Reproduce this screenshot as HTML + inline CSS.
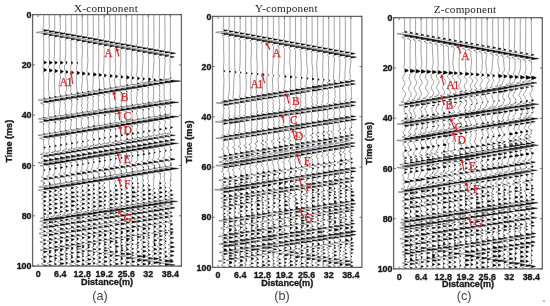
<!DOCTYPE html>
<html><head><meta charset="utf-8"><title>Seismic components</title><style>
html,body{margin:0;padding:0;background:#fff;}
svg{display:block;}

.ln{fill:none;stroke:#222;stroke-width:.42;}
.fl{fill:#000;stroke:none;}
.bx{fill:none;stroke:#666;stroke-width:1.3;}
.tk{fill:none;stroke:#555;stroke-width:.8;}
.tl{font-family:"Liberation Sans",sans-serif;font-weight:bold;font-size:8.9px;fill:#1a1a1a;stroke:#1a1a1a;stroke-width:.35;}
.al{font-family:"Liberation Sans",sans-serif;font-weight:bold;font-size:9.1px;fill:#1a1a1a;stroke:#1a1a1a;stroke-width:.35;}
.ti{font-family:"Liberation Serif",serif;font-size:11.2px;letter-spacing:.22px;fill:#222;}
.pl{font-family:"Liberation Sans",sans-serif;font-size:12.6px;fill:#444;}
.an{font-family:"Liberation Serif",serif;font-size:11.5px;fill:#d8282c;stroke:#d8282c;stroke-width:.25;}
.ar{fill:none;stroke:#d8282c;stroke-width:1.15;}
</style></head>
<body><svg width="550" height="306" viewBox="0 0 550 306">
<rect width="550" height="306" fill="#fff"/>
<rect x="543.3" y="300.4" width="1.3" height="1.3" fill="#666"/>
<defs><clipPath id="ca"><rect x="32.6" y="14.6" width="148.8" height="251.5"/></clipPath></defs>
<g clip-path="url(#ca)" class="tr"><path class="fl" d="M43.6 29.5l4.6 .8 .6 .2 0 .2-5.2 .8zM43.6 33.3l3 .4 1 .4-4 1.2zM43.6 60.7l2.6 1.2 .5 .6-.5 .6-2.6 1.2zM43.6 68.1l2.7 1.4 .4 .6-.7 .6-2.4 1.2zM43.6 97.5l.7 .2 .8 .8-1.5 .6zM43.6 100.7l6.4 .6 1.2 .2 .1 .2-7.7 .8zM43.6 104.3l.5 .4-.5 .4zM43.6 116.8l.7 .2 .3 .4-1 .6zM43.6 119.6l8.1 .8-1.8 .4-6.3 .6zM43.6 123.2l.5 .5-.5 1zM43.6 132.9l1.1 .8-1.1 .6zM43.6 135.9l7.8 .8 0 .2-1.2 .2-6.6 .6zM43.6 139.3l.6 .6-.6 .9zM43.6 146.6l1.2 .4 .7 .6-.6 .6-1.3 .4zM43.6 152.4l.7 .2 0 .2-.7 .4zM43.6 155l5.7 .8 0 .2-.8 .2-4.9 .6zM43.6 159.5l4.2 .8 .5 .2 0 .2-4.7 1zM43.6 163.3l5.7 .6 1.9 .4-7.6 1zM43.6 166.9l.3 .4-.3 .4zM43.6 169.1l1.4 .6 .4 .4-1.8 1.2zM43.6 177.8l3 .6 .9 .4-.8 .4-3.1 .6zM43.6 182l.7 .6 .2 .6-.2 .6-.7 .6zM43.6 187.6l7.5 .6 1.6 .4-8.8 .8-.3 .2zM43.6 191.3l2.5 .6 .7 .4-.7 .6-2.5 .6zM43.6 195.7l2.7 .8 .3 .4-.7 .4-2.3 .6zM43.6 200.1l2.6 1-.3 .4-2.3 .8zM43.6 204.5l1.5 .4 .9 .6-.8 .6-1.6 .4zM43.6 208.8l1.6 .4 .9 .6-.7 .6-1.8 .4zM43.6 213l1.9 .4 .8 .6-.8 .6-1.9 .4zM43.6 216.4l1.1 .2 .3 .4-1.4 .4zM43.6 218.8l6.8 .6 2 .4-8.8 .8zM43.6 222l2.6 .4 .5 .4-3.1 1zM43.6 226.1l3.6 .6 1 .4-4.6 1zM43.6 230.3l1.9 1-.3 .4-1.6 .6zM43.6 234.5l3.8 .8-.6 .4-3 .6-.2 .2zM43.6 239.1l2 .6 .5 .4-.7 .4-1.8 .5zM43.6 242.8l2.2 .6 .5 .4-2.7 1.4zM43.6 247.4l2.4 .8 .4 .4-2.8 .8zM43.6 250.8l3.7 .8 0 .2-2.7 1-1 .8zM43.6 255.8l3.1 1.2-3.1 1.1zM43.6 259.5l1.4 .6 0 .6 1.1 1-.5 .4-2 .6zM43.6 264.7l3.4 .8 .6 .4-4 .2zM49.1 30.5l5.2 1 0 .2-.8 .2-4.4 .6zM49.1 34.3l3.1 .4 .9 .4-4 1.2zM49.1 60.7l2.6 1.2 .7 .6-.2 .4-.5 .4-2.6 1.2zM49.1 68.7l2.5 1 .9 .8-.9 .8-2.5 1zM49.1 96.5l1.5 1-.4 .4-1.1 .4zM49.1 99.9l7.8 .8-1.9 .4-5.9 .6zM49.1 103.3l.6 .4-.6 .4zM49.1 116l.5 .6-.5 .4zM49.1 118.8l7.9 .8-1.7 .4-6.2 .6zM49.1 122.4l.4 .4-.4 1.1zM49.1 132.1l1.1 .8-1.1 .6zM49.1 135.1l7.9 .8-7.9 1zM49.1 138.5l.4 .6-.4 .6zM49.1 145.6l1.6 1.2-1.6 1zM49.1 151.4l.5 .4-.5 .4zM49.1 154l5.8 1-1.5 .4-4.3 .6zM49.1 158.5l4.8 1.2-.9 .4-3.9 .8zM49.1 162.5l7.6 .8-1.5 .4-6.1 .6zM49.1 165.9l.6 .4-.6 .4zM49.1 168.1l1.9 1-.2 .4-1.7 1zM49.1 174l.3 .4-.3 .4zM49.1 177l3.9 1-.6 .4-3.3 .8zM49.1 182.4l.6 .2 .4 .4 .4 1.4-.5 .4-.9 .2zM49.1 186.8l8 .6 1.3 .2 .1 .2-9.4 1zM49.1 190.4l1.9 .7 .5 .6-.7 .6-1.7 .4zM49.1 194.9l1.7 .4 .7 .6-.7 .6-1.7 .4zM49.1 199.1l1.6 .4 .8 .6-.7 .6-1.7 .4zM49.1 203.3l2 .6 .6 .4-.3 .4-2.3 .8zM49.1 207.6l2.2 .8 .5 .4-.5 .4-2.2 .8zM49.1 212l2.4 .8 .5 .4-.6 .4-2.3 .6zM49.1 218l7 .6 1.6 .4-8.6 .8zM49.1 221.2l3 .4 1.1 .4-.6 .4-3.5 .8zM49.1 225.3l5.6 1-.9 .4-4.7 .8zM49.1 229.7l2.3 .6 .6 .6-2.9 1zM49.1 233.7l3.8 .6 .5 .2 0 .2-4.3 1.2zM49.1 238.1l2.8 .8 .4 .4-.8 .4-2.4 .4zM49.1 241.8l2 .4 .4 .2 .1 .4-2.5 1.8zM49.1 246.8l3 1-.7 .4-2.2 .4-.1 .2zM49.1 250l2.5 .8-1.3 1 .7 1-1.9 .8zM49.1 255.4l2.5 .6 .8 .4-.4 .4-2.9 .8zM49.1 260.3l2.4 .6 .8 .6-3.2 1zM49.1 264.5l2.4 .6 .6 .6-.2 .2-2.8 .2zM54.6 31.5l5.2 1-.9 .4-4.3 .6zM54.6 35.3l3.2 .4 .8 .4-4 1.2zM54.6 60.9l2.4 1.2 .4 .6-.6 .6-2.2 1.2zM54.6 69.1l2.5 1.2 .7 .6-.4 .6-2.8 1.4zM54.6 95.7l.8 .2 .8 .8-.6 .4-1 .2zM54.6 98.9l6 .6 1.2 .2 .2 .2-7.4 .8zM54.6 115.2l.9 .2 .5 .4-.5 .4-.9 .2zM54.6 118l8.7 .8-.1 .2-1.3 .2-7.3 .6zM54.6 121.6l1.2 .2 .1 .4-.3 .6-1 .2zM54.6 131.3l.8 .4 .3 .4-1.1 .4zM54.6 134.1l6 .6 1.9 .4-7.7 .8-.2 .2zM54.6 137.7l.5 .6-.5 .6zM54.6 144.8l1.8 1-.1 .4-1.7 .8zM54.6 150.4l.8 .2 .1 .4-.9 .4zM54.6 153.2l5 .6 .9 .2 .1 .2-6 .8zM54.6 157.7l4.3 .8 .6 .4-4.9 1zM54.6 161.5l6.2 .6 1.7 .4-7.9 1zM54.6 165.1l1 .2 0 .2-1 .4zM54.6 167.3l1.5 .4 .8 .6-1.4 1-.9 .2zM54.6 176l3 .8 .4 .4-3.4 1zM54.6 183.4l.3 .4-.3 .4zM54.6 186l7.7 .8-7.7 1zM54.6 189.4l1.7 .6 .4 .4-.3 .5-1.8 .8zM54.6 193.9l2.2 .6 .7 .4-.3 .4-2.6 .8zM54.6 198.3l2.4 .6 .6 .4-.3 .4-2.7 .8zM54.6 202.7l2.4 .6 .6 .4-.3 .4-2.7 .8zM54.6 207.1l1.9 .5 1.2 .6-.9 .6-2.2 .6zM54.6 211.4l2.1 .6 .8 .6-1 .6-1.9 .4zM54.6 217.2l7.2 .6 2.2 .4-9.4 1zM54.6 220.4l2.6 .8-.5 .4-2.1 .8zM54.6 224.5l3.3 .6 .8 .4-4.1 1zM54.6 228.7l1.3 .6 .3 .4-1.6 1zM54.6 232.7l3 .6 .8 .4-3.8 1zM54.6 237.3l2.4 1-.5 .4-1.9 .6zM54.6 241l2.2 .6 1 .6-.8 .6-2.4 .8zM54.6 245.8l3 .8 .3 .4-3.3 .8zM54.6 249l3.8 .8 0 .2-2.8 1 .2 1.2-1.2 .4zM54.6 254.4l1.4 .4 .8 .6-.4 .4-1.8 .4zM54.6 257.4l1.9 .5 .6 .4-1.8 1 0 .4 .4 .8-1.1 .6zM54.6 262.7l1.6 1 .3 .4-.3 .4-1.6 .8zM60.2 32.5l5.2 1-1.1 .4-4.1 .6zM60.2 36.3l3.2 .4 .7 .4-3.9 1zM60.2 60.9l2.4 1.2 .5 .6-.5 .6-2.4 1.2zM60.2 69.7l2.6 1.2 .6 .6-.9 .8-2.3 1.1zM60.2 94.9l.9 .6 .3 .4-1.2 .6zM60.2 98.1l7.5 .8-1.7 .4-5.8 .6zM60.2 101.5l.5 .4-.1 .4-.4 .2zM60.2 114.6l.4 .4-.4 .4zM60.2 117.2l7.8 .8 0 .2-1.1 .2-6.7 .6zM60.2 120.8l.5 .2 .2 .4-.3 .6-.4 .2zM60.2 130.5l.9 .6-.9 .6zM60.2 133.3l7.9 .8 0 .2-1.2 .2-6.7 .6zM60.2 136.9l1 .4-.4 .8-.6 .2zM60.2 143.8l1.3 .6 .6 .6-.8 .6-1.1 .4zM60.2 149.4l.5 .6-.5 .4zM60.2 152.4l5.8 .8-1.3 .4-4.5 .6zM60.2 156.6l5 1.3-.8 .4-4.2 .8zM60.2 160.7l8 .8-1.6 .4-6.4 .6zM60.2 164.1l1.2 .4-.2 .4-1 .2zM60.2 166.5l1.3 .2 .9 .4 .3 .4-1.5 1-1 .2zM60.2 175.2l4.3 1-.5 .4-3.8 .8zM60.2 179.6l.3 .2 .2 .6-.5 1.4zM60.2 185l6.8 .6 1.9 .4-8.4 .8-.3 .2zM60.2 188.8l1.8 1-.2 .4-1.6 .9zM60.2 193.5l1.8 .6 .2 .4-2 1zM60.2 197.7l1.9 .6 .5 .4-.3 .4-2.1 .8zM60.2 201.9l1.8 .4 1 .6-.3 .4-.9 .4-1.6 .2zM60.2 206.1l1.7 .4 .8 .6-.7 .7-1.8 .4zM60.2 210.4l1.8 .6 .5 .4-.3 .4-2 .8zM60.2 214l.9 .6-.9 .4zM60.2 216.4l7.6 1-7.6 .8zM60.2 219.4l0 .2 2.4 .4 .5 .4-2.9 .8 0 .2zM60.2 223.4l4.7 .9 .6 .2 0 .2-5.3 1zM60.2 227.7l2.8 .8 .6 .4-.9 .6-2.5 .6zM60.2 231.9l3.9 .6 1.1 .4-.9 .4-4.1 .8zM60.2 236.5l3.3 1-.4 .4-2.9 .6zM60.2 240.1l2 .6 .7 .5-2.2 2-.5 .2zM60.2 245.4l3.5 .8-.7 .4-2.8 .4zM60.2 248.4l2.7 .4 .6 .4-1.4 .8-.3 1-.2 .2-1.4 .4zM60.2 253.6l3.5 1-.6 .4-2.9 .6zM60.2 257l.6 .4-.1 .9 2.1 .8 .5 .4-3.1 1zM60.2 262.5l3.5 .8 .5 .4-1.5 .6-2.5 .4zM65.7 33.3l5.2 1.2-1.2 .4-4 .6zM65.7 37.1l3.3 .6 .6 .2 0 .2-3.9 1zM65.7 61.1l1.2 1 .4 .6-.3 .6-1.3 1zM65.7 70.3l2.1 1.2 .4 .6-.7 .6-1.8 1.1zM65.7 93.9l1.1 1-1.1 .6zM65.7 97.1l5.4 .6 1.7 .4-7.1 .8zM65.7 113.6l1.1 .6-.4 .4-.7 .2zM65.7 116.4l6.8 .6 1.3 .2 0 .2-8.1 .8zM65.7 120l.5 .6-.5 1zM65.7 129.5l.8 .8-.8 .6zM65.7 132.5l8 .8-8 1zM65.7 135.9l.6 .6-.6 1zM65.7 143l1.5 .8 .2 .4-1.7 1zM65.7 148.6l.6 .2 .1 .4-.7 .4zM65.7 151.4l4.6 .6 1.1 .4-5.7 1zM65.7 155.8l3.8 .8 .8 .4-4.6 1.1zM65.7 159.7l5.7 .6 1.7 .4-7.1 .8-.3 .2zM65.7 163.3l.6 .4-.6 .4zM65.7 165.5l1.9 1-.5 .6-1.4 .6zM65.7 174.4l3.7 1-.5 .4-3.2 .8zM65.7 180.8l1.2 1.2-1.2 .6zM65.7 184.2l6.5 .6 1.5 .4-7.8 .8-.2 .2zM65.7 188l.7 .4 .3 .6-1 1zM65.7 192.3l1.9 1-.3 .4-1.6 .6zM65.7 196.5l2.1 1-.2 .4-1.9 .8zM65.7 200.7l2.4 1.2-.4 .4-2 .6zM65.7 205.1l2.3 .8 .5 .4-.5 .4-2.3 .6zM65.7 209.6l2.6 .8 .5 .4-.6 .4-2.5 .6zM65.7 215.6l6.3 .6 2 .4-8.3 .8zM65.7 218.8l3 .8-.5 .4-2.5 .8zM65.7 222.8l3.5 .6 1 .4-4.5 1.1zM65.7 227.3l2 1-.2 .4-1.8 .6zM65.7 231.1l2.8 .6 .7 .4-3.5 1.2zM65.7 235.7l1.6 .4 1.1 .6-.3 .4-2.4 .6zM65.7 239.1l2.5 .6 .7 .6-2.3 1.5-.9 .2zM65.7 244l2.5 .6 .7 .4-.7 .4-2.5 .4zM65.7 247.4l2.6 .4 .9 .4-2.8 1-.1 .4 .6 .8-1.2 .8zM65.7 253l1.9 .6 .3 .4-2.2 .8zM65.7 255.6l1.3 .6-.3 .4-1 .4zM65.7 257.9l1.6 .6 .5 .4-2.1 1.2zM65.7 261.9l1.6 .6 .5 .6-2.1 1.4zM71.2 34.3l5.2 1.2-1.3 .4-3.9 .4zM71.2 38.1l3.9 .8-.5 .4-3.4 .9zM71.2 61.1l.5 .2 1.1 1.4-.3 .8-1.3 1zM71.2 70.7l2.2 1.2 .4 .6-.6 .6-2 1.1zM71.2 93.1l1.1 1-1.1 .6zM71.2 96.3l7.5 .8-1.5 .4-6 .6zM71.2 99.7l.8 .2 .2 .4-1 .4zM71.2 112.8l.5 .6-.5 .6zM71.2 115.6l6.2 .6 1.7 .4-7.9 .8zM71.2 119.2l.6 .6-.6 1zM71.2 129.1l.2 .2-.2 .4zM71.2 131.5l.3 .2 6.7 .6 .3 .2-7.3 .8zM71.2 135.3l.2 .4-.2 .4zM71.2 142l1.9 1.2-.6 .6-1.3 .4zM71.2 147.6l.8 .2 .2 .4-.3 .4-.7 .2zM71.2 150.6l6 .8-1.2 .4-4.8 .6zM71.2 155l4.7 1-.8 .4-3.9 .9zM71.2 158.9l7.4 .8-1.7 .4-5.7 .6zM71.2 162.3l.4 .4-.4 .6zM71.2 164.7l1.5 1-1.5 1.2zM71.2 173.3l3.1 .9 .7 .4-.8 .4-3 .6zM71.2 177.6l.6 .2 .3 .4-.4 .6-.5 .2zM71.2 180.6l.7 .2 .4 .4-.1 .2-1 .2zM71.2 183.2l8.5 1-2 .4-6.5 .6zM71.2 186.8l2 .6 .5 .6-.7 .6-1.8 .6zM71.2 191.5l2.1 .4 1.3 .6 0 .2-.8 .4-2.6 .6zM71.2 195.9l2.4 .4 1.3 .6-.9 .6-2.8 .6zM71.2 200.3l1.9 .2 1.4 .4 .5 .4-.9 .6-2.9 .6zM71.2 204.5l2.6 .6 .8 .6-1.1 .6-2.3 .6zM71.2 209l1.6 .4 1 .6-.8 .6-1.8 .6zM71.2 212.6l.6 .2 0 .2-.6 .2zM71.2 214.8l8.6 1-8.6 1zM71.2 218l1.6 .4 .5 .4-2.1 .8zM71.2 221.8l4.4 1-1 .4-3.4 .6zM71.2 225.9l2 .8 .5 .4-.2 .4-2.3 .8zM71.2 230.1l4.8 1-.7 .4-4.1 .8zM71.2 234.5l2.9 1 .4 .4-3.3 1zM71.2 238.5l2.2 .4 .9 .6-1.6 1-1.5 .7zM71.2 243.4l3 .8 .5 .4-.9 .4-2.6 .4zM71.2 247l1.1 .2 .8 .4-.2 1.6-.5 .4-1.2 .4zM71.2 251.8l2.6 1-.4 .4-2.2 .6zM71.2 255l1.3 .6 .1 .4-.4 .6 .8 1-.9 .7-.9 .2zM71.2 260.5l2.6 .8 .6 .4-.5 .4-2.7 .8zM71.2 264.9l3.6 1-3.6 .2zM76.7 35.3l5.2 1.2-1.4 .4-3.8 .4zM76.7 39.1l3.9 .9-.5 .4-3.4 .8zM76.7 61.7l.7 .2 .3 1-.3 1-.7 .2zM76.7 71.1l2.6 1.2 .5 .6-.8 .9-2.3 1zM76.7 92.3l1.1 .2 .9 .6-.3 .4-1.7 .2zM76.7 95.3l6.7 .6 1.8 .4-8.5 1zM76.7 98.9l1.4 .2 0 .2-.2 .4-1.2 .2zM76.7 112l.7 .6-.7 .6zM76.7 114.8l6.1 .6 1.8 .4-7.8 .8-.1 .2zM76.7 118.4l.4 .6-.4 .8zM76.7 127.9l1 .6-1 .6zM76.7 130.7l8.1 .8-.1 .2-1.3 .2-6.7 .6zM76.7 134.3l.5 .4-.5 1zM76.7 141.4l1.4 1-1.4 1zM76.7 146.6l.5 .8-.5 .4zM76.7 149.6l4.3 .6 1.4 .4-5.7 1zM76.7 154l3.7 .8 .9 .4-1.2 .4-3.4 .6zM76.7 157.9l5.8 .6 1.6 .4-7.4 .8zM76.7 161.5l.8 .4-.3 .4-.5 .2zM76.7 163.9l1.4 .4 .7 .6-1.4 1-.7 .2zM76.7 172.5l3.8 .8 .6 .4-1 .5-3.4 .6zM76.7 177.2l.6 .4-.3 1-.3 .2zM76.7 179l.6 1.2-.6 .6zM76.7 182.4l8.3 1-8.3 1zM76.7 186.6l1 1-.3 .4-.7 .4zM76.7 190.9l1.9 1-.2 .4-1.7 .8zM76.7 195.1l1.9 1-.2 .4-1.7 .8zM76.7 199.3l1.6 1-.3 .4-1.3 .6zM76.7 203.5l1.5 .8 .3 .4-1.8 1zM76.7 207.8l2.2 .8 .4 .4-1 .6-1.6 .4zM76.7 211.6l1.5 .6-.4 .4-1.1 .2zM76.7 214l8 1-2.4 .4-5.6 .4zM76.7 217l3.1 .6 .5 .2 0 .2-3.6 1zM76.7 221l5.9 1-.9 .4-5 .8zM76.7 225.5l2.2 .4 1.5 .6-.3 .4-.6 .2-2.8 .6zM76.7 229.5l3.8 .6 .9 .4-.9 .4-3.8 .8zM76.7 234.1l3.1 1-.5 .4-2.6 .6zM76.7 237.7l1.3 .4 .6 .6-.8 1.2-1.1 .6zM76.7 242.6l2.9 1-.7 .4-2.2 .4zM76.7 245.6l4.5 .8-.9 .4-3.6 .6zM76.7 248.4l1.2 .2 .6 .4-.6 .6-1.2 .2zM76.7 251.4l1.8 .2 1.5 .6 0 .2-.9 .4-2.4 .4zM76.7 254.4l1.1 .2 .1 .2 0 .2-1.2 .2zM76.7 255.8l1.1 .2 2.4 1-1.1 .6-2.4 .5zM76.7 260.1l2.5 .6 1 .6-1 .6-2.5 .6zM76.7 264.5l2.6 .8 .4 .4 0 .2-3 .2zM82.2 36.3l4.2 .8 1 .4-1.5 .4-3.7 .4zM82.2 40.2l4 .8-.6 .4-3.4 .8zM82.2 71.5l2.7 1.4 .4 .7-.6 .6-2.5 1.2zM82.2 91.5l1 .8-1 .6zM82.2 94.5l7.3 .8-1.4 .4-5.9 .6zM82.2 97.9l.4 .6-.4 .6zM82.2 111.2l.8 .8-.8 .4zM82.2 114l6.1 .6 1.9 .4-7.7 .8-.3 .2zM82.2 117.8l.2 .4-.2 .4zM82.2 127.1l.5 .6-.5 .4zM82.2 129.9l5.4 .4 2.5 .4-7.9 1zM82.2 133.3l.4 .6-.4 1zM82.2 140.4l1.6 1-.1 .4-1.5 .8zM82.2 145.6l.4 .8-.4 .6zM82.2 148.8l5.4 .8-1 .4-4.4 .6zM82.2 153.2l4.5 1-.6 .4-3.9 .8zM82.2 157l7.6 .9-1.8 .4-5.8 .6zM82.2 160.5l.7 .4-.2 .4-.5 .2zM82.2 162.9l1.6 1-.2 .4-1.4 .8zM82.2 171.7l3.6 .8 .4 .4-4 1.1zM82.2 178.6l.9 .2 .8 .6-.5 .4-1.2 .2zM82.2 181.6l6.2 .6 1.3 .2 .2 .2-7.7 .8zM82.2 185.2l.6 .4 .1 .4-.2 .6-.5 .6zM82.2 189.6l1.5 .8 .2 .5-1.7 1zM82.2 193.9l2.1 .8 .5 .4-.4 .4-2.2 .8zM82.2 198.3l2.3 .8 .4 .4-.5 .4-2.2 .6zM82.2 202.7l2.3 .8 .4 .4-.6 .4-2.1 .6zM82.2 207.1l2.3 .9 .4 .4-.7 .4-2 .6zM82.2 213.2l8.1 1-8.1 .8zM82.2 216.4l2.3 .8-.5 .4-1.8 .6zM82.2 220.4l3.7 .8-.7 .4-3 .6zM82.2 224.7l1.6 .8 .2 .4-.5 .4-1.3 .4zM82.2 228.5l3.2 .6 .8 .4-.8 .4-3.2 .6zM82.2 232.9l2.3 1.2-.5 .4-1.8 .6zM82.2 236.7l2 .6 .3 .4-2.3 1.2zM82.2 241.8l1.8 .6 .4 .4-2.2 .6zM82.2 245l1.6 .4 .6 .4-.9 .6 .6 1-1.9 .8zM82.2 250l2.1 .8 .5 .4-2.6 1zM82.2 253.2l1.7 .8-1.7 .8zM82.2 255.2l1.8 1-.4 .4-1.4 .4zM82.2 259.1l1.6 .6 .6 .6-.7 .6-1.5 .4zM82.2 263.1l1.7 .8 .4 .6-.8 .6-1.3 .4zM87.7 37.3l4.3 .8 .9 .4-5.2 .8zM87.7 41.2l4 .8-.7 .4-3.3 .8zM87.7 72.3l1.9 1.1 .4 .6-.5 .6-1.8 1zM87.7 90.5l1.2 .8-.3 .4-.9 .2zM87.7 93.5l7.5 1-7.5 1zM87.7 97.1l.7 .4-.7 .8zM87.7 110.6l.3 .6-.3 .2zM87.7 113.4l5.4 .4 2.2 .4-7.3 .8-.3 .2zM87.7 116.8l.6 .4 .1 .4-.2 .6-.5 .2zM87.7 126.1l1 .2 .4 .4-.4 .4-1 .2zM87.7 128.9l6.6 .6 1.6 .4-8.2 .8zM87.7 132.7l.2 .4-.2 .4zM87.7 139.7l1.1 .9-1.1 .8zM87.7 144.6l.5 1-.5 .4zM87.7 147.8l5.8 1-5.8 1zM87.7 152.2l3.8 .8 .9 .4-1 .4-3.7 .6zM87.7 156l6 .6 1.4 .4-7.4 .9zM87.7 159.7l.6 .4-.6 .6zM87.7 162.1l1.4 .6 .4 .4-1.8 1.2zM87.7 170.9l3 .6 .9 .4-.7 .4-3.2 .6zM87.7 175.2l.4 .2 .2 .4-.6 .8zM87.7 178l.5 .6-.5 .4zM87.7 180.8l8 .8-1.9 .4-6.1 .6zM87.7 184.4l1.4 .6 .3 .6-.6 .6-1.1 .4zM87.7 189l2 .6 .6 .4-.6 .6-2 .7zM87.7 193.5l2 .4 1.1 .6-.4 .4-2.7 .8zM87.7 197.9l1.7 .4 .8 .6-2.5 1.2zM87.7 202.1l2 1-.3 .4-1.7 .8zM87.7 206.3l1.7 .8 .3 .5-.5 .4-1.5 .6zM87.7 210l.8 .2 .4 .4-1.2 .4zM87.7 212.6l8.6 .8-2 .4-6.6 .6zM87.7 215.6l2.5 .6-.4 .4-2.1 .6zM87.7 219.2l4.3 .8 .5 .2 .1 .2-4.9 1zM87.7 223.4l2.4 .9 .4 .4-.4 .4-2.4 .6zM87.7 227.7l3.6 .6 1.1 .4-.9 .4-3.8 .8zM87.7 232.3l3.4 1-.4 .4-3 .6zM87.7 236.1l1.8 .4 1.1 .6-.8 .8-2.1 1zM87.7 241l2.8 .6 .7 .4-1 .4-2.5 .4zM87.7 244l2.7 .8-1.6 .8-.4 .4 1.2 1-.3 .8-1.6 .6zM87.7 250l2.8 .8-.5 .4-2.3 .6zM87.7 252.6l.5 .2 .2 .4-.7 .4zM87.7 254l2.6 1.2-.5 .4-2.1 .6zM87.7 258.3l2.9 .8 .4 .4-.8 .4-2.5 .6zM87.7 262.7l3.1 .8 .3 .4-3.4 1zM93.2 38.3l4.4 .8 .8 .4-5.2 .9zM93.2 42.2l4 .8-.8 .4-3.2 .8zM93.2 72.5l2.6 1.3 .6 .6-.1 .4-.5 .4-1.6 .8-1 .2zM93.2 89.6l.9 .9-.9 .6zM93.2 92.7l7.2 .8-.1 .2-1.2 .2-5.9 .6zM93.2 96.1l.5 .6-.5 .6zM93.2 110l.3 .4-.3 .4zM93.2 112.6l7.5 .8-7.2 .8-.3 .2zM93.2 116l.6 .8-.2 .6-.4 .2zM93.2 125.3l1.5 .2 .3 .4-.7 .4-1.1 .2zM93.2 128.1l8.5 .8-1.6 .4-6.9 .6zM93.2 131.7l.5 .4-.5 1zM93.2 138.5l1.3 .8 .3 .4-1.6 1.1zM93.2 143.6l.8 1.2-.8 .4zM93.2 147l5 .6 .8 .2 0 .2-5.8 .8zM93.2 151.4l4.8 1 0 .2-.5 .2-4.3 .8zM93.2 155.2l7.7 .8-1.8 .4-5.9 .6zM93.2 158.7l.6 .4-.6 .8zM93.2 161.1l1.4 1-.2 .4-1.2 .8zM93.2 170.1l2.8 .6 .8 .4-.7 .4-2.9 .6zM93.2 174.8l.5 .2 0 .2-.5 .2zM93.2 176.6l.7 .2 .7 .8-.5 .4-.9 .2zM93.2 179.8l8.6 1-2.1 .4-6.5 .6zM93.2 184.2l.8 .2 .5 1-.6 .8-.7 .2zM93.2 188.4l1 .4 .5 .6-.2 .4-1.3 .6zM93.2 192.5l1.7 .8 .2 .4-1.9 1zM93.2 196.7l1.7 .8 .3 .4-2 1zM93.2 200.9l2 .8 .4 .4-.5 .4-1.9 .6zM93.2 205.3l2.1 .6 .8 .6-.7 .4-2.2 .7zM93.2 209.4l1 .2 .5 .4-1.5 .6zM93.2 211.8l7.7 .8-7.7 1zM93.2 214.6l2.9 .6 .5 .4-3.4 1zM93.2 218.6l4.2 .6 1.1 .4-1.2 .4-4.1 .6zM93.2 223l2.2 .6 .8 .7-3 1zM93.2 227.1l2.7 .4 1.1 .4-.4 .4-3.4 1zM93.2 231.7l2.2 .6 .5 .4-.5 .4-2.2 .6zM93.2 235.1l1.8 .4 .3 .6-.9 .8-.4 .8-.8 .4zM93.2 240.1l2.3 .9-.4 .4-1.9 .4zM93.2 243.2l2.2 .4 .7 .4-2.9 1.2zM93.2 245.2l.9 1-.9 .6zM93.2 248.2l.1 .2 2.9 .8 0 .2-3 .8zM93.2 251.6l2.1 .6 0 .2-2.1 .8zM93.2 253.6l1.4 1-1.4 .8zM93.2 257.6l1.8 .9 .2 .4-2 1zM93.2 262.1l2 1-.2 .4-1.8 1zM98.7 39.3l4.5 .9 .7 .4-5.2 .8zM98.7 43.2l2.8 .4 1.2 .4-4 1.2zM98.7 73.1l2.2 1.1 .8 .8-.7 .8-2.3 1zM98.7 88.6l1.1 .2 .7 .6-.3 .4-1.5 .2zM98.7 91.7l7.9 1-7.9 1zM98.7 95.3l.7 .4-.7 .8zM98.7 108.8l.9 .8-.9 .4zM98.7 111.8l8.2 .8-8.2 1zM98.7 115.2l.6 .6-.6 1zM98.7 124.3l.7 .8-.7 .4zM98.7 127.1l.3 .2 5.4 .4 2.4 .4-8.1 1zM98.7 130.9l.3 .4-.3 1zM98.7 137.5l1.9 1.2-.2 .4-1.7 .8zM98.7 142.8l.4 .2 .4 .8-.8 .6zM98.7 146.2l3.9 .4 1.6 .4-5.5 1zM98.7 150.4l4.7 1.2-1 .4-3.7 .6zM98.7 154.2l6.6 .6 1.5 .4-8.1 .8zM98.7 157.9l1.4 .2 .1 .2-.2 .4-1.3 .2zM98.7 160.3l1.2 .2 1.1 .8-1.4 1-.9 .2zM98.7 169.1l3.5 .8 .5 .4-4 1zM98.7 173.3l.5 .2 .2 .5-.2 .4-.5 .2zM98.7 176.2l.9 .2 .5 .4-.4 .4-1 .2zM98.7 179l6.5 .6 1.2 .2 0 .2-7.7 .8zM98.7 182.4l1 .2 .4 .6-.4 .8-1 .2zM98.7 187l.9 .2 1.1 1-.6 .6-1.4 .4zM98.7 191.5l2.5 .8 .4 .4-1 .6-1.9 .4zM98.7 195.9l2.9 .8 .5 .4-1.2 .6-2.2 .4zM98.7 200.3l2.8 .6 1 .6-1.2 .6-2.6 .4zM98.7 204.7l2.7 .6 .7 .6-1.3 .6-2.1 .4zM98.7 208.8l.5 .4-.5 .2zM98.7 210.8l8.4 1-8.4 1zM98.7 214l2.3 .8-2.3 1zM98.7 217.8l3.3 .6 .6 .4-3.7 .8-.2 .2zM98.7 222l1.4 .6 .4 .4-.3 .4-1.5 .6zM98.7 225.9l4 1-.6 .4-3.4 .8zM98.7 230.3l2.5 1 .3 .4-2.8 .8zM98.7 234.1l2.5 .6 .7 .6-3.2 1.6zM98.7 238.9l3.2 1.2-.8 .4-2.4 .5zM98.7 242.4l2.5 .8-1.9 1 .4 1-1 .6zM98.7 248l2.1 .8 .3 .4-.5 .4-1.9 .6zM98.7 252.4l3.3 1-.5 .4-2.8 .8zM98.7 256.4l2.2 .8 .3 .4-2.5 1.3zM98.7 260.7l2.4 1.2-.5 .4-1.9 .6zM98.7 265.1l2.5 .8-2.5 .2zM104.2 40.4l4.6 .8 .6 .2 0 .2-5.2 .8zM104.2 44.2l2.9 .4 1.1 .4-4 1.2zM104.2 73.8l1.8 1 .5 .6-.4 .6-1.9 1.2zM104.2 87.8l1 .8-1 .6zM104.2 90.9l7.4 .8 0 .2-1.2 .2-6.2 .6zM104.2 94.3l.6 .6-.6 .8zM104.2 108.2l1.3 .2 .4 .4-1.7 .6zM104.2 111l6.2 .4 2.7 .4-1.9 .4-7 .6zM104.2 114.6l1.2 .2 .1 .2-.4 .8-.9 .2zM104.2 123.4l1 .7 0 .2-1 .4zM104.2 126.3l7 .6 1.6 .4-8.6 .8zM104.2 129.9l.6 .2 .3 .4-.3 .8-.6 .2zM104.2 136.7l1.6 1.2-1.6 1zM104.2 142.2l.4 .8-.4 .4zM104.2 145.2l4.5 .6 .9 .2 .1 .2-5.5 .8zM104.2 149.6l4.2 .8 .6 .4-4.8 1zM104.2 153.4l5.4 .4 2.5 .4-2 .4-5.9 .6zM104.2 156.8l.6 .2 .2 .5-.2 .4-.6 .2zM104.2 159.5l1.2 .4 .6 .6-.7 .6-1.1 .4zM104.2 168.3l4.4 1-.4 .4-4 .8zM104.2 172.5l1.1 .2 .3 .6-.3 .7-1.1 .2zM104.2 175.4l1.3 .2 .1 .4-1.4 .4zM104.2 178.2l6 .4 2.5 .4-2 .4-6.5 .6zM104.2 182l.5 1.2-.5 .8zM104.2 186.8l1.1 1-1.1 .8zM104.2 191.1l2.4 1-.3 .4-2.1 .8zM104.2 195.3l2.3 1-.2 .4-2.1 .8zM104.2 199.7l1.5 .6 .2 .4-1.7 1zM104.2 203.9l1.4 .6 .3 .4-1.7 1zM104.2 207.6l1.2 .4 .2 .4-1.4 .4zM104.2 210.2l8.1 .8-1.6 .4-6.5 .6zM104.2 213.2l2.7 .6-.6 .4-2.1 .6zM104.2 216.8l5.2 1-1 .4-4.2 .6zM104.2 221l.1 .2 2.3 .6 .6 .4-.5 .4-2.5 .6zM104.2 225.3l3.6 .6 1 .4-1 .4-3.6 .8zM104.2 229.9l3.1 .8 .4 .4-3.5 .8zM104.2 233.5l1.8 .8 .4 .6-.1 .6-.4 .4-1.7 .6zM104.2 238.5l2.4 .6 .6 .4-3 .8zM104.2 241.4l2.6 .8-.7 .4-1.9 .4zM104.2 243.6l2.2 .8-.3 .4-1.9 .6zM104.2 247.2l1.8 .4 .7 .4-.5 .4-2 .4zM104.2 249.8l3.5 .8-.5 .4-3 .6zM104.2 253l1.4 .4 .2 .4-1.6 .8zM104.2 256l1.8 .4 1.3 .6-.4 .4-2.7 .9zM104.2 260.3l2.2 .6 .9 .6-.6 .4-2.5 .8zM104.2 264.7l2.3 .6 .7 .6-3 .2zM109.8 41.4l5.1 1 0 .2-.7 .2-4.4 .6zM109.8 45.2l2.9 .4 1 .4-3.9 1.2zM109.8 74.2l2.1 1 .6 .8-.6 .6-2.1 1.2zM109.8 86.8l.6 .2 .7 .8-1.3 .4zM109.8 90l5.4 .5 2.2 .4-7.6 1zM109.8 93.5l.4 .6-.4 .6zM109.8 107.4l.7 .2 .4 .4-1.1 .6zM109.8 110.2l8.1 .8-1.7 .4-6.4 .6zM109.8 113.8l.5 .4-.2 .8-.3 .2zM109.8 122.6l.8 .2 .4 .4-.1 .2-1.1 .3zM109.8 125.5l8.8 .8-1.7 .4-7.1 .6zM109.8 129.1l.9 .2 .1 .4-.2 .8-.8 .2zM109.8 135.9l1.4 .6 .5 .6-1.9 1zM109.8 141l.5 1-.5 .6zM109.8 144.4l5.3 .8-1.3 .4-4 .6zM109.8 148.8l4.4 1-.9 .4-3.5 .6zM109.8 152.4l6.2 .6 1.2 .2 .2 .2-7.6 .8zM109.8 156l.7 .4-.3 .6-.4 .3zM109.8 158.5l1.8 1-.2 .4-1.6 .8zM109.8 167.5l2.7 .4 1.8 .6-1.5 .6-3 .4zM109.8 171.9l.9 .2 0 .2-.1 .4-.8 .2zM109.8 174.2l.8 .2 .6 .6-.4 .4-1 .2zM109.8 177.2l8 1-8 1zM109.8 186.2l.2 .8-.2 .6zM109.8 190l1.2 .6 .3 .5-.2 .4-1.3 .6zM109.8 194.1l2.2 .8 .4 .4-.9 .6-1.7 .4zM109.8 198.5l2.3 .6 .8 .6-1.3 .6-1.8 .4zM109.8 202.9l2.1 .4 1.4 .6 0 .2-.8 .4-2.7 .6zM109.8 206.9l1.5 .2 .7 .5-.9 .4-1.3 .2zM109.8 209.4l8.4 .8-2 .4-6.4 .6zM109.8 212.4l3.5 .4 .6 .4-4.1 1zM109.8 216.2l3.5 .4 1.6 .4-.6 .4-4.5 .8zM109.8 220.6l1.5 .6 .5 .4-.4 .4-1.6 .6zM109.8 224.5l2.8 .8-.4 .4-2.4 .8zM109.8 229.1l1.8 1-.4 .4-1.4 .4zM109.8 232.3l1.9 .6 .5 .4-.2 .4-1.5 1-.7 .2zM109.8 237.3l2.8 1-.4 .4-2.4 .4zM109.8 240.5l2.6 .5 1.1 .4-2.9 1-.2 .4 .3 .8-.9 .6zM109.8 246.2l1.6 .6 .3 .4-1.9 .8zM109.8 250.8l3.7 1-1 .4-2.7 .4zM109.8 254.6l2.1 .6 .6 .4-.3 .4-2.4 1zM109.8 259.3l1.8 1.2-.3 .4-1.5 .6zM109.8 263.5l1.2 .6 .7 .6-.6 .6-1.3 .4zM115.3 42.4l5.2 1-.9 .4-4.3 .6zM115.3 46.2l3.1 .4 .9 .4-4 1.2zM115.3 74.6l2 1.2 .4 .6-.5 .6-1.9 1.2zM115.3 86l.9 .8-.9 .6zM115.3 89l6.2 .6 1.2 .2 .1 .2-7.5 .9zM115.3 92.7l.6 .4-.2 .6-.4 .2zM115.3 106.5l1.1 .2 .4 .5-.5 .4-1 .2zM115.3 109.4l8.7 .8-1.6 .4-7.1 .6zM115.3 113l1 .4-.4 .8-.6 .2zM115.3 121.6l.6 .8-.6 .4zM115.3 124.5l8.3 1-8.3 1zM115.3 128.3l.6 .2 .1 .4-.1 .6-.6 .2zM115.3 134.9l.8 .2 1.6 1-.6 .6-1.8 .6zM115.3 139.9l.7 .2 .5 1.1-1.2 .6zM115.3 143.4l4.5 .6 1.1 .4-5.6 1zM115.3 147.8l3.8 .8 .6 .4-4.4 1zM115.3 151.6l5.2 .4 2.4 .4-7.6 1zM115.3 155l.6 .6-.6 .6zM115.3 157.7l1.2 .6 .3 .4-.3 .4-1.2 .6zM115.3 166.5l3 .8 .8 .4-.9 .4-2.9 .6zM115.3 176.4l6.8 .8 0 .2-1.2 .2-5.6 .6zM115.3 180l.4 .4-.4 1zM115.3 184.6l1.1 .6 .4 .6-.3 .4-1.2 .6zM115.3 189l2.3 .8 .4 .4-1 .7-1.7 .4zM115.3 193.5l2.8 .8 .4 .4-.6 .4-2.6 .6zM115.3 197.9l2.4 .8 .3 .4-.6 .4-2.1 .6zM115.3 202.3l2.2 1-.2 .4-2 .8zM115.3 206.1l.7 .6-.7 .4zM115.3 208.6l8.6 .8-1.8 .4-6.8 .6zM115.3 211.6l1.9 .4 .6 .4-2.5 1zM115.3 215.2l3.4 .6 1 .4-4.4 1zM115.3 219.4l1.8 1-.2 .4-1.6 .6zM115.3 223.4l3.2 .6 .9 .5-1 .4-3.1 .6 0 .2zM115.3 227.9l3.1 1.2-.5 .4-2.6 .6zM115.3 231.7l2 .6 1 .6-.7 .6-2.3 1zM115.3 236.7l2.7 .6 .7 .4-3.4 .8zM115.3 239.9l1.9 .6-.9 .7-.2 .4 1.7 1-.4 .4-2.1 .6zM115.3 245.4l2.9 .6 .8 .4-1.3 .6-2.4 .4zM115.3 248.4l1.5 .4-.3 .4-1.2 .2zM115.3 250.2l1.6 .4 .8 .4 .2 .4-.6 1-2 .8zM115.3 254.8l3.4 .8 0 .2-.5 .2-2.9 .6 0 .2zM115.3 258.7l2.3 .6 .4 .4-2.7 1zM115.3 262.9l2.7 .6 .8 .4-.4 .4-3.1 .8zM120.8 43.4l5.2 1-1 .4-4.2 .6zM120.8 47.2l3 .4 .8 .4-3.8 1zM120.8 75.2l2.1 1.2 .3 .6-.6 .6-1.8 1zM120.8 85.2l.6 .8-.6 .4zM120.8 88.2l7.5 .8-1.9 .4-5.6 .6zM120.8 91.7l.8 .6-.2 .6-.6 .2zM120.8 105.7l.9 .2 .4 .4-1.3 .7zM120.8 108.6l8.2 .8-.1 .2-1.3 .2-6.8 .6zM120.8 112.2l.5 .6-.5 .8zM120.8 120.8l.8 .2 .4 .4-.4 .4-.8 .2zM120.8 123.7l7.3 .6 1.3 .2 .2 .2-8.8 .8zM120.8 127.5l.7 .2 .1 .2-.3 .8-.5 .2zM120.8 134.1l1.7 .8 .3 .4-.3 .4-1.7 .6zM120.8 139.1l.9 1-.3 .5-.6 .2zM120.8 142.6l5.3 .8-1.1 .4-4.2 .6zM120.8 147l4.5 1-.9 .4-3.6 .6zM120.8 150.6l6.4 .6 1.2 .2 0 .2-7.6 .8zM120.8 154.2l.6 .4-.3 .6-.3 .2zM120.8 156.6l1.4 .9 .2 .4-1.6 1zM120.8 165.7l3.7 .8 .6 .4-1 .4-3.3 .6zM120.8 170.1l.7 .2 .2 .4-.3 .6-.6 .2zM120.8 172.5l.7 .2 .3 .4-.3 .4-.7 .2zM120.8 175.6l5.8 .4 2.6 .4-1.9 .4-6.5 .6zM120.8 180.4l.3 .2 .2 .6-.2 .6-.3 .2zM120.8 184.4l1.2 1-.2 .4-1 .6zM120.8 188.6l1.1 .4 .8 .6-.6 .6-1.3 .4zM120.8 192.9l1.7 .4 .8 .6-.8 .6-1.7 .4zM120.8 197.1l1.5 .4 .6 .6-.4 .4-1.7 .6zM120.8 201.3l1.6 .6 .4 .4-.4 .4-1.6 .6zM120.8 204.9l1.8 1-1.8 .6zM120.8 207.8l7.4 .8 0 .2-1.2 .2-6.2 .6zM120.8 210.6l2.8 .8-.7 .4-2.1 .4zM120.8 214.4l4.8 .6 .9 .4-1.3 .4-4.4 .6zM120.8 218.6l3.1 .8 .6 .4-.4 .4-3.3 .8zM120.8 222.8l4.2 .6 .5 .4-1.7 .7-3 .6zM120.8 227.5l2.1 .4 1.7 .6 0 .2-1.1 .4-2.7 .4zM120.8 231.1l1.4 .2 .4 .2 .2 .6-.2 1.4-1 .6-.8 .2zM120.8 236.1l1.4 .4 .6 .4-2 .8zM120.8 238.7l2.8 .8-2.8 1zM120.8 241.4l1.2 .4 .3 .4-1.5 .8zM120.8 244.6l2 .6 .3 .4-1.2 .6-1.1 .2zM120.8 247.2l1.2 .2 1 .6-.9 .6-1.3 .2zM120.8 249.4l1.3 .2 .9 .4 .3 .4-1.1 .6-1.4 .2zM120.8 252.8l2.6 .4 1.8 .6-.9 .4-3.5 .6zM120.8 256.4l1.2 .6-.1 .6 1.1 1.3-.3 .4-1.9 .8zM120.8 262.1l2.1 .8 .4 .4-.5 .4-2 .8zM126.3 44.2l5.2 1.2-1.1 .4-4.1 .6zM126.3 48.2l3.2 .4 .7 .4-3.9 1zM126.3 75.6l.8 .2 1.5 .8 .8 .8-.7 .8-1.5 .8-.9 .2zM126.3 84.2l1 .2 .7 .6-.5 .4-1.2 .2zM126.3 87.2l6.8 .6 1.5 .4-8.3 .8zM126.3 90.9l1.1 .4-.2 .6-.9 .2zM126.3 104.9l1.1 .6-1.1 .6zM126.3 107.8l6.9 .6 1.2 .2 .1 .2-8.2 .8zM126.3 111.4l.4 .2 .2 .4-.6 .8zM126.3 120l.5 .2 .3 .4-.8 .4zM126.3 122.8l8.6 .9-1.7 .4-6.9 .6zM126.3 126.5l.6 .2 .1 .4-.1 .6-.6 .2zM126.3 133.1l2 .8 .7 .6-1.4 .8-1.3 .2zM126.3 138.3l1.3 .2 .5 .8-.5 .4-1.3 .2zM126.3 141.6l5 .6 1.1 .4-6.1 1zM126.3 146l4.3 .8 .7 .4-5 1zM126.3 149.6l8.1 1-8.1 1zM126.3 153.2l.5 .2 .3 .4-.4 .6-.4 .2zM126.3 155.8l1.7 1-.3 .5-1.4 .6zM126.3 164.9l4 1-.4 .4-3.6 .8zM126.3 169.3l.5 .2 0 .4-.5 .8zM126.3 171.5l.8 .8-.8 .6zM126.3 174.6l5.8 .6 1.8 .4-7.6 1zM126.3 178.2l.1 .4-.1 .2zM126.3 187.2l1.1 1.2-1.1 1zM126.3 191.7l2.2 .8 .3 .4-.5 .4-2 .6zM126.3 196.1l2.3 .6 .7 .4-.8 .6-2.2 .6zM126.3 200.5l2.5 .6 .7 .4-.8 .6-2.4 .6zM126.3 204.5l1.9 .6-1.9 .6zM126.3 206.9l8.1 .9-1.7 .4-6.4 .6zM126.3 210l3.1 .4 .7 .4-3.8 1zM126.3 213.6l4.4 .6 1 .4-1 .4-4.4 .6zM126.3 218l1.6 .4 1 .6-.7 .6-1.9 .4zM126.3 221.8l3.1 .6 .6 .4-3.7 1zM126.3 226.3l2.2 .8 .5 .4-1.1 .6-1.6 .2zM126.3 229.9l2.5 .4 1 .4-.4 .6-2 1-1.1 .2zM126.3 234.7l1.3 .2 1.8 .6 .6 .4-1 .4-2.7 .4zM126.3 238.1l3 .4 .8 .4-2.2 1 .5 .8-.2 .5-1.9 .4zM126.3 243.6l2.6 .6 .6 .4-.6 .4-2.6 .6zM126.3 247l1 .4-.4 .6-.6 .2zM126.3 248.2l1.7 .6 .9 .6-.4 .4-2.2 .6zM126.3 252.6l3.5 .8 1.5 .6-.4 .4-4.6 .8zM126.3 257l4.2 .4 1.5 .5-1.6 .6-4.1 .6zM126.3 261.1l2.2 .4 1.1 .6-1 .6-2.3 .6zM126.3 265.3l2.4 .6-2.4 .2zM131.8 45.2l5.2 1.2-1.2 .4-4 .4zM131.8 49l3.3 .6 .6 .2 0 .2-3.9 1zM131.8 76.2l1.7 1 .6 .6-.4 .6-1.9 1.2zM131.8 83.4l.9 .8-.9 .4zM131.8 86.4l7.7 .8-1.8 .4-5.9 .6zM131.8 90l.3 .5-.3 .6zM131.8 104.1l1.1 .6-.3 .4-.8 .2zM131.8 107l7 .6 1.3 .2 .1 .2-8.4 .8zM131.8 110.6l.8 .2 .2 .4-.3 .8-.7 .2zM131.8 119l1 .6-.3 .4-.7 .2zM131.8 121.8l8.7 1-8.7 1.1zM131.8 125.7l.6 .4-.1 .6-.5 .2zM131.8 132.3l2.3 1.2-.6 .6-1.7 .6zM131.8 137.3l.6 .2 .6 .8-.2 .4-1 .2zM131.8 140.8l5.5 .8-1 .4-4.5 .6zM131.8 145.2l4.3 1-.9 .4-3.4 .6zM131.8 148.8l6.2 .6 1.2 .2 0 .2-7.4 .8zM131.8 152.4l.4 .6-.4 .6zM131.8 154.8l1.5 1.2-1.5 1zM131.8 164.1l3.3 .6 .9 .4-.5 .4-3.7 .8zM131.8 168.3l.7 .2 .2 .6-.1 .4-.8 .2zM131.8 170.7l.8 .2 .4 .6-1.2 .4zM131.8 173.7l8.4 .9-.1 .2-1.2 .2-7.1 .6zM131.8 177.4l1 .2 .2 .4-.4 .8-.8 .2zM131.8 182.2l.7 .2 .7 1-.4 .6-1 .4zM131.8 186.6l1.9 .6 .7 .6-.2 .4-.9 .4-1.5 .2zM131.8 191.1l3 .6 .9 .6-.5 .4-1.3 .4-2.1 .2zM131.8 195.5l1.8 .2 1.9 .8-.8 .6-2.9 .6zM131.8 199.9l1.9 .4 .8 .6-1 .6-1.7 .4zM131.8 203.5l1.4 .8-1.4 .4zM131.8 206.1l8.5 .8 0 .2-1.3 .2-7.2 .7zM131.8 209.2l1.9 .4 .5 .4-2.4 .8zM131.8 212.6l5.3 1-.1 .2-1.7 .4-3.5 .4zM131.8 216.8l2.6 .6 .9 .6-.9 .6-2.6 .4zM131.8 220.8l4.8 .8 .7 .4-5.5 1.2zM131.8 225.7l2.5 .4 1.6 .6-.6 .4-3.5 .6zM131.8 229.3l1.7 .6 .8 .4 .2 .4-.6 .8-2.1 .8zM131.8 234.3l2.3 .6 .7 .4-3 .8zM131.8 237.3l1.4 .6-1.4 .6zM131.8 239.3l2.1 .8-.3 .4-1.8 .7zM131.8 243.2l1.8 .8-1.8 1zM131.8 245.8l.4 .4-.4 .4zM131.8 248l2.1 .8-2.1 1zM131.8 251.8l2.2 1-.5 .4-1.7 .6zM131.8 254.6l1.6 .6 .3 .4-1.9 .6zM131.8 257.9l1.3 .4 .5 .4-1.8 .8zM131.8 260.5l2.2 .6 1.1 .6-1.1 .6-2.2 .4zM131.8 264.7l2.3 .6 1.1 .6-3.4 .2zM137.3 46.2l5.2 1.2-1.4 .4-3.8 .4zM137.3 50l3.8 .8-.6 .4-3.2 .8zM137.3 76.6l1.8 1.2 .4 .6-.4 .6-1.8 1.2zM137.3 82.6l1 .2 .5 .4-.3 .4-1.2 .2zM137.3 85.4l6.9 .6 1.7 .4-8.6 1zM137.3 89l1.1 .4-.3 .6-.8 .3zM137.3 103.5l.5 .4-.5 .6zM137.3 106.1l6 .6 1.7 .5-7.7 .8zM137.3 110l.2 .4-.2 .4zM137.3 118.2l1 .6-.1 .2-.9 .2zM137.3 121l7.4 .6 1.4 .2 .1 .2-8.9 .8zM137.3 124.9l.7 .2 0 .2-.1 .4-.6 .2zM137.3 131.5l1.9 1.2-1.9 1.2zM137.3 136.5l.5 .2 .6 .8-.4 .4-.7 .2zM137.3 139.7l4.3 .7 1.3 .4-5.6 1zM137.3 144.2l4 .8 .8 .4-4.8 1zM137.3 147.8l8.2 1-8.2 1zM137.3 151.6l.8 .2 .1 .2-.3 .6-.6 .2zM137.3 154l.7 .2 1.2 .8-.2 .4-1.7 .8zM137.3 163.3l3 .6 .7 .4-.8 .4-2.9 .6zM137.3 170.1l.3 .4-.3 .4zM137.3 172.9l7.8 .8-1.9 .5-5.9 .6zM137.3 178.6l.4 .2 .1 .6-.5 .4zM137.3 182.6l1 .2 .2 .6-.2 .6-1 .2zM137.3 186.4l1.1 .2 .3 .6-.4 .6-1 .2zM137.3 190.2l1.2 .7 .3 .4-.3 .4-1.2 .6zM137.3 194.5l1.6 1-.4 .4-1.2 .6zM137.3 198.7l2 1-.3 .4-1.6 .6-.1 .2zM137.3 202.7l2.1 .8-2.1 .6zM137.3 205.3l5.6 .6 1.3 .2 .1 .2-7 .8zM137.3 208.2l2.6 .8-.7 .4-1.9 .4zM137.3 211.8l5.5 1 0 .2-.6 .2-4.9 .8zM137.3 216.2l3 .8 .5 .4-1.1 .6-2.4 .4zM137.3 220.2l3.3 .6 .9 .4-.7 .4-3.5 1zM137.3 225.1l2.4 .6 .4 .4-.7 .4-2.1 .4zM137.3 228.3l1.3 .4 .5 .4-.7 1-.2 1-.9 .4zM137.3 233.5l1.5 .4 .5 .4-.8 .4-1.2 .2zM137.3 236.1l3.2 .6 .6 .4-3.8 .8zM137.3 238.7l.7 .2 .4 .4-.3 .4-.8 .2zM137.3 241.8l2 1-.4 .4-1.6 .6zM137.3 244.8l1.5 .8-1.5 1zM137.3 246.8l1.4 1-1.4 .8zM137.3 250.6l2.4 1.2-.6 .6-1.8 .6zM137.3 255l6.3 1.2-.9 .4-5.4 .6zM137.3 259.1l3.5 .6 .9 .4 0 .2-.8 .4-3.6 1zM137.3 263.9l1.2 .2 1.2 .8-.6 .6-1.8 .6zM142.8 47.2l5.2 1.2-1.4 .4-3.8 .4zM142.8 51l4 .8-.6 .4-3.4 .8zM142.8 77.4l1.4 .8 .5 .6-.4 .6-1.5 1zM142.8 84.6l7.3 .8-1.5 .4-5.8 .6zM142.8 102.5l.8 .8-.8 .4zM142.8 105.3l6.3 .6 1.9 .4-8.2 1.1zM142.8 109l.8 .6-.3 .8-.5 .2zM142.8 117.2l.6 .2 .4 .6-1 .4zM142.8 120.2l8.7 .8-1.8 .4-6.9 .6zM142.8 124.1l.4 .2 0 .4-.4 .2zM142.8 130.7l1.5 .8 .3 .4-1.8 1zM142.8 135.7l1 1-1 .6zM142.8 138.9l5.4 .8-.1 .2-.8 .2-4.5 .7zM142.8 143.4l4.9 1-.8 .4-4.1 .6zM142.8 147l7.3 .6 1.1 .2 .1 .2-8.5 .8zM142.8 150.6l1.1 .2 .2 .4-.2 .4-1.1 .2zM142.8 153.2l1.3 .2 1 .8-1.1 .8-1.2 .2zM142.8 162.3l3.9 .8 .7 .4-1 .4-3.6 .6zM142.8 166.7l.8 .2 .2 .4-.2 .6-.8 .2zM142.8 168.9l.7 .2 .5 .6-1.2 .6zM142.8 171.9l6.4 .6 1.7 .4-8.1 1.1zM142.8 175.6l.6 .4-.6 .4zM142.8 179.6l.6 .2 0 .4 0 .4-.6 .2zM142.8 184.6l.8 .2 .7 1-.4 .6-1.1 .4zM142.8 189.2l1.4 .4 1 .6-.2 .4-2.2 .9zM142.8 193.7l2.3 .6 .6 .4-.3 .4-2.6 .8zM142.8 198.1l2.5 .6 .7 .4-.4 .4-2.8 .8zM142.8 202.1l2 .6-2 .6zM142.8 204.5l8 .8-.1 .2-1.4 .2-6.5 .6zM142.8 207.6l2.3 .4 .6 .4-2.9 1zM142.8 211.2l4.6 .8-.6 .4-4 .8zM142.8 215.4l1.8 .6 .7 .6-.5 .4-2 .6zM142.8 219.2l3.3 .6 1 .4-.8 .4-3.5 .8zM142.8 223.6l3.1 1.3-.4 .4-2.7 .6zM142.8 227.5l2.9 .6 .5 .4-.7 .6-2.7 1.2zM142.8 232.3l3.4 1-.4 .4-3 .6zM142.8 235.7l1.9 .6-1.3 .8 1.5 1.2-.6 .4-1.5 .4zM142.8 241.2l3.1 1-.7 .4-2.4 .6zM142.8 245.8l2.5 .8 .6 .4-.7 .4-2.4 .6zM142.8 250l3.2 .8 .4 .4-1.4 .6-2.2 .4zM142.8 254.4l2.6 .8 .1 .4-.4 .8 .5 .6-.7 .4-2.1 .5zM142.8 259.5l3.7 .6 .7 .2 0 .2-4.4 1zM142.8 263.1l2.5 .6 .7 .4-.4 .4-2.8 .8zM148.3 48.2l4.4 .8 1 .4-1.6 .4-3.8 .4zM148.3 52l4.2 .8-.7 .4-3.5 .8zM148.3 77.6l2 1 .5 .6-.1 .4-1.1 1-.3 .8-1 .4zM148.3 83.6l6 .6 1.9 .4-7.9 1zM148.3 87.2l.6 .6-.6 .6zM148.3 101.7l1 .4 .3 .4-1.3 .4zM148.3 104.5l6.6 .6 2.1 .4-8.7 1zM148.3 108.2l.9 .2 .3 .4-.4 .8-.8 .2zM148.3 116.4l.9 .2 .4 .4-.4 .4-.9 .2zM148.3 119.2l6.9 .6 2.1 .4-9 1zM148.3 123.2l.7 .2 0 .3-.7 .2zM148.3 129.7l2.1 1.2-.3 .4-1.8 .8zM148.3 134.7l1 1-.3 .4-.7 .2zM148.3 138.1l3.8 .4 1.4 .4-5.2 1zM148.3 142.4l3.7 .8 .8 .4-4.5 1zM148.3 146l8 1-8 1zM148.3 149.8l.6 .4 0 .4-.6 .2zM148.3 152.2l1.5 .6 .6 .6-1.2 .8-.9 .2zM148.3 161.5l4.1 .8 .4 .4-4.5 1zM148.3 165.9l.6 .2 .1 .4-.2 .6-.5 .2zM148.3 168.1l.5 .2 .3 .6-.8 .4zM148.3 171.1l7.7 .8-.1 .2-1.2 .2-6.4 .6zM148.3 180.4l.4 .8-.4 .6zM148.3 184.4l1.3 .6 .4 .6-.7 .6-1 .2zM148.3 188.8l1.3 .2 .9 .4 .4 .4-.8 .6-1.8 .5zM148.3 193.1l2.2 .4 .9 .6-.9 .6-2.2 .6zM148.3 197.3l1.7 .4 .9 .6-.6 .6-2 .4zM148.3 201.1l1.3 .2 .9 .6-2.2 .4zM148.3 203.7l6.9 .6 1.6 .4-8.5 .8zM148.3 206.7l2.2 .6-.5 .5-1.7 .4zM148.3 210.2l4.5 .6 .9 .4-1.3 .4-4.1 .6zM148.3 214.4l2.5 .6 .9 .6-1.2 .6-2.2 .4zM148.3 218.4l4.8 1-.5 .4-4.3 1zM148.3 223.2l2.6 .6 .8 .5-.6 .4-2.8 .6zM148.3 226.9l1.3 1 .3 1-.4 .4-1.2 .6zM148.3 232.1l1.6 .6-.4 .4-1.2 .4zM148.3 234.5l1.6 .8-1.6 .6zM148.3 237.1l1.2 .4 .4 .4-1.6 .8zM148.3 240.7l.8 .7-.8 .8zM148.3 243l1.1 .6-.3 .4-.8 .4zM148.3 245.6l1.3 .8-1.3 1zM148.3 249.4l1.4 .6 .3 .4-1.7 1.2zM148.3 253.6l1.7 .6 .5 .4-.4 .4-1.8 .6zM148.3 257.2l4.3 .9 .7 .4-5 .8zM148.3 261.1l1.9 .6-.2 .6 .4 1-.5 .6-1.6 .6zM153.8 49.2l4.3 .8 .9 .4-5.2 .8zM153.8 53l4 .8-.7 .4-3.3 .8zM153.8 78.4l2 1.4 .4 .6-.7 .4-1.7 .4zM153.8 82.8l7 .8-.1 .2-1.1 .2-5.8 .6zM153.8 101.3l.3 .4-.3 .2zM153.8 103.9l5.2 .4 2.2 .4-7.3 .8-.1 .2zM153.8 115.4l.8 .8-.8 .4zM153.8 118.4l7.1 .6 1.3 .2 0 .2-8.4 .8zM153.8 122.4l.3 .2-.3 .2zM153.8 128.9l1.8 1.2-.4 .4-1.4 .6zM153.8 134.1l.6 .8-.6 .4zM153.8 137.1l4.6 .8 0 .2-.8 .2-3.8 .6zM153.8 141.6l4 1-.7 .4-3.3 .6zM153.8 145.2l6.4 .6 1.2 .2 0 .2-7.6 .8zM153.8 149l.4 .4-.4 .6zM153.8 151.4l1.6 1-.2 .4-1.4 .6zM153.8 160.7l4.2 1-.5 .4-3.7 .8zM153.8 165.1l.8 .2 .1 .4-.1 .6-.8 .2zM153.8 167.1l.9 .2 .4 .6-.3 .4-1 .2zM153.8 170.3l6.1 .4 2.4 .4-2 .4-6.5 .6zM153.8 176.6l.5 .4-.1 .4-.4 .2zM153.8 187.8l.7 .8-.1 .4-.6 .4zM153.8 191.9l1.8 .8 .3 .4-2.1 1zM153.8 196.1l2.2 .8 .5 .4-.4 .4-2.3 .8zM153.8 200.3l2.9 .8-2.9 .6zM153.8 202.9l5.9 .6 1.6 .4-7.5 .8zM153.8 205.7l3.3 .8-.7 .4-2.6 .7zM153.8 209.4l4.8 .6 1.3 .4-1 .4-5.1 .8zM153.8 213.8l2.8 .6 .9 .6-.7 .4-3 .6zM153.8 217.8l2.8 .4 1 .4-.5 .4-3.3 1zM153.8 222.4l1.9 .6 .5 .4-.5 .4-1.9 .5zM153.8 225.7l2.4 .8-1.8 1.8-.6 .2zM153.8 230.7l1.9 .6 .5 .4-2.4 .8zM153.8 233.7l3.9 .8-.7 .4-3.2 .8zM153.8 235.9l1.1 .2 .6 .6-.5 .4-1.2 .2zM153.8 239.1l2.7 .8 .5 .4-.6 .4-2.6 .7zM153.8 242.6l1.6 .6-.6 .8 .1 .2 1.5 1-.5 .4-2.1 .6zM153.8 248l2.5 .8 .4 .2 .2 .4-.6 .4-2.5 .6zM153.8 252.4l2.5 .8 .5 .4-.7 .6-2.3 .6zM153.8 257.2l4.9 1.5 0 .2-.5 .2-4.4 .8zM153.8 261.5l.2 .2 3.8 .4 1.5 .4-1.1 .4-4.4 .8zM153.8 265.5l1.1 .4-1.1 .2zM159.4 50.2l4.2 .8 .8 .4-5 .8zM159.4 54l3.8 .8-3.8 1.2zM159.4 78.4l3.2 1.4-.7 .4-2.5 .4zM159.4 81.8l5.7 .6 1.9 .4-7.6 1zM159.4 85.6l.7 .2 0 .2-.7 .4zM159.4 100.1l.6 .2 .6 .6-1.2 .4zM159.4 102.9l8.5 1-8.5 1zM159.4 106.5l.7 .2 .3 .5-.3 .8-.7 .2zM159.4 114.6l1 .2 .4 .6-1.4 .4zM159.4 117.6l9.1 .8-1.9 .4-7.2 .6zM159.4 128.1l1.9 .8 .3 .4-.5 .4-1.7 .6zM159.4 133.1l.8 .8-.2 .4-.6 .2zM159.4 136.3l3.4 .4 1.5 .4-4.9 1zM159.4 140.6l4.1 1.2-4 .8-.1 .2zM159.4 144.2l.3 .2 5.1 .4 2.3 .4-7.7 1zM159.4 148l.1 .4-.1 .6zM159.4 150.4l1.5 1.2-1.5 1zM159.4 159.9l3.4 .6 .8 .4-.7 .4-3.5 .6zM159.4 164.3l.4 .2 .1 .4-.2 .6-.3 .2zM159.4 166.1l.9 1-.9 .6zM159.4 169.3l6.6 .6 1.8 .4-8.4 1zM159.4 173.1l1.1 .2 0 .2-1.1 .2zM159.4 182.2l1.3 .2 .5 1-.4 .6-1.4 .2zM159.4 186.8l1.3 .2 1.2 .8-.5 .6-2 .6zM159.4 191.3l1.8 .4 1.3 .6-.9 .6-2.2 .6zM159.4 195.7l2.3 .6 .5 .4-.4 .4-2.4 .8zM159.4 199.7l1.7 .6-1.7 .6zM159.4 202.1l6.4 .6 1.3 .2 .1 .2-7.8 .8zM159.4 205.1l1.8 .4 .6 .4-2.4 .8zM159.4 208.6l3.9 .6 .9 .4-1.2 .4-3.6 .6zM159.4 212.8l2 .6 .6 .6-.5 .4-2.1 .6zM159.4 216.6l3.4 .8 .5 .2 0 .2-3.9 1zM159.4 221.4l2.6 1-.6 .4-1.9 .4-.1 .2zM159.4 225.1l1.8 .6 .6 .6-.7 .8-1.7 .8zM159.4 230.1l2.8 .6 .4 .4-3.2 .8zM159.4 233.1l1.5 .6-1.5 .6zM159.4 234.9l3.2 1-.6 .4-2.6 .6zM159.4 238.9l2.1 .4 1 .4-.4 .4-2.7 .9zM159.4 241.6l.6 .4-.6 .2zM159.4 243.6l3.1 1-.5 .4-2.6 .8zM159.4 247.8l2.1 .6 .7 .4-.4 .4-2.4 .8zM159.4 252l2.2 .8 .4 .4-2.6 1.2zM159.4 256.2l2.1 1-.3 .4-1.8 .7zM159.4 259.1l2.8 1-.8 .4-2 .4zM159.4 262.5l1.9 .8-1.9 .8zM159.4 265.1l2.3 .8-2.3 .2zM164.9 51.2l4.5 .8 .7 .4-5.2 .8zM164.9 55l2.9 .4 1.2 .4-4.1 1.3zM164.9 78.4l.5 .6-.5 .4zM164.9 80.8l8.4 1-1.8 .4-6.6 .6zM164.9 99.5l.5 .6-.5 .4zM164.9 102.3l8 .8-2 .4-6 .6zM164.9 105.9l.6 .4-.3 .9-.3 .2zM164.9 113.6l.7 .2 .5 .6-.4 .4-.8 .2zM164.9 116.6l6.8 .6 2.1 .4-8.9 1zM164.9 127.1l2.1 1.2-.3 .4-1.8 .8zM164.9 132.3l.7 .8-.7 .6zM164.9 135.3l3.8 .6 .8 .2 0 .2-4.6 .8zM164.9 139.7l4 1.1-.8 .4-3.2 .6zM164.9 143.4l7.5 .8 0 .2-1.1 .2-6.4 .6zM164.9 147.2l.1 .4-.1 .4zM164.9 149.6l1.3 .8 .2 .4-1.5 1zM164.9 158.9l3.3 .8 .7 .4-1 .4-3 .6zM164.9 163.5l.3 .4-.3 .8zM164.9 165.3l.7 1-.7 .4zM164.9 168.5l7.7 .8-.2 .2-1.2 .2-6.3 .6zM164.9 182.4l.6 1-.6 .8zM164.9 186.4l1.2 1-.2 .4-1 .6zM164.9 190.6l1.4 .5 .6 .6-.4 .4-1.6 .6zM164.9 194.7l1.7 .6 .4 .4-.2 .4-1.9 .8zM164.9 198.5l1.9 .8 0 .2-1.9 .6zM164.9 201.5l5.3 .4 2 .4-7.3 .8zM164.9 204.3l1 .6-1 .6zM164.9 207.6l.1 .2 4.7 .8-.7 .4-4.1 .8zM164.9 212l2.2 .6 .9 .6-.8 .4-2.3 .6zM164.9 216l2.9 .6 .9 .4-.7 .4-3.1 .8zM164.9 220.8l2.5 1-.7 .4-1.8 .4zM164.9 224.5l.6 .4 .7 1.8-1.3 1zM164.9 229.5l1.5 .6-.3 .4-1.2 .4zM164.9 231.9l2.2 .4 .8 .4-3 .8zM164.9 234.5l1.3 .8-1.3 1zM164.9 237.9l.9 .8-.9 .6zM164.9 240.5l1.2 .5 .4 .4-1.6 .8zM164.9 243l.6 .6-.6 .8zM164.9 246.8l1.2 .8-.2 .4-1 .6zM164.9 251l1.4 .6 .4 .4-.4 .4-1.4 .6zM164.9 255l2.1 1 .4 .4-.9 .6-1.6 .4zM164.9 259.7l5.9 .8 1.3 .4-1.5 .4-5.7 .6zM164.9 263.7l4.7 .6 .6 .4-.9 .4-4.4 1zM170.4 52.2l4.6 .8 .6 .2 0 .2-5.2 .8zM170.4 56l2.9 .4 1 .5-3.9 1.2zM170.4 77.2l.6 .2 .4 .4-.4 .4-.6 .2zM170.4 80l10.4 1-2 .4-8.4 .8zM170.4 98.7l1 .6-1 .6zM170.4 101.5l8.5 .8-1.8 .4-6.7 .6zM170.4 105.1l1 .4-.4 .8-.6 .2zM170.4 112.8l.6 .8-.6 .4zM170.4 115.8l7 .6 1.3 .2 .1 .2-8.4 .8zM170.4 126.3l1.7 .8 .4 .4-.4 .4-1.7 .8zM170.4 131.3l.7 1-.7 .6zM170.4 134.5l5 .8-5 1zM170.4 138.7l3.7 .8 .9 .4-4.6 1.1zM170.4 142.4l8.1 1-8.1 1zM170.4 148.6l1.5 1.2-.3 .4-1.2 .6zM170.4 158.1l4.2 .8 .5 .4-1.1 .4-3.6 .6zM170.4 162.7l.8 .2 .1 .2-.2 .6-.7 .2zM170.4 164.3l.7 .2 .5 .8-.4 .4-.8 .2zM170.4 167.5l8.3 1-2 .4-6.3 .6zM170.4 179.2l.7 .2 0 .2-.2 .8-.5 .2zM170.4 184.8l.6 1.2-.6 .8zM170.4 189.2l1.9 1.2-.3 .5-1.6 .6zM170.4 193.7l2.4 .8 .5 .4-.5 .4-2.4 .6zM170.4 197.9l3 .8-1.2 .4-1.8 .2zM170.4 200.7l5.6 .4 1.8 .4-7.4 .8zM170.4 203.3l2.8 .8-2.8 1zM170.4 206.9l3.9 .7 .7 .4-4.6 1zM170.4 211.6l1.4 .6 .3 .4-1.7 .8zM170.4 215.4l1.8 .4 .6 .4-2.4 1zM170.4 220l1.7 .8-.4 .4-1.3 .4zM170.4 223.2l1.6 .4 .7 .4-.2 .5-2.1 1.4zM170.4 228.1l3 1-.6 .4-2.4 .4zM170.4 231.3l2.3 .4 .7 .4-1.9 .8 .1 .4 .9 .6 0 .4-2.1 .6zM170.4 236.9l2.9 .6 .6 .4-.8 .4-2.7 .6zM170.4 241.6l3 .8 .5 .4-.8 .4-2.7 .6zM170.4 245.8l3.1 .6 1.1 .6-.8 .4-3.4 .8zM170.4 250.2l3 .6 .9 .4 0 .2-.9 .4-3 .6zM170.4 254.6l2.8 .6 .6 .4-.4 .4-3 .8zM170.4 259.1l1.8 .6 .2 1.4 1.2 .6-.7 .4-2.5 .4zM170.4 264.1l3.9 .6 .8 .4-4.7 1z"/>
<path class="ln" d="M43.6 14.6l.2 12.5-.3 .6-1.3 1.2 1.5 .6 4.5 .8 .6 .2 0 .2-12.6 1.6 1.3 .4 9.1 1 1 .4-4.1 1.2-.7 .6 .7 1 .2 .8 .1 19.2-.6 3 .4 .6 2.6 1.4 .5 .6-.5 .6-2.4 1.2-.7 .6-.3 2 .4 1 3.1 1.6 .4 .6-.7 .6-2.3 1.2-.6 .8 .6 2.5 .2 2.8 0 10-.3 2.5 .4 2.6-.5 2.6 .4 1.6 1.2 1.2-.7 .4-6.2 1.2 2 .4 9.8 .8 1.2 .2 .1 .2-9.2 1-1.7 .4 3.7 1.4-.7 1.4 .6 2.5-.5 2.8 .6 2.6-.7 2.2 .1 .4 1.1 1-.6 .4-4.9 .8-.9 .4 13.5 1.4-1.8 .4-9.2 .8-1.4 .4 3.8 1 1 .7-1 3 .7 2.8-.7 2.6 .3 .6 1.3 1-.5 .4-.8 .2-5.3 1 2.1 .4 11.2 1 0 .2-1.2 .2-9 .8-1.7 .4 4.6 1.4 .1 .4-.7 1.1-.3 1.2 .7 2.4-.3 1.2 .2 .4 1.7 1.2-.3 .4-1.3 .8-.3 .4 .5 1.2-.2 1.4 .4 .8-.1 .4-4.1 1.4 1.6 .4 6.8 .8 .8 .2 0 .2-6.9 1-1.3 .5 0 .2 1.7 .8 .6 .8 4.4 1 .5 .2 0 .2-10.4 2 1.7 .4 9.7 .8 1.9 .4-11 1.4 .1 .2 3.6 1.2-.9 1.4 .3 .4 1.7 .8 .4 .4-2 1.4-.1 3.9-2 1.6 .6 .4 4.7 1 .9 .4-.8 .4-5.1 1-.9 .4 .3 .4 2.9 1.2 .5 .6 .1 .6-1.2 1.4 .2 .6-.3 .4-4.4 1.2 2.1 .4 10.2 .8 1.6 .4-13.2 1.2-1.3 .4 7.2 1.5 1.4 .6-.7 .6-3.9 1.2-.7 .6 1.3 .8 3.7 1.2-.1 .4-3.6 1.2-.8 .4-.3 .4 1.1 .8 2.8 .8 .6 .4-.3 .4-3.4 1.4-.4 .6 .6 .6 2.4 .8 .9 .6-.4 .4-2.2 1-.6 .9 .7 .8 2.2 .8 .4 .4-.3 .4-2.1 1-.5 .8 .8 .8 1.9 .8 .4 .4-.4 .4-2.1 .8-.4 .4 .2 .4 1.1 .6 .3 .4-4.8 1.2 .1 .2 1 .2 9.1 .8 2 .4-10.4 1-2.3 .4 1.1 .4 4.5 .6 1.4 .4-.4 .4-4 1.3-1.4 1 1.3 .6 5 .8 1 .4-8.4 1.6-.1 .2 .5 .4 4.7 1.6 .6 .4 0 .2-.7 .4-5.1 1.2-.8 .4 .7 .4 7.8 1.4-.6 .4-5 1-.8 .4-.3 .6 .7 .6 4.2 1.4 .5 .4-.7 .4-4.9 1.1-.7 .4 1.1 .4 4.3 .8 1.1 .6-3.5 1.8-.7 1 .8 .6 3.1 1 .4 .4-1 .4-5.1 1-.1 .2 .6 .2 6.5 1.2 0 .2-3 1.2-1.6 1.2-.6 .8 .6 .6 3.3 1 .7 .4-.8 .4-4 .9-.8 .4 3.7 1.2 .3 .4-.1 .4 1.1 1-.5 .4-3.5 1-.7 .4 .1 .4 1.4 .6 4.1 1 .6 .4-4 .2M49.1 14.6l.2 13.5-.3 .6-1.2 1.2 1.5 .6 4.5 .8 .5 .2 0 .2-2.2 .4-8.5 .8-1.9 .4 1.5 .4 9 1 .9 .4-4.1 1.2-.7 .6 .9 1.6 .2 17.9-.6 3.5 .7 .8 2.2 1.2 .7 .6-.4 .6-3 1.8-.2 .6 0 2.2 .5 .8 2.7 1.4 .5 .6-.5 .6-2.8 1.4-.6 .9 .4 2.4-.6 9.6 .1 4.2 .6 2.7-.3 2.6 .4 1.4 1.2 1 .1 .4-.9 .4-5.8 1 0 .2 1 .2 9.6 .8 2.5 .4-1.9 .4-8.1 .8-1 .4 3.3 1 .5 .4-.9 1.4 .4 2.7-.8 2.6 .5 2.6-.6 2.2 .1 .4 1.2 1-.5 .4-4.7 .8-1.1 .4 13.7 1.4-1.7 .4-9.1 .8-1.5 .4 3.8 1 1 .6-.9 3.1 .7 3-.6 2.4 .3 .6 1.2 1-.7 .4-5 .8-.8 .2-.1 .2 13.4 1.4-2 .4-8.9 .8-1.3 .4 4 1 .7 .4-1.1 2.7 .6 2.4-.2 1.2 1.9 1.6-1.9 1.4 .5 1.4-.1 1.2 .4 1.2-.7 .4-3.5 1 1 .4 6.8 .8 1.7 .4-1.5 .4-5.9 .8-.9 .4 1.8 1.1 .7 .8 4.5 1 .3 .2-.2 .2-9.3 1.6-.7 .2 0 .2 13 1.4-1.5 .4-8.1 .8-1.3 .4 3.7 1.2 .1 .4-.8 .8-.1 .4 2.3 1.4-.2 .4-1.4 .8-.4 .6-.2 1.8 .5 1.9-2.6 1.6 .5 .4 4.9 1 .9 .4-.6 .4-4.5 1-.8 .4 .2 .4 1.4 1 1.4 1.8 .3 1.2 0 .4-1 .4-4.7 .8-1 .4 2.6 .4 10.8 .8 1.3 .2 .1 .2-10.7 1-1.6 .2-1 .4 5.4 1.5 .7 .4 .2 .4-.3 .4-2 1-.6 .8 .7 .8 2.1 1 0 .4-2.2 1-.7 .8 .5 .8 2.2 1 .3 .4-.7 .6-1.9 .6-.9 .8 .4 .6 3.1 1.4 .2 .4-.7 .4-2.7 .8-.9 .8 .6 .6 3.3 1.3 .5 .4-1 .6-2.9 .8-.8 .4-.3 .4 .8 .6 3.9 1.2 .5 .4-.6 .4-3.9 1.2-.2 .4 1.9 1-.5 .4-2.6 .8 1.3 .4 8.7 .8 1.6 .4-11.5 1-2.3 .4 1.5 .4 7.5 1 .3 .2-.6 .4-5.9 1.6-.8 .5 0 .2 1.2 .4 6.1 .8 1.5 .4-.9 .4-5.3 .8-1.7 .6 0 .4 .8 .6 3.8 1.2 .6 .6-.7 .4-4.8 1.2-.5 .4 1.1 .4 6.3 1.2-.4 .4-4 1-.7 .4-.2 .4 .1 .6 .7 .6 3 1 .4 .4-.8 .4-3.7 .8-.8 .5 .7 .4 3.8 1 .1 .4-2 1.6-1.9 1.2-.2 .4 .8 .6 3.8 1.2-.7 .4-4.8 .8-.8 .4 5.8 1.4-1.3 1 0 .2 .6 .6-.1 .4-3.6 1.4 0 .2 .6 .4 3.8 1 .8 .4-.4 .4-3 1.1 .7 1.2-.9 .8 3.1 1.2 .4 .4-5.1 1.8 0 .4 .7 .4 3 .8 1.2 .6-.2 .4-2.8 .2M54.6 14.6l.2 14.5-.3 .6-1 .8-.2 .4 .8 .4 5.7 1.2-.9 .4-9.9 1-1.8 .4 1.6 .4 9 1 .8 .4-4.2 1.2-.6 .6 .7 1 .2 .9-.4 17.3-.5 2.8 .5 .8 2.7 1.4 .4 .6-.3 .4-2.5 1.4-.5 .6 .1 1.8-.1 1.4 .7 .8 2.3 1.2 .7 .6-.4 .6-3 1.6-.4 .9 .4 2.2 .3 12.6 .4 2.7-.4 3 .3 1 1.2 1.2-1.5 .6-5.5 1 1.7 .4 9.7 .8 1.2 .2 .2 .2-9.3 1-1.8 .4 .1 .2 2.9 .8 .6 .4-.8 1.2-.1 .6 .7 2.5-.2 2.8 .8 2.4-.4 2.2 .4 .6 1.1 .8-.5 .4-4.7 .8-1.1 .4 2.4 .4 11.2 1-.1 .2-1.3 .2-9.1 .8-1.7 .4 3.8 1 1 .6-1.1 3.1 .3 3-.9 2.4 .1 .4 1.4 1.2-1.1 .4-5.5 1 1.5 .4 10 .8 1.9 .4-12.1 1.4 0 .2 .6 .2 3.5 .8 .6 .4-.8 1.6-.3 1.1 .6 2.4-.1 1 .4 .6 1.5 1-.1 .4-1.4 .8-.3 .4 .6 1.4-.1 1.2 .4 .8-.1 .4-4.2 1.4 1.5 .4 6.9 .8 .9 .2 .1 .2-6.8 1-1.4 .4 .3 .4 1.3 .6 .5 .9 4.4 1 .6 .4-10.2 2 1.7 .4 9.8 .8 1.7 .4-8.9 1-1.9 .4 .1 .2 3.8 1.2-.1 .4-.8 .8 0 .4 2.2 1.4-1.9 1.6-.5 2.2 .4 1.4-.2 .5-1.7 1-.3 .4 .7 .4 4.2 1 .4 .4-5.7 1.6 .2 .4 2.2 1.2-1 2 .3 .6 .8 .6 0 .4-4.8 1-.8 .2 0 .2 13.1 1.4-2.1 .4-9.2 .8-1.4 .4 5.4 1.2 1.6 .6 .1 .2-.3 .5-2.7 1-1.1 .8 .6 .6 4.3 1.6-.3 .4-3.5 1-1.3 .8 .3 .4 .8 .4 3.9 1.2 .2 .4-4.4 1.4-.9 .6 .2 .4 .9 .4 3.6 1 .6 .4-.3 .4-3.3 1-1.4 .8 .2 .4 .8 .4 3.5 1.1 .6 .4-.4 .4-3.4 1.2-.7 .6 .2 .4 .6 .4 2.7 .8 .8 .6-3.1 1.6 .6 1.2-4.3 1.2 1.4 .4 9.7 .8 2.2 .4-13.9 1.4 0 .2 .7 .2 6.1 1 .3 .2-.1 .2-4.5 2-.3 .4 .9 .5 4.7 .8 .8 .4-6.3 1.4-.2 .2 .2 .4 3.5 1.8 .3 .4-.8 .6-3.8 1.2-.5 .4 1.7 .6 4.8 .8 .8 .4-6.2 1.6 .2 .6 .9 .8 3.7 1.6-.5 .4-3.9 .8-1.4 .6 .9 .4 4.7 1.1 1 .6-.8 .6-3.8 1.2-.4 .6 .7 .6 4.1 1.4 .3 .4-5.8 1.4 1.1 .4 5.2 1 0 .2-2.8 1-.1 .2 .4 .8-1.4 1.4 .3 .6 1.9 1.2 .1 .4-3.3 1.2 3 1.1 .6 .4-1.8 1 0 .4 .4 .8-1.4 .8-.4 .6 2.5 2 0 .4-.5 .4-2.4 1-.2 .2 1.3 .2M60.2 14.6l.1 15.5-.3 .6-1 .8-.2 .4 .8 .4 5.8 1.2-1.1 .4-10 1-1.6 .4 1.8 .4 7.6 .8 1.3 .2 .7 .4-3.6 1-1.1 .6 .8 1.9 0 16.5-.6 3 .5 .6 2.5 1.4 .5 .6-.5 .6-2.3 1.2-.6 .6-.2 .6 .3 1.4-.3 1.6 .6 .8 2.7 1.4 .6 .6-.5 .6-2.6 1.5-.4 .6 .6 2 0 1.4-1.2 7.2-.2 3.2 .5 2.9 0 3 .4 .8 1.4 1.2-.9 .4-4.9 .8-.8 .2-.1 .2 13 1.4-1.7 .4-8.1 .8-1.1 .4 3.4 1 .5 .4-.9 1.6 .5 2.6-.8 2.7 .4 2.6-.7 2.2 .3 .6 1.1 .8-.4 .4-.8 .2-3.8 .6-1.2 .4 2.2 .4 10.2 .8 1.2 .2 0 .2-10.2 1-1.8 .4 4.3 1.2 .6 .4-1 3.1 .4 3-.7 2.4 .1 .4 1.4 1-.5 .4-6 1.2 2.3 .4 11.2 1 0 .2-1.2 .2-9 .8-1.7 .4 3.8 1 1.2 .6-1 2.6 .4 2.3-.2 1.2 .2 .4 1.5 1.2-1.9 1.2-.3 .4 .5 1.2 0 1.4 .3 1-.6 .4-3.2 .8-.4 .2 .1 .2 9.4 1.4-1.3 .4-5.9 .8-1 .4 1.8 1 .6 .8 4.6 1.1 .4 .2-.1 .2-9.2 1.6-.7 .2 0 .2 13 1.4-1.6 .4-8.1 .8-1.2 .4 3.9 1.2 .1 .4-1 1.2 .4 .4 1.7 .8 .3 .4-1.9 1.4-.3 2.2 .3 1.4-.2 .4-2 1.3-.1 .4 6 1.6-.5 .4-6.2 1.4 .1 .4 2.1 1 .7 .6-.5 2.8-1.2 .6-4.6 1 2 .4 10.6 .8 1.9 .4-12.8 1.2-1.5 .4 5.8 1.4 1.6 .8-.5 .6-3.2 1.3-.7 .6 .3 .4 .8 .4 2.8 .8 .7 .4-.2 .4-3.4 1.4-.3 .6 1.1 .8 3 1 .1 .4-2.4 1.2-.6 .8 .8 .8 2.2 .8 .5 .4-.3 .4-2.1 1-.7 .8 .9 1 1.5 .6 .4 .4-.7 .7-1.7 .6-.9 .8 .5 .8 2.6 1.4-.3 .4-2.9 1-.5 .4 .3 .4 2 1-.8 .4-3.2 .6-.8 .4 11.5 1.4-10 1-2.2 .4 1.3 .4 4.7 .6 1.5 .4-.4 .4-4.9 1.4-.8 .4 0 .4 2.1 .6 6.4 1.1 0 .2-.5 .2-5.7 .8-2.2 .6-.1 .2 .5 .4 5.5 1.6 .6 .4-.9 .6-5.5 1.2-.9 .4 .9 .4 6.9 1 1.1 .4-.9 .4-4.9 1-.7 .4-.5 .6 .4 .6 4.6 1.4 .2 .4-5.2 1.2-.9 .4 .7 .4 3.6 .8 1.3 .7-2.3 2.2-1.8 1-.2 .4 .9 .4 4.2 1-.7 .4-5.2 1 .7 .4 4.4 .8 .6 .4-1.4 .8-.3 1-.2 .2-1.7 .6-1.2 .8 .2 .4 .8 .4 4 1.2-.6 .4-3.9 .8-.8 .4 2.2 1 .3 .4-.2 .7 2.1 .8 .5 .4-.8 .4-4.1 1-.7 .6 1.1 .6 4.9 1.2 .5 .4-.7 .4-5.7 1.4-.3 .4 2.7 .2M65.7 14.6l.1 16.5-.3 .6-1.1 .8-.1 .4 .9 .4 5.7 1.2-1.2 .4-10 1-1.5 .4 1.9 .4 7.7 .8 1.2 .2 .6 .2 0 .2-3.7 1-1 .7 .8 1.8 .1 9.6-.3 6.1-.6 2.8 .4 .8 1.6 1.2 .4 .6-.3 .6-2.4 1.8-.1 .6 .1 1.8-.4 1.6 .5 .8 2.8 1.4 .6 .6-.3 .6-2.4 1.5-.4 .8 .9 2.8 .7 7.6-.2 4.4-1 3.7 .3 .6 1.1 1-1.4 .6-5.5 1 1.6 .4 9.6 .8 1.7 .4-9.1 1-1.9 .4 .1 .2 3.8 1.2 0 .4-.7 .8-.2 .6 .7 2.6-.4 2.9 .9 2.6-.5 2 .3 .6 1 .8-.4 .4-.8 .2-5.2 1 2 .4 10.1 .8 1.3 .2 0 .2-10.3 1-2 .4 .8 .4 3.3 .8 .6 .4-1.1 3 .6 3.1-.7 2.2 .3 .6 1.2 1-.7 .4-5.6 1 0 .2 1 .2 9.9 .8 2.6 .4-2.1 .4-9 .8-1.1 .4 3.9 1 .8 .4 0 .4-.6 1-.4 1.4 .5 2.3-.1 1.2 .3 .4 1.3 .8 .2 .4-2 1.4 .6 1.4 .3 2.4-4.3 1.4 1.4 .4 6.9 .8 1.1 .4-6.6 1-1 .2-.6 .4 1.5 .8 .5 .8 .4 .2 3.9 .8 .8 .4-1.3 .5-7.6 1.2-1.3 .4 1.7 .4 9.6 .8 1.7 .4-9 1-1.9 .4 .1 .2 4 1.2-.1 .4-.8 .8-.1 .4 2.3 1.4-.2 .4-1.6 1.2-.3 2.4 .4 1.6-2.1 1.2-.1 .4 5.7 1.7-.5 .4-4.4 1-.8 .4 .1 .4 1.6 1-.1 1.8 1.5 1.4-.1 .4-7.1 1.4 2.1 .4 10.5 .8 1.5 .4-9.9 1-1.4 .2-.7 .2 0 .2 3.5 1 1.2 .6 .3 .4-.1 .4-1.3 1-.6 1.1 .9 1 2 1-.7 .6-1.8 .6-.9 .8 .4 .6 3 1.4 .2 .4-.6 .4-2.6 .8-.9 .8 .7 .6 3.2 1.2 .5 .4-.9 .6-2.9 .8-.7 .4-.2 .4 .8 .6 3.8 1.2 .5 .4-.5 .4-4 1.3-.6 .6 .8 .6 4.1 1.2 .5 .4-.6 .4-4 1.2-.3 .4 1.6 .8 .2 .2-.1 .2-3.3 1 .1 .2 .9 .2 8.7 .8 2 .4-14 1.4 1.3 .4 7.1 1 .3 .2-.5 .4-5.5 1.6-.8 .4 1.5 .6 5.8 .8 1 .4-1.2 .5-3.7 .6-1.8 .6-.1 .4 .8 .8 3 1.2 .5 .6-5.1 1.8 .7 .4 5.2 1 .7 .4-3.7 1.2-.7 .4 0 .8 .3 .6 .9 .6 2.3 .8 .1 .4-4.1 1.2-.4 .4 4.3 1.2 .6 .4-.1 .4-2.9 1.7-1 1 .4 .4 3.7 1.4-.7 .4-6 1.2 1 .4 5.1 .8 .9 .4-2.8 1-.1 .4 .5 .6-.1 .4-2.1 1.2-.3 .4 .7 .6 2.9 1-.3 .4-2.5 1 1.6 .8 .3 .4-2 1 2.8 1.5-2.5 1.6-.5 .6 .2 .6 2.3 .8 .5 .4-.1 .4-1.2 .6-1 1.2-.3 .8 .5 .2M71.2 14.6l.1 17.5-.3 .6-1.2 1 .4 .4 .6 .2 5.6 1.2-1.3 .4-10 1-1.3 .4 2 .4 7.6 .8 1.7 .4-.5 .4-3.8 1.1-.4 .4 .8 1.8-.1 9.2 .2 6.1-.2 2.2 .3 .8 1.4 1.8-.2 .6-1.7 2 0 2.4-.6 2 .5 .8 2.6 1.4 .4 .6-.6 .6-2.6 1.5-.5 .8 .5 2.6 .1 8.6 .2 2.6-.2 3.1 .2 .6 1.4 1.2-.7 .4-4.9 .8-1 .4 13 1.4-1.5 .4-8.1 .8-1.1 .4 3.5 1 .7 .4-.8 1.6 .7 2.8-.8 2.9 .2 2.4-1 2.4 1.2 1.4-1.1 .4-5.2 1 1.8 .4 10.2 .8 1.7 .4-10.1 1-2.1 .4 .7 .4 3.5 .8 .6 .4-.9 3.2 .3 2.9-.9 2.2 .2 .6 .8 .6 .2 .4-1.1 .4-5.4 1 1.7 .4 10.1 .8 1.8 .4-12.1 1.4 .7 .4 3.5 .8 .7 .4-.7 2.8 .6 2.3 0 1 .4 .6 1.5 1-.2 .4-1.5 .8-.4 .4 .7 1.4 .4 2.2-.6 .4-3.2 .8-.5 .2 0 .2 9.4 1.4-1.2 .4-5.9 .8-1.1 .4 1.6 1 .4 .8 4.5 1 .4 .2-.2 .2-9.3 1.7-.7 .2 0 .2 12.9 1.4-1.7 .4-8.2 .8-1.2 .4 4 1.2 .1 .4-1 1 0 .4 2.1 1.4-1.6 1.2-.2 .4 .1 1-.2 1.4 .4 1.2-.1 .4-1.8 1.4 .6 .4 4.4 1.1 .7 .4-.8 .4-5.1 1.2 .1 .4 2.8 1.4 0 .4-.9 1.2-.1 .4 1.3 1.2-.5 .4-4.3 .8-.7 .2 0 .2 12.9 1.4-2 .4-9.2 .8-1.5 .4 5.1 1.2 1.6 .8-.4 .6-2.5 1-1 .8 .5 .7 3.6 1.2 .7 .4 0 .2-.8 .4-3.5 1-.8 .6 .2 .4 .9 .4 4.1 1.2 .2 .4-4.2 1.4-.8 .6 .2 .4 .8 .4 3.6 1 .5 .4-.3 .4-3.6 1.2-.8 .6 .2 .4 .6 .4 3.4 1.2-.1 .4-3 1.2-1.1 .9 .4 .6 2.6 1 .5 .4-.1 .2-2.8 1.4-.1 .4 1 .8 0 .2-.9 .4-3.9 .8 0 .2 12.8 1.4-2.4 .4-9.6 .8-.9 .2-.1 .2 6.5 1.2 0 .2-.2 .2-1.8 .6-2 1-.4 .6 .8 .4 4.7 .8 1.2 .4-1 .4-5 .8-1 .5 .2 .4 4.4 1.8 .5 .4-.7 .6-4.5 1.2-.7 .4 .8 .4 7.4 1.4-.7 .4-5.2 1-1 .4-.1 .4 .7 .6 4.4 1.6 .4 .4-.9 .4-5.2 1-.5 .4 5.5 1.2 .9 .6-3.5 1.9-1.3 1 .2 .4 .8 .4 3.7 1 .5 .4-.9 .4-4.7 .8-.6 .4 3.8 1 .8 .4-.3 1.8-2.4 1-.6 .6 .4 .4 3.6 1.4-.4 .4-3.9 1.2 3 1.2 .1 .4-.4 .6 .8 1-.5 .5-2.5 1-.3 .6 .9 .6 3.2 1 .6 .4-.5 .4-3.7 1-.9 .6 .1 .4 .8 .4 4.6 1.4-3.6 .2M76.7 14.6l.1 18.5-.3 .6-1.2 1 1.1 .6 4.4 .8 1.1 .4-1.4 .4-10 1-1.2 .4 9.7 1.2 1.6 .5-.5 .4-3.3 .8-.9 .6 .8 1.6 .1 16.7 .9 2.8-.9 2.4 0 2.6-.5 2.4 .5 .6 2.5 1.4 .5 .6-.5 .7-2.5 1.4-.6 .8 .5 2.4-.3 7.6 .5 5.3 .2 .8 1.4 1 .2 .4-1.1 .4-5.3 1 1.5 .4 9.6 .8 1.8 .4-11 1.4 .6 .4 3 .8 .3 .4-.9 1.2-.2 .6 .4 2.8-.9 2.6 .4 2.9-.7 1.8 .2 .6 1 1-1.1 .4-5.3 1 1.6 .4 10.2 .8 1.8 .4-12.3 1.4 0 .2 .6 .2 2.8 .6 1.3 .6-.9 3 .7 3.1-.6 2.2 .2 .4 1.3 1-.5 .4-4.7 .8-1.2 .4 2.4 .4 11.1 1-.1 .2-1.3 .2-9.2 .8-1.7 .4 3.7 1 1 .6-1.2 3 .3 2-.1 1.1 1.9 1.6-1.9 1.2-.3 .4 .8 1.4 .4 2.2-4.3 1.4 1.2 .4 7 .8 1.4 .4-7.5 1.2-.6 .4 1.5 .8 .4 .8 .3 .2 3.9 .8 .9 .4-1.2 .4-7.7 1.2-1.2 .5 1.7 .4 9.6 .8 1.6 .4-9.1 1-1.8 .4 .1 .2 4.1 1.2 0 .4-.8 .8-.1 .4 2 1.2 .3 .4-1.7 1.4 .1 1.2-.3 1.4 .3 1.4-1.8 1.2-.2 .4 .7 .4 4.6 1 .6 .4-1 .5-4.8 1-.7 .4 .4 .4 1.6 .8 .6 .6-.2 1.8 .3 .8-.1 .4-6.7 1.4 1.7 .4 10.5 .8 2.3 .4-12 1.2-1.4 .4 3.9 1.2 2 1 .1 .6-2.4 1.6-.2 .6 .7 .6 2.3 .9 .6 .4-.2 .4-2.2 1-.9 .8 .7 .8 2.2 .8 .4 .4-.2 .4-1.9 .8-1 .8 0 .4 .5 .6 2.3 1.2-.3 .4-2.3 1-.5 .8 1.1 1 1.9 .8 .3 .4-.6 .4-2.2 .8-.5 .4-.1 .4 .7 .6 3.1 1.3 .4 .4-1 .6-2.1 .6-.9 .6 .3 .4 2.3 .8 .3 .2-.1 .2-4.6 1.2 11.2 1.4-12.1 1.4 .2 .2 6 .8 1.5 .4-.4 .4-5.9 1.6-.6 .4 .2 .2 1.3 .4 6.2 .8 1.5 .4-.9 .4-5.7 .8-1.9 .6 0 .5 .6 .4 4.9 1.4 .8 .4 0 .2-.9 .4-5.6 1.2-.8 .4 1.1 .4 6.3 1 .9 .4-5.1 1.4-.9 .6-.4 .6 .2 .4 .6 .4 3.1 .8 .9 .4-.1 .2-5.1 1.2-.5 .4 3.9 1.2 .5 .4 0 .4-.7 1-2 1.3-.5 .6 .7 .6 3.6 1.2-.7 .4-4.5 1 1 .4 5.8 1-5.2 1.4 2.5 1.2-.2 .4-2 1 0 .4 3.7 1.4-.3 .4-3.1 1 1.3 1.2-.7 .8 3 1.4-.4 .4-3.5 1.1-1.3 .6 .6 .6 3.6 1 1 .6-.4 .4-4.1 1.2-1.2 .6 .2 .4 .8 .4 4.1 1.2 .1 .4-3 .2M82.2 14.6l.1 19.5-.3 .6-1.2 1 1.1 .6 4.5 .8 1 .4-1.5 .4-10 1-1 .2-.1 .2 9.9 1.3 1.5 .4-.6 .4-3.3 .8-.9 .6 .8 1.6 .3 7.4-.7 8.7 .2 7.8-.4 2.4 .6 .8 2.7 1.4 .4 .7-.6 .6-2.2 1.2-.6 .8 .5 2.8-.8 11.5 .4 .8 1.2 1-.7 .4-4.7 .8-1.1 .4 12.8 1.4-1.4 .4-8.3 .8-1.3 .4 3.5 1 .6 .4-1 1.8 .5 3-.6 2.6 .7 2.7-.5 2.2 1.3 1.4-.9 .4-5.4 1 1.5 .4 10.1 .8 1.9 .4-12.4 1.4 0 .2 .5 .2 3.4 .8 .7 .4-1.3 3.2 .6 2.9-.5 2.2 1.5 1.4-.8 .4-5.5 1 .1 .2 1.1 .2 10 .8 2.5 .4-2.2 .4-9 .8-1.1 .4 4 1 .8 .4 0 .4-.9 2.8 .3 1.8 0 1 .4 .7 1.4 1-.1 .4-2.1 1.2 1 3.6-.6 .4-3.3 .8-.6 .4 9.5 1.4-1 .4-5.8 .8-1.1 .4 1.6 1 .4 .8 4.5 1 .5 .2 0 .2-9.8 1.8 0 .2 .9 .2 12 1.3-1.8 .4-8.2 .8-1.2 .4 4.1 1.2 .2 .4-1.1 1 0 .4 2 1.4-.2 .4-1.5 1-.2 2.8 .4 1.4-1.7 1.2-.1 .4 .9 .4 4.4 1 .4 .4-4.8 1.3-.8 .4 .2 .4 2.1 1.2-.6 1.8 1.5 1.2 .1 .4-7 1.4 1.8 .4 9.7 .8 1.3 .2 .2 .2-9.4 1-1.8 .4 .6 .4 2.9 .8 .7 .6-.2 .8-1 1-.3 1 .6 .8 1.7 1 .2 .5-.4 .4-2.1 .8-.9 .8 .6 .6 3.2 1.2 .5 .4-.9 .6-2.9 .8-.7 .4-.2 .4 1.2 .8 3.2 1 .4 .4-.1 .2-4 1.2-.9 .4-.2 .4 .8 .6 4 1.2 .4 .4-.6 .4-4.1 1.2-.6 .6 .8 .6 3.5 1.1 1 .6-.7 .4-3.7 1.2-.3 .4 1.5 .8 .2 .4-3.5 1 0 .2 11.9 1.4-13.7 1.4 0 .2 1 .2 6.6 1 .3 .2-.5 .4-5 1.6-.5 .4 .8 .4 5.3 .8 1.3 .4-.7 .4-4.2 .8-1 .6 1.5 1.5 2 .8 .5 .6-.5 .4-3.4 1.2-.2 .4 5.5 1.2 .8 .4-5.1 1.6 1.2 1.8 2.1 1 0 .4-4.6 1.2-.6 .4 .9 .4 3.6 .8 .8 .6-3.8 2-.4 .8 .1 .5 .6 .4 3 1 .4 .4-6 1.4 1 .4 4.4 .8 .6 .4-.9 .6 .6 .8-.2 .4-4.6 1-.7 .4 .6 .4 5.1 1.4 .5 .4-.7 .4-3.4 1 .5 .4 2.1 .6 .6 .4-1.6 1 1.6 1 0 .4-1.3 .6-.8 .9 .4 .8 2.2 1.6-.4 .4-1.7 .8-.5 .6 1.4 1.4 .9 .6 .2 .4-.8 .6-1.6 .6-.2 .2 .5 .2M87.7 14.6l.1 20.3-.1 .6-1.4 1.2 1.2 .6 4.5 .8 .9 .4-1.6 .4-10.9 1.3 0 .2 .8 .2 9.1 1 1.4 .4-.7 .4-3.3 .8-.8 .6 .9 1.6-.3 7 .4 8.3-.6 7.8-.6 2.6 .4 .8 2.5 1.5 .4 .6-.5 .6-2.5 1.4-.5 .8 .6 2.2 .5 5 .2 3-.3 2.8 1.4 1.7-1 .4-5.5 1 1.4 .4 9.5 .8 1.9 .4-11 1.4 0 .2 .6 .2 3.1 .8 .5 .4-1 1.8 .7 3-.7 2.6 .3 2.7-.9 2.2 1.2 1.4-.9 .4-5.5 1 1.4 .4 10.1 .8 2.2 .4-12 1.4 0 .2 .5 .2 3.7 .8 .9 .6-.3 3 .8 2.8-.8 2.3 1 1.2-.4 .4-.7 .2-5.5 1 1.7 .4 10.1 .8 1.6 .4-12.5 1.4 0 .2 .6 .2 3.3 .8 .6 .4-1.2 3.2 .2 2.8 .2 .4 1.7 1.3-.3 .4-1.6 .8-.3 .4 1.6 3.2 0 .4-4.4 1.4 1.2 .4 7 .8 1.5 .4-7.2 1.2-.7 .4 1.5 .8 .3 .8 .3 .2 4.5 1 .2 .2-.3 .2-8.5 1.4-1.3 .4 1.8 .4 9.6 .8 1.4 .4-9.3 1.1-1.8 .4 .1 .2 4.1 1.2 .1 .4-1 1.2 .3 .4 1.5 .8 .4 .4-1.7 1.4 .2 1.2-.3 1.4 .2 1.6-1.9 1.2 0 .4 5.6 1.6-.7 .4-4.9 1-.8 .4 .4 .5 1.9 .8 .8 .6-.1 .4-.9 1.4 .9 1.2-.5 .4-5 1 .1 .2 .9 .2 12 1.2-1.9 .4-9.1 .8-1.5 .4 4.7 1.2 1.4 .8 .1 .4-.3 .4-2.3 1.2-.5 .4 0 .4 1.1 .8 2.7 1 .2 .4-4 1.7-.5 .6 .9 .6 3.6 1 .5 .4-.4 .4-3.7 1.2-.9 .6 .2 .4 .7 .4 2.7 .8 .8 .6-.5 .4-3.1 1.2-.7 .6 .2 .4 .6 .4 2.4 .8 .6 .4-.3 .4-2.2 1-.9 .8 .7 .8 2.7 1.2-.1 .5-1.9 .8-.6 .6 .2 .4 1.6 1-.6 .4-4.7 1 2.2 .4 10.5 1-2 .4-9.3 .8-.9 .2 0 .2 4.9 .8 1.2 .4-.4 .4-4 1.4-.6 .4 .3 .4 6.5 1.2 .5 .2 .1 .2-7 1.2-1 .4 0 .2 .6 .4 4.4 1.4 .9 .7-1 .6-4.6 1-1.5 .6 1.1 .4 6.8 1 1.1 .4-.9 .4-5.2 1-1 .4-.3 .6 .3 .4 5.5 1.6 .3 .4-6.8 1.6 .5 .4 4 .8 1.7 .6 .1 .4-.5 .4-3.8 1.8-.5 .6 .6 .4 4.1 1.1 .7 .4-1 .4-4.9 1 .9 .4 3.2 .6 1 .4-1.6 .8-.4 .4 1.2 1-.3 .8-3.9 1.6 .8 .4 4.3 1-.5 .4-2.5 .8 .9 1.2-.7 .8 2.5 1 0 .4-3.4 1-.9 .4-.2 .4 .8 .7 4.1 1.2 .4 .4-.8 .4-4.1 1-.9 .6 .2 .4 .9 .4 4.8 1.4 0 .2-.9 .4-3.7 .8-1.4 .6-.2 .2 2.8 .2M93.2 14.6l.2 21.3-.2 .6-1.4 1.2 1.3 .6 4.5 .8 .8 .4-1.7 .5-10.8 1.2 0 .2 .9 .2 9.1 1 1.3 .4-.8 .4-3.2 .8-.8 .6 .8 1.2 .1 .6-.2 6.2 .1 16.3-.3 2.6 .6 .8 2.6 1.5 .3 .6-.6 .6-2.2 1.2-.6 .8 .4 2.6-.7 9 .2 .6 1.2 1.1-.6 .4-4.7 .8-1.2 .4 2.2 .4 10.6 1-.1 .2-1.2 .2-8.3 .8-1.4 .4 3.5 1 .8 .6-.7 1-.2 .8 .7 3.2-.6 2.4 .4 2.6-.9 2.3 1.1 1.4-.8 .4-5.6 1 .1 .2 1 .2 10.1 .8 2.4 .4-12 1.4-.2 .2 .5 .2 3.7 .8 1 .6-.1 3 1.1 2.8-.7 2.3 1 1.2-.7 .4-4.8 .8-1.1 .4 13.3 1.4-1.6 .4-9.3 .8-1.8 .4 3.7 1 1 .6-1.1 3.2 .3 2.6 .3 .6 1.3 .8 .3 .4-2 1.3-.3 .4 1.5 3.4-.6 .4-3.2 .8-.7 .4 1.7 .4 7 .8 .8 .2 0 .2-6.6 1-1.1 .4 1.5 1 .3 .8 4.4 1 .5 .2 0 .2-9.9 1.8 .1 .2 .9 .2 11.8 1.2-1.8 .4-8.4 .9-1.1 .4 4 1.2 .2 .4-1.1 1.4 1.9 1.4-.2 .4-1.7 1.2 .1 1.2-.4 1.4 .2 1.4-1.8 1.6 .6 .4 4.6 1 .8 .4-.7 .4-4.7 1-.6 .4 2.7 1.7 .2 .4 0 1.4 .8 1 0 .4-1.1 .4-5.5 1 1.5 .4 10.1 .8 2.3 .4-2.1 .4-8.5 .8-1.1 .4 3.2 1.2 1.2 1.6 0 .4-1.4 1.4-.3 .6 .1 .4 1.6 1 .2 .4-.2 .4-1.8 1.3-.3 .6 .6 .8 1.9 .8 .2 .4-2.2 1-.7 .6-.2 .4 .8 .8 2.1 1 .3 .4-.5 .4-2.3 .8-.6 .8 .5 .6 2.9 1.2 .4 .4-.5 .4-3 1-.5 .4-.1 .4 1.3 .8 3 1 .3 .4-.7 .4-2.9 .9-1 .6 .3 .4 2.8 1 .1 .2-.2 .2-4.6 1 1.8 .4 9.2 1-11.9 1.4 .1 .2 7.5 1.2 0 .2-.3 .2-6.2 1.6-.6 .4 .2 .2 1.6 .4 6.1 .8 1.1 .4-1.2 .4-5.2 .8-1.6 .6 0 .4 .9 .6 4 1.2 .8 .7-.7 .4-5.6 1.4 .5 .4 5.5 1 1.1 .4-.4 .4-3.2 1-1.2 1.4 .1 .4 .5 .4 2.6 .8 .5 .4-.1 .2-3.6 1-.7 .4 .6 .4 3.1 1 .1 .4-2.9 3.2 1 .8 1.8 .6 .3 .5-4.7 1.2 .6 .4 4.6 1 .1 .2-.3 .2-2.3 .8-.1 .2 .7 1-2.5 1.4 .4 .4 3.7 1 .5 .4-6.7 1.4-.1 .2 .8 .2 5.1 1-.5 .4-1.8 .6 0 .4 1.6 1-2.8 1.6-.5 .6 .7 .6 2.6 .9 .6 .4-.2 .4-1.8 .8-1.5 1.2 .2 .6 2.8 1 .5 .4-.2 .4-1.3 .6-1.3 1.2-.1 .6 .9 .2M98.7 14.6l.2 22.3-.2 .6-1.4 1.2 .6 .4 5.3 1.1 .7 .4-1.8 .4-8.5 .8-2.2 .4 1.1 .4 7.6 .8 2.6 .6-4 1.2-.8 .6 .7 1 .2 .8 0 13.1-.4 9.4-.3 2 .6 .8 2.6 1.5 .4 .6-.4 .6-2.1 1.2-.6 .8 .6 2.2 .2 1.6 .2 4.2-.2 2.6 1.1 1.4-1 .4-5.5 1.1 1.1 .4 9.4 .8 2.1 .4-11.3 1.4-.1 .2 .5 .2 2.6 .6 1.1 .6-1.2 2 .6 3-.7 2.6 .6 2.6-.5 2.3 1.4 1.4-.8 .4-5.5 1 .1 .2 1 .2 9.9 .8 2.6 .4-2.1 .4-9 .8-1.3 .4 3.9 1 .9 .6-1.1 3 .6 2.8-.6 2.1 1.2 1.4-.9 .4-5.4 1 1.2 .4 10.1 .8 2.4 .4-2.3 .4-9.1 .8-1.1 .4 3.9 1 .8 .4 0 .4-.8 3 .4 2.6 .5 .6 1.5 1-.2 .4-1.6 .8-.6 .7 1.3 3-.1 .4-.8 .4-3.9 1 1 .4 6.9 .8 1.6 .4-1.4 .4-5.7 .8-.7 .4 1.5 .8 .3 .8 .3 .2 4.6 1 .3 .2-.2 .2-8.3 1.4-1.2 .4 2 .4 9.6 .8 1.5 .4-9.3 1-1.8 .4 4.4 1.5 0 .4-.9 1-.1 .4 1.9 1.4-1.8 1.4 0 1.4-.4 1.4 .1 1.4-1.8 1.2-.2 .4 .8 .4 4.5 1 .5 .4-6.1 1.6 .1 .4 2.3 1 .4 .4-.7 1.9 1.2 1 .1 .4-6.1 1.4 1.9 .4 9.4 .8 1.2 .2 0 .2-9.2 1-1.6 .4 4.4 1.4 0 .6-1.4 1.8-.1 .6 .4 .8 1.8 1.6-.6 .6-2.3 1-.4 .6 .6 .7 3.2 1.2 .4 .4-.4 .4-4 1.2-.6 .6 .9 .6 4.1 1.2 .5 .4-.6 .4-3.9 1.2-.6 .6 .9 .6 3.6 1 1 .6-.6 .4-3.9 1.2-.7 .6 .7 .6 3.4 1 .7 .6-4.5 1.9 .2 .4 1.4 .8 0 .2-.3 .2-4 1 2.1 .4 10.1 1-2.3 .4-9.9 .8-1.1 .2 0 .2 7 1.2 .2 .2-.2 .2-4.4 1.6-.6 .4 .5 .4 5.7 1 .6 .4-4.9 1-1 .4-.1 .2 .3 .4 3.2 1.8 .4 .4-.7 .6-4 1.5 0 .2 1.2 .4 5.7 1.2-.6 .4-4.6 1-.8 .4 .1 .4 .8 .6 3.6 1.6 .3 .4-.9 .4-4.2 .8-1.1 .4 .6 .4 5.3 1 .7 .6-4.4 2-.7 .6 .2 .4 .8 .4 3.9 1.2 .2 .2-.2 .2-5.4 1.1-.9 .2 0 .2 4.9 1 .9 .4-1.9 1 0 .4 .4 .4-.1 .4-2.6 1-.7 .6 1.3 .8 3.2 1 .3 .4-.5 .4-2 .6-2 1-.3 .2 0 .4 .7 .4 4 .8 1 .4-.5 .4-3.9 1-.8 .6 .3 .4 3.8 1.4 .3 .4-1 .7-2.5 .8-.7 .6 .4 .6 3.2 1.2 .5 .4-.5 .4-3.3 1-.8 .6 .1 .4 .7 .4 3.9 1.2-2.5 .2M104.2 14.6l.2 23.3-.3 .6-1.2 1.3 1.4 .6 4.5 .8 .6 .2 0 .2-12.6 1.6 1.3 .4 9 1 1.1 .4-4.1 1.2-.7 .6 .7 1 .2 .8-.3 13.9-.3 7.8-.5 2.2 .4 .9 2.4 1.4 .5 .6-.4 .6-2.3 1.4-.5 .8 .6 2.6 .1 6.4 1.2 1.4-.5 .4-5.9 1.3 2.1 .4 10.7 1 0 .2-1.2 .2-8.4 .8-1.6 .4 3.5 1 .9 .6-.8 1.2-.2 1 .8 2.6-.3 2.8 .7 2.6-.5 2.3 .2 .4 1.2 1-.7 .4-4.8 .8-.8 .2 0 .2 13.5 1.4-1.9 .4-9.1 .8-1.4 .4 3.9 1 .9 .6-1.2 3 .4 2.8-.6 2 1.1 1.3-.3 .4-.8 .2-5.1 1 1.9 .4 10.3 .8 1.6 .4-10.3 1-2.1 .4 .6 .4 3.4 .8 .6 .4-1 3.4-.1 2.6 .3 .4 1.6 1.2-2.6 1.6 1.4 3.3-.1 .4-4.4 1.4 1.5 .4 7.1 .8 .9 .2 .1 .2-6.4 1-1.2 .4 1.7 1 .3 .8 4.3 1 .6 .4-9.8 1.8 .1 .2 1 .2 9.3 .8 2.5 .4-2 .4-8.4 .8-1.1 .4 4.2 1.2 .2 .5-1 1.4 2 1.6-1.7 1.4 .3 1.2-.3 1.6 .2 1.4-1.7 1.2-.1 .4 5.9 1.6-.4 .4-4.8 1-1 .4 .2 .4 2.9 1.4 0 .6-.5 1.3 .6 1.2-.8 .4-4.5 .8-.7 .2 .1 .2 13 1.4-2 .4-9.1 .8-1.5 .4 3.7 1.2 .7 .8 .2 .6-.2 .4-2 1.4-.4 .6 .4 .6 2.3 1 .5 .6-.3 .4-2.4 1.2-.4 .6 .7 .6 3.1 1.1 .6 .4-.3 .4-3 1.2-.7 .6 .9 .8 2.5 .8 .5 .4-.2 .4-3.1 1.4-.4 .6 .8 .8 2.3 1-.1 .4-1.9 .8-1.1 1 .1 .4 .7 .6 2.2 1-.1 .4-2.2 1-.5 .6 .4 .4 2 .9 .2 .4-5.8 1.2 1.8 .4 10.7 1-1.6 .4-9.8 1 .1 .2 4.8 .8 1.1 .4-.6 .4-4.5 1.4-.5 .4 .1 .2 1.2 .4 5.5 .8 1.3 .4-1 .4-5.8 .8-1.5 .4-.3 .4 .6 .4 5.2 1.6 .6 .4-1.1 .6-5 1-1.3 .5-.1 .2 1.3 .4 6.8 1 1 .4-1 .4-4.7 1-1.4 1 .1 .4 1.3 .6 4.6 1.2-.4 .4-4.3 .8-1.7 .6 .7 .4 3.2 .8 1.1 .6 .1 .6-.2 .6-3.1 1.4-.6 .6 .9 .6 3.2 .8 .6 .4-4.7 1.2 .5 .5 3.8 1-2.4 1 .3 .4 1.4 .6 .3 .4-2.4 1-.8 .6 .5 .6 2.7 1 .2 .4-3.2 1.2 4.3 1.2-.5 .4-3 .6-1.5 .6 2.9 1.2 .2 .4-2.3 1.2-.2 .4 .5 .4 2.2 .6 1.3 .6-.4 .4-4.6 1.7 0 .4 .7 .4 3.4 1 .9 .6-.6 .4-4.8 1.6 .1 .4 .7 .4 3.8 1 .7 .4 0 .2-3 .2M109.8 14.6l.1 24.3-.3 .6-1.2 1.3 1.5 .6 5 1 0 .2-2.1 .4-8.5 .8-2 .4 1.4 .4 9 1 1 .4-4.1 1.2-.6 .6 .7 1 .2 .8 .2 19.7-.1 1.8-.6 2 .5 .9 2 1.2 .6 .6-.3 .6-2.4 1.4-.6 .8 .6 2.8 .2 5 1.1 1.4-.9 .4-5.5 1 .1 .2 1 .2 9.4 .9 2.2 .4-2.1 .4-8.4 .8-1 .4 3.7 1 .5 .4-.9 1.6-.1 1 .7 2.4-.3 2.8 .7 2.6-.6 2.4 1.3 1.3-.7 .4-4.8 .8-1 .4 13.5 1.4-1.7 .4-9.2 .8-1.5 .4 3.8 1 1 .6-.8 3.2 .7 2.6-.3 2 1.1 1.2-.6 .5-4.7 .8-.9 .4 13.8 1.4-1.7 .4-9.2 .8-1.6 .4 3.7 1 1 .6-1 3.4 0 2.4 .4 .6 1.3 .8 .2 .4-2.3 1.2-.4 .4 1.3 3.5-.8 .4-3.4 .8-.5 .2 .1 .2 9.4 1.4-1.3 .4-5.6 .8-.8 .4 1.5 .8 .6 1 4.4 1 .3 .2-.2 .2-8.4 1.4-1.1 .4 1.9 .4 9.6 .8 1.2 .2 .2 .2-9.6 1-1.8 .4 4.4 1.4 .1 .4-.8 1.1-.1 .4 2 1.4-.2 .4-1.3 .8-.3 .4 .4 1.2-.2 1.4 .2 1.6-1.9 1.4 .6 .4 4.5 1 .9 .4-.7 .4-4.9 1-.8 .4 .3 .4 2.4 1.2 .1 .4-.4 1.4 .9 1.3-.1 .2-1.1 .4-5.5 1 1.5 .4 9.8 .8 2 .4-10.4 1.2-.8 .4 2.5 .8 .6 .4-.3 1 .3 1.6-.6 1.8 .9 1.6-.6 .8-.3 1.2 .5 .8 1.4 .8 .3 .5-.2 .4-2.1 1-.3 .4 0 .4 1.6 1 1.7 .6 .4 .4-.9 .6-2.4 .8-.6 .4 0 .4 1.2 .8 2.9 1 .3 .4-.7 .4-3.3 1-.6 .4-.1 .4 1.1 .6 4 1.4 0 .2-.8 .4-3 .8-1.1 .6 .2 .4 3.1 1 .3 .3-.2 .2-4.7 1 1.5 .4 9.6 1-2 .4-9.9 1 1.3 .4 5.7 .8 .6 .4-6.7 1.8-.5 .4 .3 .2 7.9 1.4-.6 .4-4.9 .8-1.8 .6-.1 .6 .6 .6 3.2 1.2 .5 .4-.4 .4-4.4 1.2-.6 .4 .8 .4 5.4 1.3-.4 .4-3.4 1.2-.1 1.4 .2 .4 2.6 1.2 0 .4-3.3 1-.5 .4 .8 .4 3.6 1-.1 .6-1.3 .8-1.1 1 0 1 .7 .8 2 .8 .3 .4-5.3 1.4 5.1 1.1 1.1 .4-2.9 1-.2 .4 .3 .8-1.5 .8-.7 .6 0 .4 .5 .4 2.4 1 .3 .4-4 1.4 2.1 1-.4 1 4.1 1.2-1 .4-7.3 1-.6 .4 5.9 1.2 2 .8-.7 .6-2.9 1-.6 .7 .6 1 2.7 1.6-.3 .4-1.9 .8-.5 .6 .5 .8 2.3 1.6-.6 .6-1.5 .6 .2 .2M115.3 14.6l.1 25.4-.3 .6-1 .8-.2 .4 .7 .4 5.9 1.2-.9 .4-9.9 1-1.9 .4 1.6 .4 9 1 .9 .4-4.1 1.2-.6 .4 .9 1.8-.2 9.9 .4 7.8-.2 3-.8 2.7 .4 .6 2.2 1.4 .4 .6-.5 .6-2.4 1.4-.4 .8 .5 2.4 .1 3.8 1.2 1.4-.5 .4-.7 .2-5.1 1 2 .4 9.6 .8 1.2 .2 .1 .2-9.5 1.1-1.7 .4 .8 .4 3.1 .8 .4 .4-.7 1.4-.2 1 .7 2.8-.3 2.8 .7 2.4-.6 2.2 .2 .4 1.1 1.1-.5 .4-4.8 .8-1.1 .4 2.5 .4 11.1 1-1.6 .4-9.2 .8-1.6 .4 3.7 1 1 .6-1.3 3.4 .4 2.4-.6 2 1.1 1.2-.9 .4-5.4 1.1 1.4 .4 10.3 .8 2.3 .4-2.3 .4-9 .8-1.1 .4 3.9 1 .8 .4 .1 .4-.7 3.4 .3 2.2 .5 .6 1.6 1-.2 .4-1.8 .8-.6 .6 1.4 3.1-.1 .4-4.8 1.4 1.4 .4 6.8 .8 1.1 .4-6.4 1-1.3 .4 .1 .2 1.5 .8 .1 .8 .4 .2 3.8 .8 .6 .4-9.7 1.8 1.1 .4 9.4 .8 2.4 .4-2 .4-8.4 .8-1.1 .4 3.7 1 .7 .4 0 .4-.8 1 0 .5 1.8 1.4-1.8 1.4 .4 1.4-.3 1.4 .1 1.4-2 1.6 .6 .4 4.5 1 .8 .4-.9 .4-5.5 1.2-.1 .4 2.7 1.4 0 .6-.8 1.2 .9 1.3-.1 .2-5.9 1.4 2.1 .4 10.6 1 0 .2-1.2 .2-8.5 .8-1.6 .4 3.9 1 1 .6-1.2 2.2-.1 .6 .5 .8 1.7 1.4 .2 .4-.6 .6-1.9 1-.3 .6 .6 .6 3 1.2 .4 .4-.5 .4-3.5 1.3-.6 .4 0 .4 1.8 .8 2.9 .8 .4 .4-.6 .4-4.1 1.2-.7 .6 1.2 .8 3.7 1.2-.2 .4-3.6 1.2-.8 .4-.3 .4 1.1 .8 2.7 .8 .6 .4-.2 .4-2.7 1-.7 .6 2.1 1.4-4.9 1.3 1.9 .4 10.9 1-1.8 .4-9.6 .8-1.1 .2 0 .2 6.3 1.2 .1 .2-.2 .2-3.9 1.4-.7 .6 1.9 .6 3.8 .6 1 .4-1.2 .4-4.8 .8-.8 .4 .4 .6 3.4 1.6 .4 .6-1.2 .6-3.9 1-.6 .4 1 .4 6.1 1 .9 .5-1 .4-4.9 1-.6 .2-.2 .4 .6 .8 4.4 1.4 .7 .4-.1 .2-1.2 .4-4.6 .8-1 .4 .6 .4 5.2 1 1 .6-1.1 .8-3.7 1.4-.8 .6 .9 .6 4.4 1 .7 .4-6.2 1.4 .8 .4 3.6 .8 .3 .2-.1 .2-.8 .5-.2 .4 1.7 1-.4 .4-3.3 1.2-.3 .4 .2 .2 5 1.6-.6 .4-3.1 1 1.5 1-1.3 1 .1 .2 2.2 1.2-.5 1.2-.8 .4-5 1.2 0 .2 .7 .2 6.5 1.2 0 .2-.5 .2-4.5 1-1 .6 1.6 .9 3.3 .8 .4 .4-.6 .4-3.2 .8-1.1 .6 0 .4 .7 .4 5 1.6-.4 .4-5 1.4-.2 .2 2.1 .2M120.8 14.6l.1 26.4-.3 .6-1 .8-.2 .4 .8 .4 5.8 1.2-1 .4-10 1-1.7 .4 1.6 .4 8.9 1 .8 .4-3.7 1-1.1 .6 .8 1.6 .3 8.9-.6 8.4 0 3.6-.3 2.1 .5 .8 2.1 1.2 .6 .6-.3 .6-2.3 1.4-.6 .8 .3 2.2-.1 2.8 1.2 1.4-.9 .4-5.3 1 0 .2 1 .2 9.6 .8 2.5 .4-1.9 .4-8.3 .9-1 .4 3.7 1 .8 .6-.7 2.4 .7 2.8-.6 2.6 .5 2.8-.7 2 .3 .6 1 .8-.6 .4-5.9 1.3 2.2 .4 11.2 1-.1 .2-1.3 .2-9.2 .8-1.8 .4 4.2 1.2 .5 .4-1 3.2 .9 2.6-.3 1.8 1.1 1.2-.4 .4-.8 .2-5.1 1 2.1 .4 10.3 .9 1.3 .2 .2 .2-10.4 1-2.2 .4 .7 .4 3.3 .8 .5 .4-.9 3.6 .1 2.2 .4 .6 1.7 1.2-2.6 1.6 0 .4 1.4 3.1-.7 .4-3.5 .8-.5 .2 0 .2 9.2 1.4-1.1 .4-5.6 .8-.8 .4 1.7 1 .2 .8 4.4 1 .4 .2-.2 .2-8.5 1.4-1.1 .4 2.1 .4 9.6 .8 1.2 .2 0 .2-9.6 1-1.9 .4 4.4 1.4 .1 .4-.9 1.4 .3 .4 1.6 1.1-.2 .4-1.6 1.2 .4 1.4-.2 1.4 .1 1.4-1.7 1.2-.1 .4 .8 .4 4.6 1 .6 .4-6.3 1.6 0 .4 2.7 1.4 .1 .6-.5 1.2 .7 1.2-.9 .4-4.6 .9-.7 .2 .1 .2 13.5 1.4-1.9 .4-8.8 .8-1.4 .4 3.1 1 .9 .6 .2 1.8-1.3 1.6-.1 .6 2.1 1.8-.2 .4-1.8 1.4-.2 .6 .3 .4 2.2 1 .4 .4-.2 .4-2.1 1.3-.4 .6 .7 .8 1.8 .6 .8 .6-.4 .4-2.2 1-.6 .8 .7 .8 1.9 .8 .2 .4-.4 .4-2 .8-.8 .8 .6 .8 2.1 1 .4 .4-.4 .4-2.4 .8-.8 .6 .6 .6 2.3 .8 .5 .4-6.4 1.2 1.3 .5 10.7 1 0 .2-1.2 .2-9.4 1 .1 .2 4.8 .8 1.1 .4-.7 .4-4.8 1.4-.3 .4 .2 .2 7.6 1.2 .9 .4-1.3 .4-5.6 .8-1.2 .4-.2 .4 1 .6 4.7 1.4 .6 .4-1 .6-6.2 1.4 .1 .2 1.4 .4 6.2 1 .5 .4-4.6 1.5-1 .6-.5 .6 .3 .4 .7 .4 4.2 1.2-.4 .4-3.7 .8-1.2 .6 2.9 1 .6 .6-.2 1.6-2.6 1.4-.3 .4 .6 .6 1.9 .6 .6 .4-.7 .4-3 .8 .1 .2 4.4 1.2-3.3 1.2 .3 .5 1.7 .8-.2 .4-1.9 1.4 .6 .6 2.3 1-.3 .4-2 1 2.1 1 0 .4-1.6 .8 .4 .4 1.3 .6 .3 .4-.5 .4-2.7 1-.2 .4 5.3 1.6-.9 .4-6.5 1.2 0 .2 .5 .2 3.5 1 .2 .2-.1 .6 1.1 1.3-.3 .4-2.6 1.4-.5 .6 .4 .6 2.4 .8 .9 .6-3.4 2-.2 .6 1.1 .2M126.3 14.6l.1 27.4-.3 .6-1 .8-.2 .4 .9 .4 5.7 1.2-1.1 .4-10 1-1.6 .4 1.8 .4 7.7 .8 1.2 .2 .7 .4-3.7 1-1.1 .6 .8 1.8-.2 14.7 .3 5.2-.3 2.3 .6 .8 2.3 1.4 .5 .6-.4 .6-2.3 1.4-.4 .6 .6 3.8 1.1 1.2-.5 .4-.8 .2-5.1 1 1.8 .4 9.7 .8 1.5 .4-9.5 1-1.9 .4 .7 .4 3.1 .9 .4 .4-1 2.8 .5 2.6-.6 2.8 .5 2.4-.7 2.2 .3 .6 1 .8-.4 .4-.8 .2-5.2 1.1 2.1 .4 10.1 .8 1.2 .2 .1 .2-10.4 1-1.9 .4 .8 .4 3.4 .8 .5 .4-.9 2.4-.1 1 .6 2.4-.4 1.8 1 1.2-.6 .4-4.7 .8-.8 .2-.1 .2 14 1.5-1.7 .4-9.3 .8-1.6 .4 4.6 1.4 .1 .4-.6 3.6 .3 2 .5 .6 1.5 .8 .3 .4-2.2 1.2-.4 .4 .9 2 .7 1 0 .4-4.8 1.5 1.2 .4 6.9 .8 1.1 .4-7.5 1.4 0 .2 1.5 .8 .2 .8 .3 .2 3.7 .8 .7 .4-9.9 1.8 1.3 .4 9.4 .8 2.3 .4-2 .4-8.6 .8-1.1 .4 3.7 1 .7 .4 0 .4-.8 1-.1 .4 1.8 1.4-.3 .5-1.6 1 .3 1.6-.2 1.4 .1 1.2-.5 .6-1.4 .8-.1 .4 1 .4 4.6 1 .4 .4-6.4 1.6 .1 .4 2.8 1.4 0 .4-.5 1.4 .8 1 0 .2-1.1 .4-5.3 1.1 1.6 .4 9.8 .8 1.8 .4-11.1 1.4 0 .2 .5 .2 2.8 .8 .3 .4-.8 1.2 .8 2.2-.2 2.4-.6 1 0 .6 .5 1 1.3 1.4-.5 .6-1.6 .8-.4 .8 .7 .7 2.9 1.2 .3 .4-.5 .4-3.3 1-.6 .4 0 .4 1 .6 3.9 1.4-.8 .6-3.5 1-.7 .4-.1 .4 1.1 .6 3.5 1 .7 .4-.3 .4-3.6 1-1.2 .6 0 .2 .8 .4 2.6 .8 .4 .2-.2 .2-4.9 1 1.3 .4 10 1.1-1.7 .4-10.1 1 1.3 .4 5.5 .8 .7 .4-5.6 1.6-.8 .4 .1 .2 1.3 .4 5.6 .8 1 .4-1 .4-4.5 .8-1 .4-.2 .4 .7 .8 .5 .4 2.1 .8 .5 .6-4.8 1.8 .6 .4 4.8 1 .6 .4-4.6 1.7 1.1 1.6 2.4 1.2 0 .4-4.7 1.4 .6 .4 5 1.2-.4 .6-3.5 1.8-.2 .6 .5 .6 3.2 1.2 .6 .4-1 .4-4.5 .8-.7 .2 .1 .2 5.4 1 .8 .4-2.2 1 .5 .8-.2 .5-2.4 .8-.9 .6 .8 .6 3.2 1 .6 .4-.6 .4-3.8 1 0 .2 .3 .2 1.7 .8 .1 .4-.4 .6 2.1 1.2-.4 .4-3 1-.8 .6 1.5 1 4.2 1.2 .9 .4 0 .2-1.3 .4-8.7 1.4 1 .4 8.2 1 1.5 .5-.7 .4-5.2 1-1.1 .6 .5 .6 3.5 1.2 .6 .4-.4 .4-3.1 1-.9 .6 0 .4 .5 .4 3 1-2.4 .2M131.8 14.6l.1 28.4-.3 .6-1.2 1 .4 .4 .6 .2 5.6 1.2-1.2 .4-10 1-1.4 .4 1.9 .4 7.6 .8 1.2 .2 .6 .2 0 .2-3.7 1-1 .6 .8 1.8 .2 13.7-.3 5.2-.6 2.9 .5 .8 1.9 1.2 .6 .6-.4 .6-2 1.2-.6 .8 .4 2.4 1.2 1.4-.7 .4-4.7 .8-.8 .2 0 .2 13 1.4-1.8 .4-8.5 .8-1.3 .4 3.4 1 .7 .5-1.1 3 .5 2.8-.4 2.4 .9 2.8-.4 2.2 1.4 1.2-.3 .4-.8 .2-5.2 1 2 .4 10.2 .9 1.3 .2 .1 .2-10.1 1-2.1 .4 .8 .4 3.4 .8 .6 .4-1 3.4 .5 2.4-.4 1.8 .9 1.2-1 .4-5.3 1 1.4 .4 10.4 .8 2.2 .4-11.6 1.3-1 .4 3.7 1 .7 .4-.1 2-.5 2 .1 1.8 .4 .6 1.9 1.2-.2 .4-1.8 .8-.7 .6 1.6 3.2-.6 .4-3.6 .8-.6 .4 9.1 1.5-1 .4-5.7 .8-.9 .4 1.7 1 .2 .8 4.2 1 .3 .2-.2 .2-8.6 1.4-1 .4 2.1 .4 9.6 .8 1.2 .2 0 .2-9.7 1-1.8 .4 4.3 1.4 .2 .4-.7 1.2 0 .4 1.8 1.4-1.8 1.5 .5 1.6-.2 2.6-1.9 1.6 1.2 .6 4 .8 .9 .4-.5 .4-5 1-.9 .4 .3 .4 1.9 .8 .8 .6 .1 .4-.4 1.2 .7 1.2-.6 .4-4.4 .8-1 .4 2.4 .4 10.8 1.1-.1 .2-1.2 .2-8.8 .8-1.7 .4 4.1 1.2 .5 .4-1.2 2.4-.1 .8 .2 .6 1.3 1.8-.4 .6-1.5 1-.4 .6 .5 .6 2.7 1.2 .3 .4-.2 .4-2.7 1.2-.6 .6 .6 .6 3.8 1.3 .4 .4-.5 .4-3.5 1.2-.6 .6 1.1 .8 2.7 .8 .6 .4-.3 .4-3.7 1.4-.6 .6 .9 .8 2.6 1 .1 .2-.5 .4-1.7 .6-1.3 .8 .1 .4 2.1 1.2-5.8 1.2 1.5 .4 11.4 1 0 .2-1.3 .2-10.5 1.1 0 .2 .7 .2 4.9 1-.2 .4-3.7 1.4-.3 .4 .3 .2 6.9 1.4-.7 .4-5 .8-1.2 .4-.2 .2 .4 .4 4.5 1.8 .4 .4-.9 .6-5.5 1.4 .5 .4 7.2 1.2 .7 .4-6.1 1.4-.9 .4-.3 .5 .1 .4 .6 .4 4.3 1.2 .9 .4-.2 .2-6.2 1.2-.9 .4 .7 .4 4.2 1 .8 .4 .2 .4-.6 .8-4 1.4-.6 .6 1.2 .6 3.6 .8 .7 .4-5 1.2-.1 .2 3.4 1 .1 .2-.3 .2-1.9 .6-.1 .2 3 1.2-.3 .4-3.3 1.1-.9 .6 .7 .6 3.5 1.2-.5 .4-2 .8 .9 .8 .1 .4-1.8 1 3.4 1.2 .1 .4-3.3 1.2-.6 .6 1.1 .8 2.8 1 .1 .4-2.2 .8-.4 .4 .4 .4 1.7 .6 .3 .4-3.7 1.4 3.1 1.3 .5 .4-2.1 1-.3 .4 .2 .2 2.6 .8 1.1 .6-.5 .4-3.2 1-1.1 .6 .2 .4 .8 .4 2.8 .8 1.1 .6-3.4 .2M137.3 14.6l.1 29.4-.3 .6-1.2 1 1 .6 5.6 1.2-1.4 .4-10.1 1-1.2 .4 9.6 1.2 1.7 .4-.6 .4-3.8 1-.4 .4 .8 1.6 .3 7.9-.3 9.8-.8 3.7 .5 .8 2.7 1.8-.2 .6-2 1.4-.5 .8 .4 1 1.4 1 .2 .4-1 .4-5.1 1 1.7 .4 9.8 .8 1.7 .4-11.4 1.4-.1 .2 .6 .2 2.9 .8 .5 .4-1.4 3.1 .1 2.8-.7 2.4 .6 2.8-.6 2.2 1.4 1.4-1.1 .4-5.3 1 1.8 .4 10.1 .8 1.7 .5-10.1 1-2.2 .4 .7 .4 3.4 .8 .6 .4-.9 3.4 .8 2.4 0 1.8 1 1-.5 .4-.8 .2-4.9 1 2.2 .4 10.4 .8 1.4 .2 .1 .2-10.4 1-2.1 .4 .6 .5 3.2 .8 .5 .4-.4 2-.8 2 0 1.8 .5 .6 1.9 1.2-.4 .4-1.8 .8-.5 .6 1 1.8 .8 1 0 .4-4.7 1.4 1.1 .4 6.9 .9 1.3 .4-7.4 1.4 0 .2 1.6 .8 .2 .8 .3 .2 3.7 .8 .8 .4-1.4 .4-8.4 1.4 1.3 .4 9.6 .8 2.3 .4-2.1 .4-8.6 .8-1.1 .4 3.7 1 .7 .4 .1 .4-.8 1.4 1.8 1.4-.2 .4-1.8 1.2 .5 1.7-.5 2.6-2.1 1.6 .6 .4 4.6 1 .7 .4-.8 .4-5.6 1.2-.2 .4 2.1 1 .8 .6-.4 1.6 .7 1.2-.9 .4-5.3 1 1.2 .4 9.9 .8 2.6 .4-1.9 .5-8.5 .8-1.3 .4 3.2 1 .6 .4 0 1 .6 1.6-.7 2 1.4 2-1.1 2.2 1.3 1.6-1.5 1.6-.3 .6 .2 .6 1.4 .9 .2 .6-2.2 1.2-.6 .8 .8 .8 1.8 .8 .4 .4-.8 .6-1.8 .6-.8 .8 .4 .6 3.2 1.4 .2 .4-.7 .4-2.6 .8-.7 .4-.1 .4 4.2 1.6-1.4 .4-4.6 .6-.9 .2 0 .2 10.4 1 1.3 .2 .1 .2-10.3 1.3 5.9 1.4-.7 .4-4.7 1.2-.8 .4 .1 .2 1.3 .4 7.7 1.2 0 .2-.6 .2-5.3 .8-2 .6-.1 .4 .9 .6 4.6 1.4 .5 .4-1.1 .6-4.7 1-.8 .4 .8 .4 5.6 1 .9 .4-3.8 1.4-1.5 1.4 .1 .5 .6 .4 2.8 .8 .4 .4-.7 .4-3.4 1 .2 .4 2.8 1-.1 .6-.5 .6-.2 1-1.3 1.6 .4 .6 2 1-.8 .4-2.5 .6-.6 .4 5.1 1 .6 .4-3.2 .8-.6 .4 1.1 1-1.3 1.2-.1 .7 .8 .8 1.2 .6 .2 .4-3.6 1.4 3 1 .1 .4-1.6 .8 1.6 1.2-.5 .4-1.8 .6-.5 .8 1.6 1.2 2 .8 .2 .4-3 1.2-.8 .6-.2 .4 .4 .4 1.2 .4 6.3 1.2-.9 .4-9.3 1-1.6 .5 1 .4 7.1 1 1.8 .6-.3 .4-4 1.2-.8 .6 .6 1 2.5 1.6-.6 .6-1.8 .6M142.8 14.6l.2 30.2-.2 .6-1.4 1.2 1.1 .6 4.5 .8 1 .4-1.4 .4-10 1-1.1 .4 9.8 1.2 1.5 .4-.6 .4-3.2 .8-.9 .6 .9 1.6 .1 5.1-1 13.5-.5 2.2 .4 .8 2.4 1.6 .2 .6-2.7 2 0 .4 .9 .8 0 .4-5 1-.8 .4 13.1 1.4-1.5 .4-8.5 .8-1.4 .4 3.4 1 .9 .6-.5 1.2-.2 1.9 .5 2.8-.5 2.8 .6 2.4-.6 2.2 1.3 1.4-.9 .4-5.4 1 1.6 .4 10.2 .8 1.9 .4-12.2 1.5 0 .2 .6 .2 2.8 .6 1.3 .6-.8 3.4 .6 2.4-.3 1.6 .8 1.2-.7 .4-4.8 .8-.8 .2 0 .2 14 1.4-1.8 .4-9.3 .8-1.6 .4 4.3 1.5-.2 2.2-.7 2 .1 1.8 .5 .6 1.5 .8 .3 .4-2.6 1.6 .7 1.8 1 1.2-.1 .4-3.8 1-.8 .4 9.2 1.4-.1 .2-.8 .2-5.5 .9-.9 .4 1.9 1 .2 .8 4.3 1 .4 .2-.1 .2-8.6 1.4-.9 .4 2.2 .4 9.8 .8 1.1 .2 .1 .2-9.8 1-1.9 .4 .2 .2 4.1 1.2 .2 .4-.7 1.2 0 .4 1.7 1.4-2 1.4 0 .4 .5 1.3-.3 2.6-.5 .6-1.3 .8-.2 .4 .7 .4 4.7 1 .7 .4-1 .4-5 1-.6 .4 2.8 1.6 .1 .6-.4 1.2 .6 .8 0 .4-6.3 1.4 1.8 .4 9.8 .8 1.7 .4-11.4 1.5 0 .2 .5 .2 3 .8 .4 .4-.8 1.4 .1 .8 .7 2-.8 2.8 .3 1 1.4 1.8-.4 .6-1.8 1-.4 .6 .7 .8 2.8 1.4-.6 .7-3.6 1.2-.4 .6 1 .6 3.5 1 .6 .4-.8 .6-3.6 1-.7 .4-.1 .4 1.1 .6 3.7 1 .7 .4-.4 .4-3.4 1-1.1 .6-.1 .2 .7 .4 2.7 .8 .4 .2-.2 .2-5.3 1 0 .2 1.1 .2 10.4 1-.1 .2-1.4 .2-10.3 1 1 .4 5.1 .9 .6 .4-5.3 1.6-.5 .4 .2 .2 7.3 1.4-.6 .4-4.3 .8-1 .4-.2 .4 .8 .8 .9 .6 2 .8 .3 .4-.5 .4-4.3 1.4 .6 .4 5 1 1 .4-.8 .4-3.9 1-.7 .4 .3 .6 .6 .6 3.1 1.5 .2 .4-1 .4-4.1 .8-.8 .4 .8 .4 4.9 1 .5 .4-.7 .6-3.8 1.6-.7 .8 1 .6 3.8 1 .4 .2 0 .2-6.4 1.4 4.6 1.2 .3 .2-.1 .2-1.2 .6 1.5 1.2-.6 .4-3.5 1-.7 .6 .7 .4 4.2 1.1 .9 .4-.7 .4-3.5 1 1.1 1-.5 .8 .2 .4 2.8 .8 .6 .4-.7 .4-3.5 1-.9 .6 .3 .4 .9 .4 4.4 1.2-.2 .4-3.4 1-1.4 .8 .1 .4 .6 .4 3.3 1.2 .1 .4-.4 .8 .5 .6-1.5 .6-5.5 1.1 .9 .4 7.7 1.2 0 .2-.5 .2-4.9 1-1 .4 0 .2 .6 .4 3.9 1 .7 .4-.4 .4-3.3 .8-1.4 .6 1.9 .2M148.3 14.6l0 29.4 .2 1.8-.2 .6-1.3 1.2 1.2 .6 4.5 .8 1 .4-1.6 .4-10.9 1.2-.1 .2 .8 .2 9.1 1 1.5 .4-.7 .4-3.2 .8-.9 .6 .8 1.2 .1 .6-.2 17.4-.5 2.8 .5 .8 2.2 1.4 .2 .6-1.2 1.2-.3 .8-.6 .4-5.9 1.2 1.6 .4 9.9 .8 1.9 .4-11.3 1.4-.1 .2 .5 .2 2.5 .6 1.1 .6-.8 3.3 .3 2.8-.5 2.6 .7 2.6-.5 2.2 1.5 1.4-.9 .4-5.4 1 1.4 .4 10.2 .8 2.1 .4-12.3 1.5 0 .2 .5 .2 3.5 .8 .7 .4-1 3.4 .6 2.4-.3 1.6 .9 1-.4 .4-.7 .2-5.4 1 1.6 .4 10.5 .8 2.1 .4-11.6 1.2-1 .4 3.6 1 .7 .4-.2 2.3-.7 2-.1 1.6 .4 .6 2 1.2-.3 .4-1.8 .8-.7 .6 .6 1.6 1 1.2 0 .4-.8 .4-3.9 1 .9 .4 6.7 .8 1.4 .4-7.3 1.5 .3 .4 1.4 .6 .2 .8 .3 .2 3.6 .8 .8 .4-1.3 .4-7.1 1-1.5 .4 1.4 .4 9.7 .8 2.3 .4-2.2 .4-8.5 .8-1.1 .4 3.6 1 .7 .4 .1 .4-.5 1.4 2 1.6-2 1.4 .7 1.6-.2 2.7-.5 .6-1.4 .8-.1 .4 .9 .4 4.6 1 .4 .4-6.6 1.6 .1 .4 2.6 1.4 .1 .4-.4 1.2 .5 1.2-.7 .4-4.7 .8-1 .4 13.3 1.4-.1 .2-1.2 .2-8.8 .8-1.8 .4 .8 .5 2.8 .8 .5 .4-.2 1.6-.5 2 1.2 2.6-1.1 1.4-.2 .6 .4 .6 2 1.2 .2 .4-2.3 1.6-.3 .6 .6 .6 2.1 .8 .8 .6-.4 .4-2.5 1.3-.5 .6 .9 .8 2.1 .6 .9 .6-.4 .4-2.7 1.2-.5 .6 .6 .8 2.1 .8 .4 .4-.2 .4-2.3 1-.6 .6 .3 .4 2.3 1 .1 .2-6 1-.8 .2 .1 .2 11.4 1 1.6 .4-10 1-1.1 .2-.1 .2 4.9 1.2-.5 .5-3.5 1.2-.4 .4 .1 .2 1.4 .4 5.2 .8 .9 .4-1.3 .4-5.3 .8-1 .4-.1 .2 .5 .4 4.8 1.8 .4 .4-1.2 .6-4.8 1-1 .4 .8 .4 7.6 1.4-.5 .4-5.2 1.2-1.3 1 .2 .4 .7 .4 3.9 1 .8 .5-.1 .2-5.8 1.2-.6 .4 3.7 1.2 .7 .6 .3 1-.8 .6-3.1 1.2-.4 .4 1 .6 3.3 1-.4 .4-2.3 .6-.6 .4 3.2 1 .1 .2-.4 .2-2.4 .6-.6 .4 3 1 .4 .4-3.1 1.4-.4 .4 .5 .6 2.2 1.1-1.4 1.2 1.7 1-.3 .4-2.2 1 2.7 1.4-2.6 2 .7 .8 1.6 .6 .7 .6-2.3 1.6-.5 .8 .7 .6 2.1 .8 .5 .4-.9 .6-2.8 1-.3 .4 1.6 .6 4.5 .9 .7 .4-1.7 .4-6.8 .8-1.3 .4 5.9 1.2 .8 .4-.2 .6 .3 1.2-2.5 1.6-.5 .6 0 .2 1 .2M153.8 14.6l.2 32.2-.2 .6-1.4 1.2 1.3 .6 4.4 .8 .9 .4-1.7 .4-10.8 1.2 0 .2 .9 .2 9.1 1 1.3 .4-.7 .4-3.2 .8-.8 .6 .9 1.7 0 4-.9 12.9-.6 2.8 .4 .8 2.7 1.8 .6 .8-1.6 .6-5.7 .8-1.4 .4 2.3 .4 11 1-.1 .2-1.1 .2-8.3 .8-1.5 .4 3.3 1 .9 .6-.4 1.2-.1 2 .5 2.9-.6 2.6 .4 2.4-.8 2.4 1.1 1.4-.9 .4-5.5 1 1.2 .4 10.1 .8 2.2 .4-12.2 1.4-.1 .2 .5 .2 3.6 .9 .8 .4-.6 3.4 .7 2.4-.1 1.6 .8 1-.6 .4-4.7 .8-1.2 .4 2.3 .4 10.5 .8 1.3 .2 0 .2-10.4 1-2 .4 .6 .4 3.1 .8 .5 .4-.1 2.3-.7 2 0 1.6 .4 .6 2 1.2-.4 .4-1.8 .8-.6 .6 .5 1.6 1 1.2-.1 .4-4.7 1.4 1.5 .4 7.4 1 0 .2-.8 .2-5.5 .8-1 .4 1.9 1.1 .3 .8 4.1 1 .4 .2-.1 .2-8.8 1.4-.8 .4 2.3 .4 9.8 .8 1.2 .2 0 .2-9.8 1-1.8 .4 .1 .2 4.1 1.2 .2 .4-.5 1.6 1.7 1.4-.2 .4-1.5 .8-.4 .4 .6 1.6-.2 2.7-2 1.6 1.2 .6 5.1 1.2-.5 .4-4.9 1-1 .4 .2 .4 2.8 1.4 .1 .4-.2 1.2 .6 1.2-1 .4-5.3 1 1.2 .4 9.9 .8 2.4 .4-2 .4-8.5 .8-1.2 .4 3.1 1 .5 .5-.3 1.2 .4 1.8-1 2.4 .7 2-.7 1.8 .3 1.4-.4 1.8 .3 1 .9 .8 .1 .4-1.4 1-.6 .8 .6 .9 2.5 1.2 .3 .4-.6 .4-2.5 .8-.6 .4-.2 .4 .7 .6 3.3 1.2 .5 .4-.9 .6-3.2 1-.5 .6 .8 .4 4 1.2-1.2 .4-5.8 .8-.2 .2 10.2 1 1.6 .4-10 1.2 1 .4 3.7 .6 1.1 .4-.7 .4-5 1.3-.7 .4 1.8 .6 6.1 .8 1.3 .4-1 .4-5.1 .8-1.5 .6-.1 .4 .7 .6 4.2 1.4 .4 .4-.7 .4-5.2 1.2-.4 .4 6.4 1.6-.5 .4-3.4 1.2-.6 1.2 0 .4 .4 .4 2.2 .8 .5 .4-.1 .2-3.6 1.1-.4 .4 4.1 1.4-2.6 2.4-.2 .8 .6 .8 2.2 1.2-.8 .4-4 1 1.1 .4 5.2 1-.7 .4-2.2 .6-.2 .4 .8 .6-.1 .4-1.5 .6-.8 .6 .5 .6 3 1.2 .5 .4-.6 .4-3.3 .9-.6 .4 2.7 1 .2 .4-.6 .6 .1 .2 1.5 1-.5 .4-2.9 .8-1.1 .6 .7 .6 4.1 1.4 .2 .4-.6 .4-3.6 1-.8 .4-.1 .4 4.5 1.6 .5 .4-.7 .6-3.3 1-.9 .8 1.4 1 5 1.5 .4 .4-2.7 .6-7.4 .8-1.8 .4 1.3 .4 9.7 1 1.5 .4-1.1 .4-5 .8-1.7 .6-.1 .2 .5 .4 3 1-1.1 .2M159.4 14.6l0 33.2-.2 .6-1.3 1.2 .5 .4 5.2 1 .8 .4-1.8 .4-10.7 1.2 1 .4 9.1 1 1.2 .4-.8 .4-3.2 .8-.7 .7 .9 1.6 .2 9.2-.2 7.3-.5 3 .8 .8 2.9 1.2-.7 .4-5.3 .8-1 .4 9.5 1 1.9 .4-11.1 1.4 0 .2 .5 .2 2.5 .6 1.2 .6-.4 1.2-.2 2.4 .4 3.1-.5 2.2 .5 2.8-.6 2 1.3 1.4-.8 .4-5.5 1 .1 .2 1 .2 10 .8 2.5 .4-12.1 1.4-.2 .2 .4 .2 3.6 .8 .7 .5 .1 .4-.8 3 .7 2.4-.2 1.4 .7 1.2-.8 .4-5.6 1 0 .2 1 .2 13.1 1.2-1.9 .4-9.2 .8-1.6 .4 4.2 1.4-.1 2.3-.7 2.2-.1 1.6 .6 .6 1.6 .8 .3 .4-2.4 1.2-.5 .6 .5 1.6 .9 1 .1 .4-.7 .4-3.6 .8-.5 .2 .1 .2 7.3 1 1.5 .4-7.4 1.4 .3 .4 1.5 .6 .5 1.1 3.5 .8 .8 .4-1.3 .4-7.2 1-1.4 .4 1.5 .4 9.7 .8 2.3 .4-2.2 .4-8.6 .8-1.1 .4 3.5 1 .7 .4-.3 2 1.8 1.4-2 1.4 0 .4 .7 1.4-.1 2.5-.4 .6-1.4 .8-.3 .4 .6 .4 4.8 1 .8 .4-.7 .4-5.1 1-.9 .4 .3 .4 1.8 .8 .8 .6-.2 1.6 .6 .8 0 .4-6.3 1.4 2 .4 10.1 .8 1.8 .4-11.4 1.4 0 .2 .5 .2 3.1 .8 .5 .4-.3 1.9 .5 3-.9 2.4 .2 .8 1.2 2-.4 .6-1.5 1-.4 .6 .7 .8 2.3 1.4-.5 .6-3.1 1.2-.4 .6 .8 .7 3.1 1 .7 .4-.4 .4-3.9 1.2-.9 .6 .1 .4 .8 .4 3.5 1 .5 .4-.4 .4-3.1 1-1.1 .6-.1 .2 .6 .4 3 1-1.1 .4-4 .6-.9 .2 0 .2 10.7 1 1.3 .2 .1 .2-10.3 1-1.1 .2 0 .2 5.4 1 .6 .4-4.6 1.7-.2 .4 1.2 .4 5.1 .8 .9 .4-5.8 1.4-.2 .4 .4 .4 1.3 1 1.8 .8 .3 .4-.5 .4-4.4 1.2-.5 .4 1 .4 5.7 1.2-.5 .4-4.3 1-1.3 .6 .1 .6 .6 .6 4.1 1.6-.6 .4-5.2 1-.6 .5 1 .4 4 .8 1.1 .6 0 .4-.6 .6-3.6 1.4-.7 .6 1.1 .6 4.7 1.2 0 .2-.4 .2-4.2 .8-.6 .2-.1 .2 3.5 1 .1 .2-.2 .2-1.6 .6 .1 .2 3.4 1.2-.6 .4-3.9 1-.9 .6 1 .6 4.3 1.2-.4 .4-2.4 .9-.3 .2 .5 .6-.1 .4-1.7 1 4.1 1.2 .3 .2-.1 .2-4 1.2-.9 .4-.3 .4 .7 .6 3.6 1 .7 .4-.4 .4-3.6 1.2-.8 .6 .2 .4 .7 .4 3.3 1 .4 .4-.5 .4-3 1-.8 .6 .1 .4 .7 .4 3 1.2-.3 .4-2.5 .9-.1 .4 3.3 1 .3 .2-.2 .2-5.9 1.4 .7 .4 3.7 .8 .8 .4-2.4 1-.4 .4 3.2 1.2-2.3 .2M164.9 14.6l.1 34.2-.2 .6-1.3 1.2 .6 .4 5.3 1 .7 .4-1.9 .4-8.5 .8-2.2 .4 1.2 .4 9.1 1 1.2 .4-4 1.3-.7 .4 .9 2-.9 15.9-.5 2.2 1.6 1.4-.7 .4-3.5 .8 0 .2 12.1 1.4-1.8 .4-9.5 .8-1.9 .4 3.9 1.2 .5 .4-.4 1.2-.1 2.4 .3 3.1-.4 2.2 .6 2.8-.5 2 1.4 1.4-.7 .4-4.7 .8-.8 .2 0 .2 13.7 1.4-2 .4-9 .8-1.3 .4 4.8 1.4 .1 .4-.8 3.1 .7 2.2-.1 1.6 .8 1-.4 .4-.7 .2-5.5 1 1.7 .4 10.5 .8 2.1 .4-11.6 1.2-1 .4 3.5 1 .6 .4-.1 2.4-.6 1.9-.2 1.6 .4 .6 2.2 1.2-.3 .4-1.9 .8-.7 .6 .4 1.6 1 1.2 0 .4-4.7 1.4 1.4 .4 6.5 .8 .8 .2 0 .2-6.3 1-1 .4 1.9 1 .3 .8 .4 .2 3.6 .9 .5 .2-.1 .2-9 1.4-.8 .4 2.4 .4 11 1 0 .2-1.1 .2-8.7 .8-1.9 .4 .1 .2 4 1.2 .2 .4-.4 1.6 1.8 1.4-.1 .4-2 1.2 .6 1.8-.2 2.4-.5 .6-1.4 .9-.2 .4 .8 .4 4.8 1 .7 .4-1 .4-5 1-.7 .4 2.9 1.8-.2 1.4 .7 1-.3 .4-5.3 1-.9 .4 13.5 1.4-.2 .2-1.2 .2-8.6 .8-1.7 .4 3 1 .7 .6 0 2.3-.6 2 .8 2.4-.9 2.2 1.5 1.6 .1 .4-1.4 1.6-.2 .6 .2 .4 1.5 .8 .5 .6-.2 .4-1.5 1.2-.3 .6 .4 .6 1.8 .9 .6 .6-2.3 1.4-.4 .6 .1 .4 .7 .6 1.6 .6 .4 .4-.6 .6-2 .8-.6 .4-.1 .4 .5 .4 2.6 1 0 .2-6.6 1-1.3 .4 11.3 1 2 .4-9.4 1-1.2 .4 3.4 .8 .9 .4-3.9 1.4-.7 .4 .1 .2 1.2 .4 7.1 1.3-.7 .4-5.2 .8-1.9 .6 .1 .4 .8 .4 4.3 1.4 .9 .6-.8 .4-5.8 1.2-.7 .4 1 .4 6.1 1 .9 .4-.7 .4-4.5 1.2-1.3 1 .1 .4 .6 .4 3.8 1 .7 .4-.7 .4-3.9 .8-.7 .4 .5 .4 2.9 1.1 .6 1.6-.1 .4-2.4 1.4-.2 .4 .8 .6 1.9 .6 .3 .4-2.3 .8-.5 .4 4.3 1.2-4.3 1.2 .4 .4 1.7 .6 .5 .4-2 1.8 .2 .6 1.4 1-1.9 1-.3 .4 2.5 .9 .4 .4-2.4 1 .2 .4 1.1 .6 .1 .4-1.5 .8-.4 .8 .8 1.2 1.6 .8 .1 .4-2.7 1.2-.1 .6 1.5 1.4 1.5 .6 .4 .4-.8 .6-1.9 .6-.5 .6 .6 .8 2.9 1.4 .4 .4-.5 .4-2.8 1.1-.8 .6-.2 .4 .5 .4 1.5 .4 5.7 .8 1.3 .4-1.5 .4-11 1-1.6 .4 1.7 .4 7.5 .8 2.9 .6 .1 .2-.9 .4-4.4 1M170.4 14.6l0 33.2 .1 2-.2 .6-1.3 1.2 1.5 .6 4.5 .8 .6 .2 0 .2-12.6 1.6 1.3 .4 9 1 1 .5-4.1 1.2-.7 .6 .8 1.6-.4 8.2 .6 7.9 .8 1.6-.9 .4-4.9 1 1.8 .4 10.9 .8 2.6 .4-2 .4-9.2 .8-1.7 .4 2.3 1 .4 .4-.2 1.2 .1 5.5-.5 2.6 .5 2.6-.5 2 .2 .4 1.2 1-.6 .4-4.7 .8-.8 .2 0 .2 13.6 1.4-1.8 .4-9.1 .8-1.4 .4 3.8 1 1 .6-1.3 3.5 .4 2-.2 1.6 .7 1-.7 .4-4.7 .8-1.2 .4 2.4 .4 10.6 .8 1.3 .2 .1 .2-10.4 1-1.9 .4 .7 .4 3.1 .8 .4 .4 .1 2.4-.6 2.1-.2 1.4 .5 .6 2 1.2-.4 .4-2.2 1-.3 .4 .4 1.6 1.1 1.4-.6 .4-3.5 .8-.5 .2 0 .2 8.9 1.4-1.3 .4-5.4 .8-.6 .4 1.9 .8 .6 1 4.4 1.2-1.3 .5-7.4 1-1.4 .4 1.5 .4 9.9 .8 2.2 .4-2.2 .4-8.7 .8-1.2 .4 3.8 1.2 .3 .4-.4 1.8 1.8 1.4-.3 .4-1.5 .8-.4 .4 1 1.8 .1 2.2-.3 .6-1.6 1-.1 .5 1 .4 4.8 1 .5 .4-1.1 .4-4.2 .8-1.4 .6 2.7 1.6 .2 .4-.3 1.2 .6 1 0 .2-1.1 .4-5.4 1 1.3 .4 9.9 .8 2.4 .4-2 .4-8.4 .8-1.1 .4 3.2 1 .5 .4-.2 1.2 .6 2.3-.8 2.6 .6 2.2-.8 1.8-.3 1.4 1 3-.4 .6-1.2 .8-.3 .6 .5 .8 2.7 1.6-.7 .7-2.8 1-.5 .6 .8 .6 3.7 1.2 .5 .4-.5 .4-4.1 1.2-.5 .6 .8 .4 4.4 1.2-1.2 .4-4.8 .6-1.5 .4 2.4 .4 7.7 .6 1.8 .4-9.9 1.2 0 .2 .7 .2 3.6 .6 1 .4-.7 .4-5.2 1.2-.7 .4 2 .6 5.7 .9 .7 .4-6.1 1.2-1 .4-.3 .6 .5 .6 3.3 1.2 .7 .6-.8 .4-4.1 1-.7 .4 .9 .4 4.8 1 .6 .4-3.8 1.6-.1 1 .3 .6 2.7 1.2 .2 .4-3.7 1-.7 .4 .7 .4 3.6 .8 .7 .4-.2 .5-2.8 2-.4 .8 .9 .6 3.2 1.2-.6 .4-3.9 .8-.9 .4 4.7 1 .7 .4-1.9 .8 .1 .4 .9 .6 0 .4-3.1 1-.9 .6 1 .6 4.3 1.2 .1 .2-.2 .2-4 1-.5 .4 1.4 .8 .2 1.3 2.6 .8 .5 .4-.8 .4-4 1-.8 .6 .9 .6 4.3 1 1.1 .6-.8 .4-4.6 1.2-.8 .6 .8 .6 4.2 1 .9 .4 0 .2-4.8 1.4-.9 .4-.3 .4 .9 .6 4 1 .6 .4-.4 .4-4.1 1.2-.8 .7 1 .8 2.7 1 .2 1.4 1.2 .6-1.8 .6-6.8 1 1 .4 9 1.2 .1 .2-.6 .2-4.1 .8"/></g>
<rect x="32.6" y="14.6" width="148.8" height="251.5" class="bx"/>
<path class="tk" d="M32.6 14.6h2.4M181.4 14.6h-2.4M32.6 64.9h2.4M181.4 64.9h-2.4M32.6 115.2h2.4M181.4 115.2h-2.4M32.6 165.5h2.4M181.4 165.5h-2.4M32.6 215.8h2.4M181.4 215.8h-2.4M32.6 266.1h2.4M181.4 266.1h-2.4M38.1 266.1v-2.4M38.1 14.6v2.4M60.2 266.1v-2.4M60.2 14.6v2.4M82.2 266.1v-2.4M82.2 14.6v2.4M104.2 266.1v-2.4M104.2 14.6v2.4M126.3 266.1v-2.4M126.3 14.6v2.4M148.3 266.1v-2.4M148.3 14.6v2.4M170.4 266.1v-2.4M170.4 14.6v2.4"/>
<text class="tl" x="31.5" y="17.8" text-anchor="end">0</text>
<text class="tl" x="31.5" y="68.1" text-anchor="end">20</text>
<text class="tl" x="31.5" y="118.4" text-anchor="end">40</text>
<text class="tl" x="31.5" y="168.7" text-anchor="end">60</text>
<text class="tl" x="31.5" y="219.0" text-anchor="end">80</text>
<text class="tl" x="31.5" y="269.3" text-anchor="end">100</text>
<text class="tl" x="38.1" y="277.0" text-anchor="middle">0</text>
<text class="tl" x="60.2" y="277.0" text-anchor="middle">6.4</text>
<text class="tl" x="82.2" y="277.0" text-anchor="middle">12.8</text>
<text class="tl" x="104.2" y="277.0" text-anchor="middle">19.2</text>
<text class="tl" x="126.3" y="277.0" text-anchor="middle">25.6</text>
<text class="tl" x="148.3" y="277.0" text-anchor="middle">32</text>
<text class="tl" x="170.4" y="277.0" text-anchor="middle">38.4</text>
<text class="al" x="107.0" y="284.8" text-anchor="middle">Distance(m)</text>
<text class="al" transform="translate(12.2 141.2) rotate(-90)" text-anchor="middle">Time (ms)</text>
<text class="ti" x="106.0" y="11.7" text-anchor="middle">X-component</text>
<text class="pl" x="100.0" y="300.1" text-anchor="middle">(a)</text>
<text class="an" x="104.3" y="57.0">A</text>
<text class="an" x="59.6" y="85.6">A<tspan dx="-1.3">1</tspan></text>
<text class="an" x="120.7" y="100.7">B</text>
<text class="an" x="123.6" y="120.3">C</text>
<text class="an" x="123.4" y="134.2">D</text>
<text class="an" x="123.6" y="163.0">E</text>
<text class="an" x="124.1" y="188.1">F</text>
<text class="an" x="123.6" y="221.6">G</text>
<path class="ar" d="M119.0 56.5L116.6 48.6M118.6 50.6L116.6 48.6L116.0 51.3M72.6 84.0L71.2 71.6M72.8 73.9L71.2 71.6L70.1 74.2M114.8 99.7L113.8 91.9M115.4 94.2L113.8 91.9L112.8 94.5M119.7 120.3L118.7 111.5M120.3 113.8L118.7 111.5L117.6 114.1M121.3 134.7L119.7 126.0M121.5 128.2L119.7 126.0L118.8 128.7M120.2 163.1L117.7 153.3M119.6 155.3L117.7 153.3L117.0 156.0M120.7 186.7L118.7 178.3M120.6 180.4L118.7 178.3L118.0 181.0M121.2 215.7L118.7 210.8M121.0 212.4L118.7 210.8L118.6 213.6"/>
<defs><clipPath id="cb"><rect x="212.5" y="16.4" width="149.4" height="251.0"/></clipPath></defs>
<g clip-path="url(#cb)" class="tr"><path class="fl" d="M223.6 29.5l4.3 1-.8 .4-3.5 .4zM223.6 33.1l4.3 .6 1.1 .4-5.4 1zM223.6 70l1.1 .6 .4 .6-1.5 1zM223.6 100.3l4.5 1-1 .4-3.5 .4zM223.6 103.7l5.3 .9-1.3 .4-4 .6zM223.6 107.8l.8 .2-.1 .2-.7 .2zM223.6 116.4l.2 .2-.2 .4zM223.6 119.2l5 1-1.4 .4-3.6 .4zM223.6 122.6l4.5 .8-4.5 1zM223.6 135.5l4 .8 .7 .2 0 .2-4.7 .6zM223.6 138.9l4.7 .8-1 .4-3.7 .6zM223.6 150.5l.4 .2-.4 .2zM223.6 154.6l3.2 1-.8 .4-2.4 .4zM223.6 158l3.7 .8-.9 .4-2.8 .6zM223.6 162.8l4.9 1-1 .4-3.9 .4zM223.6 166.2l4.7 .8-1 .4-3.6 .6-.1 .2zM223.6 173.6l.5 .8-.1 .4-.4 .4zM223.6 177.2l3 1-.5 .4-2.5 .6zM223.6 181.1l2.6 .8-.8 .6-1.8 .6zM223.6 184.3l.7 .8-.7 .6zM223.6 187.3l5.9 1-5.9 .8zM223.6 190.7l6.3 .8-.9 .4-5.4 .8zM223.6 194.7l1.8 .4 .9 .6-1.2 1.2-1.5 .4zM223.6 199.1l3.1 .4 .7 .4-3.8 .8zM223.6 202.1l2.3 .8-.4 .4-1.9 .6zM223.6 205l2.2 .8 .1 .2-2.3 .6zM223.6 208.2l1.3 .2 .7 .4-1.2 1.4-.8 .4zM223.6 212.4l1.8 1-.8 .6-1 .2zM223.6 216l2 .8-.5 .4-1.5 .4zM223.6 218.4l3.4 .8-3.4 .8zM223.6 221.4l3.2 .8-3.2 .8zM223.6 223.8l1.8 .6-.4 .4-1.4 .4zM223.6 226l1.3 .8-1.3 .6zM223.6 229l1.4 .6-1.4 .9zM223.6 231.3l.6 .6-.6 .6zM223.6 233.9l2.8 .6 .8 .4-3.6 .8zM223.6 237.1l3.2 .6 .8 .4-.9 .4-3.1 .6zM223.6 240.9l2.8 .8 .9 .6-.8 .4-2.9 .4zM223.6 244.9l5.7 .6 .7 .2 0 .2-6.4 1zM223.6 248.7l2.5 .4 .5 .4 0 .8 .3 .4-.6 .4-2.7 .4zM223.6 253.1l2.9 .4 1.2 .4-.9 .4-3.2 .7zM223.6 256.2l.8 .6-.8 .6zM223.6 258.6l1.6 .6 .3 .4-1.9 .6zM223.6 262l1.8 .6-1.8 1.2zM223.6 266.4l1.7 .8-1.7 .2zM229.1 30.5l4.4 1-.9 .4-3.5 .4zM229.1 34.1l4.4 .6 1 .4-5.4 1zM229.1 70.4l1.2 .6 .5 .6-.3 .4-1.4 .8zM229.1 99.5l4 1-4 .8zM229.1 102.9l3.5 .4 .9 .2 .1 .2-4.5 1.1zM229.1 107l.2 .4-.2 .2zM229.1 115.6l.6 .2 0 .2-.6 .2zM229.1 118.4l5.8 1-1.2 .4-4.6 .4zM229.1 121.8l4 .4 1.7 .4-1.2 .4-4.5 .6zM229.1 134.7l4.5 1-4.5 .8zM229.1 138.1l3.9 .6 .2 .2-4.1 1zM229.1 153.5l3.2 1.3-3.2 .8zM229.1 157.2l3.1 .4 .7 .4-3.8 1zM229.1 162l4.4 .6 .9 .4-5.3 .8zM229.1 165.4l3.7 .4 1.3 .4-5 1zM229.1 176.2l2 .6 .9 .6-1.2 .6-1.7 .2zM229.1 180.3l2.6 .6-.4 .4-2.2 .6zM229.1 183.3l2 .8-.5 .4-1.5 .4zM229.1 186.5l.2 .2 6 .8-6.2 .8zM229.1 189.9l3.9 .6 .7 .2 .1 .2-4.7 1.2zM229.1 194.5l2 .6 .6 .4 .4 .6-.9 .4-2.1 .4zM229.1 198.3l3.2 .8-1.1 .6-2.1 .4zM229.1 201.1l1.1 .2 1 .6-.5 .4-1.6 .2zM229.1 203.9l3.1 .6 .9 .5-.8 .4-3.2 .4zM229.1 207.6l1.8 .4 .7 .8-.6 .6-1.9 .6zM229.1 212l2.1 .8-.3 .4-1.8 .6zM229.1 215.8l.8 .6-.5 .8 .3 .2 2.5 .8-.1 .2-.6 .2-2.4 .4zM229.1 220.6l4.4 .8-1.1 .4-3.3 .6zM229.1 225l3.2 .8 0 .2-.5 .2-2.7 .6zM229.1 228.4l2.3 .4 .3 .4-.7 .7 .3 .6-.1 .4-2.1 .6zM229.1 233.1l4.8 .6 1 .4-5.8 .8zM229.1 236.5l2.6 .4 1.5 .6-1.2 .6-2.9 .8zM229.1 240.7l5.4 .8 1 .4-6.4 .8zM229.1 244.3l5 .6 .9 .2 0 .2-5.9 1zM229.1 248.3l.9 .2 1 .8 1.8 .8-.9 .4-2.8 .4zM229.1 252.3l2.6 .4 1 .4 0 .2-1.2 .4-2.4 .4zM229.1 255l1.9 .2 1.3 .6-1.5 .6-1.7 .2zM229.1 257.8l3.2 .4 1.9 .6-1.3 .4-3.8 .4zM229.1 261.2l2.3 .4 .3 .2 .4 1-.2 .4-.8 .4-2 .4zM229.1 265.8l2.2 .6 .4 .4-.6 .4-2 .2zM234.6 31.5l4.4 1-.8 .4-3.6 .4zM234.6 35.1l4.4 .6 1.1 .4-5.5 1zM234.6 71l.9 .2 .9 .8-.5 .6-1.3 .6zM234.6 98.7l3.6 .8 0 .2-.8 .2-2.8 .4zM234.6 101.9l4.9 .8-1.1 .4-3.8 .6zM234.6 106.2l.9 .2-.9 .2zM234.6 114.8l.6 .2 0 .2-.6 .2zM234.6 117.6l5.6 1-.1 .2-.9 .2-4.6 .4zM234.6 121l5.5 .8-1 .4-4.5 .8zM234.6 131.3l.6 .2 0 .2-.6 .4zM234.6 133.9l3.8 .6 1.1 .4-4.9 .8zM234.6 137.3l4.4 .6-.8 .4-3.4 .6-.2 .2zM234.6 148.7l.6 .2 0 .2-.6 .4zM234.6 152.7l3.3 1-.7 .4-2.6 .5zM234.6 156.2l3.6 .8-.8 .4-2.8 .6zM234.6 161l4.8 1-1.1 .4-3.7 .4zM234.6 164.4l.2 .2 4.3 .6-.9 .4-3.6 .6zM234.6 175.6l2.4 1-.7 .4-1.7 .4zM234.6 179.4l3.3 .9-3.3 1.2zM234.6 182.9l1.4 .2 .8 .6-.7 .4-1.5 .2zM234.6 185.7l5.3 .6 1.1 .4-6.4 .8zM234.6 188.9l5.4 .6 .6 .2 0 .2-6 1zM234.6 192.9l1.7 .6 .4 .6-.8 1.2-1.3 .4zM234.6 197.3l3.5 .8-3.5 1zM234.6 200.5l2.4 .4 .6 .4-.8 .4-2.2 .4zM234.6 203.5l1.3 .2 1.3 .6-1.1 .5-1.5 .2zM234.6 206.6l1.1 .4-.3 .6 .5 1-.2 .4-1.1 .6zM234.6 211.4l1 .4 .1 .4-1.1 .8zM234.6 214.6l.7 .6-.7 .6zM234.6 216.6l3.8 1-3.8 .8zM234.6 220l2.7 .6-.1 .2-2.6 .8zM234.6 222l1.3 .8-1.3 .6zM234.6 224.4l1.6 .8-1.6 .8zM234.6 227.4l1.4 .6-.5 .4-.9 .2zM234.6 229.2l1.9 .7 .5 .4-2.4 .8zM234.6 232.3l3.2 .6 .9 .4-4.1 .8zM234.6 235.5l2.6 .6 .3 .4-2.9 1.2zM234.6 239.9l2.9 .6 .8 .4-3.7 .8zM234.6 243.3l3.5 .6 0 .2-.6 .2-2.9 .6zM234.6 246.3l1.3 1-.2 1.2 .4 .6-1.5 .6zM234.6 251.3l3.8 .8-.8 .4-3 .6zM234.6 254.3l2 .9-.5 .4-1.5 .4zM234.6 257l1.7 .6 .3 .4-2 .6zM234.6 260l2.1 .8-1.4 .8-.7 1.2zM234.6 264.8l1.1 .8-.2 .4-.9 .4zM240.2 32.5l4.3 1-.8 .4-3.5 .4zM240.2 36.1l4.3 .6 1.1 .4-5.4 1zM240.2 71.4l1.2 1.2-1.2 1zM240.2 97.5l.1 .2 4.2 1-4.3 .8zM240.2 101.1l3.4 .4 1.1 .4-4.5 1zM240.2 116.8l.2 .2 4.5 .8-.1 .2-.9 .2-3.7 .4zM240.2 120.2l.2 .2 4.1 .6-1 .4-3.3 .6zM240.2 133.1l4 .8 0 .2-.9 .2-3.1 .4zM240.2 136.3l4.1 .8-4.1 1zM240.2 147.7l.6 .4-.1 .4-.5 .2zM240.2 151.7l2.8 .8 .7 .4-3.5 .8zM240.2 155.4l3.1 .4 .8 .4-3.9 1zM240.2 160.2l4.6 .6 1 .4-5.6 .8zM240.2 163.6l4.1 .4 1.3 .4-5.4 1zM240.2 174.8l1.8 .2 1.8 .8-1.1 .6-2.5 .4zM240.2 178.6l2.1 .2 1.4 .6-1.8 .9-1.7 .2zM240.2 181.7l1.6 .2 .8 .6-.6 .4-1.8 .4zM240.2 184.7l7.1 1-.1 .2-1.2 .2-5.8 .4zM240.2 188.1l4.2 .6 1.1 .4-1 .4-4.3 1zM240.2 192.7l1.9 .6 .9 .6-.7 .6-2.1 .6zM240.2 196.7l2.6 .4 1.1 .4-3.7 1zM240.2 199.9l1.1 .2 .5 .4-.3 .4-1.3 .2zM240.2 202.1l2.5 .6 .6 .2 .3 .4-1.2 .4-2.2 .2zM240.2 205.6l2.1 .4 .8 .4-.8 1.2-.9 .4-1.2 .2zM240.2 210.2l2 .6 .4 .4-.7 .4-1.7 .4zM240.2 214l1.5 .6 0 .2-1.4 1 2.4 1-2.5 .6zM240.2 219l3 .4 1.2 .4-4.2 .8zM240.2 221.8l1.3 .4-.6 .8 1.7 1 0 .2-2.4 .6zM240.2 226.6l2.5 .6-2.2 1-.1 .2 .3 .8-.5 .4zM240.2 231.3l4.2 1-1.2 .4-3 .4zM240.2 234.7l2.8 .6 .8 .4-.4 .4-3.2 1zM240.2 239.1l4.3 .6 1.3 .4-1.4 .4-4.2 .4zM240.2 242.7l4.2 .4 1.8 .4-1.1 .4-4.7 .6-.2 .2zM240.2 246.7l2.4 .6 .7 .6-.2 .4-.6 .2-2.3 .4zM240.2 250.7l2.8 .6 .2 .2-3 1zM240.2 253.5l.9 .6-.9 .6zM240.2 256l2.8 .6 .8 .4-.8 .4-2.8 .4zM240.2 259.4l1.8 .4 .8 .4-.2 1-.4 .4-2 .6zM240.2 264.2l2.1 .4 .7 .4-.4 .4-2.4 .6zM245.7 33.5l4.4 1-.9 .4-3.5 .4zM245.7 37.1l4.4 .6 1 .4-5.4 1zM245.7 71.8l1.7 1.2-.4 .6-1.3 .6zM245.7 96.7l4.2 1-.1 .2-.8 .2-3.3 .4zM245.7 100.1l4.5 .8-1 .4-3.5 .6zM245.7 116.2l3.8 .6 .8 .2 0 .2-4.6 .6zM245.7 119.6l4.1 .6-1 .4-3.1 .6zM245.7 132.1l4.5 1-4.5 .8zM245.7 135.5l3.2 .4 1.2 .4-4.4 1zM245.7 146.9l.8 .4-.2 .4-.6 .2zM245.7 150.9l3.7 1-.6 .4-3.1 .4zM245.7 154.3l4.2 .9-.6 .4-3.6 .8zM245.7 159.2l5.9 1-1.1 .4-4.8 .4zM245.7 162.6l5.3 .8-1 .4-4.3 .8zM245.7 173.8l2.1 .8 .5 .4-.8 .4-1.8 .4zM245.7 177.6l2.8 .6 .6 .4-3.4 1.1zM245.7 181.1l2.1 .8-.5 .4-1.6 .4zM245.7 184.1l5.1 .8-1.3 .4-3.8 .4zM245.7 187.3l3.2 .4 .8 .4-.8 .4-3.2 .8zM245.7 191.9l1.3 .2 1 .8 .4 .6-.4 .4-.6 .2-1.7 .2zM245.7 195.7l2.9 .4 1.1 .4-1.8 .6-2.2 .2zM245.7 198.7l1.8 .2 1.5 .6-1.4 .6-1.9 .2zM245.7 201.7l3 .8-.5 .4-2.5 .4zM245.7 205.2l.6 .2 .1 .6 1.4 1-.3 .4-1.8 .6zM245.7 209.8l1.9 .6 .3 .4-2.2 1zM245.7 213.6l.6 .2 0 .2-.6 .2zM245.7 214.8l3.5 .8 .9 .4-4.4 .8zM245.7 218.4l3.5 .6 0 .2-.5 .2-3 .8zM245.7 220.6l.3 .4-.3 .4zM245.7 222.8l1.7 .6-.1 .2-1.6 .6zM245.7 226l.4 .4-.4 .4zM245.7 227.6l1.7 .8-1.7 .8zM245.7 230.7l3.6 1-3.6 .8zM245.7 234.1l1.4 .4 .5 .6-.7 .8-1.2 .6zM245.7 238.3l4.2 1-.9 .4-3.3 .4zM245.7 241.7l4 .8-.9 .4-3.1 .6zM245.7 244.5l1 .6-1 .6zM245.7 246.9l2.6 .8-.1 .2-2.5 .6zM245.7 249.7l3.4 .8-3.4 .8zM245.7 252.7l2 .4 .6 .4-2.6 .8zM245.7 255.4l1.9 .6 .3 .4-2.2 .6zM245.7 258.4l1.4 .6-1 .8 .8 1.2-1.2 .8zM245.7 263.8l.7 .6-.7 .6zM245.7 267l.2 .2-.2 .2zM251.2 34.5l4.4 1-.8 .4-3.6 .4zM251.2 38.1l4.4 .6 1.1 .4-5.5 1zM251.2 72.4l1.2 .6 .4 .6-1.6 1.2zM251.2 95.9l4.7 1-4.7 .8zM251.2 99.3l3.6 .4 1.3 .4-4.9 1zM251.2 112.4l.5 .4-.5 .4zM251.2 115.2l4.5 .8 .9 .4-5.4 .8zM251.2 118.8l5.1 .6-.7 .4-4.4 .8zM251.2 128.8l.9 .2 0 .2-.9 .3zM251.2 131.3l4.3 .6 1 .4-5.3 .8zM251.2 134.7l5 .6-.9 .4-4.1 .6zM251.2 141.9l.3 .2-.3 .6zM251.2 150.1l2.4 1-2.4 .6zM251.2 153.5l2.7 .8-2.6 .9-.1 .2zM251.2 158.4l3.6 .6 1 .4-4.6 .8zM251.2 161.8l3.1 .4 1.4 .4-4.5 1zM251.2 173.4l1.5 .8-1.5 .6zM251.2 177.2l1.4 .6-1.4 .8zM251.2 182.9l4.7 .8 1.1 .4-5.8 .8zM251.2 186.3l4.5 .6 .9 .4-.8 .4-4.6 1zM251.2 190.9l2.3 .6 .8 .6-.9 .6-2.2 .6zM251.2 194.9l4.2 .8-.9 .4-3.3 .6zM251.2 198.3l1.4 .4 .3 .4-1.7 .8zM251.2 200.7l1.4 .8-1.4 .8zM251.2 203.7l1.8 .8-.9 .9-.4 1-.5 .2zM251.2 208.6l1.8 .6 .3 .4-.6 .4-1.5 .4zM251.2 212.2l1.4 .2 1 .6-1.1 .6-1.3 .2zM251.2 214.4l3.6 .8-1 .4-2.6 .4zM251.2 217.4l2.7 .4 1.2 .4-3.9 .8zM251.2 219.8l1.6 .4 .6 .4-1.2 .8 .8 1-.1 .2-1.7 .4zM251.2 224.6l2.9 .8-.6 .4-2.3 .6zM251.2 227.2l1 .2 .4 .4-.5 .4-.9 .2zM251.2 229.6l3.8 1.1-3.8 .8zM251.2 233.1l2.7 .4 .6 .4-.5 .4-2.8 1zM251.2 237.3l4 .8 .6 .4-4.6 .8zM251.2 240.9l5 .8 0 .2-.7 .2-4.3 .8zM251.2 244.7l3.9 1 .4 .4-1 .4-3.3 .6zM251.2 248.7l5.1 .6 1.1 .4-6.2 1zM251.2 252.1l1.5 .6-.4 .4-1.1 .2zM251.2 254.1l3 1.1-.7 .4-2.3 .4zM251.2 257.6l2 .4 .8 .4-1 .6-.8 1-1 .4zM251.2 262.4l1.9 .6 .3 .4-2.2 .8zM251.2 266l2.5 1-.1 .2-2.4 .2zM256.8 35.5l4.3 1-.8 .4-3.5 .4zM256.8 39.1l4.3 .6 1.1 .4-5.4 1zM256.8 72.8l1 .6 .6 .6-.3 .4-1.3 .8zM256.8 94.9l3.9 .8 .7 .2 0 .2-4.6 .6zM256.8 98.3l4.9 .8-.8 .4-4.1 .8zM256.8 111.6l.9 .2 0 .4-.9 .2zM256.8 114.6l4.9 .6 1.1 .4-6 .8zM256.8 118l5.4 .6 0 .2-.7 .2-4.7 .8zM256.8 128l.5 .2-.5 .2zM256.8 130.3l4.7 1-.1 .2-.9 .2-3.7 .4zM256.8 133.7l4.6 .8-4.6 1zM256.8 140.9l.5 .2 .1 .4-.1 .4-.5 .2zM256.8 145.1l.2 .4-.2 .6zM256.8 149.3l2.3 .8 0 .2-.6 .2-1.7 .4zM256.8 152.7l2.6 .6-.5 .4-2.1 .6zM256.8 157.4l5.2 1-1.1 .4-4.1 .4zM256.8 160.8l5.1 .8-.8 .4-4.3 .8zM256.8 172.2l2 .8 .4 .4-2.4 .8zM256.8 176l2.6 .8-.5 .4-2.1 .6zM256.8 179.2l1.5 .9-.3 .4-1.2 .4zM256.8 182.3l3.8 .6 1.2 .4-5 .8zM256.8 185.5l.1 .2 2.9 .6-3 2zM256.8 190.5l2.2 .8 .5 .4-.2 .4-2.5 .6zM256.8 194.3l3.2 .6-.6 .4-2.6 .6zM256.8 197.1l1.6 .4 .5 .4-.4 .4-1.7 .4zM256.8 199.9l2.5 .4 .7 .2 .3 .4-1 .4-2.5 .4zM256.8 203.3l1.9 .4 .3 .6 1 .9-.7 .6-2.5 .4zM256.8 208l2.7 .6 .6 .4-.6 .4-2.7 .6zM256.8 211.8l1.3 .6-.2 .8 .1 .2 2.5 .8 0 .2-.6 .2-3.1 .4zM256.8 216.6l4.3 .8-1 .4-3.3 .6 0 .2zM256.8 220.8l2 .8-.4 .4-1.6 .4zM256.8 224.2l1.3 .6-.9 1 1.5 1-1.9 .6zM256.8 228.8l5 1.1-1 .4-4 .4zM256.8 232.5l1.7 .2 .6 .2 .7 .6-.2 .4-.6 .4-2.2 .6zM256.8 236.7l4.6 1-1.3 .4-3.3 .4zM256.8 240.3l2.4 .4 .6 .2 .1 .2-3.1 .8zM256.8 244.7l3.4 1.2-.6 .4-2.8 .4zM256.8 248.5l2.4 .6-.3 .4-2.1 1zM256.8 250.7l1.4 .6 .4 .4-1.8 .8zM256.8 253.7l1.8 .4 .7 .4-.8 .5-1.7 .4zM256.8 257l.7 .4-.5 .8 1.4 .8 .2 .4-1.8 .8zM256.8 262l2 .6 .2 .4-2.2 1zM256.8 265.6l1.3 .4 .4 .4-.3 .4-1.4 .6zM262.3 36.5l4.4 1-.9 .4-3.5 .4zM262.3 40.1l4.4 .6 1 .4-5.4 1zM262.3 73.4l1 .2 .8 .6 .2 .4-1.1 .8-.9 .2zM262.3 94.1l4.7 1-1.4 .4-3.3 .4zM262.3 97.5l4.9 .8-4.9 1zM262.3 110.8l.6 .2 0 .2 0 .2-.6 .2zM262.3 113.8l4.3 .6 1.1 .4-5.4 .8zM262.3 117.2l4 .4 .9 .2 0 .2-4.9 1zM262.3 129.5l4.5 1-4.5 .8zM262.3 132.9l3.3 .4 1 .2 0 .2-4.3 1zM262.3 140.1l.8 .2 .1 .6 0 .2-.9 .2zM262.3 144.3l1.1 .2 .1 .2-.1 .4-1.1 .2zM262.3 148.3l1.6 .2 2.5 .8-1.1 .4-3 .4zM262.3 151.7l2.8 .4 1.1 .4-3.9 1.2zM262.3 156.6l4 .6 1 .4-5 .8zM262.3 160l4.6 .8-4.6 1zM262.3 171.4l1.4 .2 1.3 .6 .3 .4-.8 .4-2.2 .4zM262.3 175.2l2.8 .6 .5 .4-2 .8-1.3 .2zM262.3 178.8l.8 .2 .3 .4-.4 .5-.7 .2zM262.3 181.3l3.8 .6 1 .4-4.8 .8zM262.3 184.7l3.7 .4 .8 .2 0 .2-4.5 1.4zM262.3 189.3l1.3 .6 .6 .6-.4 .4-1.5 .6zM262.3 193.3l2.5 .4 .9 .4-3.4 .8zM262.3 196.5l1.9 .8-.5 .4-1.4 .4zM262.3 199.3l.7 .8-.7 .6zM262.3 202.1l1.3 .6-1.3 .8zM262.3 203.9l1.4 .9-.5 .6-.9 .2zM262.3 207.4l.9 .2 .6 .6-.4 .4-1.1 .4zM262.3 210.6l1.3 .6-.2 .4-1.1 .4zM262.3 212.8l4 .8-1 .4-3 .4zM262.3 216l3.1 .6-.7 .4-2.4 .6zM262.3 218.2l1.5 .6-.4 .4-1.1 .4zM262.3 220.2l.8 .6-.8 .6zM262.3 223l1.6 .6-.1 .2-1.5 .6zM262.3 225.4l1.4 .8-1.4 .6zM262.3 228.2l2.1 .8-2.1 .6zM262.3 231.5l1.8 .6-1.8 1.4zM262.3 235.7l3.7 .8 .6 .2 0 .2-4.3 .8zM262.3 239.3l4.1 .4 1.4 .4-1.2 .4-4.3 .6zM262.3 243.1l2.2 .6 1.4 .8-1.1 .6-2.5 .4zM262.3 247.1l6.3 .8-6.3 .8zM262.3 250.3l3.6 .8-3.6 1zM262.3 252.7l1.2 .8-1.2 .6zM262.3 255.8l2.2 .8-2.2 1zM262.3 258l.5 .6-.5 .4zM262.3 260.8l1.6 .6 .4 .4-.9 .6-1.1 .2zM262.3 264.2l2.3 .6 .8 .6-1.4 .6-1.7 .2zM267.8 37.5l4.4 1-.8 .4-3.6 .4zM267.8 41.1l4.4 .6 1.1 .4-5.5 1zM267.8 74l1 1-1 1zM267.8 93.1l3.8 .8 .9 .4-4.7 .8zM267.8 96.7l4.3 .4 .8 .2 0 .2-5.1 1zM267.8 110.2l.5 .2-.5 .4zM267.8 113l4.1 .6 1.2 .4-5.3 .8zM267.8 116.4l3.9 .4 1.1 .4-5 1zM267.8 128.6l3.8 .6 .8 .5-4.4 .6-.2 .2zM267.8 131.9l.2 .2 4.2 .6-1 .4-3.4 .6zM267.8 147.5l2 .6 .5 .4-2.5 .6zM267.8 150.9l1.9 .4 .7 .4-2.6 .8zM267.8 155.8l4.9 .8-1.1 .4-3.8 .4zM267.8 159l.3 .2 4.3 .6-.7 .4-3.9 .8zM267.8 170.6l2.3 1-.3 .4-2 .4zM267.8 174.4l2.3 .8-.3 .4-2 .8zM267.8 177.6l.8 .4 .3 .4-1.1 .6zM267.8 180.5l4.2 .6 1.2 .4-5.4 .8zM267.8 183.9l2.9 .4 .7 .4-2.2 1.6-1.4 .4zM267.8 188.7l3.7 1.2-1.2 .6-2.5 .4zM267.8 192.5l3.5 .8-.7 .4-2.8 .6zM267.8 195.9l.5 .6-.5 .6zM267.8 198.1l1.9 .8-.5 .4-1.4 .4zM267.8 201.5l1.3 .6-.3 .8 .3 .6-1.3 .8zM267.8 206.2l.1 .2 2.3 .8-.4 .4-2 .6zM267.8 210l1.5 .8-1.1 1 2.1 1-2.5 .6zM267.8 215l3.9 .8-3.8 .8-.1 .2zM267.8 218.2l.4 .8 1.4 .8-.1 .2-1.7 .6zM267.8 222.4l2 .6-2 1zM267.8 224.4l.9 .8-.9 .6zM267.8 227.2l3.8 .6 .8 .4-4.6 .8zM267.8 230.7l2.9 .4 .6 .2 .3 .6-1.2 .8-2.6 .6zM267.8 235.1l5.4 .6 1.1 .4-2 .4-4.5 .4zM267.8 238.5l4.4 .6 .7 .2 0 .2-2.2 .6-2.9 .4zM267.8 242.7l4.2 1.2-.3 .4-3.9 .6zM267.8 246.5l2.8 .4 1.3 .4-3.5 1.2-.6 .4zM267.8 251.3l3.4 1.2-3.4 1zM267.8 255.4l1 .4-.4 .8 1 1-1.6 .8zM267.8 260.2l1.9 .6 .6 .4-2.5 1zM267.8 264l2.2 .8-.3 .4-1.9 .6zM273.4 38.5l4.3 1-.8 .4-3.5 .4zM273.4 42.1l4.3 .6 1.1 .4-5.4 1zM273.4 74.6l.7 .8-.7 1zM273.4 92.3l4.3 1-1.2 .4-3.1 .4zM273.4 95.7l4.5 .8-4.5 1zM273.4 109.4l.3 .2-.3 .4zM273.4 112.2l5.2 1-5.2 .8zM273.4 115.6l3.7 .4 1.2 .4-4.9 1zM273.4 127.6l5.3 1-1.1 .4-4.2 .5zM273.4 131.1l3.8 .4 1.5 .4-5.3 1zM273.4 138.5l.4 .2 .1 .4-.1 .4-.4 .2zM273.4 142.5l.5 .6-.1 .4-.4 .2zM273.4 146.5l3.6 1-.9 .4-2.7 .4zM273.4 149.9l3.7 .8-.8 .4-2.9 .8zM273.4 154.8l4.3 .6 1 .4-5.3 .8zM273.4 158.2l3.2 .4 1.4 .4-4.6 1zM273.4 169.8l1.3 .2 1.4 .8-1.1 .6-1.6 .2zM273.4 173.6l2.1 .4 .8 .4-.4 .4-2.5 .8zM273.4 177.2l.9 .2 .2 .4-1.1 .6zM273.4 179.4l4 1.1-1.2 .4-2.8 .4zM273.4 182.9l3.5 .6 0 .2-3 .8-.5 .4zM273.4 187.9l1.8 1.2-1.8 1zM273.4 191.7l2.9 .4 .6 .2 .1 .2-3.6 .8zM273.4 194.7l2.4 .6 .4 .4-2.8 .8zM273.4 197.7l1.1 .2 .7 .4-.2 .4-1.6 .4zM273.4 200.7l.9 .2 0 .2-.9 .2zM273.4 202.1l1.8 .6 .6 .4-.4 .4-2 .6zM273.4 206l1.4 .4 .3 .4-1.7 1zM273.4 211l3.2 1-3.2 .6zM273.4 214.4l.1 .2 2.2 .4 .1 .2-2.4 .8zM273.4 218.8l.7 .4-.7 .6zM273.4 221.4l.9 .6-.9 .6zM273.4 223.6l1.6 .6 .4 .4-2 .6zM273.4 226.6l2.6 .8-2.6 .8zM273.4 229.6l1.2 .7 0 .2-.4 .4-.1 1.2-.7 .6zM273.4 234.3l2.7 .6 .8 .4-3.5 .6zM273.4 237.7l2.4 .4 .8 .4-3.2 .8zM273.4 241.7l2.1 1.2-.4 .4-1.7 .6zM273.4 245.5l4.4 .8-4.4 .8zM273.4 248.5l2.8 .6 .7 .4-3.5 .8zM273.4 251.7l1.1 .6-.1 .2-1 .4zM273.4 254.1l.8 .6-.8 .7zM273.4 256.4l.9 .8-.9 .6zM273.4 259.6l.9 .8-.9 .8zM273.4 263l1 .4 .3 .4-.4 .4-.9 .4zM273.4 266.2l2.1 1-2.1 .2zM278.9 39.5l4.4 1-.9 .4-3.5 .4zM278.9 43.1l4.4 .6 1 .4-5.4 1zM278.9 75.2l.8 .8-.8 .8zM278.9 91.3l4.8 1.2-4.8 .8zM278.9 94.9l4.1 .4 1 .4-5.1 1zM278.9 108.6l1 .2 0 .2-1 .2zM278.9 111.4l5.7 1-1.6 .4-4.1 .4zM278.9 114.8l3.8 .4 1.3 .4-5.1 1zM278.9 126.8l4.7 1-4.7 .8zM278.9 130.3l3.6 .4 .9 .2 0 .2-4.5 1zM278.9 133.9l.2 .2-.2 .2zM278.9 137.7l.6 .2 .2 .6 0 .2-.8 .2zM278.9 141.7l1.1 .2 .2 .4-.2 .4-1.1 .2zM278.9 145.5l3.5 .8 .7 .4-4.2 .8zM278.9 149.1l3.3 .4 .7 .4-4 1.2zM278.9 153.9l4 .4 1.7 .5-1.2 .4-4.5 .4zM278.9 157.2l4.7 .8-.8 .4-3.9 .8zM278.9 169l1.5 .6 .4 .4-1.9 .8zM278.9 172.8l1.8 .8-1.8 1.2zM278.9 178.6l3.7 .6 1 .5-4.7 .8zM278.9 182.1l3.2 .4 .9 .4-1.8 .8-1.1 1-1.2 .2zM278.9 187.1l3.5 .6 .9 .4 .1 .2-4.5 1zM278.9 190.9l3.9 .4 1.3 .4-1.3 .4-3.9 .6zM278.9 194.3l1.4 .4 .4 .4-.9 .6-.9 .2zM278.9 196.1l1.7 1-.4 .4-1.3 .4zM278.9 199.5l2 .8-1.5 1 .3 .8-.2 .4-.6 .2zM278.9 204.5l2 1.1-.5 .4-1.5 .4zM278.9 208.2l1.9 .8-.3 .4-1.6 .6zM278.9 210.4l2.9 .8-.1 .2-2.8 .6zM278.9 213.4l3.8 .8-3.8 .8zM278.9 216l1.6 .6 .2 .4-.2 .4 .4 .6-.4 .4-1.6 .4zM278.9 220.4l3.2 .8-.6 .4-2.6 .6zM278.9 223.2l.7 .2 .4 .4-1.1 .6zM278.9 225.4l2.5 .6 .7 .4-.9 .4-2.3 .4zM278.9 228.8l2.1 .4 .7 .4-2.8 1.9zM278.9 233.3l5.1 1-1.1 .4-3.9 .4-.1 .2zM278.9 236.9l4.6 .8-.9 .4-3.7 .8zM278.9 241.1l3.6 .8 .6 .4-4.2 .8zM278.9 244.7l.2 .2 4.4 .6-.9 .4-3.7 .6zM278.9 249.5l2.4 .8 .5 .4-2.9 .6zM278.9 253.1l3.4 .8-3.3 1.1-.1 .2zM278.9 258.6l1.9 .8-.4 .4-1.4 .4-.1 .2zM278.9 262.2l2 .6 .5 .4-2.5 1zM278.9 266l1.8 .4 .7 .4-.4 .4-2.1 .2zM284.4 40.5l4.4 1-.8 .4-3.6 .4zM284.4 44.1l4.4 .6 1.1 .4-5.5 1zM284.4 75.4l1.5 .6 .5 .6-1 .8-1 .2zM284.4 90.5l4.6 1-1.1 .4-3.5 .4zM284.4 93.9l4.8 .8-4.8 1.2zM284.4 107.8l.7 .2 0 .2-.7 .2zM284.4 110.6l5.2 1-1.4 .4-3.8 .4zM284.4 114l4.5 .8-4.5 1zM284.4 126l2.9 .6 .9 .4-3.8 .6zM284.4 129.2l.1 .3 4.2 .6-4.3 1zM284.4 136.7l.4 .2 .2 .8-.6 .4zM284.4 140.9l1 .4-.2 .6-.8 .2zM284.4 144.7l3.8 1-.8 .4-3 .4zM284.4 148.1l3.4 .8-.6 .4-2.8 .8zM284.4 152.9l4.3 .6 1.2 .4-5.5 .9zM284.4 156.4l3.5 .4 1.3 .4-4.8 1zM284.4 168.2l1.4 1-1.4 .6zM284.4 172l1.7 .8-1.7 1zM284.4 175.4l.6 .6-.6 .4zM284.4 177.8l4.2 .8 0 .2-.8 .2-3.4 .4zM284.4 181.1l2.9 .4 .8 .4-3.7 1zM284.4 183.1l.7 .2 .8 .6-.6 .6-.9 .2zM284.4 186.5l3.2 .8 .3 .4-1 .4-2.5 .4zM284.4 190.1l2.9 .4 .7 .4-3.6 .8zM284.4 193.1l1.9 .8-.4 .4-1.5 .4zM284.4 195.9l1.8 .4 .4 .4-2.2 .8zM284.4 199.3l1 .2 0 .2-1 .2zM284.4 200.3l2.4 .6 .8 .6-1.5 .6-1.7 .2zM284.4 204.1l2.7 .4 1 .7-2.2 .8-1.5 .2zM284.4 208l1.2 .2 .4 .4 .1 .8 2 .6 .6 .4-4.3 .8zM284.4 212.8l4.4 .6 0 .2-.6 .2-3.8 .8zM284.4 216.6l1.9 .8-.5 .4-1.4 .4zM284.4 219.8l1.1 .6-1.1 .8zM284.4 222l1.5 .8-1.5 .6zM284.4 225l1.9 .4 .7 .4-2.6 .6zM284.4 228.4l.4 .4-.1 .4 .7 1.1-1 .6zM284.4 232.7l4.1 1-4.1 .8zM284.4 236.1l2.5 .4 1 .4-3.5 1.2zM284.4 240.3l2.9 .6 1.2 .6-1 .4-3.1 .4zM284.4 243.9l4 .4 1.1 .4-5.1 .8zM284.4 246.9l2.4 .8-.5 .4-1.9 .4zM284.4 249.7l1.8 .4 .6 .4-.6 .4-1.8 .6zM284.4 253.9l3.7 .8 .4 .5-.9 .4-3.2 .6zM284.4 258l2.2 .6 .5 .4-1.5 .8-1.2 .2zM284.4 261.8l1.4 .2 .5 .4-.6 .6-1.3 .4zM284.4 265l.9 .2 .7 .6-.7 .6-.9 .2zM290 41.5l4.3 1-.8 .4-3.5 .4zM290 45.1l4.3 .6 1.1 .4-5.4 1zM290 75.8l1.2 .2 .9 .6 .2 .4-1.2 1-1.1 .2zM290 89.7l4 .6 1.1 .4-5.1 .8zM290 93.1l3.8 .4 1.1 .4-4.9 1zM290 107l.4 .2-.4 .4zM290 109.8l4.9 1-1.3 .4-3.6 .4zM290 113.2l4.3 .8-4.3 1zM290 125l4.6 1-1.3 .4-3.3 .4zM290 128.4l3.3 .4 1.4 .4-4.7 1.1zM290 135.9l.3 .8-.3 .6zM290 139.9l.5 .6-.2 .6-.3 .2zM290 143.9l2.6 .6 .8 .4-3.4 .8zM290 147.3l2.2 .4 .9 .4-3.1 1.2zM290 152.1l5.2 .8-1 .4-4.2 .4zM290 155.4l4.6 .8-.8 .4-3.8 .8zM290 167.2l1.1 .2 1.3 .8-.3 .4-.6 .2-1.5 .2zM290 171.2l1.3 .2 .7 .4-.5 .6-1.5 .6zM290 176.8l3.1 .6 1 .4-4.1 .8zM290 180.3l3 .4 1 .4-3 .8-1 .8zM290 185.3l3 .8 .7 .4-.6 .4-3.1 .6zM290 189.1l4.7 .8-.8 .4-3.9 .6zM290 192.7l1.2 .4 .4 .4-1.6 .8zM290 197.9l.6 .6-.6 .4zM290 207l.2 .4-.2 .4zM290 208.8l2.9 .8 0 .2-.8 .2-2.1 .4zM290 212l2.8 .6-.1 .2-2.7 .8zM290 214.2l1.3 .6 .2 .4-.5 .6 0 .8-1 .4zM290 218.6l2.9 .8-.6 .4-2.3 .6zM290 221.6l1.8 .6-.5 .4-1.3 .4zM290 223.8l1.8 .6 .3 .4-.8 .4-1.3 .2zM290 227l2 .4 .6 .4-1.4 .8-.5 .8-.7 .2zM290 231.7l3.6 .6 1.1 .4-4.7 .8zM290 235.1l3.7 .6 .7 .2 0 .2-4.4 1zM290 239.3l3.2 .8 .8 .4-1.2 .4-2.8 .4zM290 243.1l3.8 .4 1.6 .4-5.4 1zM290 246.5l1.2 .6 0 .4-.8 .6 1.3 1-.7 .4-1 .2zM290 251.3l4.4 .8 0 .2-.7 .2-3.7 .6zM290 254.5l1.6 .7 .3 .4-1.9 1zM290 257.2l1.1 .4 .3 .4-.6 .4-.8 .2zM290 260.4l2 .6 .7 .4-.5 .4-2.2 .6zM290 264.2l2.2 .4 1 .4 0 .2-1.7 .6-1.5 .2zM295.5 42.5l4.4 1-.9 .4-3.5 .4zM295.5 46.1l4.4 .6 1 .4-5.4 1zM295.5 76.4l1.1 1-.2 .4-.9 .6zM295.5 88.7l5.2 1 0 .2-.8 .2-4.4 .4zM295.5 92.1l5.5 .8-.9 .4-4.6 .8zM295.5 106.2l.7 .2 0 .2-.7 .2zM295.5 109l5.4 1-1.2 .4-4.2 .4zM295.5 112.4l5 .8-5 1.2zM295.5 124.2l3.5 .6 1.1 .4-4.6 .8zM295.5 127.6l4.2 .4 .9 .2 0 .2-5.1 1.1zM295.5 131.3l.9 .2 0 .2-.9 .2zM295.5 135.1l1 .2 .1 .6-.1 .4-1 .2zM295.5 139.1l.9 .2 .1 .4-.2 .6-.8 .2zM295.5 142.9l4 1 0 .2-.6 .2-3.4 .4zM295.5 146.5l2.5 .2 1.5 .4-.5 .4-2 .6-1.5 .2zM295.5 151.1l5.2 .6 1.2 .4-1.9 .4-4.5 .4zM295.5 154.6l4 .4 1.3 .4-5.3 1zM295.5 166.4l1.5 1-1.5 .8zM295.5 170.4l1.3 .6-.2 .4-1.1 .6zM295.5 176l3.1 .6 .9 .4-3.9 .6-.1 .2zM295.5 179.4l2.9 .7-2.9 1zM295.5 181.5l.9 .8-.9 .6zM295.5 184.9l3.6 1-.9 .4-2.7 .6zM295.5 188.5l3.2 .8-3.2 1zM295.5 192.1l.2 .4-.2 .4zM295.5 194.1l1.4 .6-.1 .2-1.3 .6zM295.5 197.3l.7 .6-.2 1 1.3 .8-.4 .4-1.4 .4zM295.5 202.3l2.6 .6 .7 .4-.6 .4-2.7 .6zM295.5 206.2l1.4 .2 .9 .4 .1 .2-.6 .8 1.9 1-1.5 .4-2.2 .2zM295.5 211l5.1 .8-1 .4-4.1 .6zM295.5 214.2l1.1 .2 1.8 1.2-.7 .4-2.2 .4zM295.5 218l1.6 .4 .7 .4-2.3 1zM295.5 220.6l.8 .6-.8 .6zM295.5 223l3 1-3 .8zM295.5 226.4l1.8 .6 .2 .6 .6 .8-1 .6-1.6 .2zM295.5 231.1l6.2 .8-.1 .2-.8 .2-5.3 .6zM295.5 234.5l3.3 .4 1 .4-1.1 .6-3.2 .8zM295.5 238.7l4.2 .8 .6 .4-4.8 .8zM295.5 242.3l3.5 .4 1 .4-4.5 1zM295.5 245.5l1.1 .6-1.1 .8zM295.5 247.7l1.8 .8-1.8 .6zM295.5 251.1l.4 .4-.1 .4 .4 .4 2.7 1-3.4 .8zM295.5 256l3.5 .6 .8 .4-.8 .4-3.5 .8zM295.5 260l2 .6 .4 .4-2.4 1zM295.5 263.8l1.3 .4 .3 .4-1.6 .8zM301 43.5l4.4 1-.8 .4-3.6 .4zM301 47.1l4.4 .6 1 .4-5.4 1zM301 76.8l1.3 .8 .2 .4-1.5 1.3zM301 87.9l4.8 1-4.8 .8zM301 91.3l3.5 .4 1.2 .4-4.7 1zM301 108.2l4.8 1-.1 .2-.9 .2-3.8 .4zM301 111.6l4.5 .8-4.5 1.2zM301 123.2l5.2 1 0 .2-.8 .2-4.4 .4zM301 126.6l5.2 .8-1.3 .4-3.9 .6zM301 138.3l.4 .6-.4 .8zM301 142.1l3.7 1-1.1 .4-2.6 .4zM301 145.5l2.4 .4 1 .4-3.4 1.2zM301 150.3l5.5 .8-1.1 .4-4.4 .4zM301 153.5l4.5 .8-.9 .5-3.6 .8zM301 165.4l1.6 1.2-1.6 .8zM301 169.4l1.5 .8-1.5 1zM301 175l3.7 1-3.7 .8zM301 178.4l2.6 .4 1 .4-3.6 .9zM301 183.9l2 .8 .4 .4-2.4 .8zM301 187.5l4 .8-4 1zM301 190.9l1.6 .4 .6 .4-2.2 1zM301 193.7l.5 .4-.5 .2zM301 195.9l1.4 .8-1.4 .6zM301 198.3l1.8 .6 .4 .4-2.2 1zM301 201.9l1.8 .8-.3 .4-1.5 .6zM301 207l4.2 1-1.2 .4-3 .4zM301 210.4l3.1 .6 .2 .2-3.3 1zM301 212.8l.7 .6-.2 .8 .6 .6-.3 .4-.8 .2zM301 217l2.6 .4 .6 .2 0 .2-.9 .4-2.3 .4zM301 219.8l2.2 .2 1.5 .6-1.5 .6-2.2 .2zM301 222.4l2.2 .2 1 .4 0 .2-.7 .4-2.5 .2zM301 225.4l2.2 .2 .6 .4-1.2 .6-1.6 .2zM301 227.2l1.3 .2 .3 .6-.5 .4-1.1 .2zM301 230.1l3.9 1-3.9 .8zM301 233.5l2.7 .4 1 .4-.7 .4-3 .8zM301 237.5l3.8 1 .6 .4-4.4 .8zM301 241.3l6.1 .8-1.2 .4-4.9 .6zM301 244.7l2.2 .8-.3 .4-1.3 .6 .5 1-1.1 .6zM301 249.7l2.5 .8-2.5 .8zM301 252.5l2 .6 .5 .4-.7 .6-1.8 .4zM301 256.4l2.3 .8-.3 .4-2 .8zM301 259.2l1.2 .8-.4 .4-.8 .2zM301 262.4l2 .6 .6 .4-.5 .4-2.1 .6zM301 266.2l1.6 .2 1.5 .6-.1 .2-3 .2zM306.6 44.5l4.3 1-.8 .4-3.5 .4zM306.6 48.1l4.3 .6 1.1 .4-5.4 1zM306.6 77.2l1 .6 .6 .6-.3 .4-1.3 .9zM306.6 86.9l.1 .2 3.3 .6 .7 .2 0 .2-4.1 .6zM306.6 90.5l4 .6-.9 .4-3.1 .6zM306.6 107.6l3.8 .6 .7 .2 0 .2-4.5 .6zM306.6 110.8l.1 .2 4.2 .6-.9 .4-3.3 .6-.1 .2zM306.6 122.4l4.1 1-4.1 .8zM306.6 125.8l3.1 .4 1.3 .4-4.4 1zM306.6 141.3l2.5 .6 .6 .4-3.1 .6zM306.6 144.7l2.8 .6-.4 .4-2.4 .8zM306.6 149.3l4 .6 1.3 .4-5.3 .8zM306.6 152.7l3.4 .4 1.2 .4-4.6 1.1zM306.6 164.6l1.5 1-.2 .4-1.3 .4zM306.6 168.6l1.1 .8-1.1 .8zM306.6 174.2l4.2 1-4.2 .8zM306.6 177.6l3.3 .6 0 .2-3.3 1zM306.6 179.9l.7 .6-.7 .6zM306.6 183.1l3.4 .8 .6 .4-4 .8zM306.6 186.9l3.3 .4 .9 .4-4.2 1zM306.6 190.5l.6 .6-.6 .8zM306.6 191.9l1 1-1 .6zM306.6 195.5l1.1 .6-1.1 .8zM306.6 197.7l.3 .4-.3 .6zM306.6 200.7l1.1 .6 .3 .4-1.4 .6zM306.6 204.5l1.1 .7-1.1 .8zM306.6 206.4l2.1 .8-2.1 .6zM306.6 209.4l3.4 .8-3.4 .8zM306.6 212.2l1.5 .8 .7 .8-.6 .4-1.6 .4zM306.6 216.2l3.3 .8-.6 .4-2.7 .6zM306.6 219.2l1 .6-1 .6zM306.6 221.2l2.5 .6 .7 .4-1 .4-2.2 .4zM306.6 224.6l1.9 .4 .6 .4-.8 .6-.3 1-1.4 .4zM306.6 229.2l4.1 .7 1.2 .4-5.3 .8zM306.6 232.7l3 .6 1 .4-.6 .4-3.4 .8zM306.6 237.1l4 .6 1.3 .4-5.3 1zM306.6 240.7l4 .4 1 .4-5 1zM306.6 244.3l.7 .4-.2 .4-.5 .2zM306.6 245.7l2.6 1-.8 .4-1.8 .4zM306.6 249.1l1.7 .4 .4 .4-2.1 1zM306.6 251.1l1 .2 .9 .6-1.9 .8zM306.6 254.1l4.2 1.1-1 .4-3.2 .4zM306.6 257.8l4.1 1 0 .2-1 .4-3.1 .6zM306.6 262l2 .6 .4 .4-2.4 1zM306.6 265.8l1.3 .4 .4 .4-.5 .4-1.2 .4zM312.1 45.5l4.4 1-.9 .4-3.5 .4zM312.1 49.1l4.4 .6 1 .4-5.4 1zM312.1 77.8l.8 .2 .9 .6 .2 .4-.9 .9-1 .2zM312.1 86.1l2.6 .2 3.7 .8-1.4 .4-4.9 .4zM312.1 89.5l4.8 .4 1.3 .4-3.8 .8-2.3 .2zM312.1 103.7l.7 .2 0 .2-.7 .3zM312.1 106.6l4.7 .8 .7 .2 .1 .2-5.5 .8zM312.1 110l4.9 .8-.9 .4-4 .8zM312.1 121.4l4.8 1.2-4.8 .8zM312.1 125l5.2 .6 0 .2-.7 .2-4.5 .8zM312.1 128.6l.8 .2 0 .2 0 .2-.8 .3zM312.1 132.7l.9 .2 .1 .4-.1 .4-.9 .2zM312.1 136.7l.6 .4-.3 .8-.3 .2zM312.1 140.3l3.1 1-3.1 .8zM312.1 143.7l2.7 .8-2.7 1.2zM312.1 148.5l5.2 .8-.1 .2-.9 .2-4.2 .4zM312.1 151.7l4.4 .8-.8 .4-3.6 .8zM312.1 159l.5 .2-.5 .2zM312.1 163.8l2 1-.4 .4-1.6 .4zM312.1 167.8l1.2 .2 .8 .4-.2 .4-1.8 .8zM312.1 173.2l4.7 1-.1 .2-.9 .2-3.7 .4zM312.1 176.6l3.4 .4 1.2 .4-4.6 1zM312.1 179.4l1.1 .3 .3 .4-.4 .4-1 .2zM312.1 182.5l3 .6 .9 .4-.9 .4-3 .4zM312.1 185.9l3 .4 1.3 .4-.9 .4-3.4 .6zM312.1 189.1l1.2 .2 1.2 .6-.7 .6-1.7 .4zM312.1 191.7l1.1 .2 .6 .4-.4 .4-1.3 .2zM312.1 194.5l1.1 .2 .3 .4-1.4 .4zM312.1 196.7l1.6 .2 1.4 .6-.5 .4-2.5 .6zM312.1 200.3l1.4 .2 1.4 .6-.4 .4-2.4 .6zM312.1 204.1l.7 .2 .6 1.1 2.9 1-4.2 .8zM312.1 208.8l3.3 .4 1.1 .4-4.4 1zM312.1 211.8l1.8 1.4-1.8 .8zM312.1 215.4l1.9 .6-1.9 1zM312.1 218l1.7 .8-1.7 .8zM312.1 220.8l1.4 .6-.3 .4-1.1 .4zM312.1 224l.3 .4-.3 .4zM312.1 225.4l1.3 1-1.3 .6zM312.1 228.6l3.4 .8-3.4 .9zM312.1 231.9l1.7 .4 .7 .4-2.4 1.2zM312.1 236.1l3.1 .8 .7 .4-3.8 .8zM312.1 239.7l3.6 .4 1.5 .4-5.1 1zM312.1 242.9l1.6 .6 .5 .4-2.1 1zM312.1 245.3l.7 .2 .4 .4-1.1 .4zM312.1 247.9l1.8 .4 .7 .4-.7 .4-1.8 .4zM312.1 250.5l2.2 .6 .4 .4-.8 .4-1.8 .4zM312.1 254.3l1.9 .4 1.4 .7-.9 .6-2.4 .6zM312.1 258.2l2.9 .8-.4 .4-2.5 .8zM312.1 261.4l.7 .6-.7 .6zM312.1 264.6l1.5 .8-1.5 .8zM317.6 46.5l4.4 1-.8 .4-3.6 .4zM317.6 50.1l4.4 .6 1.1 .4-5.5 1zM317.6 78.2l1.4 .8 .3 .5-.3 .4-1.4 .8zM317.6 85.1l3.7 .8 .8 .4-4.3 .6-.2 .2zM317.6 88.7l4.4 .6-.8 .4-3.6 .8zM317.6 105.8l.1 .2 3.9 .6 1 .4-5 .8zM317.6 109.4l5 .6-.1 .2-.6 .2-4.3 .8zM317.6 120.6l4.7 1-.1 .2-.9 .2-3.7 .4zM317.6 124l5 .8-5 1zM317.6 127.8l.5 .4-.5 .4zM317.6 131.9l.8 .2 .2 .4-.1 .4-.9 .2zM317.6 135.7l.9 .2 .2 .4-.2 .8-.9 .2zM317.6 139.5l3.3 .6 .7 .4-4 .8zM317.6 142.9l3.4 .6-.4 .4-3 .8zM317.6 147.5l4.1 .6 1.2 .4-5.3 .8zM317.6 150.9l3.1 .4 1.2 .4-4.3 1zM317.6 158l.6 .2 0 .2-.6 .2zM317.6 162.8l1.9 1.2-.5 .4-1.4 .4zM317.6 166.8l1.7 .8-1.7 1.2zM317.6 172.4l4.4 1-4.4 .8zM317.6 175.8l2.8 .4 1 .4-3.8 1zM317.6 181.5l3.3 1-.6 .4-2.7 .4zM317.6 185.1l4.5 .8-1 .4-3.5 .6zM317.6 188.7l1.5 .6 .3 .4-.9 .8 0 .8-.9 .4zM317.6 193.5l1.5 .2 1.2 .6-.8 .4-1.9 .4zM317.6 196.1l1.2 .4 .4 .4-.4 .4-1.2 .2zM317.6 199.3l1.2 .4 .3 .4-.4 .4-1.1 .4zM317.6 202.5l1.1 .8-1.1 .8zM317.6 204.8l2.5 .6 .5 .2 0 .2-3 .6zM317.6 208l2.9 .6-.1 .2-2.8 .8zM317.6 210.4l1.8 .8 .2 .4-.2 .6-1.8 .6zM317.6 214.4l3.6 .8-.7 .4-2.9 .6zM317.6 217.6l1 .6-1 .8zM317.6 219.6l1.5 .8-1.5 .6zM317.6 222.8l2.1 .8-1.7 .8-.1 .2 .3 .8-.6 .4zM317.6 227.4l4.5 .8 .7 .2 0 .2-5.2 .8zM317.6 231.1l2.9 .2 2.3 .6 0 .2-1.1 .4-4.1 .8zM317.6 235.3l6.6 1 0 .2-.8 .2-5.8 .6zM317.6 238.9l6.6 .8-1.1 .4-5.5 .8zM317.6 242.7l1.4 .4 .2 .4 0 .6 1 .8-2.6 .8zM317.6 247.3l2.1 .4 .7 .4-2.8 1zM317.6 249.9l.6 .2 .3 .4-.9 .6zM317.6 252.7l1.6 1-.4 .4-1.2 .4zM317.6 256l3.2 1-.6 .4-2.5 .4-.1 .2zM317.6 259.6l.1 .2 2.5 .6 .6 .4-.6 .4-2.6 .8zM317.6 264.2l1.4 .4 .4 .4-1.8 .8zM323.2 47.5l4.4 1-.8 .4-3.6 .4zM323.2 51.1l4.4 .6 1.1 .4-5.5 1zM323.2 78.8l1.2 .9 .1 .4-1.3 1zM323.2 84.3l4.6 1-1.3 .4-3.3 .4zM323.2 87.7l3.3 .4 1.4 .4-4.7 1zM323.2 105.2l4.4 1-4.3 .6-.1 .2zM323.2 108.6l3.4 .4 .9 .2 .1 .2-4.4 1zM323.2 119.8l3.9 .6 1.3 .4-1.6 .4-3.6 .4zM323.2 123.2l4.1 .4 1.3 .4-5.4 1zM323.2 127l.8 .2 0 .2 0 .2-.8 .2zM323.2 131.1l1.1 .2 .2 .4-.2 .4-1.1 .2zM323.2 134.9l1.2 .2 .1 .4-.2 .8-1.1 .2zM323.2 138.5l4.2 1-.8 .4-3.4 .4zM323.2 141.9l2.6 .4 1.1 .4-3.7 1.2zM323.2 146.7l5.4 .8-1 .4-4.4 .4zM323.2 149.9l4.3 .8-4.3 1.2zM323.2 157l.5 .4 0 .2-.5 .2zM323.2 162l1.5 .6 .7 .6-.6 .4-1.6 .4zM323.2 166l1.8 .4 .5 .4-1.2 .8-1.1 .2zM323.2 171.6l4.2 .6 .9 .4-5.1 .8zM323.2 174.8l4.6 .8-1.1 .4-3.5 .6zM323.2 177.6l1.1 .2 .5 .4-.3 .4-1.3 .4zM323.2 180.9l3.2 .6 .9 .4-1.1 .4-3 .4zM323.2 184.3l3.6 .8-.6 .4-3 .6zM323.2 187.9l.6 .6-.6 .8zM323.2 189.7l1.5 .8-1.5 .8zM323.2 192.9l.7 .6-.7 .6zM323.2 194.9l1.5 .6 .3 .4-1.8 .8zM323.2 198.5l2.1 .6 .4 .4-2.5 .8zM323.2 202.3l1.4 .6 .1 1 1.7 .9-3.2 .6zM323.2 207l4.5 .8 0 .2-.8 .2-3.7 .6zM323.2 210.2l2.5 1.2-.6 .4-1.9 .4zM323.2 213.8l2.2 .6 .1 .2-2.3 .8zM323.2 216.6l1 .6-1 .6zM323.2 219l2.2 .8-2.2 .8zM323.2 222.2l.6 .6-.6 .8zM323.2 223.6l1.6 1-1.6 .8zM323.2 227l3.6 .8-3.6 .8zM323.2 230.5l1.4 .8-1.4 1.2zM323.2 234.7l4.1 1-4.1 .8zM323.2 238.1l3.2 .4 1.3 .4-4.5 1zM323.2 241.3l1.2 .8-1.2 1zM323.2 243.5l1.3 .8-1.3 .6zM323.2 246.3l1.2 .8-1.2 .6zM323.2 248.9l2 .8-2 .8zM323.2 252.5l2.1 .8-.5 .4-1.6 .6zM323.2 256.2l2.8 .8 .7 .4-3.5 1zM323.2 260.2l2.7 .4 .9 .4-3.6 1.2zM323.2 263.4l1 .6-1 .8zM323.2 266.4l1.6 .8-1.6 .2zM328.7 48.5l4.3 1-.8 .4-3.5 .4zM328.7 52.1l4.4 .6 1 .4-5.4 1.1zM328.7 79.3l1.3 1.2-1.3 1.2zM328.7 83.5l3.4 .6 .9 .4-4.1 .6-.2 .2zM328.7 86.9l4.2 .6 0 .2-.7 .2-3.3 .6-.2 .2zM328.7 104.4l3.6 .6 1.2 .4-4.8 .8zM328.7 107.8l3.2 .4 .9 .2 .1 .2-4.2 1zM328.7 119l3.1 .6 .9 .4-4 .6zM328.7 122.4l4.6 .6 0 .2-.8 .2-3.7 .6-.1 .2zM328.7 130.3l.4 .2 .1 .4-.5 .4zM328.7 134.1l.5 .2 .2 .6-.2 .6-.5 .2zM328.7 137.7l3 .6 .8 .4-3.8 .8zM328.7 141.1l2.9 .4 .6 .4-3.5 1zM328.7 145.7l4.2 .6 1.3 .4-5.5 .8zM328.7 149.1l3.3 .4 1 .4-4.3 1zM328.7 156.2l.3 .4-.3 .4zM328.7 161.2l1.6 .8 .2 .4-1.8 .6zM328.7 165.2l1.7 .4 .4 .4-1.3 .8-.8 .2zM328.7 170.6l5 1-.1 .2-.9 .2-4 .4zM328.7 174l3.3 .4 1.5 .4-4.8 1zM328.7 177l.8 .4 0 .2-.8 .2zM328.7 179.9l3.7 1-.6 .4-3.1 .4zM328.7 183.3l4.3 .6 1.1 .4-5.4 1zM328.7 186.9l2.1 .4 1 .6-1.8 1-.1 .6-1.2 .2zM328.7 191.5l2.9 .8-.3 .4-2.6 .6zM328.7 194.5l1.8 .4 .7 .4-.5 .4-2 .6zM328.7 198.1l1.1 .2 .6 .6-1.7 .8zM328.7 202.9l4.1 1 0 .2-.8 .2-3.3 .5zM328.7 206.4l2.6 .4 1.1 .4-3.7 1zM328.7 208.8l1.7 .6 .6 .6-.1 .6-.3 .2-1.9 .4zM328.7 212.8l3.6 .4 1.1 .4-2.5 .6-2.2 .2zM328.7 215.8l2.2 .4 .8 .4-1 .6-2 .4zM328.7 218l1.3 .2 .8 .6-.7 .4-1.4 .2zM328.7 221l2.5 .4 .5 .4-1.6 .6-1.4 .2zM328.7 223.4l1.3 .2 .4 .4-.4 .4-1.3 .2zM328.7 225.8l4 1-1 .4-3 .4zM328.7 229.2l3.2 .7 .2 .4-3.4 1.2zM328.7 233.5l5.3 1.2-1.4 .4-3.9 .4zM328.7 237.1l4.9 .6 1.3 .4-6.2 1zM328.7 240.9l1.7 .6 .2 .4-.4 .6 .1 .6-1.6 .8zM328.7 245.5l2 .4 .7 .4-2.7 .8zM328.7 248.5l.6 .6-.6 .6zM328.7 251.9l.5 .6-.5 .4zM328.7 255l1.1 .8-1.1 .8zM328.7 257.8l2.5 .8 .4 .4-2.9 .8zM328.7 261.4l.1 .2 2.4 .6 .5 .4-.7 .6-2.3 .8zM328.7 266l2 .6 .4 .4-.3 .2-2.1 .2zM334.2 49.5l4.4 1-.8 .4-3.6 .4zM334.2 53.1l4.5 .6 1 .5-5.5 1zM334.2 79.9l1.1 1-1.1 .8zM334.2 82.5l4.6 1-1.1 .4-3.5 .4zM334.2 85.9l3.6 .4 1.6 .4-1.2 .4-4 .6zM334.2 100.7l.8 .2-.1 .2-.7 .2zM334.2 103.5l3.9 .6 1.3 .5-5.2 .8zM334.2 107l3.5 .4 1.2 .4-4.7 1zM334.2 118l4.5 1-1.1 .4-3.4 .4zM334.2 121.4l4.6 .8-4.6 1zM334.2 136.9l2.8 .8 0 .2-.6 .2-2.2 .4zM334.2 140.1l2.8 .8-2.8 1.2zM334.2 144.9l5.5 .8-.1 .2-.9 .2-4.5 .4zM334.2 148.1l5 .8-1 .4-4 .6zM334.2 151.7l1 .2 0 .2-1 .2zM334.2 155.4l.6 .2-.1 .4-.5 .2zM334.2 160.4l1.3 1-1.3 .8zM334.2 164.4l1.4 .6-.2 .4-1.2 .6zM334.2 169.8l4.5 1-4.5 .8zM334.2 173.2l3.7 .4 .8 .2 .1 .2-4.6 1zM334.2 176l1.3 .2 .3 .4-.4 .4-1.2 .2zM334.2 179l3.9 .9 .6 .4-4.5 .8zM334.2 182.7l3.8 .8-.6 .4-3 .6-.2 .2zM334.2 186.9l.6 1.2 .7 .6-1.3 .6zM334.2 191.1l1.2 .4 .5 .4-1.7 .8zM334.2 193.5l1.2 .4 .3 .4-.5 .4-1 .2zM334.2 196.7l2.1 .6 .6 .4-.5 .4-2.2 .6zM334.2 200.5l1.3 .2 .8 .4 0 .2-.9 1 1.8 .8-3 .8zM334.2 205.4l4.5 .8-1 .4-3.5 .6zM334.2 208.4l2.6 .6 .8 .4 .1 .2-.6 .4-2.9 .6zM334.2 212l3.8 .8-.6 .4-3.2 .8zM334.2 215.2l.8 .6-.8 .4zM334.2 217l2.7 1-2.7 .8zM334.2 220.4l1.9 .6 0 .2-.9 .8 1 .8-.3 .4-1.7 .4zM334.2 225.2l4.7 .6 .7 .2 .1 .2-5.5 .8zM334.2 228.6l3.2 .4 1.1 .6-.2 .5-1.3 .6-2.8 .4zM334.2 232.9l6.7 1-.1 .2-.8 .2-5.8 .6zM334.2 236.5l3.9 .4 1.1 .4-5 1zM334.2 240.5l.4 1.2 1.5 .8-1.9 .6zM334.2 244.7l1.6 .8-1.6 .8zM334.2 247.1l1.5 .6 .3 .4-1.8 .8zM334.2 250.7l2.6 .8-.4 .4-2.2 .6zM334.2 254.3l2 .7 .6 .4-.6 .4-2 .6zM334.2 258.2l4.3 1-.6 .4-3.7 .6zM334.2 262l4.3 .8-.8 .4-3.5 .8zM334.2 265.4l1 .6-.2 .4-.8 .4zM339.8 50.5l4.3 1-.9 .4-3.4 .4zM339.8 54.2l4.3 .6 1 .4-5.3 1zM339.8 81.1l.6 .4 3.8 1-.1 .2-.7 .2-3.5 .4-.1 .2zM339.8 85.1l3.5 .4 .8 .2 .1 .2-4.4 1zM339.8 99.9l.5 .2 0 .2-.5 .2zM339.8 102.7l5.4 1-1.7 .4-3.7 .5zM339.8 106.2l3.7 .4 1.2 .4-4.9 1zM339.8 117.2l4.6 1-4.6 .8zM339.8 120.6l3.3 .4 1.3 .4-4.6 1zM339.8 128.4l.4 .2 .3 .6-.7 .5zM339.8 132.5l1.1 .2 .1 .6-.1 .4-1.1 .2zM339.8 135.9l3 .6 .9 .4-1.2 .4-2.7 .4zM339.8 139.3l2.6 .4 .6 .4-3.2 1zM339.8 143.9l4.2 .6 1.3 .4-5.5 .8zM339.8 147.3l4 .4 1 .4-5 1zM339.8 150.7l1.3 .2 0 .2 0 .2-1.3 .2zM339.8 154.3l1.5 .3 .1 .4-.1 .2-1.5 .2zM339.8 159.4l1.7 .2 1.4 1-1.3 .6-1.8 .2zM339.8 163.4l2.1 .4 .6 .4-.9 .6-1.8 .6zM339.8 169l3.6 .6 .8 .4-4.4 .8zM339.8 172.2l.1 .2 4 .6-1 .4-3.1 .6zM339.8 175.6l.2 .4-.2 .4zM339.8 178.4l2.1 .6 .5 .4-2.6 .7zM339.8 181.7l2.8 .6 .7 .4-3.5 .8zM339.8 185.1l2 1-.3 .4-1.7 .8zM339.8 187.5l.9 .4-.1 .2-.8 .2zM339.8 189.9l1.6 .4 .5 .4-2.1 .8zM339.8 192.7l2.2 .6 .4 .4-2.6 .8zM339.8 196.3l1.8 .6 .4 .4-2.2 1zM339.8 200.3l.8 1 3.2 1-4 .8zM339.8 204.8l4.1 .8-4.1 1zM339.8 207.6l1.4 .8 .3 .6-1.7 .6zM339.8 211.2l2.2 .4 .7 .2 .1 .2-3 .8zM339.8 214.2l1.5 .4 .5 .4-2 .8zM339.8 216.6l1.2 .6-1.2 .6zM339.8 219.4l1.3 .2 .8 .4-.7 .4-1.4 .2zM339.8 221.6l1.3 .2 1.3 .6-.6 .4-2 .4zM339.8 224.4l3.6 .8-.1 .2-.6 .2-2.9 .4zM339.8 227.6l1.5 .2 1.1 .4-.5 .6-2.1 1.1zM339.8 232.1l3.5 .6 1 .4-4.5 .8zM339.8 235.5l5.2 .8-1.2 .4-4 .6zM339.8 239.3l1.1 .4 .3 .4-.8 .8 0 .6-.6 .4zM339.8 243.7l2.8 .8-2.8 .8zM339.8 246.7l2 .8-2 1zM339.8 250.3l1 .4 .3 .4-1.3 .8zM339.8 253.7l.7 .8-.7 .7zM339.8 257.2l.7 .6-.7 .6zM339.8 259.8l2.4 .8-.5 .4-1.8 .4-.1 .2zM339.8 263.2l2.4 .8 .3 .6-.6 .6-2.1 .8zM345.3 51.5l4.5 1-.8 .4-3.7 .4zM345.3 55.2l4.6 .6 1.1 .4-5.7 1zM345.3 80.7l5 .8 .8 .2 0 .2-5.8 .8zM345.3 84.1l4.6 .8-1.1 .4-3.5 .6zM345.3 99.1l.9 .2 0 .2-.9 .2zM345.3 101.9l5.5 1-1.6 .4-3.9 .4zM345.3 105.4l3.5 .4 1.4 .4-4.9 1zM345.3 116.2l4.1 .8 .8 .4-4.9 .6zM345.3 119.6l5.2 .8-.8 .4-4.4 .8zM345.3 124l.4 .2-.4 .2zM345.3 127.6l.5 .2 .2 .4-.2 .4-.5 .2zM345.3 131.7l.6 .2 .1 .6-.1 .4-.6 .2zM345.3 135.1l3.1 .6 .5 .4-3.6 .6zM345.3 138.3l3.3 .8-3.3 1.2zM345.3 143.1l5.3 .8-1.1 .4-4.2 .4zM345.3 146.3l4.3 .8-4.3 1zM345.3 158.6l1.5 1.2-1.5 .8zM345.3 162.6l1.3 .4 .5 .4-1.8 1zM345.3 168l4.5 1-1 .4-3.5 .4zM345.3 171.4l4.2 .8-4.2 1zM345.3 174.4l.2 .6-.2 .4zM345.3 177.4l3.3 1-.8 .4-2.5 .4zM345.3 181.1l3 .4 1.1 .4-.9 .4-3.2 .6zM345.3 184.9l1.7 .6 .4 .6-.1 .8-.3 .2-1.7 .4zM345.3 189.3l2.5 .4 .5 .4-.7 .4-2.3 .6zM345.3 192.3l1.1 .2 .4 .4-.4 .4-1.1 .4zM345.3 195.3l.9 .2 .9 .6-.7 .6-1.1 .2zM345.3 198.7l.8 .2 .7 .6-.8 .6-.7 .2zM345.3 200.7l2.6 .6 .6 .4-3.2 .6zM345.3 203.9l3.4 .6-.1 .3-3.3 .8zM345.3 206.6l2.9 .8 .4 .4-.7 .4-2.6 .6zM345.3 210.4l3.1 .4 1.3 .4-4.4 1zM345.3 213.8l.7 .6-.6 .8 1.6 1-1.7 .6zM345.3 218.6l1.9 .6 0 .2-1.9 .8zM345.3 220.8l.4 .6-.4 .4zM345.3 223.4l4.2 1-4.2 .8zM345.3 226.8l3.3 .6 .5 .6-2 1-1.8 .2zM345.3 231.3l6 .6 1.5 .4-1.8 .4-5.7 .4zM345.3 234.7l5.5 .6 1 .4-2.7 .6-3.8 .4zM345.3 238.9l1.4 .2 2 1.6-1 .4-2.4 .4zM345.3 243.1l3 .6-.3 .4-2.7 .8zM345.3 245.7l.9 .8-.9 .6zM345.3 249.1l1.3 .8-1.3 .8zM345.3 252.7l1.8 .8-.4 .4-1.4 .4zM345.3 256.4l2.2 1-2.2 .8zM345.3 260l.1 .2 3.9 .6 1 .4-1.2 .4-3.8 .6zM345.3 263.8l4.8 .6 1 .4-3.7 .8-2.1 .2zM350.8 52.5l4.4 1-.8 .4-3.6 .5zM350.8 56.2l4.5 .6 1.1 .4-5.6 1zM350.8 79.9l4.3 1-4.3 .8zM350.8 83.1l3.8 .6 .8 .2 0 .2-4.6 1zM350.8 98.3l.9 .2 0 .2-.9 .2zM350.8 101.1l5.3 1-1.4 .4-3.9 .4zM350.8 104.6l4.6 .8-4.6 1zM350.8 115.4l5.2 1-1.1 .4-4.1 .4zM350.8 118.8l5.9 .8-1.2 .4-4.7 .6zM350.8 126.8l1 .2 .1 .4-.1 .2-1 .2zM350.8 130.9l.5 .4-.2 .8-.3 .2zM350.8 134.1l2.9 1-2.9 .8zM350.8 137.5l1.7 .4 .6 .4-2.3 .8zM350.8 142.3l3.2 .4 1.2 .4-4.4 .8zM350.8 145.5l3.1 .4 .8 .2 0 .2-3.7 .8-.2 .2zM350.8 148.7l.3 .6-.3 .6zM350.8 152.5l.5 .6-.5 .6zM350.8 157.6l1.7 1.2-.2 .4-1.5 .4zM350.8 161.8l1.8 .4 .4 .4-2.2 1zM350.8 167.2l4 .6 1.2 .4-1.5 .4-3.7 .4zM350.8 170.6l4.2 .4 .8 .2 0 .2-5 1zM350.8 173.6l.8 .2 .3 .4-.1 .4-1 .2zM350.8 176.8l2.9 .6 .5 .4-3.4 .8zM350.8 180.3l2.3 .4 .6 .4-2.9 1zM350.8 183.9l.5 .6-.1 1.2 .7 .6-1.1 .6zM350.8 188.5l1.1 .2 .7 .4-1.8 .8zM350.8 191.1l1.7 .2 1.5 .6-1.2 .6-2 .2zM350.8 194.5l2.5 .4 1.5 .6-1.1 .6-2.9 .4zM350.8 198.5l1.8 .2 .4 .4 .3 .8 1.6 .8-4.1 .8zM350.8 203.1l3.9 .4 1 .4-4.9 1.1zM350.8 206.2l2.4 .6 .6 .4-.6 .4-2.4 .4zM350.8 209.6l2.6 .4 .9 .4-3.5 .8zM350.8 212.6l1.2 .2 .7 .4-.5 .4-1.4 .4zM350.8 214.8l1.6 .4 .5 .4-2.1 .6zM350.8 217.8l1.1 .2 .5 .4-.6 .4-1 .2zM350.8 219.8l2.8 .8-.4 .4-2.4 .4zM350.8 222.8l3.9 .8-.1 .2-.6 .2-3.2 .4zM350.8 226l1.3 .2 .8 .4-.5 1.6-1.6 .6zM350.8 230.5l4 .6 1.3 .4-1.6 .4-3.7 .4zM350.8 233.9l3.8 .4 1.3 .4-1.2 .4-3.9 .6zM350.8 237.5l1.5 .6 .1 .4-.4 .8 .4 .6-.6 .4-1 .2zM350.8 242.1l3.1 .6-.6 .4-2.5 .6zM350.8 244.9l3 .8-.4 .4-2.6 .6zM350.8 248.5l2.5 .6 .4 .4-2.9 1zM350.8 252.3l1.3 .2 .8 .6-2.1 1zM350.8 255.8l1.3 .8-.2 .4-1.1 .4zM350.8 259.2l.8 .6-.8 .8zM350.8 261.4l2.2 1-2.2 .8zM350.8 265.2l1.6 .4 .5 .4-.7 1.2-1.4 .2z"/>
<path class="ln" d="M223.6 16.4l0 10.6-.9 1.8 1.2 .7 4 1-.8 .4-1.4 .2-8.3 .8-1.8 .4 1.8 .4 10.5 1 1.1 .4-6 1.2-.5 .2-.3 .4 1.2 1 .3 .6-.1 10.4 .4 12.9-.6 8.6 .4 .6 1.1 .8 .2 .4-1.7 1.6 .6 7.1-.4 9.8 .1 1.8-.5 2.2 .4 2-.5 1.6 .3 1.4-.7 1 .3 .4 .6 .2 4.5 1-1 .4-10.8 1.2 1.8 .4 9.1 .8 1.7 .5-5.7 1.2-.6 .4 1.5 1.2 .3 .6-.9 2.2 .4 2.2-.7 2 .5 2.6-.4 .6-1.4 1 1.3 .6 5.4 1-1.4 .4-9.6 .8-2.3 .4 2 .4 9.3 .8 1.5 .4-5.6 1.4 0 .4 .7 1-.2 1.2 .5 1.6-.7 2.3 .8 2.2-1.7 1.6 .9 .4 4.8 .8 .7 .2 0 .2-12.6 1.4 1.5 .4 9.3 .8 1.8 .4-5.4 1.4 .1 .4 .9 1-.4 1.4 .5 2.2-.5 1.6-1.5 1-.3 .4 2 1.2 .3 .4-.6 1.2 .1 1.2-.3 1 .6 .5 3 1-.8 .4-7.5 1.2 1.3 .4 6.3 .8 1.2 .4-3.7 1.2-.2 .8-.3 .2-3.5 .8-.5 .2 .2 .2 9.2 1.6-1 .4-11.6 1.2 0 .2 1.2 .2 9.1 .8 2.1 .4-1 .4-4.5 .8-.8 .4 1.6 1.4-.2 .4-1.6 .8-.3 .4 1.8 1.4 .8 1.4-.1 .4-1.4 1.4 0 .4 .7 .4 3 1 .2 .4-2 .6-4.7 .9-1 .4 1.2 .4 5 .8 1.2 .4-.4 .4-3.1 1.2-.1 .4 .2 .2 1.3 .6 .2 .4-2.5 1.2-.3 .4 1 .4 7 1.2-2 .4-11 .8-1.9 .4 13.2 1.2 2.1 .4-.9 .4-7.3 1.2-.2 .2 .1 .4 4.2 1.6 .4 .6-1.5 1.2-4.3 1.2 1.2 .4 5.1 .8 .7 .4-5.5 1.4-.1 .2 .7 .4 2.6 .6 .8 .4-.4 .4-2.3 .8-.3 .4 2.9 1.3 .1 .2-4.4 1-.9 .4 4.3 1 .7 .4-1 1.2-1.4 1 0 .4 .2 .6 1.8 1.2 .1 .4-2.4 1-.3 .6 3 1.6-.5 .4-1.7 .6-.3 .2 .2 .2 3.7 1-1.1 .4-6.9 1 .1 .2 .7 .2 5.9 .8 1.1 .4-3.8 1.2 2.4 1-.4 .4-2 .8 .4 .4 1.5 .8-.6 .4-3.6 1 .5 .4 3.8 1-.4 .5-1.5 .6 1.1 1.2-1.9 1.2 0 .4 4.1 1 .8 .4-8.8 1.4 1.2 .4 6.3 .8 1.7 .6-5.2 1.6 .1 .4 .7 .4 4 1.6 .1 .2-.2 .2-6.8 1.2-1.2 .4 1.3 .4 9.6 1.2 0 .2-.7 .2-5.5 .8-1.7 .6 .3 .4 4 1.4 .2 1 .3 .4-.1 .2-7.8 1.4 1 .4 6.5 .8 1.2 .4-.9 .4-4.4 .9-.8 .4 2.8 1.2-2 1-.1 .4 2.9 1 .3 .4-7.5 1.4 1.3 .4 5.3 .8 .8 .4-4 2.4 0 .4 .6 .4 3.3 1.4-1.7 .2M229.1 16.4l.1 11.6-1 1.9 1.2 .6 4.1 1-.9 .4-1.3 .2-8.3 .8-1.9 .4 1.8 .4 10.6 1 1 .4-5.9 1.2-.6 .2-.3 .4 1.2 1 .3 .6 0 29.5-.1 1.8 .3 .6 1.4 1.2-1.4 1.2-.4 .6 .5 13.7-.1 3.4-.6 2.4 .2 2-.6 1.6 0 1.4-.7 1 .5 .4 4.9 1.2-1.8 .4-8.8 .8-1.4 .4 12.4 1.4 .1 .2-.6 .2-4.6 .9-.9 .4 .1 .4 1.2 .8 .4 .6-.5 2.4 .7 2.2-.5 2 .8 2.4-.3 .8-1.3 1 1.3 .6 5.5 1-1.2 .4-11.9 1.2 1.9 .4 9.4 .8 1.7 .4-5.6 1.4 0 .4 .6 1-.3 1.2 .3 1.6-1 2.3 .4 2-.4 .6-1.5 1 .4 .4 .7 .2 5.2 1-1.5 .4-9.4 .8-2.1 .4 2.3 .4 9 .8 1.3 .4-4.7 1-.9 .4 1 1.2-.4 1.6 .6 1.8 0 1.2-.3 .8-1.8 1.2 .2 .4 2.2 1.2-.5 1.4 .1 2.2 3.6 1.5-1.3 .4-6 .8-1 .4 8.2 1.2 .7 .4-3.4 1-.4 .4 .1 .4-.6 .4-2.8 .6-.9 .4 1.4 .4 7.2 1 .9 .4-1.8 .4-9.1 .8-1.9 .4 2.2 .4 9 .8 1.3 .4-5.1 1-1.2 .6 1.4 1 .2 .4-2 1.4 .2 .4 1.5 1 .6 1.4 .1 .6-.5 1.8 2.7 1.6-1.2 .6-4.7 1-.4 .4 5.6 1.3 .4 .4-3.9 1.4 .6 .6 2.5 .8 .2 .2-.1 .2-5 1.2-.8 .4 1.1 .4 9 1.2-2 .4-11.2 .8-2 .4 11.6 1.2 2 .4 .1 .2-4.6 1.2-.8 .4-.3 .6 .3 .8 3.1 1.4 .6 .8-.9 .4-4.4 .8-.7 .2 0 .2 5.2 1 1 .4-3 1.4 .4 .6 1.4 .6 0 .4-2.5 .8-.5 .4 .6 .4 4.4 1.3-.8 .4-5.6 .8-1.5 .4 5.2 1.2 .8 .4 .3 .4 0 .4-.5 .4-3.3 1-1 .6 .7 .6 3.5 1 .3 .4-3.7 1.2-.8 .6 .8 .6 2.3 .8 .1 .4-.5 .6 2.3 .8 .5 .2-.1 .2-9.4 1.4 1.4 .4 7.8 .8 1.6 .4-4.3 1-.8 .4 1.1 .8-.7 .8 0 .2 3.1 1 .4 .2 0 .2-5.9 1.2-.5 .2 0 .2 4.8 1 1 .4-.7 .9 .3 .6-.1 .4-3.2 1-.6 .4 .1 .2 1.2 .4 5.2 .8 1 .4-2 .4-8.2 .8-.9 .2 0 .2 6.7 1 2.5 .6 .2 .2-.6 .4-4.7 1.4-.9 .4-.3 .4 1.8 .6 6 .8 1 .4-2.1 .4-9.5 .8-2.4 .4 1.4 .4 12.1 1.2 0 .2-.6 .2-4.7 .8-1.4 .6 .5 .8 1 .6 .8 .8 2 .8 .2 .2-.2 .2-7.1 1.2 0 .2 .6 .2 6.4 1 .2 .4-2.6 .8-.5 .4 2.5 1.1 .2 .2-.2 .2-3.1 .8-.6 .4 .7 .4 4.2 .8 .9 .4-1.3 .4-5.9 .8-.9 .4 4.7 1 .9 .4 .4 1-.2 .4-3.2 1.2-.9 .6 .7 .6 3.1 1 .1 .2-.6 .4-2 .2M234.6 16.4l.1 12.7-1 1.8 1.3 .6 4 1-.8 .4-1.4 .2-8.3 .8-1.8 .4 1.7 .4 10.6 1 1.1 .4-6 1.2-.6 .2-.3 .4 1.3 1 .3 .6-.2 19.9 .3 9.2-.2 1.6 .3 .6 1.4 1.2-.2 .4-1.5 1-.3 .6-.5 7.1-.3 9-.4 2 .3 2-.4 1.6 .1 1.2-.6 1 1 .6 4.6 1 0 .2-.8 .2-10.9 1.2 1.7 .4 9.3 .8 2 .4-1.1 .4-4.2 .8-.7 .5 1.8 1.4 .2 .8-.6 2.2 .4 2.2-.7 2 .6 2.4-.4 .6-1.3 1 .4 .4 .7 .2 4.9 .8 .7 .2-.1 .2-13 1.4 1.7 .4 9.5 .8 1.8 .4-5 1.2-.5 .4 .7 1.2-.2 1.2 .4 1.8-.8 2.1 .5 2-.4 .6-1.5 1 .6 .4 4.5 .8 1.1 .4-2 .4-9.5 .8-1.2 .2-.1 .2 12.3 1.4-.8 .4-4.2 .8-.7 .4 1.1 1.2-.4 1.6 .7 1.8 0 1.2-.4 .8-1.7 1.2 2.6 1.6-.6 1.4-.2 2 .6 .4 2.6 .8 .3 .2-.1 .2-8.4 1.5 1.1 .4 6.4 .8 1.3 .4-3.7 1.2-.2 .2-.1 .6-.3 .2-3.6 .8-.5 .2 .1 .2 8.1 1.2 1.4 .4-1.1 .4-11.7 1.2 .1 .2 1.1 .2 9.2 .8 2.1 .4-.9 .4-5.2 1-.3 .4 1.4 1 .1 .4-2.1 1.4 1.7 1.4 .5 1.6-.1 .6-.9 1.2 .1 .4 3.6 1.6-1.5 .6-5.9 1.2 .6 .4 6.7 1.1 1 .4-4.3 1.6-.1 .2 .5 .4 2.5 .8 .3 .4-2.9 1.4 .8 .4 5.2 .8 1.1 .4-13.3 1.4 1.8 .4 9.2 .8 1.3 .2 .6 .2 0 .2-6 1.2-1 .4 .4 .6 2.5 1.6 .1 .6-1 1.2-3.8 1.2 6.3 1.4-.9 .4-3.7 .8-.7 .4 .7 .4 3.5 .8 .6 .4-4.2 1.4 .3 .4 2.8 .8 .7 .4-4.8 1.5 3 1 .4 .4-.4 .4 .5 1.2-1.5 1.2-.4 .6 .3 .6 1.4 .8-.1 .4-1.1 .6-.4 .6 .2 .6 1 1-1.6 1.2 4.7 1.2-1.3 .4-7.1 .8-1.2 .4 8.5 1.4-2.9 1.2 1.5 1-2.5 1 .2 .4 2.6 1-.6 .4-3.1 1 .6 .4 2.8 .8-.1 .4-1.2 .8 1.9 .9 .5 .4-3.2 1.2-.3 .4 5.2 1.4-8.1 1.4 1.1 .4 5.5 1 .3 .4-.2 .2-3.1 1.4-.3 1.2 1 .6 2.6 .6 .8 .4-1.1 .4-6 .8-1.3 .4 1.4 .4 6.8 1 0 .2-.6 .2-5.4 1 .2 .4 2.5 .8 1.1 .8-.2 1 .4 .8-.1 .2-6.4 1.2-.1 .2 8.9 1.4-.8 .4-4.6 .8-.8 .4 .7 .4 2.8 .6 .9 .5-.5 .4-2 .6-.4 .4 2.6 1 .3 .4-4.7 1-.8 .4 4.8 1 .8 .4-1.4 .8-1.4 2 .2 .8 1.6 1.2-.2 .4-2.1 1-.1 .2 1.3 .2M240.2 16.4l0 13.7-.9 1.8 1.2 .6 4 1-.8 .4-1.4 .2-8.3 .8-1.8 .4 1.8 .4 10.5 1 1.1 .4-6 1.2-.5 .2-.3 .4 1.2 1 .3 .6-.2 22.1-.5 8.2 .2 .4 1.6 1.4-1.4 1.2-.3 .6 .3 4.9 .2 9.8-.2 2.4 .2 1.8-.5 2.8-.6 1 .5 .4 4.9 1.2-1.7 .4-9 .8-1.7 .4 11.5 1.2 1.1 .4-5.1 1-1.1 .4 0 .4 1.1 .9 .5 .8-.6 2.4 .5 2.2-.5 2.2 .6 2.2-.4 .8-1.4 1 .3 .4 .7 .2 5.6 1-.1 .2-.9 .2-12.2 1.2 1.4 .4 9.4 .8 2 .4-1 .4-4.1 .8-.6 .4 .7 1.2-.1 1.2 .4 1.8-.7 2 .6 2.1-.2 .4-1.5 1.2 .9 .4 5.3 1 0 .2-.9 .2-11.6 1.2 1.6 .4 9.2 .8 1.8 .4-5.5 1.4 .1 .4 1.1 1-.3 1.6 .6 1.6 .1 1.2-.3 .8-1.7 1-.2 .4 2.2 1.2 .4 .4-.6 1.4-.3 1.6 .1 .4 3.7 1.4-1.2 .4-6.2 .8-1.2 .5 8.2 1.2 .8 .4-3.3 1-.4 .2-.2 .8-.5 .2-2.9 .6-.9 .4 1.4 .4 7.5 1 1 .4-1.9 .4-9.1 .8-2 .4 2.3 .4 9.2 .8 1.3 .4-6.1 1.4-.1 .4 1.5 1.2-.3 .4-1.4 .8-.3 .4 1.5 1 .4 .6 .5 2-.7 1.6 .5 .4 2.7 1.2-1.1 .6-5.2 1.2 .5 .4 5.1 1 .6 .4-2.9 1.5 .3 .6 1.5 .8-.1 .4-3.6 1-.8 .4 .2 .2 9 1.4-.1 .2-1.2 .2-14.3 1.2 1.8 .4 9.5 .8 2.5 .6-1 .4-5.2 1.2-1.1 .8 .2 .4 .6 .4 3.6 1.2 .4 .4-.3 .4-1 .4-6.2 1.2 1.3 .4 6 .8 1.1 .4-4.2 1.2-.5 .4 .3 .4 1.8 .6 .5 .4-1.5 1 .1 .4 2.9 1 .3 .4-6.2 1.5 0 .2 .7 .2 4.2 .8 .8 .4-.8 1.2-2.7 1-.8 .6 .6 .6 2.8 1 .4 .4-.7 .4-3.1 .8-.9 .6 .5 .4 3.3 1.2 0 .2-1.4 1 2.4 1-7.9 1.4 1.4 .4 7 .8 1.2 .4-5.1 1.2-.1 .2 2.3 1-.6 .8 1.7 1 0 .2-5.2 1.2-.5 .4 5.8 1.4-2.2 1-.1 .2 .3 .8-2.1 1.1-.4 .4 .2 .2 6 1.4-1.2 .4-7.5 .8-1.7 .4 9.5 1.6 .3 .2-.4 .4-4.3 1.2-1.2 .6-.1 .4 1.5 .6 5.2 .8 1.3 .4-1.4 .4-10.1 1-.9 .2-.1 .2 11.1 1.2 1.8 .4-1.1 .4-9.3 1.4-.3 .2 .5 .4 6.6 1.4 .6 .4 0 .4-1.7 .6-6.6 .8-1.5 .4 1.8 .4 7.1 .8 .9 .4-4.1 1.2-.3 .2 .4 .4 1.9 .8-.4 .4-1.9 .9 .5 .4 4.3 1 .2 .2-.1 .2-6.3 1-1.3 .4 5.9 1.2 .8 .4-.2 1-.4 .4-2.9 1-.8 .6 .8 .6 3.7 1.2-.4 .4-3 .8-1.3 .6 .1 .4 1.8 .2M245.7 16.4l.1 14.7-1 1.8 1.2 .6 4.1 1-.9 .4-1.3 .2-8.3 .8-1.9 .4 1.8 .4 10.6 1 1 .4-5.9 1.2-.6 .2-.3 .4 1.2 1 .3 .6-.3 29.7 .3 .6 1.6 1.2-1.7 1.8 .5 4.7 0 9-.3 2.2 0 2-.6 2.4-.8 1 .3 .4 .5 .2 4.6 1-.1 .2-.8 .2-11.4 1.2 1.3 .4 9.3 .8 2 .4-1 .4-4.4 .8-.9 .4 1.4 1.4 .3 .7 0 .8-.6 1.8 .6 2.2-.6 2 .7 2.2-.2 .6-1.5 1-.2 .4 1 .4 4.7 .8 .8 .2 0 .2-13.2 1.4 .1 .2 1.2 .2 9.3 .8 2.1 .4-1 .4-4.1 .8-.7 .4 .8 1.2-.2 1.2 .6 1.8-.5 2 .8 2.1-.2 .4-1.4 1 .4 .4 .8 .2 5.1 1-1.5 .4-9.2 .8-2 .4 2.4 .4 9 .8 1.2 .4-4.8 1-.8 .4 1.3 1.4-.5 1.6 .7 1.8 .1 1-.4 .8-1.9 1.2 .3 .4 2.3 1.2 0 .4-.5 1-.3 2 .7 .4 2.8 .8 .3 .2 0 .2-8.5 1.4 1 .4 6.5 .9 1.5 .4-.6 .4-2.9 .8-.2 .2-.1 .6-.3 .2-3.6 .8-.5 .2 .1 .2 8.3 1.2 1.5 .4-1.1 .4-12 1.2 .1 .2 1.1 .2 9.2 .8 2.1 .4-1 .4-5.1 1-.4 .4 1.1 1 .1 .4-2 1.4 .2 .4 1.2 .8 .2 .4 0 1 .4 1.2-.5 1.2 0 .4 3.1 1.6-.8 .4-5.1 1-.8 .4 .9 .4 6.5 1.2 .1 .2-.4 .2-4 1.3-.2 .2 .3 .4 3 1.2-.5 .4-3 .8-.6 .4 1.1 .4 6 1-1.3 .4-9.3 .8-1.6 .4 10.3 1.2 .8 .4-3.5 1.2-.8 .6 .9 1.8 1.7 1.2 .3 .8-4.6 1.4 6 1.4-4.4 1.4 .3 .4 3.2 1 .2 .2-.1 .2-4 1-.5 .4 4 1.2 .3 .4-4.6 1-.9 .4 2.7 1.1 .5 .4 0 .4 1.4 1-.3 .4-2.5 1-.7 .6 .8 .6 2.8 1-.3 .4-2.4 1.4 .1 .6 1 .8-.3 1 4.1 1.2-1.8 .4-7.8 .8-1.1 .4 9.8 1.4 0 .2-.5 .2-3.1 .8-.2 .2 .6 .8-1.9 1 2.9 1 .4 .2-.1 .2-3.9 1-.8 .4 3.3 1.2 .2 .2-.8 1 2.1 1-.6 .4-3.3 .8-.6 .5 .8 .4 4.6 .8 1 .4-8.4 1.4 1.1 .4 5.1 1 .5 .4-.3 .6-3.1 2 0 .4 .9 .4 4.8 1-.9 .4-8.4 1.2 1.1 .4 6.5 .8 1.5 .4-.9 .4-3.2 .6-.8 .4 1.9 1.2-2.3 1.4 .8 .4 2.7 .6 .4 .2-.1 .2-6.7 1.2 6.3 1 1.3 .4-5.5 1.4 .6 .4 3.5 .8 .6 .4-3.5 1-.4 .5 3.2 1 .3 .4-4.1 1-.7 .4 4 1.2-1 .8 .8 1-.1 .4-2.4 1.6 .3 .6 1.4 .6 .3 .4-1.2 .8-.5 .8 .5 .8 .7 .4-.2 .2M251.2 16.4l.1 15.7-1 1.8 1.3 .6 4 1-.8 .4-1.4 .2-8.3 .8-1.8 .4 1.7 .4 10.6 1 1.1 .4-6 1.2-.6 .2-.3 .4 1.3 1 .3 .6-.1 11.7-.5 8 .5 7.4-.1 2.2 .3 .6 1.1 .8 .2 .4-1.6 1.2-.4 .6-.1 6.5 .2 7.8 .3 2.2-.2 2.2-.8 1.2 1.3 .6 4.4 1-1.6 .4-9 .8-1.9 .4 2.3 .4 9.1 .8 1.3 .4-5 1-1.3 .6 1.2 1.2 .4 .8-.1 .9-.5 1.8 .6 2-.5 2.2 .8 2.2-.3 .8-1.2 .8-.2 .4 .9 .4 4.8 .8 .9 .4-2.3 .4-9.6 .8-1.1 .2 0 .2 10.5 1 2.2 .4-.7 .4-4.1 .8-.7 .4 .8 1.2-.1 1.2 .6 1.8-.6 2.2 .6 1.6-.3 .7-1.3 1 .6 .4 4.4 .8 1 .4-2.1 .4-9.2 .8-1.2 .2 0 .2 10.1 1 2.1 .4-.9 .4-4.7 1-.1 .4 1.1 1-.6 1.8 .5 1.8-.1 1-.6 .8-2 1.2 .3 .4 1.7 .8 .4 .4-1.4 3 .1 .4 3.7 1.4-1.1 .4-6.3 .8-1.3 .4 1.6 .4 6.4 .8 1 .4-3.2 1.1-.5 .4-.2 .6-.5 .2-3.9 1 1.5 .4 7.7 1 1 .4-1.8 .4-9.3 .8-1.9 .4 2.3 .4 9.2 .8 1.4 .4-4.8 1-1.2 .6 1.4 1.4-.2 .4-1.4 .8-.2 .4 1.5 1.2 .1 .4 .1 2.2-1 1.6 .3 .4 2.4 1.2-.7 .4-5.2 1-1 .4 .7 .4 5.4 1 .7 .4-2.7 1.4-.1 .7 1.3 .8 .2 .4-2 1-.1 .4 1.2 .4 5.5 .8 1.1 .4-14 1.4 1.6 .4 11.1 1 .9 .4-.8 .4-5 1.2-1.1 .6 0 .4 .5 .4 3.8 1.4 .3 .4 0 .2-1.5 .6-5.5 1-.6 .2 0 .2 8.7 1.4-.9 .4-5.5 1.2 .2 .4 3.4 1 .3 .4-1.8 .8-.3 .4 1.7 1 0 .4-3.5 1-.6 .4 4 1 .6 .4-.9 .9-.4 1-.8 .6-.2 .6 .4 .6 1.9 1 .3 .4-.6 .4-1.8 .6-.6 .6 .4 .4 2.5 1 .4 .4-2.1 1.2 3.3 1-1 .4-6.7 1 0 .2 .8 .2 6 .8 1.2 .4-4.3 1.2 2.6 1.2-1.2 .8 .8 1-.5 .4-3.1 .8-.5 .4 5.2 1.4-3.1 1.2 0 .2 1.6 1-1.9 1.2 .3 .4 4 1.3-1.4 .4-7.3 1 0 .2 .8 .2 5.8 .8 1.5 .4 0 .4-.4 .2-4.2 1.4-.7 .8 .9 .6 5.2 1 .6 .4-1.9 .4-8.2 .8-1.7 .4 1.7 .4 8.3 .8 2.2 .4 0 .2-.7 .2-6.2 1-1.1 .6 .4 .4 1.2 .4 5.3 1.2 .4 .4-.3 .2-3.1 .6-7.2 .8-.9 .2-.1 .2 12.4 1.2 1.1 .4-7.8 1.4-.2 .2 .1 .2 2.6 .8 .6 .4-1.4 .8-.1 .4 3 1.3-.7 .4-6.1 1.2 .9 .4 4.9 .8 .8 .4-1 .6-.8 1-1.8 .8-.6 .6 .6 .6 3 1.2-.2 .4-3 .8-1.2 .6 0 .2 .5 .4 4.2 1.4-.1 .2-2.4 .2M256.8 16.4l0 16.7-.9 1.8 1.2 .6 4 1-.8 .4-1.4 .2-8.3 .8-1.8 .4 1.8 .4 10.5 1 1.1 .4-6 1.2-.5 .2-.3 .4 1.2 1 .3 .6-.3 10.2 .6 13.7-.1 3-.3 2 1.6 1.6-1.8 1.4-.3 .6-.1 12.9 .4 2.4-.2 2-.7 1 .3 .4 .5 .2 4.2 .8 .7 .2 0 .2-12.3 1.4 0 .2 1.1 .2 9.3 .8 2.2 .4-.8 .4-4.5 .8-.9 .4 .1 .4 1.1 1 .3 .8 0 .8-.6 1.9 .7 2-.3 2.2 .9 2.2-.3 .8-1.3 1.2 .8 .4 4.8 .8 1.1 .4-2.2 .4-10.9 1-.2 .2 1.1 .2 9.2 .8 2.4 .4 0 .2-.7 .2-4.2 .8-.7 .4 .6 1.2-.1 1.2 .4 1.8-.8 2.2 .6 1.6-.2 .4-1.5 1.3 .8 .4 4.5 .8 .6 .2-.1 .2-12.5 1.4 1.8 .4 9.1 .8 1.6 .4-5.7 1.4 .2 .4 1.2 1-.5 1.8 .8 2.4-.5 1-2 1-.3 .4 2.1 1.2 .3 .4-.9 1.4-.8 1.8 .6 .4 2.8 .8 .4 .2 0 .2-8.7 1.4 0 .2 .8 .2 6.6 .8 1.6 .4-.5 .4-2.7 .9-.2 .2-.1 .6-.2 .2-3.6 .8-.6 .2 .1 .2 10.4 1.6-1.1 .4-11.8 1.2 .1 .2 1.2 .2 9.3 .8 2.2 .4-.8 .4-4.3 .8-.8 .4 1.3 1.6-1.8 1.4 .2 .4 1.5 1.2-.1 1 .3 1.4-.7 1.6 .3 .4 1.8 .8 .4 .4-.8 .4-4.9 1-.6 .4 6.5 1.6-.5 .4-3.2 1.2 .2 .4 2.2 1.1 .2 .4-3.7 1.2-.2 .2 .2 .2 6 1 1.2 .4-12.2 1.4 1.4 .4 7.5 .8 1.3 .4-3.1 2-1.3 1.4 .2 .4 3.8 1.4 .1 .4-.8 .4-4.6 .8-1.1 .4 7 1.4-.1 .2-3.5 1.2 .1 .4 2.4 1.2-.4 .4-2.5 .8 0 .2 .7 .4 3.3 .8 .3 .4-5.1 1.2-.5 .4 3.6 1 1.7 1.7-.3 .4-3.1 1-.9 .6 .9 .6 3.4 1 .1 .2-.1 .2-3.8 1.2-.6 .6 .7 .6 1.8 .8-.2 .8 .1 .2 2 .6 .5 .2 0 .2-10.1 1.4 .1 .2 1 .2 7.6 .8 2 .4-1 .4-4.4 1 .7 .8-.3 1 2.4 .8 .3 .4-5.6 1.4 .7 .4 3.6 .8 .6 .4-.9 1 1.5 1-3.7 1.2-.2 .2 .1 .2 6.3 1.2 .6 .3-.1 .2-7.7 1-1.5 .4 6 1.2 .6 .2 .7 .6-.2 .4-.6 .4-4.2 1.4-.5 .4 .2 .2 6.9 1.4-1.3 .4-7.7 .8-1.9 .4 1 .4 8.3 1.2 .1 .2-.5 .2-3.5 .8-.7 .6 .4 1.2 .5 .4 3.7 1.4 .4 .2 0 .2-9 1.4 1.2 .4 5.7 .8 1.1 .4-.3 .4-1.7 1 .2 .4 1.1 .6-.1 .4-2.7 .8-.5 .4 .8 .4 2.6 .6 .7 .4-.8 .5-4.1 .8-.6 .4 3.4 1 .3 .4-.5 .6 1.6 1-.2 .4-3.4 1.4 .5 .6 3.5 1.2-.2 .4-2.8 1.4 .1 .6 2.4 1.2-.3 .4-1.4 .6M262.3 16.4l.1 17.7-1 1.8 1.2 .6 4.1 1-.9 .4-1.3 .2-8.3 .8-1.9 .4 1.8 .4 10.6 1 1 .4-5.9 1.2-.6 .2-.3 .4 1.2 1 .3 .6-.4 11.3 .8 14.4-.2 2.6 .4 .6 1.1 .8 .2 .4-1.6 1.2-.3 .6 0 14.1-.3 1.8-.9 1.2 1.2 .6 4.6 1-1.4 .4-9.1 .8-2.1 .4 2.1 .4 9.2 .8 1.5 .4-5.5 1.2-.6 .4 1.3 1.4 .4 1-.5 2.5 .6 2.2-.6 2 .6 2.2-.3 .8-1.5 1.2 .7 .4 4.8 .8 1.1 .4-2 .4-9.7 .8-1.6 .4 12.8 1.4 0 .2-.6 .2-4.2 .8-.8 .4 .8 1.2-.2 1.2 .5 1.6-.7 2.2 .5 1.8-.2 .4-1.4 1 .4 .4 .7 .3 4.8 1-1.6 .4-9.2 .8-1.8 .4 12.4 1.4 0 .2-.5 .2-4.4 .8-.7 .4 1.5 1.4-.3 1.8 .8 1.8 .2 1-.4 .6-2.1 1.2 .3 .4 1.9 .8 .6 .6-1.2 2.8 .1 .4 4 1.4-1.1 .4-6.4 .8-1.5 .4 1.4 .4 6.3 .8 1.1 .4-3.6 1.2-.3 .6-.8 .5-4.3 1 1.3 .4 7.8 1 1 .4-1.9 .4-9.4 .8-2 .4 2.3 .4 9.1 .8 1.5 .4-4.7 1-1.1 .6 1.5 1.4-.1 .4-1.4 1.2 1.8 1.2 .2 .4 0 1 .5 1.4-.7 1.6 2.4 1.6-.8 .4-5 1-.7 .4 6.7 1.6-.2 .4-3.3 1.4 .1 .6 1.3 1-1.9 1.3 .5 .4 4.1 .8 1 .4-1.8 .4-9 .8-1.5 .4 12 1.4 0 .2-4.3 1.2-1.7 .8 0 .6 .3 .4 1.1 .8 1.7 .8 .3 .4-.1 .2-1.4 .6-5.2 1.2 1 .4 6.3 .8 .9 .4-6 1.2-.6 .4 .7 .4 3.5 .8 .9 .4-.5 .4-2.6 .8 0 .4 1.7 .8 .2 .4-2.5 1.2 .4 .4 2.1 .6 .6 .4-1.2 1 1.1 .8 .2 .5-1.6 1.6 .3 .6 1.4 .8-.1 .4-1.2 .6-.4 .6 .1 .4 1.4 1.4-1.6 1 .2 .2 4.1 1-1 .4-6.9 .8-1.2 .4 8.2 1.4-3.3 1.2 0 .2 1.7 .8-.4 .4-1.3 .6 1 1-.1 .2-3.2 1.2 .7 .4 3.4 1-.5 .4-2.6 .8-.1 .2 .3 .2 2 .6 .7 .4-3.1 1.4 .6 .4 3.2 1-1.1 .4-5.8 1.1 1 .4 5.4 1 .2 .2-.5 .4-2.3 1.6-.4 1 1.1 .6 4 .8 .6 .2 0 .2-9.1 1.2-.8 .2 0 .2 9.7 1.2 1.4 .4-1.2 .4-5.1 .8-1 .4-.1 .2 .5 .4 4.5 1.8 .5 .4-.1 .2-2.1 .6-6.5 .8-.9 .2 0 .2 10.4 1 1.9 .4-10.3 1.2-1.3 .4 1.6 .4 6.2 .8 1.1 .4-4.1 1.2 .2 .4 1.4 .6 .1 .2-.2 .2-4.4 1.3 .6 .4 4.3 .8 .7 .4-2.1 1 .4 1-.7 .6-.2 .6 .3 .6 2.1 1.4-.5 .4-1.6 .6-.4 .6 .8 .6 2.5 1 .3 .4-3.9 1.4-.3 .4 1.1 .2M267.8 16.4l.1 18.7-1 1.8 1.3 .6 4 1-.8 .4-1.4 .2-8.3 .8-1.8 .4 1.7 .4 10.6 1 1.1 .4-6 1.2-.6 .2-.3 .4 1.3 1 .3 .6-.5 8.7 .3 9.6-.7 9.4 .3 .6 1.4 1.2-1.4 1.2-.4 .6 0 10.7 .3 3.6-.8 1.4 .3 .4 .5 .2 4.3 .8 .9 .4-2.1 .4-9 .8-1.2 .2 0 .2 12.7 1.4 0 .2-.6 .2-4.4 .8-1 .4 0 .4 1 1 .4 1.2-.7 2.4 .6 2.3-.6 2 .7 2.2-.3 .8-1.5 1.2 .7 .4 5.9 1.2-1.8 .4-9.7 .8-1.7 .4 12.7 1.4 .2 .2-.6 .2-4.1 .8-.8 .4 .7 1.2-.1 1.2 .6 1.6-.6 2.2 .4 1.8-1.6 1.4 .6 .4 4.3 .8 .8 .5-2.2 .4-10.3 1 0 .2 1.2 .2 9.1 .8 2 .4-1 .4-4.9 1 0 .4 1.1 .8 .2 .4-.7 1.8 .7 2.6-.5 .8-2.2 1.2 .4 .4 2.3 1.2 0 .4-1.3 2.4-.1 .4 .7 .4 2.9 .8 .5 .4-1.5 .4-6.5 .8-.8 .2 0 .2 8.2 1.2 .7 .4-3.1 1-.8 1-3.7 .9-.6 .2 0 .2 10.5 1.6-1.1 .4-11.9 1.2 .1 .2 1.2 .2 9.2 .8 2.2 .4-.7 .4-4.2 .8-.8 .4 1.3 1.6-.3 .4-1.2 .8-.2 .4 1.8 1.4-.1 1.2 .4 1.4-.6 1.6 2.1 1.2 .2 .4-.9 .4-5 1.2 .4 .4 4.7 1 .8 .4-2.7 1.6 .1 .4 1.3 1 0 .4-2.7 1.1-.2 .2 .3 .2 5.8 1 1.2 .4-1.9 .4-9 .8-1.3 .4 8.5 1 1.2 .2 .7 .4-1.8 1.4-2.7 1.2-.7 .6 .6 .6 3.9 1 .8 .4-.1 .2-2.2 .6-5.6 .8-.9 .4 8.6 1.4-.7 .4-3.5 .8-.9 .6 2.1 1.4-1.6 1 .1 .2 2.6 1 .3 .2-.1 .2-5.2 1.4 .4 .4 3.5 .8 .8 .4-.3 .8 .3 .4-.1 .4-2.5 1.1-.6 .6 .8 .6 3.2 1 .3 .4-4 1.2-.6 .6 .6 .4 2.9 1 .1 .4-1 .8 2.1 1-1.5 .4-7.1 1 1.3 .4 7.1 .8 1.6 .4-5.9 1.4 2.1 1 .3 .8 1.2 .6 .1 .4-5.9 1.4 .8 .4 4.3 .8 1.1 .4-2.2 1.2 1.1 1-.5 .4-1.7 .6-.2 .4 1.1 .4 4.2 .8 .8 .4-9 1.4 .1 .3 .8 .2 6.4 1 .8 .4 .1 .4-.7 .6-4.3 1.4-.5 .4 .2 .2 2.4 .6 4.5 .6 1.1 .4-2 .4-8.5 .8-1.6 .4 1.6 .4 8.4 1 .7 .2 0 .2-4.9 1.2-.9 .4-.5 .6 .2 .6 4.8 1.4 .4 .2-.3 .4-10.1 1.4 1.6 .4 7.4 .8 1.3 .4-5.2 2-1 1 .2 .4 .6 .4 4 1 .7 .4-.2 .2-6.4 1.2-.8 .4 4.7 1.3 .3 .4-.4 .6 1 .8-.1 .4-3.1 1-.7 .6 .6 .4 3.6 1 .6 .4-.6 .4-3.4 1-.5 .4 .6 .6 3.6 1.2-.3 .4-3.2 1.4 .2 .6 1.1 .2M273.4 16.4l0 19.7-.9 1.8 1.2 .6 4 1-.8 .4-1.4 .2-8.3 .8-1.8 .4 1.8 .4 10.5 1 1.1 .4-6 1.2-.5 .2-.3 .4 1.2 1 .3 .6-.4 16.7-.7 10.4 .2 .6 1.5 1.2-.1 .4-1.2 .8-.4 .6 .5 12.7-.2 .8-.9 1 1.1 .6 4.8 1-1.2 .4-9 .8-2.4 .4 1.9 .4 9.2 .8 1.7 .4-5.4 1.2-.7 .4 1.1 1.4 .4 1.2 0 .8-.5 1.6 .7 2.3-.6 2 .8 2.2-.3 .8-1.5 1.2 .6 .4 6.1 1.2-1.7 .4-9.7 .8-1.8 .4 11.7 1.2 1.2 .4-4.6 1-.9 .4 .8 1.2 0 1.2 .7 1.6-.5 2.2 .6 1.6-.2 .6-1.2 1 .8 .4 4.3 .8 .6 .2-.1 .2-12.4 1.5 1.9 .4 9.1 .8 1.5 .4-5 1-1.1 .4 .2 .4 1.2 1-.7 2 .6 2.6-.4 .6-2.1 1-.3 .4 2.8 1.6-1.2 2.8 .1 .4 4.2 1.4-.9 .4-8 1.2 1.3 .4 6.4 .8 1.3 .4-3.3 1.2-.5 .8-4.5 1-.4 .2 .3 .2 9 1.3 1 .4-1.9 .4-9.5 .8-2 .4 2.3 .4 9 .8 1.4 .4-4.6 1-1.2 .6 1.2 1.4-.1 .4-1.5 1.2 2 1.6-.1 1.2 .5 1.4-.5 1.4 .6 .6 1.6 .8 .1 .4-5.9 1.6 .6 .4 4.8 1 .8 .4-.4 .4-2.8 1.2 0 .6 1.4 1.2-2 1.2 .8 .4 4.1 1.1-1.2 .4-7.8 .8-1.7 .4 10.2 1.4 0 .2-3.4 1-.9 1.2-.2 1.2 .2 .6 2.2 1 .4 .4 0 .2-.9 .4-4.8 1.2 1 .4 6.4 1 .1 .2-.6 .2-4 .8-.8 .4 .5 .4 4 1.2-.2 .4-3.4 1 .3 .4 2.4 1-.2 .4-2.2 .8-.3 .4 1.8 1-.8 1 .2 .2 2.1 1-.4 .4-2.6 1-.6 .7 .4 .4 2.2 .8 .3 .4-2.6 1.6-.1 .8 .6 .6-.4 1 4 1.2-1.5 .4-7.8 .8-1.3 .4 8.9 1.2 .9 .4-3.6 1.2 .9 .8-1 1 2 1-.6 .4-2.3 .6-.7 .4 3.8 1.4-2.2 1.2 .6 .4 2.7 .8-.4 .4-3.2 .8-.5 .4 4.7 1.4-1 .4-5.4 1 .2 .2 4.8 1.3-.4 .8-.1 1-2.4 1.4 0 .4 4.4 1 .8 .4-9.3 1.4 0 .2 .8 .2 8.1 1.2 .1 .2-.4 .2-4.8 1-.5 .4 1.6 1.4 2.8 1.2 .2 .4-1.9 .6-6.7 1 1 .4 8.3 .8 1.6 .4-7.3 1.2-.7 .4 1.3 .4 5.1 .8 .7 .4-7.5 1.4 .8 .4 3.3 .6 1 .4-.1 .2-2.6 1 .4 .4 2 .8-1.9 1.1 .4 .4 1.3 .6 .3 .4-1.8 1.2-.3 .6 .3 .4 1.8 1-.3 .4-1 .6-.3 .6 .6 .8 1.4 1-.4 .4-1.5 .6-.4 .6 .6 .6 2.5 1.2-2.1 .2M278.9 16.4l.1 20.7-1 1.8 1.2 .6 4.1 1-.9 .4-1.3 .2-8.3 .8-1.9 .4 1.8 .4 10.6 1 1 .4-5.9 1.2-.6 .2-.3 .4 1.3 1 .2 .8-.1 15.1-.9 11.4 .3 .6 1.4 1.2-1.5 1.2-.3 .6 .8 11.5-1 1.6 .7 .4 4.3 .8 1 .4-1.9 .4-9.1 .8-1.4 .4 11.7 1.2 1 .4-4.8 1-1.1 .6 1 1.2 .6 1.6-.5 2.2 .7 2.3-.6 2 .6 2.2-.3 .8-1.6 1.2 1.4 .6 5.2 1-1.6 .4-9.7 .8-2.1 .4 2.3 .4 9.2 .8 1.3 .4-4.7 1-.9 .4 0 .4 .7 .8-.2 1.2 .5 1.6-.6 2.2 .5 1.6-.3 .6-1.1 .8 .4 .4 .7 .2 4.6 1-1.7 .4-9.3 .8-1.6 .5 11.5 1.2 .9 .2 0 .2-5.2 1-.8 .4 1.6 1.4-.4 2 1.1 2.6-.3 .6-2.2 1.2 .2 .4 2 .8 .8 .6-1.4 3 .6 .4 3 .8 .7 .4-1.4 .4-6.5 .8-1.1 .4 8.1 1.2 .7 .4-3 1-.9 1-4 .8-.8 .4 10.4 1.7-1.2 .4-12.2 1.2 .1 .2 1.1 .2 9.1 .8 2.1 .4-.8 .4-4.2 .8-.8 .4 1 1.6-1.8 1.6 1.9 1.4-.3 1.4 .4 1.4-.5 1.4 .3 .4 2 1.2-.6 .4-4.5 1-.7 .4 .7 .4 4.4 1 .6 .4-2.2 1.4-.2 .6 .6 1.2-1.6 1-.2 .2 .2 .2 5.3 1 1 .5-1.8 .4-8.6 .8-1.4 .4 11.1 1.4 .1 .2-1.8 .8-1.1 1-2 .8-.5 .6 .8 .6 4 1 .9 .4 .1 .2-2.2 .6-5.8 .8-1.2 .4 1.3 .4 7.3 .8 1.3 .4-5.8 1.2-1 .4-.1 .2 .6 .4 2.9 1-.1 .4-1.2 .8 1.2 1-.4 .4-3.7 1.2 .5 .4 3.3 .8 .6 .4-1.5 1 .3 1-1.4 .8-.2 .4 .3 .6 2.5 1.5-.5 .4-2.5 .8-.5 .6 3.4 1.6-.3 .4-1.5 .8 2.8 1-.9 .4-6.7 1 0 .2 .8 .2 6.3 .8 1.4 .4-4.3 1-.7 .4 2.8 1 .2 .4-.2 .4 .4 .6 0 .2-5.5 1.4 .9 .4 4.8 .8 1 .4-.6 .4-3.4 1 0 .2 1.5 .6 .4 .4-1.5 .8-.2 .4 3.8 1.4-.9 .4-5.8 .8-1.2 .4 7.3 1.4 .2 .2-1 .9-3.4 1.4-.6 .4-.1 .4 1.9 .6 5.5 1-1.1 .4-10.9 1.2 0 .2 .9 .2 9 1 1.6 .4-.9 .4-5.2 1-.9 .4-.4 .4 .2 .4 .7 .4 5.5 1.2 .6 .4-2.8 .6-7.9 .8-.9 .2-.1 .2 12.1 1.4-.9 .4-4.7 .8-1.3 .6 .4 .4 1.7 .8 .2 1 .3 .2 2.1 .6 .5 .4-1.6 .4-6.7 .8-1.4 .4 1.6 .4 7.1 .8 1.5 .4-3.7 1.3 .3 1-2.2 1.2 .4 .6 3.7 1.4-.4 .4-3 .8-1 .6 .8 .6 3.7 1 .5 .4-.7 .4-2.9 .8-.9 .6 .8 .6 3 .8 .7 .4-.4 .4-2.1 .2M284.4 16.4l.1 21.7-1 1.8 1.3 .6 4 1-.8 .4-1.4 .2-8.3 .8-1.8 .4 1.7 .4 10.6 1 1.1 .4-6 1.2-.6 .2-.3 .4 1.3 1 .2 .6-.2 5 .1 8.9-.5 7.2 .4 4.8 .4 .8 1.5 1 .2 .4-1.6 1.6 .2 2.3-.8 8-1.1 1.4 .3 .4 .7 .2 4.9 1-1.1 .4-11.4 1.2 1.7 .4 9.1 .8 1.9 .4-1 .4-4.1 .8-.7 .4 .9 1.4 .6 1.6-.5 2.2 .7 2-.6 2.3 .6 2.2-.3 .8-1.7 1.2 1.3 .6 5.2 1-1.4 .4-9.7 .8-2.3 .4 2.1 .4 9.2 .8 1.4 .4-5.7 1.4 0 .4 .6 .8-.2 1.4 .3 1.6-.8 2.2 .5 1.4-.1 .4-1.1 1 .6 .4 4.3 .8 .9 .4-12.3 1.4 .2 .2 1.2 .2 9.4 .9 2 .4-5.9 1.4 0 .4 1.7 1.2-.5 2 1 2.6-.4 .6-2.2 1.2 .4 .4 2.3 1 .3 .4-1.5 2.6 .1 .4 4.2 1.4-.8 .4-8.3 1.2 1.1 .4 6.3 .8 1.3 .4-3.1 1.2-.4 .8-.5 .2-4.6 1 1.2 .4 8.3 1 1.2 .4-1.9 .4-9.4 .9-1.9 .4 2.2 .4 9 .8 1.3 .4-5.5 1.4 0 .4 .7 .8 .1 .6-1.9 1.4 .2 .4 1.3 .8 .3 .4-.5 1.2 .3 1.6-.6 1.4 2.2 1.6-.7 .4-4.4 1-.5 .4 5.8 1.6 0 .4-2.1 1.2 0 .6 1.1 1.2-1.7 1.2 .6 .4 4.1 .8 .6 .2 0 .2-10 1.5 1.4 .4 7.3 .8 .8 .4-3.1 1 .8 1.2-2 1.4-.2 .4 .5 .4 3.5 1 .3 .4-1 .4-6.1 1.2 .8 .4 5.7 .8 .7 .4-3.9 1-.6 .4 .3 .4 2.5 1.2-.4 .4-2.4 .8 0 .2 2.7 1 .4 .4-3.5 1.4 .3 .4 1.9 .8 0 1 1.9 .8 .4 .4-3.5 1.2-.6 .6 1.2 .6 3 .9 .4 .4-3.8 1.4-.5 .6 2.1 1.2 .2 1 2 .6 .6 .4-1.8 .4-7.7 .8-1 .2-.1 .2 10.7 1.4 0 .2-.6 .2-4.7 1 0 .2 .7 .8 .3 .8 1.5 .6 .2 .4-4.5 1-.7 .4 3.8 1 .7 .4-1.9 1.2 2.3 1.2-.8 .4-3.2 .8-.2 .2 .2 .2 4.4 1 .7 .4-7.1 1.4 .1 .2 4.3 1 .4 .2 0 .6 .7 .9-.1 .4-.4 .2-3 1-.5 .4 .9 .4 5.1 .8 1.1 .4-9.4 1.4 .9 .4 7.7 1.2 .2 .2-.2 .2-3.5 1.2 0 1.4 .4 .4 3.3 1 .6 .4-1 .4-8.1 1.2 1.2 .4 7.8 .8 1.1 .4-5.7 1-1.1 .4 .5 .4 3.6 1.2-.5 .4-2.9 .8-.1 .2 2.9 1 .6 .4-.6 .4-3.2 1-.7 .4 0 .4 1.1 .8 4.7 1.2 .4 .5-4.2 1.2-1.2 .6 .5 .6 3 1 .5 .4-3 1.8 .2 .6 2 1-.2 .4-1.1 .6-.5 .6 0 .4 .4 .6 1.1 .8-.3 .4-1.6 .8-.2 .2 .5 .2M290 16.4l0 22.7-.9 1.8 1.2 .6 4 1-.8 .4-1.4 .2-8.3 .8-1.8 .4 1.8 .4 10.5 1 1.1 .4-6 1.2-.5 .2-.3 .4 1.3 1 .3 .6-.5 12.5 1 9.4-.1 3.8 .1 .4 1.4 1 .2 .4-1.8 1.6 .1 8.9-.3 .6-1 1 .6 .4 5.2 1.2-1.8 .4-9.1 .8-1.7 .4 11.3 1.2 1.1 .4-4.8 1-1.2 .6 .7 1 .6 2-.5 2.2 .6 2-.5 2.3 .6 2.2-.3 .8-1.7 1.2 .4 .4 .8 .2 5.3 1-1.3 .4-9.6 .8-2.5 .4 1.9 .4 9.3 .8 1.6 .4-4.6 1-1.1 .6 .7 1 0 1.4 .7 1.6-.5 2 .6 1.6-1.2 1.4 .9 .4 4.8 1-1.3 .4-9 .8-2.3 .4 2.1 .4 9.2 .8 1.4 .4-5.2 1.1-1 .4 .1 .4 1.3 .8 .2 .4-.7 2 .9 2.6-.5 .6-1.8 .8-.4 .4 2.9 1.6-.2 .8-1.3 2 .2 .4 4.2 1.4-1.3 .4-6.5 .8-1.2 .4 7.8 1.2 .9 .4-2.9 1-.8 1-3.9 .8-1 .4 10.7 1.6-1 .4-12 1.3 .1 .2 1.1 .2 9.1 .8 2.1 .4-.8 .4-4.4 1-.2 .4 .8 .8 .2 .6-1.8 1.6 2 1.4-.3 1.4 .5 1.6-.3 1.4 1.9 1.2 .2 .4-.9 .4-4.4 1-.4 .4 4.6 1.2 .7 .4-.2 .4-2 1.2-.2 .4 .1 1.4-1 .8-.1 .4 5.5 1.4-1.8 .4-8.4 .8-1.4 .4 11.3 1.5 .2 .2-.5 .2-2.9 .8-.5 1-.9 .6-.3 .6 .2 .4 1.2 .6 3.2 1 .2 .2-.1 .2-7.7 1.4-.6 .2 0 .2 9.4 1.4-.8 .4-6.1 1-.7 .4 .5 .4 3.9 1.2-.2 .4-2 .8 .2 1.2-2.4 1.2 .4 .4 2.6 .8 .5 .4-2.5 1.2 1.5 .8 .3 .4-1.2 1-.4 .6 .3 .6 1.4 1-1.5 1.1-.3 .4 .2 .4 1.8 1.4-1.2 .8-.1 .4 3.4 .8 .6 .2 0 .2-7.3 1-1.2 .4 8.4 1.4-.1 .2-3.4 1-.1 .2 2.3 1-.5 .8 0 .8-4.3 1.2 .5 .4 4.7 .8 1 .4-.6 .4-3.5 .8-.5 .4 3.5 1.2-2.2 1.2 .4 .4 1.8 .6 .3 .4-.8 .4-4.8 1 .7 .4 5.3 1 .1 .2-.2 .2-1 .4-.9 1.2-1.3 .9-.3 .6 .8 .4 5 1.2-1.5 .4-8 .8-1.4 .4 10.6 1.6 0 .2-.5 .2-6.1 1.2-.6 .6 .3 .4 1.2 .6 4.5 1 .8 .4-2.5 .6-7.8 .8-1.6 .4 2.1 .4 9.6 .8 1.6 .4-7.3 1.2-1 .4 .4 .4 3.7 1.2 0 .4-.8 .6 1.3 1-.7 .4-4 .8-.7 .4 8.1 1.4 0 .2-.7 .2-6 .8-1.2 .4 .9 .4 3.7 .9 .8 .6-1.8 1.2 0 .2 1.3 1-2.2 1-.4 .6 .5 .4 3.4 1.4-.5 .4-2.8 .8-.9 .6 .9 .6 3.4 1 .4 .4-4.7 1.6-.1 .4 1.6 .2M295.5 16.4l.1 23.7-1 1.8 1.2 .6 4.1 1-.9 .4-1.3 .2-8.3 .8-1.9 .4 1.8 .4 10.6 1 1 .4-6 1.2-.5 .2-.3 .4 1.2 1 .3 .6-.2 2 .2 10.1-.8 13 .3 .6 1.5 1.2-1.7 1.9 .9 7.4-.2 .6-.8 .8 .3 .4 .6 .2 4.4 .8 .6 .2 0 .2-12.2 1.4 1.4 .4 9.1 .8 2 .4-.9 .4-4 .8-.7 .4 .8 1.2 .6 2-.8 2.4 .4 2.2-.8 2.1 .6 2.2-.5 .8-1.4 1 .4 .4 .7 .2 5.5 1-1.2 .4-12.1 1.2 1.8 .4 9.3 .8 1.8 .4-5.2 1.2-.5 .4 .7 1-.1 1.4 .4 1.6-.7 2 .5 1.6-1.2 1.2 .5 .4 5.2 1.2-1.8 .4-9.1 .8-1.4 .4 12.8 1.4 0 .2-.7 .2-4.6 .9-.8 .4 1.8 1.4 .1 .4-.6 2 .8 2.2-.4 .6-2.2 1-.3 .4 2.4 1.2 .4 .4-.1 .6-1.4 2 0 .4 .8 .4 3.2 .8 .5 .2 0 .2-8.7 1.4 .9 .4 6.3 .8 1.5 .4-.5 .4-2.3 .8-.3 .8-.5 .2-4.2 .8-.5 .2 .2 .2 9.3 1.2 1.2 .4-1.9 .4-9.4 .8-2 .4 2.1 .4 8.8 .9 1.3 .4-5.5 1.4-.1 .4 .7 1 0 .4-1.8 1.2-.2 .4 1.9 1.4-.6 1.4 .3 1.4-.5 1.6 2 1.4-.5 .4-4.3 1-.9 .4 .6 .4 4.3 1 .6 .4-.2 .4-1.6 1-.1 .4 .4 1.4-1.3 1-.1 .4 4.7 1 .9 .4-10.6 1.4 0 .2 1 .2 7.2 .9 1.3 .4-3.1 1 .1 .4 1 .8-3 1.4-.4 .4 .4 .4 .7 .2 4 .8 1 .4-.9 .4-7 1-1.3 .4 1.3 .4 6.5 .8 1 .4-4.7 1.4-.2 .2 .2 .4 1.7 1.2-1.3 1 2.2 1 .2 .4-4.2 1.4 .5 .4 3 1-.1 1.2 1.3 .8-.4 .4-2.5 .8-.4 .6 4.8 1.8-.6 .4-3.5 1.1-.5 .4 .1 .2 3.5 1.4 .1 .2-.6 .8 1.9 1-1.5 .4-7.5 1 1 .4 7.6 .8 1.8 .4-1 .4-5.2 1 0 .2 3.8 2 .2 .2-.1 .2-5.6 1-1.2 .4 1 .4 4.6 .8 .7 .4-2.9 1.2 .1 .4 1.2 .6-.1 .4-2.7 1 .6 .4 4.4 1 .1 .2-.2 .2-6.1 1-.9 .4 5.6 1.2 .4 .2 .2 .6 .5 .6 0 .4-.3 .2-3.4 1.1-.6 .4 1.6 .6 6.4 1-.1 .2-.8 .2-8 .8-2 .4 1 .4 5.9 .8 2.1 .6-.5 .4-3.3 1-1.3 .8-.5 .6 .6 .4 4.9 1 .6 .4-1.7 .4-7.4 .8-1.8 .4 1.6 .4 8 .8 1 .4-5.1 1-.9 .4 .3 .4 2.3 1.2-2.3 1.2 3 1.2-.8 .4-3.9 1 .3 .4 2.9 1 .1 .8 .3 .2 2.7 1-1.1 .4-6.1 .8-1.2 .5 .9 .4 7.6 1.2 .8 .4-.8 .4-4.3 1-1 .6 .6 .6 3.2 1 .4 .4-3.4 1.8 .3 .6 2.2 1-.1 .4-1.1 .6-.8 .8 .2 .6 .5 .4-.2 .2M301 16.4l.1 24.7-1 1.8 1.3 .6 4 1-.8 .4-1.4 .2-8.3 .8-1.8 .4 1.7 .4 10.6 1 1 .4-6 1.2-.6 .2-.3 .4 1.2 1 .2 .6-.2 3.5 .5 7.8 .1 6.4-.2 4.8-.3 2.2 1.7 1.8-1.8 1.7 .4 6.2-1.2 1.4 1.3 .6 4.6 1-1.6 .4-9 .8-1.9 .4 2.3 .4 8.9 .8 1.2 .4-4.6 1-1.1 .6 .7 1 .4 2.2-.6 2.4 .5 2.2-.7 2 .6 2.3-.4 .8-1.4 1 .4 .4 .7 .2 5.6 1-.1 .2-.9 .2-12.2 1.2 1.6 .4 9.4 .8 1.9 .4-1 .4-4 .8-.6 .4 .8 1 .1 1.4 .7 1.8-.4 1.8 .6 1.6-1 1.2 .7 .4 4.8 1 0 .2-.8 .2-11.7 1.2 1.4 .4 9.2 .8 1.9 .4-6 1.2-.7 .4 1.5 1.5-.9 2.4 .9 2.2-.4 .6-2.3 1.2 .3 .4 2 .8 .8 .6-.3 1.2-1 1.4 .1 .4 4.5 1.4-1.1 .4-6.5 .8-1.4 .4 1.6 .4 6.1 .8 1 .4-2.8 1-.6 1-5.1 1.2 10.6 1.6-1.1 .4-12 1.2 .1 .2 1.1 .2 8.9 .8 2 .4-.9 .5-4.4 1-.1 .4 .6 .8 .2 .6-2.1 1.6 .3 .4 1.5 .8 .3 .4-.5 1.4 .4 1.4-.2 1.6 2 1.4-.5 .4-4.4 1-.7 .4 .8 .4 4.2 1 .5 .4-1.9 1.4 0 1.6-1.1 1.4 .9 .4 4.3 1-1.5 .4-8.2 .8-1.6 .4 10.2 1.2 1 .4-4.8 1.3 .8 1-.7 1.4 .1 .6 .5 .4 2.5 .8 .4 .4-7.1 1.6 .9 .4 6.3 .8 1.5 .4-1.1 .4-4.7 .8-.8 .4 .6 .4 3.6 1 .6 .4-2.7 1.2 1 1.2-1.4 .8-.2 .4 2.5 1.4-2.2 1 0 .4 2.6 .8 .4 .4-2.6 1.2-.7 .6 .6 .6 1.8 .6 .5 .4-2 1.6 0 .9 .6 .8-.4 .8 .9 .4 3.3 .8-1.2 .4-7.7 .8-1.5 .4 8.5 1.2 1 .4-3.8 1.2 1.2 1-.2 .8 .6 .8-3.9 1.2 .9 .4 5.1 1-.3 .4-3.1 .8-.5 .4 4.3 1.2 .1 .2-.2 .2-2.9 1 .4 .4 1.8 .6 .4 .4-.7 .4-3.8 1 .7 .4 2.8 .6 .6 .4-1.7 .8 0 .4 .5 .6-.1 .4-2.1 1-.2 .4 4.7 1.5-1.4 .4-6.9 .8-.8 .2-.1 .2 8 1.2 1 .4-.7 .4-4.1 1-.4 .2-.1 .4 .5 .6 .9 .6 4 1 .6 .4-1.5 .4-9.5 1.2 1.2 .4 9.2 .8 2.3 .4-1.2 .4-6.2 .8-.9 .2-.5 .4 4.9 1.6-.3 .4-1.3 .6 .4 .8-.1 .4-3.9 1.2 .9 .4 4.5 1 .1 .2-.3 .2-3.2 .8-.6 .4 3.6 1.2 .3 .2 .1 .4-.6 .4-4.8 1.1-1 .4 5.5 1.2 .8 .4-.3 .4-2.3 1-.1 .4 1.6 1-1.9 1-.3 .4 .5 .6 3.1 1.4-.5 .4-2.7 .8-.7 .6 .9 .6 3.5 1.2-.1 .2-3 .2M306.6 16.4l0 25.7-.9 1.8 1.2 .6 4 1-.8 .4-1.4 .2-8.3 .8-1.8 .4 1.8 .4 10.5 1 1.1 .4-5.9 1.2-.9 .4 .2 .4 1.1 .8 .3 .6-.3 9.3 1.2 9.2-1 5.8 1.5 1.6-1.9 1.7 0 4.8-1.2 1.6 .7 .4 4.2 .8 .7 .2 0 .2-12.3 1.4 .1 .2 1.1 .2 8.9 .8 2.1 .4-.9 .4-4.1 .8-.7 .4 .7 1.2 .3 2.2-.6 2.2 .7 2.2-.5 2.2 .7 2.3-.3 .8-1.4 1 .3 .4 .7 .2 4.9 .8 .7 .2 0 .2-13.1 1.4 .2 .2 1.2 .2 9.4 .8 2.1 .4-.9 .4-4.1 .8-.6 .4 .8 1-.1 1.4 .5 1.6-.6 2 .3 1.6-1 1 .3 .4 .6 .2 4.6 1-1.3 .4-9.2 .8-2.1 .4 2.3 .4 9.3 .8 1.3 .4-5.3 1-1 .4 .1 .4 1.5 1.3-.6 2.4 .9 2.2-.6 .6-1.8 .8-.5 .4 .4 .4 1.9 .8 .6 .6-.2 1-1.2 1.4 0 .4 .7 .4 3.2 .8 .6 .4-1.6 .4-6.4 .8-.7 .2 0 .2 8.4 1.4-.4 .4-2.3 .8-.3 .8-.4 .2-4.2 .8-.6 .2 .1 .2 9.3 1.2 1.3 .4-1.8 .4-9.3 .8-1.9 .4 2.3 .4 8.8 .8 1.2 .4-4.3 1.1-.8 .4 .1 .4 .8 .8 .1 .6-1.9 1.6 2.2 1.4 0 .4-.6 1 .1 1.6-.5 1.4 .2 .4 1.3 .8 .2 .4-.8 .4-4.5 1-.5 .4 5.4 1.6-.1 .4-1.8 1.2 .3 1.4-1.3 1.2 .1 .4 5.9 1.4-1.8 .4-8.3 .8-1.3 .4 10.5 1.4-.6 .4-2.9 .8 .9 1.1-.1 .2-2.1 1-.7 .6 .8 .6 4.8 1 .6 .4-1.5 .4-8.5 1.2 0 .2 .7 .2 8.6 1 .9 .4-4.9 1-1.6 .6-.1 .2 .4 .4 2.4 1 .1 .4-.5 .6 1 1-.6 .4-3.2 .8-.6 .4 .8 .4 3.1 .8 .6 .4-1.8 1.2 .8 .6 .2 .4-1.6 .8-.5 .6 .6 .6 2.3 1 .3 .4-2.9 1-.9 .6 .8 .6 2.6 1.1 0 .4-1.2 .8 2.3 1-1 .4-6.8 1 0 .2 .8 .2 6.8 .8 1.5 .4-5.7 1.4 3.8 1.4 .7 .8-.1 .2-7.1 1.4 1 .4 6 .8 1.3 .4-.6 .4-3.3 .8-.5 .4 2.1 1.2-1.4 .8 .2 .4 3.4 1.2-1 .4-4.9 .8-1.1 .4 1 .4 4.7 .8 .6 .4-.8 .6-.3 1-3 1-.7 .4 .1 .2 1.1 .4 5.2 .9 1.2 .4-1.7 .4-8.4 .8-1.4 .4 10 1.6 .2 .2-.2 .2-4.4 1.2-1.4 .6-.5 .6 1.3 .6 5.2 .8 1.3 .4-2.9 .6-8.5 .8-1.2 .4 11.3 1.2 1 .4-5.2 1-1.1 .4-.2 .2 .3 .4 1.8 1 0 .4-.3 .8 2.3 1-.8 .4-4.3 .8-.6 .4 5.2 1.4 0 .2-1.6 1 1.3 .8-.1 .4-2.7 .8-.7 .4 .1 .2 5.8 1.7-1 .4-7.9 1.2 .6 .4 6.3 1 1.9 .6 0 .2-1 .4-4.2 1-.9 .6 .6 .6 3.4 1 .4 .4-3.3 1.4-.5 .4 .4 .6 2.6 1-.1 .4-1.5 .6M312.1 16.4l.1 26.7-1 1.8 1.2 .6 4.1 1-.9 .4-1.3 .2-8.3 .8-1.9 .4 1.8 .4 10.6 1 1 .4-6 1.2-.6 .2-.2 .4 1.2 1 .2 .6-.3 8.3 1.1 9.6-.6 5.8 1.7 1.8-1.6 1.7 .9 3.4-.9 1.4 1.3 .6 4.7 1-1.4 .4-8.9 .8-2 .4 2.1 .4 8.7 .8 1.3 .4-4.8 1-1.3 .6 .5 1-.2 2.6-.8 2.2 .7 2-.4 2.2 .9 2.5-.3 .6-1.2 .8-.2 .4 .9 .4 4.8 .8 .7 .2 .1 .2-13.2 1.4 0 .2 1.1 .2 9.3 .8 2.2 .4-.9 .4-4.2 .8-.7 .4 .6 1-.1 1.4 .5 1.8-.5 1.8 .4 1.6-.9 1 .6 .4 4.1 .8 1 .4-2 .4-9.1 .8-1.2 .2-.2 .2 12.9 1.4 0 .2-.7 .2-4.7 .8-.9 .4 1.9 1.6-.6 2.5 .8 2-.3 .6-2.4 1-.3 .4 2.2 1.2 .4 .6-.5 1.2-1.4 1.4 .9 .6 3.5 1-1 .4-6.3 .8-1.6 .4 1.4 .4 6.1 .8 1 .4-2.5 1-.6 1-5.1 1.2 1.6 .4 8.4 1 .7 .2-.1 .2-12.7 1.4 .1 .2 1.2 .2 8.8 .8 1.9 .4-.8 .4-4.3 1 0 .4 .8 .9 .1 .6-.5 .6-1.5 1 .2 .4 2 1.2-.5 1.4 .3 1.6-.2 1.4 1.8 1.2 .1 .4-5.5 1.6 .5 .4 4.3 1 .8 .4-.2 .4-1.7 1-.1 .4 .3 1.2-1.1 1-.2 .4 .9 .4 4.2 .8 .6 .2-.1 .2-11.1 1.4 1.7 .4 8.2 .8 1.2 .4-5.1 1.2 0 .2 1.6 .9 .3 .4-1.7 1.4-.2 .6 4.1 1.2 .3 .2-.2 .2-7.2 1.4 .8 .4 5.7 .8 1.3 .4-5 1.4 .1 .4 3 1.4-.3 .4-2 1 1.6 1-.4 .4-1.8 .8 .1 .4 1.7 1-.2 .4-1.2 .6-.1 .4 3.2 1.2-.5 .4-3.5 1-.5 .4 .7 .6 2.9 .8 .7 .4-.4 .4-2.9 1-.6 .6 .5 .6 1.3 .6 .6 1.1 2.9 1-1.5 .4-8 .8-1.3 .4 9.9 1.2 1.1 .4-4.6 1-.8 .4 2.7 2 .1 .2-.1 .2-5.3 1.2 .8 .4 4.7 1-.4 .4-3 1 .3 .4 2.7 .8 .2 .2-.1 .2-2.9 .8-.7 .4 .7 .4 2.3 .6 .4 .4-4.5 1.4 .7 .4 2.7 .8 0 .2-.9 .8 1.6 .8 .3 .4-3.3 1.2-.4 .4 5.8 1.4-1.1 .5-6.6 .8-.7 .2 0 .2 7.1 1.4 .3 .2-.1 .2-3.3 1.4-.2 1.4 .6 .4 3.7 .8 .7 .4-1.5 .4-7.1 .8-1.7 .4 1.6 .4 8.5 .8 1.5 .4-6.1 1-1.6 .6 .7 .4 3.5 1 .5 .4-1.9 1 .8 .8 0 .4-2.7 .8-.4 .4 3.9 1 .7 .4-.7 .4-2.3 .6-.5 .4 3.2 1 .4 .4-3.6 1.4-.6 .6 .5 .4 3.7 1.1 .7 .4-.9 .6-7 1.4 .9 .4 5.3 .8 1.3 .4-.9 .6-2.7 .8-.4 .4 1.8 1.2-.4 .4-1.4 .6-.4 .6 .4 .4 2.6 1.4-.5 .4-2.5 .8-.5 .6 2 .2M317.6 16.4l.1 27.7-1 1.8 1.3 .6 4 1-.8 .4-1.4 .2-8.3 .8-1.8 .4 1.7 .4 10.6 1 1.1 .4-6 1.2-.6 .2-.2 .4 1.2 1 .2 .7-1 9 .7 14 .4 .6 1.5 1.3-1.8 1.6 .1 2.2-1.2 1.4 .8 .4 4.1 .8 .8 .4-2.2 .4-8.9 .8-1.1 .2 0 .2 9.9 1 2.2 .4-.8 .4-4.2 .8-.7 .4 .9 1.4 .2 2.6-.6 2 .6 2.2-.5 2 .7 2.2-.3 .8-1.2 .9-.2 .4 .9 .4 4.8 .8 1 .4-2.2 .4-9.5 .8-1.2 .2 0 .2 12.9 1.4-.1 .2-.6 .2-4 .8-.7 .4 .9 1.2 0 1.2 .5 1.8-.7 1.8 .1 1.4-1 1.2 .7 .4 4.6 1-.1 .2-.9 .2-11.7 1.2 1.6 .4 9.5 .8 1.9 .4-5.9 1.2-.6 .4 1.5 1 .5 .6-.5 2.5 1 2-.3 .6-2.5 1.2 .3 .4 1.8 .8 .7 .6-.2 1.2-1.3 1.6 .6 .4 3.2 .8 .7 .4-1.5 .4-6.3 .8-1 .4 7.7 1.2 .5 .2 0 .2-2.8 1-.2 .8-.4 .2-4.4 .8-.7 .2 0 .2 9.2 1.2 1.2 .4-1.8 .4-9.3 .8-1.9 .4 2.3 .4 8.5 .8 1.2 .4-4.9 1.2-.3 .4 1 1 .1 .7-2 1.6 2.4 1.6-.6 1.4 .3 1.6-.3 1.2 .5 .6 1.3 .8 0 .4-5.6 1.6 .6 .4 3.6 .8 1.3 .6-2 1.4 .2 1.6-1.4 1-.1 .4 6 1.4-1.5 .4-8.7 .8-1.7 .4 10.3 1.2 1 .4-4.5 1.2 .8 1.2-1.8 1.5 .2 .4 .6 .4 3.9 1 .3 .2 0 .2-8.1 1.2-1.3 .4 1.5 .4 7.4 .8 1.7 .4-1 .4-5 .8-1.4 .6 1 .6 3.6 1.2-.1 .4-.7 .6 0 .8-3 1-.3 .4 4.6 1.2 .5 .4-2.7 1-.5 .4 2 1 0 .4-1 .6-.6 .8 .5 .8 1.1 .8-.4 .4-1.4 .6-.5 .6 1.9 1.6-1.4 1.2 2.8 .9 .5 .2 0 .2-7.1 1-1.3 .4 8.3 1.4-.1 .2-3.4 .8-.8 .4 3.2 1.2 .2 .4-.2 .6-1.1 .4-4.7 .8-1 .4 8.6 1.4-.7 .4-4.2 .8-1.1 .4 .3 .4 3.1 1-.3 .4-1.1 .6 .3 .4 1.6 .8-.7 .4-3.9 .8-.9 .4 .9 .4 5.1 1 .1 .2-.2 .2-1.5 .6 .1 1.2-1.2 .6-.6 .6 .7 .4 5.1 1 .7 .2 0 .2-10.3 1.5 1.2 .4 8 1 1.1 .4 0 .2-1.1 .4-4.2 1-1.1 .6-.1 .4 1.2 .6 6.7 1.2 0 .2-.8 .2-10.6 1-2.1 .4 1.8 .4 9.6 .8 2.1 .4-1.1 .4-4.4 .6-2.5 .6-.2 .2 .2 .4 2.8 1.2 .2 .4 0 .6 1 .8-.9 .4-4.7 .8-.7 .4 5.8 1.2 .7 .4-2.8 1-.5 .4 1.4 1-1.7 1-.1 .6 2.4 1.4 .1 .4-3.2 1.1-.4 .4 .7 .4 4.1 1 .4 .2 0 .2-7.6 1.2-.8 .2 0 .2 6.4 1.2 1.9 .6 .1 .2-.6 .4-4 1-1.3 .8 .7 .6 3.8 1.2-.2 .4-3.6 1.4-.1 .2 .3 .4 1.8 .2M323.2 16.4l0 28.7-.9 1.8 1.2 .6 4.1 1-.8 .4-1.4 .2-8.3 .8-1.8 .4 1.7 .4 10.6 1 1.1 .4-6 1.2-.6 .2-.2 .4 1.2 1.1 .2 .6-.5 7-.1 15.4 .3 .6 1.4 1.1 .1 .4-1.4 1.2-.2 1.4-.9 1 1.1 .6 4.7 1-1.3 .4-8.8 .8-2.1 .4 2 .4 8.9 .8 1.4 .4-4.6 1-1.1 .6 .9 1.2 0 1.2 .3 1.4-.6 2.2 .4 2.2-.8 2 .5 2.2-.5 .8-1.5 1.3 .8 .4 4.7 .8 1.2 .4-2.1 .4-9.6 .8-1.2 .2-.2 .2 13 1.4 .1 .2-.6 .2-4 .8-.7 .4 1 1.2 .1 1.2 .8 1.8-.5 1.8 .1 1.4-.9 1 .4 .4 .6 .2 4.5 1-1.6 .4-9.3 .8-2 .4 2.4 .4 9.4 .8 1.3 .4-5.4 1-.7 .2-.4 .4 1.8 1.4 .1 .6-.5 2.1 1 2-.5 .6-2.3 1.2 .3 .4 2.2 1 .3 .4-.3 1.2-1.2 1.2 0 .4 4.4 1.4-.8 .4-7.9 1.2 1.2 .4 5.9 .8 1.1 .4-2.6 1-.3 .2 0 .6-.3 .2-5.4 1.2 1.4 .4 8.9 1.2-1 .4-11.8 1.2 .1 .2 1.2 .2 8.6 .8 1.8 .4-5.1 1.4 0 .4 .9 .8 .1 .6-.2 .4-1.7 1.1-.3 .4 2.4 1.4 .1 .4-.6 1.2 .4 1.6-.1 1.2 2 1.6-.6 .4-4.3 1-.7 .4 .9 .4 4.3 1 .5 .4-2 1.4 .4 1.4-1.5 1.2 .1 .4 4.9 1 .9 .4-2.1 .4-9.5 1 .1 .2 1 .2 8.3 .8 1.7 .4-4.9 1.2-.2 .2 .1 .2 1.8 .8 .1 .4-2.8 1.7 .2 .4 .5 .2 3.8 .8 .9 .4-1.1 .4-7.5 1.2 .7 .4 5.9 .8 1.5 .4-.6 .4-2.8 .6-1.1 .6 0 .4 1.5 1.4-.8 1 1.7 1-.5 .4-3.3 1 .4 .4 2.4 1 0 .4-.9 .6 0 .4 1.9 .8 .3 .4-3.6 1.2-.4 .4 .1 .2 1.3 .6 2.9 .8 .4 .4-3.8 1.2-.8 .6 .9 .6 2.3 .8 .3 .2 .1 1 1.7 .9-1.5 .4-7.2 .8-.8 .2-.1 .2 10.9 1.4 0 .2-.8 .2-4.9 .8-.9 .4 3.6 1.4 1 .6-.1 .2-7.3 1.4 1.2 .4 5.9 1-.3 .4-2.9 1 .1 .4 1.9 1-2.7 1.2 3.9 1.4-.9 .4-4 .8-.6 .4 3.8 1.2 .1 .2-.6 .8 1.6 1-.7 .4-3.3 .8-.8 .4 .7 .4 6.1 1.2-1.5 .4-7.1 .8-.7 .2 0 .2 5.4 1.1 1.6 .6 .1 .2-.3 .4-3.2 1.8-.5 .6 .8 .4 4.9 .8 1 .4-1.7 .4-7.5 .8-1.5 .4 1.9 .4 7.9 .8 1.3 .4-5.2 1-.9 .4 .2 .4 2.6 1.4-1.4 1.2 1.5 1-3.7 1-.4 .4 3.9 1.2-.1 .4-2.6 1 .5 .4 2.4 .6 .7 .4-.7 .4-3.8 1.2-.1 .2 .5 .4 3.5 1 .7 .4-.5 .4-3.6 1.3-.5 .4 .1 .2 .7 .4 4.5 1 .7 .4-1.7 .6-6.6 1-.7 .4 8.2 1.2 .9 .4-4.1 1.2-.7 .4 .2 .4 2 1-.3 .4-1.3 .6-.2 .6 .5 .6 1.9 1-1.6 .2M328.7 16.4l.1 29.7-1 1.8 1.2 .6 4 1-.8 .4-1.4 .2-8.2 .8-1.9 .4 1.8 .4 10.6 1 1 .4-5.9 1.3-.6 .2-.3 .4 1.2 1 .3 .6-.3 5.2 .3 9.4-.6 7.4 .3 .7 1.5 1.2-.5 .6-2.2 1.4-.2 .4 .7 .4 4.3 .8 .9 .4-2.1 .4-8.9 .8-1.1 .2-.1 .2 12.1 1.4 0 .2-.7 .2-4.1 .8-.8 .4 1 1.4 0 1.2 .3 1.8-.5 2 .6 2-.6 2 .6 2.2-.3 .8-1.5 1.2 .7 .4 4.7 .9 1.2 .4-2 .4-9.7 .8-1.6 .4 11.7 1.2 .9 .2 .1 .2-4.9 1-.8 .4 .6 1.2-.2 1.2 .5 1.8-.6 1.8 .2 1.4-.6 1 .6 .4 4.1 .8 .9 .4-2 .4-9.3 .8-1.1 .2-.1 .2 13.1 1.4 0 .2-.8 .2-4.7 .8-.9 .4 1.8 1.6 .1 .6-.6 2 1 2.1-.2 .4-2.2 1-.4 .4 2.3 1.2 .6 .6-.1 1-1.2 1.4 .1 .4 4.4 1.4-1.2 .4-6.2 .8-1 .4 7.5 1.2 .6 .4-2.7 1-.1 .8-.4 .2-4.3 .8-.8 .4 9 1.2 1.3 .4-1.9 .4-9.1 .8-1.9 .4 10.7 1.2 1 .4-4.5 1-.7 .4 1 1.2 0 .6-.6 .6-1.5 .9-.2 .4 2.4 1.4-.7 1.6 .4 1.6-.1 1.2 1.8 1.2 .2 .4-.7 .4-4.3 1-.4 .4 5.6 1.6-.1 .4-1.7 1-.2 .4 .5 1.2-1.5 1.4 .9 .4 4.5 .8 .6 .2-.1 .2-11.9 1.4 1.8 .4 8.5 .8 1.5 .4-4.5 1-.9 .4 1.4 1.2-1 1.4 0 .6 .7 .5 2.9 .8 .3 .2 0 .2-7 1.2-.7 .4 8.3 1.2 1.1 .4-5.4 1-1.5 .6 .4 .4 4.1 1.4-.1 .4-1.6 .8-.2 .8-2.6 1-.1 .2 4.5 1.4-.3 .4-3.1 .8-.6 .4 3.6 1.4-.5 .4-2.3 1-.5 .6 .3 .4 2.2 1-.2 .4-1.1 .6-.5 .6 .1 1 .4 .6-.4 .8 .7 .4 2.9 .6 .5 .2 0 .2-8.2 1.1-1.7 .4 1.7 .4 6.7 .8 1.1 .4-3.9 1.2 0 .2 2.2 1 .3 .4-.1 .6-1 .4-4.7 1 .1 .2 .8 .2 6.2 .8 1.1 .4-6.1 1.4 0 .2 .3 .2 3.3 .8 .8 .4-.4 .4-1.7 .6 .1 .4 1 .6 .1 .2-.2 .2-3.7 1.2 .6 .4 4.2 1 0 .2-.3 .2-2.4 .8 0 .2 1.4 1-1.7 1-.4 .4 .7 .4 3.7 1-1 .4-6.6 .8-1.4 .4 8.2 1.5 .2 .4-.3 .2-4.5 1.4-.4 .8 .3 .4 1 .4 5.8 1.2-1.4 .4-11.3 1.2 0 .2 1.1 .2 11.2 1 1.3 .4-6.6 1-2.2 .6 0 .2 .6 .4 3.7 1.2 .2 .4-.4 .6 .1 .6-.7 .4-4.3 .8-1 .4 1.3 .4 5.1 .8 .7 .4-4.5 1.2-.3 .4 2.2 .8 .5 .4-1.8 1.6 .3 .8 1.2 .6 .2 .4-1.4 .8-.3 .6 .4 .6 1.9 1.3-.3 .4-2.5 1 .5 .4 3.7 1 .4 .4-1.3 .4-5.4 .8-1.1 .4 6.9 1.4 1 .6-.7 .6-3.5 1-1.1 .6 0 .4 .8 .4 3.9 1.2-.3 .4-2.1 .2M334.2 16.4l.1 30.7-.9 1.8 1.2 .6 4 1-.8 .4-1.4 .2-8.2 .8-1.9 .4 1.8 .4 10.6 1 1 .5-5.9 1.2-.6 .2-.3 .4 1.3 1 .3 .6-1.1 21.4 .4 .7 1.3 .8 .2 .4-2.1 1.2 .7 .4 4.9 1-1.1 .4-8.6 .8-2.2 .4 1.9 .4 9 .8 1.6 .4-4.4 1-1.2 .6 1.2 1.4 .2 3-.4 2 .5 2-.8 2 .4 1.8 0 .8-2 1.6 .6 .4 5.9 1.3-1.8 .4-9.7 .8-1.9 .4 12.7 1.4 .2 .2-.6 .2-4.1 .8-.6 .2-.3 .4 .8 1 0 1.2 .6 1.8-.5 1.8 0 1.2-.8 1.2 .8 .4 4.5 1-1.1 .4-11.9 1.2 1.7 .4 9.6 .8 1.8 .4-6.1 1.2-.7 .4 1.4 1.2 .3 .6-.7 2.4 .9 2.1-.3 .4-2.5 1.2 .2 .4 2.1 1 .5 .6-.2 1.2-1 1-.1 .4 .7 .4 3.3 .8 .4 .2 0 .2-8.3 1.4 1.1 .4 6 .8 1.2 .4-2.5 1-.2 .2 0 .8-4.7 1-.4 .2 .3 .2 9.5 1.2 .7 .2-.1 .2-12.2 1.4 1.4 .4 8.7 .8 1.7 .4-5.1 1.4 .1 .4 .9 .8 .1 .6-.6 .6-2.1 1.2 .3 .4 1.7 .9 .3 .4-1 1.6-.1 2.6 .4 .6 1.3 .8 .1 .4-5.5 1.6 .4 .4 4.5 1 .7 .4-.2 .4-1.8 1-.1 .4 .5 1.2-1.2 1-.1 .4 6 1.4-1.4 .4-8.7 .8-1.6 .4 10.9 1.2 .8 .2 .1 .2-4.8 1.2-.1 .2 1.6 .8 .3 .4-2.2 1.4-.3 .4 1 .6 3.8 .9 .6 .4-1.7 .4-6.5 .8-1.4 .4 1.2 .4 6.2 .8 1.5 .4-.6 .4-3.8 .8-1.4 .6 0 .6 2.1 1.2 .5 1 .7 .6-.6 .4-3.7 .8-.4 .4 4 1 1.1 .6-1.9 1.2 1.7 1.2-2.1 1-.3 .6 3.6 1.8-.5 .4-2.9 .8-.7 .6 .5 .4 3 1.2 0 .2-.9 1 1.8 .8-.9 .4-6.4 .8-.8 .2 0 .3 8 1 1.6 .4-1 .4-4.8 .8-.6 .4 4.5 1.2 .8 .4 0 .4-1.5 .4-6.1 .8-1.1 .4 9.1 1.4-.6 .4-3.5 .8-.8 .4 .2 .4 1.6 .8-.1 .4-1 .8 3.1 1.2-1 .4-4.2 .8-.8 .4 5.2 1.4 0 .2-.9 .8 1 1-3.6 1.2-.3 .2 .1 .2 6.5 1.2 .7 .2 .1 .2-9.8 1.4 1.1 .4 6.4 1 1.1 .6-.2 .5-.8 .4-4.1 1.4-.4 .4 .1 .2 1.3 .4 6.5 1-.1 .2-.8 .2-10.5 1-1.4 .4 10 1.2 1.1 .4-6 1.4-.2 .6 1.2 1.2 .2 1 1.7 1-.9 .4-4.8 1 .7 .4 4.5 1 0 .4-2.1 1 .4 .4 1.8 .6 .3 .4-3 1-.8 .6 .9 .6 3.7 1.2-.4 .4-3.6 1-.7 .6 1.1 .6 3 .9 .6 .4-.1 .2-3.9 1.2-.9 .6 1 .6 5.6 1.2-.6 .4-8.5 1.2-1.1 .4 1.4 .4 7.2 .8 1.6 .4-.8 .4-4.9 1.2-.2 .2 .3 .4 2.3 1-.2 .4-1.4 .8 .6 .2M339.8 16.4l0 31.7-1 1.8 1.2 .6 4.1 1-.9 .4-1.4 .2-8.2 .8-1.9 .4 1.8 .4 10.6 1.1 1 .4-5.9 1.2-.8 .4 .1 .4 1.3 1 .1 .6 0 11.2-.8 10.5 .7 .8 3.9 1 .5 .2-.1 .2-2.1 .4-8.9 .8-1.1 .2-.2 .2 12.3 1.4 .1 .2-.7 .2-4.1 .8-.8 .4 .9 1 .3 .6-.1 1.2 .2 1.8-.3 2 .5 2-.5 2 .7 2.2-.3 .8-1.5 1.2 .6 .4 6.1 1.2-1.7 .4-9.6 .9-2 .4 2.3 .4 9.3 .8 1.2 .4-4.6 1-.6 .2-.4 .4 .7 1-.1 1.2 .6 1.8-.6 1.6 0 1.4-.7 .8 0 .4 5.4 1.4-1.7 .4-9.5 .8-1.9 .4 2.4 .4 9.4 .8 1.3 .4-5.5 1-1.3 .6 1.9 1.6-.3 2.6 1.3 1.8-.3 .7-2.2 1.2 .4 .4 2.1 1 .4 .6-.1 1-1.3 1.2 0 .4 4.2 1.4-1.2 .4-6.3 .8-1.1 .4 7.3 1.2 .6 .4-2.7 1 0 .8-.3 .2-4.2 .8-.9 .4 9.1 1.2 1.3 .4-1.8 .4-8.9 .8-1.7 .4 10.9 1.2 1 .4-5 1.2-.1 .4 1.2 1 .2 .6-.6 .6-1.5 .8-.3 .4 2.4 1.2 .3 .5-.7 1.6 .4 1.6-.1 1 1.9 1.6-.6 .4-4.4 1-.9 .4 .6 .4 4.3 1 .6 .4-2.4 1.4-.2 .4 .3 .8 0 .4-1.5 1 0 .4 4.7 1 .8 .4-2.1 .4-9.8 1 0 .2 1 .2 8.7 .8 1.9 .4-1 .4-4.2 .8-.5 .4 1.7 1.2-.1 .4-1.3 1.2-.1 .4 .1 .2 3.4 1 .5 .4-6.3 1.3-.6 .2 0 .2 7.7 1.4 .1 .2-.4 .2-3.8 .8-.8 .4 .2 .4 3.3 1.6-1.5 1.2 .3 .8-2.5 1 0 .2 3.3 1 .5 .4-3.5 1.4 .5 .4 3.1 .8 .4 .4-3.7 1.2-.8 .6 .8 .6 2.9 .8 .4 .4-3.2 1.4-.4 .4 .3 .6 1.1 .6 .8 1 3.2 1-1.3 .4-8 .8-1.6 .4 2 .4 7.7 .9 1.3 .4-5.4 1.4 2.7 1.4 .3 .6-.3 .2-5.8 1.2 0 .2 .9 .2 6.4 1 .1 .2-.6 .2-3.9 .8-.7 .4 .7 .4 3.4 1-.2 .4-2.3 .8 .2 .4 1.4 .6 .2 .2-.1 .2-2.3 .8-.6 .4 3.9 1.4-2.4 1.2 2.9 1.2-3 1.2-.2 .4 3.7 1 .5 .2-.1 .2-6.3 1-1 .4 5.3 1 1.1 .4-.5 .6-2.7 1.5-.6 1.2 1.3 .6 3.4 .6 1 .4-1.6 .4-8.2 .8-1.8 .4 1.7 .4 8.6 .8 2 .4-1.2 .4-5.8 .8-1.2 .4 .2 .4 3.9 1.4 .3 .4-.8 .8-.2 .8-4.6 1.2 .8 .4 5.3 .8 .9 .4-.9 .4-3.8 .8-.5 .4 3.7 1 .7 .4-3.2 1.4-.4 .4 .4 .6 2.2 .8 .3 .4-1.9 1.2-.4 .6 .3 .6 1.4 .8-.1 .4-1.3 .9-.3 .6 .9 1 .7 .4 .1 .4-2.2 1 .3 .4 3.6 1.2-.5 .4-.7 .2-4.7 .8-1.1 .4 1.1 .4 4.7 .8 1.4 .6 .1 .6-.6 .4-3.1 1-1 .6 .1 .4 1.9 .2M345.3 16.4l.1 32.7-.9 1.8 1.2 .6 4.1 1-.8 .4-1.4 .2-8.2 .8-1.8 .5 1.7 .4 10.6 1 1.1 .4-5.9 1.2-.8 .4 .2 .4 1.3 1 .1 .6-.9 11.8-.1 7-.3 .7-1 .8 .5 .4 .8 .2 5.4 .8 .8 .2 0 .2-13.5 1.4 1.4 .4 9.1 .8 1.8 .4-5.1 1.2-.6 .4 1.3 1.4 .3 3.2-.2 2 .5 2-.5 2.2 .6 2-.3 .8-1.7 1.2 1.3 .6 5.3 1-1.6 .4-9.7 .8-2.2 .5 2.2 .4 9.3 .8 1.4 .4-4.7 1-1 .6 .7 1-.1 1.2 .6 1.8-.5 1.6 0 1.2-.7 1.2 .7 .4 4.2 .8 .8 .4-2.3 .4-9.4 .8-1.1 .2-.1 .2 13.2 1.4-.8 .4-4.9 .8-.9 .4 1.7 1.8 0 .8-.5 1.8 .9 1.8-.5 .6-1.8 .9-.4 .4 2.1 1.2 .5 .6 0 1.2-1.3 1.4 .6 .4 3.2 .8 .5 .4-8.2 1.4 .9 .4 5.9 .8 1.1 .4-2.5 1-.3 .2 .1 .8-.5 .2-4.8 1 1.2 .4 8.8 1.2-1.1 .4-11.4 1.2 1.4 .4 8.5 .8 1.6 .4-5.5 1.4 .1 .4 1 .8 .1 .6-.5 .6-1.9 1-.2 .4 2.6 1.4 0 .4-.7 1.5 .3 2.6 1.9 1.6-1.3 .6-3.6 .8-.7 .4 .9 .4 4.5 1 .5 .4-2.2 1.4 0 .4 .5 1-1.3 1.4 .8 .4 4.9 1-1 .4-10.9 1.2 1.7 .4 8.5 .8 1.4 .4-4.5 1-.9 .4 .3 .4 1 .6 .1 .4-1.5 1.2-.3 .6 1.2 .6 3.3 .8 .4 .2-.1 .2-8.6 1.5 0 .2 .7 .2 7.7 1 1.1 .4-.9 .4-3.2 .6-1.9 .6-.2 .4 .4 .4 3.7 1.4 0 1.2-.8 .4-4.6 1 0 .2 6.4 1.4-.1 .4-3.6 1.2 .2 .4 1.9 .8 0 .4-1.1 .6-.4 .8 .7 .8 1.2 .8-.3 .4-1.9 .8-.3 .4 .3 .4 1.9 1.4-1.1 .8 0 .4 2.2 .6 .6 .4-7 1-1.3 .4 8.5 1.4-.7 .5-3.3 .6-1.1 .4 .7 .4 3.9 1 .4 .4-1.6 .6-7.6 1.2 1.5 .4 7.5 .8 1.3 .4-5.9 1.2-.9 .4 .3 .4 2.8 1 0 .2-.6 .8 1.6 1-.9 .4-4.2 .8-.7 .4 6 1.4 0 .2-.3 .2-2 .8 0 .2 .7 .6 0 .4-2.1 .8-.2 .4 .9 .4 5.3 1.2-1.3 .4-7 .8-1.2 .4 8.6 1.4 .5 .4-.1 .4-4.9 1.9-.4 .4 .2 .2 1.4 .4 6 .8 1.5 .4-1.8 .4-9.5 .8-2.4 .4 1.4 .4 10.3 1 1 .4-5.2 1-2 .8 0 .4 .4 .4 2 1 1.6 1.2 .1 .2-.3 .2-6.1 1-1.1 .4 7.1 1.4-.3 .4-2.9 .8-.5 .4 1.6 1.2-2.1 1-.4 .6 2.9 1.8-.5 .4-2.7 .8-.6 .6 1 .6 3.1 1 .2 .4-3.4 1-1.1 .7 .7 .6 3.6 1 .6 .4-.7 .4-3.6 1-.6 .4 0 .2 1.6 .6 5.1 .8 1 .4-1.2 .4-8.1 1-1.5 .4 1.3 .4 10.1 1.2 .2 .2-.5 .2-5.7 1.2-.4 .4 .8 .8M350.8 16.4l.1 33.7-1 1.8 1.3 .6 4 1-.8 .4-1.4 .3-8.2 .8-1.9 .4 1.8 .4 10.6 1 1.1 .4-6 1.2-.8 .4 .2 .4 1.2 1 .1 .6-1.3 10.2 .5 6.8-1 1.5 .5 .4 5.3 1.2-1.4 .4-7.6 .8-1.4 .4 10.7 1.4 0 .2-.6 .2-4.1 .8-.7 .4 1.3 1.6 .2 3.2-.2 2 .4 2-.5 2.2 .5 2-.3 .8-1.7 1.2 .4 .4 .8 .2 5.2 1-1.4 .4-9.6 .8-2.4 .4 1.9 .4 9.3 .9 1.5 .4-5.6 1.4 0 .4 .7 .8 0 1.4 .6 1.6-.4 1.6 0 1.2-.6 1 1.1 .6 4.8 1-1.1 .4-11.8 1.2 1.9 .4 9.8 .8 1.9 .4-5.9 1.2-.6 .4 1.4 1.2 .4 .6 0 .8-.7 1.8 .6 1.8-.7 .6-2.2 1 .1 .5 1.8 1 .3 .6-.2 1.2-1.2 1-.1 .4 4 1.4-1.1 .4-6.1 .8-1.2 .4 7.2 1.2 .6 .4-2.8 1-.1 .2 .2 .6-.3 .2-4.1 .8-.9 .4 1.8 .4 7.1 .8 1.2 .4-1.8 .4-8.9 .8-1.5 .4 10.9 1.2 .8 .2 0 .2-5 1.2-.1 .4 1.4 1 .1 .6-.5 .6-2 1.2 .3 .4 2.4 1.2-.1 .4-.8 1.5 .2 2.4 .4 .6 1.3 .8 .2 .4-.8 .4-4.3 1-.4 .4 5.9 1.6-.1 .4-2 1.2 .7 1.4-1.1 1-.1 .4 5.7 1.4-1.5 .4-8.7 .8-1.6 .4 10.8 1.2 .8 .2 0 .2-4.8 1-.8 .4 1.7 1.4-.1 .4-1.8 1.2-.1 .4 .6 .4 3.2 .8 .5 .4-6.9 1.2-.6 .2 0 .2 6.4 1.3 .6 .4-3.1 1-.7 .4 .1 .6 1.3 1.4-.1 1.2 .7 .6-.5 .4-3 .8-.1 .2 3.6 1 .7 .4-2.1 1-.2 .4 3.7 1.4-.6 .4-2.8 .8-.7 .6 1.1 .6 3.1 .8 .7 .4-.5 .4-3.5 1-.7 .6 .8 .6 2 .8 .4 1 1.6 .8-1.5 .4-7.7 .8-1.3 .4 10.3 1.2 1 .4-7 1.5 .7 .4 3.8 1 .5 .2 0 .4-7.5 1.4 .1 .2 .9 .2 6.2 .8 .9 .4-4.2 1.2 0 .4 2.6 1.2-2.3 1.2 2.5 1.2-3.3 1-.6 .4 3.3 1.2 .1 .2-1.5 .8-.1 .4 2.8 1-.4 .4-3.2 .8-.7 .4 .9 .4 3.9 .8 .6 .2-.1 .2-6.1 1-1 .4 4.6 1 .8 .4-.5 1.6-2.5 1.4 0 .5 6.2 1.4-1.6 .4-7.9 .8-1.4 .4 9.4 1.2 1.3 .4-6.3 1.4-.1 .2 .3 .4 2.5 1.4 .1 .4-.4 .8 .4 .6-.6 .4-4.2 1 1 .4 5.3 1-.6 .4-3.4 .8-.6 .4 .8 .4 3.7 1-.4 .4-3.5 1-.7 .6 1.1 .6 3.3 1-.2 .4-2.9 1-.9 .6 .5 .6 2.4 .8 .4 .4-2.1 1.2-.6 .7 .2 .6 1.7 1-1.3 1-.4 .6 .5 1 .6 .4 .1 .4-1.7 1 3.1 1.4-1.5 .6-4.3 .8-.9 .4 .8 .4 4.6 .8 1.1 .4 0 .4-.6 1-1.4 .2"/></g>
<rect x="212.5" y="16.4" width="149.4" height="251.0" class="bx"/>
<path class="tk" d="M212.5 16.4h2.4M361.9 16.4h-2.4M212.5 66.6h2.4M361.9 66.6h-2.4M212.5 116.8h2.4M361.9 116.8h-2.4M212.5 167.0h2.4M361.9 167.0h-2.4M212.5 217.2h2.4M361.9 217.2h-2.4M212.5 267.4h2.4M361.9 267.4h-2.4M218.0 267.4v-2.4M218.0 16.4v2.4M240.2 267.4v-2.4M240.2 16.4v2.4M262.3 267.4v-2.4M262.3 16.4v2.4M284.4 267.4v-2.4M284.4 16.4v2.4M306.6 267.4v-2.4M306.6 16.4v2.4M328.7 267.4v-2.4M328.7 16.4v2.4M350.8 267.4v-2.4M350.8 16.4v2.4"/>
<text class="tl" x="211.4" y="19.6" text-anchor="end">0</text>
<text class="tl" x="211.4" y="69.8" text-anchor="end">20</text>
<text class="tl" x="211.4" y="120.0" text-anchor="end">40</text>
<text class="tl" x="211.4" y="170.2" text-anchor="end">60</text>
<text class="tl" x="211.4" y="220.4" text-anchor="end">80</text>
<text class="tl" x="211.4" y="270.6" text-anchor="end">100</text>
<text class="tl" x="218.0" y="278.3" text-anchor="middle">0</text>
<text class="tl" x="240.2" y="278.3" text-anchor="middle">6.4</text>
<text class="tl" x="262.3" y="278.3" text-anchor="middle">12.8</text>
<text class="tl" x="284.4" y="278.3" text-anchor="middle">19.2</text>
<text class="tl" x="306.6" y="278.3" text-anchor="middle">25.6</text>
<text class="tl" x="328.7" y="278.3" text-anchor="middle">32</text>
<text class="tl" x="350.8" y="278.3" text-anchor="middle">38.4</text>
<text class="al" x="287.2" y="285.6" text-anchor="middle">Distance(m)</text>
<text class="al" transform="translate(192.3 141.9) rotate(-90)" text-anchor="middle">Time (ms)</text>
<text class="ti" x="286.4" y="11.8" text-anchor="middle">Y-component</text>
<text class="pl" x="281.9" y="299.9" text-anchor="middle">(b)</text>
<text class="an" x="272.6" y="57.4">A</text>
<text class="an" x="250.6" y="88.0">A<tspan dx="-1.3">1</tspan></text>
<text class="an" x="291.9" y="104.6">B</text>
<text class="an" x="289.9" y="123.6">C</text>
<text class="an" x="295.1" y="140.2">D</text>
<text class="an" x="303.7" y="165.1">E</text>
<text class="an" x="305.5" y="191.1">F</text>
<text class="an" x="304.6" y="221.7">G</text>
<path class="ar" d="M270.0 49.6L266.1 43.0M268.5 44.4L266.1 43.0L266.2 45.8M264.6 83.1L262.2 73.8M264.1 75.8L262.2 73.8L261.5 76.5M288.8 103.7L286.8 94.4M288.6 96.5L286.8 94.4L286.0 97.1M284.0 122.9L281.9 115.0M283.8 117.0L281.9 115.0L281.2 117.7M295.0 139.3L292.6 129.9M294.5 131.9L292.6 129.9L291.9 132.6M299.8 164.1L296.9 154.3M298.9 156.3L296.9 154.3L296.3 157.0M302.3 188.6L299.4 178.3M301.4 180.3L299.4 178.3L298.8 181.0M303.6 217.2L299.6 208.8M301.9 210.4L299.6 208.8L299.4 211.6"/>
<defs><clipPath id="cc"><rect x="393.6" y="17.7" width="148.7" height="251.2"/></clipPath></defs>
<g clip-path="url(#cc)" class="tr"><path class="fl" d="M404.6 30.8l2.8 1.2-.6 .4-2.2 .4zM404.6 34.8l6.5 .6 .9 .2 .1 .2-7.5 1zM404.6 39l.4 .4-.4 .4zM404.6 68.7l3.3 1.2 .6 .7-.7 .6-3.2 1.2zM404.6 102.5l7.2 1 0 .2-1.1 .2-6.1 .6zM404.6 106.1l2.6 .2 .9 .4-3.5 1zM404.6 113.4l2 .2 .3 .4-2.3 .2zM404.6 117.6l2.6 .2-1.1 1.4-1.5 .2zM404.6 121.4l7.8 1-2.2 .4-5.6 .4zM404.6 124.8l4.7 .8-.6 .4-2 .6-2.1 .2zM404.6 134.5l.8 1 0 .2-.8 .2zM404.6 137.7l8.9 1-1.7 .4-7.2 .6zM404.6 141.3l2 .6-2 .8zM404.6 146.7l.8 .2 .3 .4-1.1 .2zM404.6 149.5l1.3 .2 1.3 .8-.4 .4-2.1 .8-.1 .2zM404.6 157l1.7 .6 .5 .4-.7 .4-1.5 .2zM404.6 160.4l1.4 .2 0 .2-.5 .4-.9 .2zM404.6 162.4l3.1 .8 0 .2-3.1 .6zM404.6 165.4l3.8 .4 1.3 .4-5.1 .6zM404.6 168.6l3.3 .6-.6 .4-2.7 .6zM404.6 171.6l.9 .2 1.3 .8-.3 .4-1.9 .8zM404.6 180.7l3.9 .6 1.2 .4 .1 .2-2.1 .6-3.1 .4zM404.6 186.7l.2 .6-.2 .4zM404.6 189.5l6.5 .6 1.7 .4-2.5 .4-5.7 .4zM404.6 192.9l3.5 .8-.4 .4-1.7 .8-.8 .6-.1 .5-.5 .2zM404.6 198.2l3.8 .8 .7 .4-4.5 1zM404.6 202.6l1.3 .8 .7 .8-.3 .4-1.7 .8zM404.6 207.2l2.8 .4 1.1 .4-.6 .4-3.3 .6zM404.6 212.2l2.1 .6 .8 .6-.9 .6-2 .6zM404.6 216.9l2 .4 1.4 .6-.3 .4-3.1 .6zM404.6 220.3l5.1 .6 1.3 .4-2 .4-4.4 .4zM404.6 223.5l1.2 .4-1.2 .6zM404.6 225.5l7.2 1-2 .4-5.2 .4zM404.6 228.7l2.5 .4 .1 .2-2.6 .6zM404.6 231.1l4 .8-.6 .4-3.4 .8zM404.6 235.5l4.6 .8 1.2 .4-1.1 .4-4.7 .7zM404.6 239.6l3.5 .8 .6 .6-1.5 .8-2.6 .4zM404.6 244.2l7.5 1-1.1 .4-6.4 .8zM404.6 248.8l3 .8 1 .6-.7 .4-3.3 .6zM404.6 252.6l4 .4 1.3 .4-5.3 1zM404.6 255.6l1.1 .2 .4 .4-1.5 .6zM404.6 258.2l2.3 .7 .3 .4-2.6 1zM404.6 260.9l1.5 .6-.4 .4-1.1 .2zM404.6 263.5l2.6 .6 .7 .4-3.3 1zM404.6 267.5l1.8 .6 .7 .6-2.5 .2zM410.1 31.8l2.9 1.2-.7 .4-2.2 .4zM410.1 35.8l7.4 .8 0 .2-.7 .2-6.7 .8zM410.1 40l.5 .4-.5 .4zM410.1 68.9l3.8 1.3 .9 .6-.4 .6-2.4 1-1.9 .2zM410.1 101.7l7.6 1-2 .4-5.6 .4zM410.1 105.1l2.8 .2 1.6 .4-.6 .4-1.6 .4-2.2 .2zM410.1 112.6l.6 .2 .3 .4-.9 .2zM410.1 116.8l1.7 .2-.6 1.2-1.1 .4zM410.1 120.6l6.9 1-2 .4-4.9 .4zM410.1 124.2l4.1 .6-.4 .4-1.8 .6-1.9 .2zM410.1 129.2l.5 .2-.5 .6zM410.1 133.7l.9 1-.1 .2-.8 .2zM410.1 136.9l7.6 .6 1.9 .4-2.4 .4-7.1 .4zM410.1 140.3l.2 .2 2 .4 .1 .2-2.3 .8zM410.1 148.7l1.7 1-.4 .4-1.3 .6zM410.1 156.2l2 .8-.3 .4-1.7 .4zM410.1 159.4l2.2 .2 .3 .4-.6 .4-1.9 .2zM410.1 161.4l4.4 1-4.4 .8zM410.1 164.4l5.5 .8-5.5 .8zM410.1 167.6l3.2 .8-1.6 .6-1.6 .2zM410.1 170.8l1.2 .2 1.3 .8-.4 .4-2.1 .8zM410.1 179.7l3.4 .8 .5 .4-.9 .4-3 .6zM410.1 188.5l7.5 1-1.9 .4-5.6 .4zM410.1 192.1l3.9 .4 1.1 .4-.9 .4-4.1 1zM410.1 197.2l4.4 .8 .7 .4-5.1 1zM410.1 201l2.1 .6 .6 .8-1.2 1-1.5 .4zM410.1 206l4.6 1-.8 .4-3.8 .6zM410.1 209.8l.9 .4-.1 1 .6 .8-.5 .6-.9 .4zM410.1 215.4l1.5 1.5-.3 .4-1.2 .4zM410.1 219.3l.1 .2 6.7 .8 0 .2-1 .2-5.8 .6zM410.1 222.9l.8 .4-.8 .4zM410.1 224.7l4.7 .6 1.3 .4-6 .8zM410.1 227.7l3.5 .8-3.4 .6-.1 .2zM410.1 230.5l1.7 .4 .4 .4-2.1 1zM410.1 234.9l3.8 .8 .6 .4-4.4 .8zM410.1 238.8l1.4 .6 .4 .6-.6 1-1.2 .6zM410.1 243.4l2.4 .8-.5 .4-1.9 .6zM410.1 246.2l1.4 .6-.3 .4-1.1 .4zM410.1 248.8l1.6 .4 .6 .4-.5 .4-1.7 .4zM410.1 251.4l4.6 1-1.3 .4-3.3 .4zM410.1 254.6l2.7 .4 .8 .4-.7 .4-2.8 .6zM410.1 258l1.8 .5 .3 1.2 1.4 .8 0 .2-1.3 .4-2.2 .2zM410.1 262.9l3.8 .6 .7 .4-4.5 1.2zM410.1 267.1l2.2 .6 .9 .6-.4 .4-2.7 .2zM415.6 32.8l2.9 1.2-.7 .4-2.2 .4zM415.6 36.8l7.5 .8-.1 .2-.8 .2-6.6 .8zM415.6 41l.4 .4-.4 .4zM415.6 69.3l3.6 1.1 .8 .4 .3 .4-.3 .4-1.3 .6-1.6 .6-1.5 .2zM415.6 100.9l5.5 .6 1 .2 .1 .2-6.6 .8zM415.6 104.3l3 .2 1.2 .4-.9 .4-3.3 .6zM415.6 116l.2 .2-.2 .8zM415.6 120l6 .8-1.9 .4-4.1 .4zM415.6 123.4l2.8 .4 .7 .4-1.9 .8-1.6 .2zM415.6 128.4l1.2 .2-.4 .6-.8 .2zM415.6 133.1l.5 .8-.5 .4zM415.6 136.1l8.1 .6 1.4 .4-9.5 .8zM415.6 139.5l3 .6-.6 .4-2.4 .6zM415.6 147.9l1.6 .4 .8 .6-.4 .4-2 .8zM415.6 155.4l1.2 .8-1.2 .6zM415.6 158.6l1.9 .2 .2 .2-.3 .4-1.8 .2zM415.6 160.6l3.7 .6 .6 .2 0 .2-4.3 .8zM415.6 163.4l5.2 .8-.1 .2-1 .2-4.1 .4zM415.6 166.8l2.6 .6-.4 .4-2.2 .6zM415.6 170l1.5 .2 1.5 .8-.4 .4-2.6 .8zM415.6 178.9l5 .8 .9 .4-1 .4-2.1 .4-2.8 .2zM415.6 183.5l.8 .2 0 .2-.8 1.4zM415.6 187.7l7.8 1-2.1 .4-5.7 .4zM415.6 191.3l2.4 .8-.2 .4-2.2 1.4zM415.6 196.6l.2 .2 4.4 .8-.8 .4-3.8 .6zM415.6 201l2 1 .3 .4-.5 .4-1.8 .6zM415.6 205.4l4.5 1-1 .4-3.5 .6zM415.6 210.4l2.5 .6 .7 .6-1.2 .6-2 .4zM415.6 214.8l3.2 .8 .9 .6-1.9 .7-2.2 .2zM415.6 218.7l6.3 .6 1.7 .4-1.8 .4-6.2 .6zM415.6 223.9l6.7 .6 1.9 .4-2.5 .4-6.1 .4zM415.6 227.1l2.5 .6-2.5 .6zM415.6 229.3l2.8 .6 .5 .4-3.3 .8zM415.6 233.9l3.8 1-.1 .2-.5 .2-3.2 .6zM415.6 238l1.9 .6 .2 .4-2.1 1.2zM415.6 242.4l5 1-.9 .4-4.1 .6zM415.6 246.4l1.8 .6 .5 1-.6 .6-1.7 .6zM415.6 250.6l5.4 1-1.3 .4-4.1 .6zM415.6 254l1.4 .6-.3 .4-1.1 .4zM415.6 256.4l1.2 .6 .2 .4-1.4 .8zM415.6 259.1l2.6 .8-.6 .4-2 .4zM415.6 262.1l2.4 .8-2.4 1zM415.6 266.1l1.2 1-.1 .4-1.1 .8zM421.1 33.8l2.9 1.2-.8 .4-2.1 .4zM421.1 37.6l7.5 1-.9 .4-6.6 .8zM421.1 42l.4 .4-.4 .4zM421.1 69.5l3.7 1.3 .8 .6-.2 .4-.7 .4-2.3 .8-1.3 .2zM421.1 99.9l6.5 1-1.8 .4-4.7 .4zM421.1 103.3l4.2 .4 .8 .4-1.8 .6-3.2 .2zM421.1 106.7l1.5 .2-.4 .6-1.1 .2zM421.1 110.9l.4 .6-.4 .2zM421.1 115.2l2.3 .2 0 .2-.4 1.2-1.9 .2zM421.1 119l7.3 1-1.8 .4-5.5 .4zM421.1 122.6l3 .4 .7 .4-2 .8-1.7 .2zM421.1 127.6l1.7 .2-.3 .6-1.4 .2zM421.1 132.2l.5 .7-.5 .6zM421.1 135.1l9.7 1-.2 .2-1.3 .2-8.2 .6zM421.1 138.7l2.9 .2 1.2 .4-.8 .4-3.3 .8zM421.1 144.5l.5 .4-.5 .2zM421.1 147.1l2.3 .2 1 .4 .3 .4-1.8 1-1.8 .2zM421.1 154.6l.9 .6-.9 .6zM421.1 157.6l1.3 .2 .5 .4-.3 .4-1.5 .2zM421.1 159.8l2.1 .2 2.4 .6-1.4 .4-3.1 .4zM421.1 162.6l3.7 .4 1.6 .4-5.3 .8zM421.1 166l2.2 .6-2.2 .8zM421.1 169.2l1.6 .2 1.6 .8-.5 .4-2.7 .8zM421.1 178.1l3.3 .8 .7 .4-.8 .4-3.2 .6zM421.1 186.9l5.2 .6 1.5 .4-6.7 .8zM421.1 190.3l3.6 .4 .8 .4-2.7 1-1.7 .2zM421.1 195.8l3.4 .6 .8 .4-1 .4-3.2 .6zM421.1 199.4l.4 .4 0 .6 .3 1.2-.1 .4-.6 .4zM421.1 204.6l2.4 .8-.5 .4-1.8 .4-.1 .2zM421.1 210.2l1.1 .8-.2 .4-.9 .6zM421.1 214.6l1.6 .6 .4 .4-2 .8zM421.1 217.9l4.8 .6 1 .2 0 .2-5.8 .8zM421.1 221.1l1.6 .6-1.6 .4zM421.1 223.1l.3 .2 5.8 .8-1.9 .4-4.2 .4zM421.1 226.1l2.9 .6-2.9 .8zM421.1 228.7l3 .6 .6 .4-3.6 1.2zM421.1 233.1l5.8 1.2-1 .4-4.8 .6zM421.1 237.3l2.3 .7 .7 .4 .1 .4-.7 .6-2.4 .6zM421.1 241.8l3.7 .6 1 .4-1.1 .4-3.6 .6zM421.1 247l3.8 .6 1 .4-1.1 .4-3.7 .6zM421.1 250l3.4 .8-3.4 .8zM421.1 252.8l2.1 .6 .1 .2-2.2 .8zM421.1 256.2l1.1 .4 .3 .4-.9 1 .5 .9-1 .6zM421.1 261.3l2.4 .4 .8 .4-3.2 1zM421.1 265.5l1.8 .6 .4 .4-.5 .4-1.7 .6zM426.6 34.8l2.9 1.2-.8 .4-2.1 .4zM426.6 38.6l7.6 1-1 .4-6.6 .8zM426.6 43l.5 .4-.5 .4zM426.6 69.9l3.5 1.1 .8 .4 .3 .4-1.2 .8-3.4 1zM426.6 99.1l4.7 .6 1 .2 0 .2-5.3 .6-.4 .2zM426.6 102.5l2.4 .2 1.5 .4-1.4 .6-2.5 .4zM426.6 105.9l.7 .2-.7 .8zM426.6 114.6l1.7 .2 .1 .6-.1 .6-1.7 .2zM426.6 118.2l7.1 1-1.7 .4-5.4 .4zM426.6 121.8l2 .4 .8 .4-2.8 1zM426.6 126.8l1.5 .2-.3 .6-1.2 .2zM426.6 134.3l8.9 1-2.1 .4-6.8 .4zM426.6 137.7l3.2 .4 .9 .4-4.1 1.2zM426.6 146.1l2.1 .4 1 .4 .3 .4-1.4 1-2 .2zM426.6 153.3l1.3 .7 .3 .4-1.6 .6zM426.6 156.8l2.6 .2 .5 .4-.4 .4-2.7 .2zM426.6 158.8l3.3 .2 2.3 .4 .9 .4-1.9 .4-4.6 .4zM426.6 161.6l5.2 .4 2.3 .4-1.4 .4-6.1 .6zM426.6 165l3.5 .6-.1 .2-1.1 .4-2.3 .4zM426.6 168.2l2.5 .2 1.8 .6 .4 .4-1.6 .8-3.1 .2zM426.6 173l.8 .2-.8 1.2zM426.6 177.1l4.3 .8 1.1 .4-.6 .4-1.9 .4-2.9 .2zM426.6 181.3l2.5 .2 .2 .4-1.4 1-1.3 .2zM426.6 185.9l7.4 1-1.7 .4-5.5 .4-.2 .2zM426.6 189.5l3.5 .8-.4 .4-3.1 1.4zM426.6 194.9l3.9 .6 .7 .5-4.6 .8zM426.6 199l1.7 .8 .5 .6-.6 .6-1.6 .6zM426.6 203.6l4.5 1-.8 .4-3.7 .6zM426.6 208l.7 .8 1.3 .8-.2 .4-1.8 .8zM426.6 213l2.1 1 .2 .4-.5 .4-1.8 .6zM426.6 217.1l6.4 .6 1.3 .4-2.3 .4-5.4 .4zM426.6 220.7l.7 .2-.7 .4zM426.6 222.1l5.9 .8 1.4 .4-7.3 .8zM426.6 225.5l1.9 .2 1.2 .4-3.1 .6zM426.6 227.9l1.8 .4 .5 .4-2.3 .8zM426.6 232.5l2.7 .6 .6 .4-3.3 .8zM426.6 236.3l1 .8-1 1.3zM426.6 240.8l3.5 1-3.5 1zM426.6 244.2l1.4 .4 .4 .4-.8 .8-1 .2zM426.6 248.6l5.6 .8 .9 .4-1.9 .4-4.6 .4zM426.6 252.2l3 .4 .4 .4-.7 .4-2.7 .6zM426.6 256.4l1 .2 .4 .4 2.4 1-.6 .5-3.2 .6zM426.6 260.5l2.9 .6 .5 .4-3.4 1.2zM426.6 264.9l1.5 .8 .3 .4-1.8 1.2zM432.2 35.8l2.8 1.2-.8 .4-2 .4zM432.2 39.6l7.5 1-1.1 .4-6.4 .8zM432.2 44l.4 .4-.4 .4zM432.2 70.2l3.2 1 1.2 .8-.2 .4-.9 .4-3.3 1zM432.2 95.7l.6 .2-.6 .4zM432.2 98.1l6.1 1-6.1 .8zM432.2 101.5l3.5 .4 1.1 .4-2.2 .8-2.4 .2zM432.2 105.1l2.3 .2-.4 .6-1.9 .2zM432.2 113.8l2.1 .2 .2 1 0 .2-2.3 .2zM432.2 117.4l7.9 1-1.6 .4-6.3 .6zM432.2 121l2.2 .4 .9 .4-2 .8-1.1 .2zM432.2 126l2.3 .2-.2 .6-2.1 .2zM432.2 133.5l6.3 .6 1.6 .4-7.9 .8zM432.2 136.9l3.4 .6-.4 .4-3 .8zM432.2 145.3l1.9 .6 .7 .6-1 .8-1.6 .2zM432.2 152.9l.3 .4-.3 .4zM432.2 155.8l1 .8-1 .4zM432.2 158l4.7 .8-1 .4-3.7 .4zM432.2 160.6l4.9 .6 1.5 .4-6.4 .8zM432.2 164.2l2.2 .6-2.2 .8zM432.2 167.4l2.4 .4 1.3 .4 .4 .4-1.4 .8-2.7 .2zM432.2 172.2l1 .2-.7 1-.3 .2zM432.2 176.5l3.5 .6 1.1 .4 0 .2-1.2 .4-3.4 .6zM432.2 181.7l1.6 .2 .1 .8-.7 .6-1 .2zM432.2 185.3l6.6 .8-1.5 .4-4.9 .4-.2 .2zM432.2 188.7l2.3 .6-1.1 1 .2 1.2-.7 .6-.7 .2zM432.2 194.1l4.3 1-.7 .4-3.6 .7zM432.2 198.8l1.9 1 .4 .4-.4 .4-1.9 .6zM432.2 203l2.5 .6 .7 .4-3.2 1zM432.2 208.2l2 .6 .8 .6-.5 .4-2.3 .8zM432.2 212.8l2.1 .4 1.5 .6-.4 .4-3.2 .6zM432.2 216.2l6.6 1.1-1.6 .4-5 .6zM432.2 219.7l.6 .2 0 .2-.6 .2zM432.2 221.5l7 1-7 1zM432.2 224.7l1.1 .4-1.1 .6zM432.2 226.9l2.8 .6 .8 .4-3.6 1zM432.2 231.5l5.2 1 0 .2-.7 .2-4.5 .6zM432.2 235.5l2 .6 .8 .6-.7 .6-2.1 .9zM432.2 240l4.8 1-.9 .4-3.9 .6zM432.2 244.8l3.3 1 .5 .4-1.1 .4-2.7 .4zM432.2 248.4l4.5 .6 .8 .2 0 .2-5.3 .8zM432.2 251.4l1.9 .4-.4 .4-1.5 .2zM432.2 254l1.5 .2 1.3 .6 .1 .4-1.3 1 .3 .4 1.1 .6 0 .2-1.1 .4-1.9 .2zM432.2 259.5l2.1 .2 2.2 .6-.1 .2-1.1 .4-3.1 .4zM432.2 263.3l1.1 .2 1.3 .8 .1 .4-.8 .6-1.7 .6zM432.2 267.9l1.3 .8-1.3 .2zM437.7 36.8l2.2 .8 .6 .4-2.8 .8zM437.7 40.6l7.4 1-1.2 .4-6.2 .8zM437.7 45l.3 .4-.3 .4zM437.7 70.6l1.3 .2 2.1 .8 .7 .4 .2 .4-.8 .6-3.5 1.2zM437.7 94.9l.8 .2-.8 .2zM437.7 97.3l5.5 .8-.1 .2-1 .2-4.4 .4zM437.7 100.7l2.8 .4 .6 .2 0 .2-1.8 .6-1.6 .2zM437.7 104.3l1.6 .2-.3 .6-1.3 .2zM437.7 113l.4 .2 .4 1 0 .2-.8 .2zM437.7 116.8l6.7 .8-.1 .2-1.3 .2-5.3 .4zM437.7 120.4l1.4 .6-1.4 .6zM437.7 125.4l1.2 .2 0 .2 0 .2-1.2 .2zM437.7 132.6l7.4 .9-.1 .2-1.2 .2-6.1 .6zM437.7 136.1l2.7 .2 1.4 .4-.6 .4-2 .6-1.5 .2zM437.7 144.5l2 1-.9 1-1.1 .2zM437.7 151.9l.2 .4-.2 .4zM437.7 155.2l.6 .4-.6 .6zM437.7 157l4.6 1-4.6 .8zM437.7 159.8l6.8 .8-1.6 .4-5 .4-.2 .2zM437.7 163.2l.1 .2 1.4 .4-1.5 .8zM437.7 166.6l2.3 .8 .3 .4-1.4 .8-1.2 .2zM437.7 175.7l2.2 .6 .7 .4-2.9 1zM437.7 179.5l1.3 .2 .3 .4-.3 .4-1.3 .2zM437.7 184.3l4.9 .6 1 .2 0 .2-5.7 .6-.2 .2zM437.7 187.7l3 .4 1 .4-2.4 1-1.6 .2zM437.7 193.1l3.4 .6 1 .4-.7 .4-3.7 .6zM437.7 197l1.1 .2 .4 .4-.2 1.6-1.3 .8zM437.7 201.8l2.7 .8 .6 .4-3.3 .8zM437.7 205.4l.6 .6-.6 .8zM437.7 207.4l.8 .6 .2 .4-1 1zM437.7 212l1.6 1-.2 .4-1.4 .4zM437.7 215.4l5.7 .6 1 .2 0 .2-6.7 .9zM437.7 218.9l2 .4-2 .6zM437.7 220.7l6.2 1-6.2 .8zM437.7 223.7l3.4 .6-1 .4-2.4 .4zM437.7 226.3l3 .6 .3 .4-2.4 1.2-.9 .2zM437.7 230.9l4.5 .6 1.1 .4-1.3 .4-4.3 .6zM437.7 234.9l1.4 .4 1.3 1.2-.6 .6-2.1 .5zM437.7 239.4l1.9 .2 2 .6-1.3 .6-2.6 .4zM437.7 242.6l1.4 .2 0 .2-1.4 .2zM437.7 244.6l2.1 .4 1 .6-1.4 .6-1.7 .2zM437.7 247l3.4 .6 1.1 .4-1.4 .4-3.1 .4zM437.7 250.2l5.8 .8-5.8 1.2zM437.7 254l1.9 2.2-1.9 .8zM437.7 258.9l3.1 .8-.6 .4-2.5 .6zM437.7 263.1l2.2 .8 .5 .4-.4 .4-2.3 .8zM437.7 267.7l3.1 1-3.1 .2zM443.2 37.8l2.3 .8 .5 .4-2.8 .8zM443.2 41.6l7.6 1-1.2 .4-6.4 .8zM443.2 46l.6 .2 0 .2 0 .2-.6 .2zM443.2 70.8l1.2 .2 2 .8 1.2 .8-.6 .6-3.8 1.4zM443.2 96.3l5.5 1-5.5 .8zM443.2 99.9l2.8 .6-2.8 1zM443.2 103.5l1.5 .2 .1 .2-.2 .4-1.4 .2zM443.2 112.2l1.2 .2 .8 1.2 0 .2-2 .2zM443.2 115.8l8.5 1 0 .2-1.2 .2-7.3 .6zM443.2 119.4l.1 .2 2 .4 .2 .2-2.3 .8zM443.2 124.6l1.4 .2 0 .2 0 .2-1.4 .2zM443.2 128.6l.2 .6-.2 .4zM443.2 131.6l7.8 1-2 .5-5.8 .4zM443.2 135.1l4.2 .4 1.2 .4-2 .8-3.4 .2zM443.2 143.5l2.3 .6 .8 .6-.8 1-2.3 .2zM443.2 150.5l1.1 .2 1 .6-.3 .4-1.8 .6zM443.2 154l1.5 .4 .4 .4-.3 .4-1.6 .2zM443.2 156.2l3.2 .2 3 .6 0 .2-2 .4-4.2 .2zM443.2 158.8l6 .4 3.3 .6-2.6 .4-6.7 .4zM443.2 162.2l2.6 .4 .7 .4-3.3 1zM443.2 165.6l2.7 .8 .6 .6-1.4 .8-1.9 .2zM443.2 170.6l1.2 .2-1.2 1.4zM443.2 174.9l2.6 .6 .6 .4-3.1 .8-.1 .2zM443.2 179.1l1.5 .2 .3 .6-.4 1.2-1.4 .4zM443.2 183.5l6.7 .8-.1 .2-1.1 .2-5.5 .6zM443.2 187.1l1.8 .4 .3 .4-.4 .6-.1 1.2-1.6 .4zM443.2 192.3l4.6 .8 .8 .4-5.4 1zM443.2 196.8l2.8 1 .6 .6-1.3 .6-2.1 .4zM443.2 201.2l4.8 1-.7 .4-4.1 .8zM443.2 206.2l2.5 .8 .6 .4-.9 .6-2.2 .6zM443.2 210.8l3 1.2-.3 .4-2.7 .6zM443.2 214.6l7.3 1-1.8 .4-5.5 .7zM443.2 219.9l7.4 1-7.4 1zM443.2 223.1l1.5 .4 .1 .2-1.6 .4zM443.2 225.3l2.5 .4 .9 .4-.6 .4-2.8 .6zM443.2 229.7l4 .8 1 .4-1.1 .4-3.9 .6zM443.2 233.5l1.9 .6 .7 .6-.8 .8-1.8 .8zM443.2 238.2l3.3 .6 1.3 .4 0 .2-4.6 .8zM443.2 242l1.3 .2 .2 .4 0 1 1.1 .8-1.1 .6-1.5 .2zM443.2 246.4l5.1 .6 1.4 .4-1.5 .4-5 .4zM443.2 250.2l1.2 .2 .8 .8 .2 .6-.5 .6-1.7 .6zM443.2 254.6l2.9 1-.8 .4-2.1 .4zM443.2 258l1.6 .5 .7 .4-.5 .4-1.8 .6zM443.2 262.5l1.2 .6 .3 .6-.8 .8-.7 .2zM443.2 267.1l1.1 .4 .7 .8-.2 .4-1.6 .2zM448.7 38.8l2.3 .8 .5 .4-2.8 .8zM448.7 42.6l7.3 1-1.3 .4-6 .8zM448.7 71.2l1.7 .2 2.4 1 .5 .6-.9 .6-3.7 1.2zM448.7 95.5l6.6 .8 0 .2-1.1 .2-5.5 .6zM448.7 98.9l2.6 .4 .7 .4-1.6 .6-1.7 .2zM448.7 102.7l2.7 .2 .1 .4-.1 .2-2.7 .2zM448.7 106.9l.6 .2-.6 .8zM448.7 111.3l1 .2 .8 1.3 0 .2-1.8 .2zM448.7 115.2l7.6 .6 1.1 .2 .1 .2-8.8 .8zM448.7 118.6l0 .2 1.4 .2 .8 .4-2.2 .8zM448.7 123.8l1.5 .2 .2 .4-1.7 .2zM448.7 127.6l.6 .2 .1 .4-.7 .8zM448.7 130.8l5.2 .6 1.4 .4-6.6 .8zM448.7 134.3l2.9 .4 .8 .4-2.1 .8-1.6 .2zM448.7 143.3l.6 .6-.6 .8zM448.7 149.9l.6 .6-.6 .4zM448.7 155.2l4.3 1-1.3 .4-3 .4zM448.7 158l3.9 .2 4.5 .6-1.5 .4-6.9 .6zM448.7 161.4l2.5 .6-2.5 .8zM448.7 165.2l1.8 .8-.3 .4-1.5 .6zM448.7 169.8l.4 .2-.4 .8zM448.7 174l2.3 .9-.5 .4-1.8 .6zM448.7 179.9l1.9 .2 .1 .4-.1 .2-1.9 .2zM448.7 182.5l6.1 1-6.1 .8zM448.7 185.9l2.4 .6 .1 .2-2.5 .8zM448.7 188.7l.9 .2 .4 .6-.2 .4-1.1 .2zM448.7 191.7l3.1 .6 .5 .4-3.6 .8zM448.7 196.6l1.8 .8 .5 .6-1.1 .6-1.2 .2zM448.7 200.4l1.9 .4 1.3 .6-.7 .4-2.5 .6zM448.7 203.6l1.3 .2 .1 .2-.1 .2-1.3 .2zM448.7 206l1.8 .4 .9 .6-.5 .6-2.2 .8zM448.7 210.6l1.9 .4 1.2 .6-.7 .4-2.4 .4zM448.7 213.8l5.9 1-1.7 .4-4.2 .4zM448.7 217.1l1.3 .6-1.3 .4zM448.7 219.3l5.8 .8-1.3 .4-4.5 .6zM448.7 222.3l1.1 .4-1.1 .4zM448.7 224.7l2.4 .4 1 .4-.5 .4-2.9 .8zM448.7 229.1l5.8 1 0 .2-.7 .2-5.1 .6zM448.7 233.1l2.5 1 .7 .6-.9 .6-2.3 .6zM448.7 237.6l4.1 1-.8 .4-3.3 .8zM448.7 242.8l2.1 .6 .6 .4-2.7 .8zM448.7 245.6l0 .2 3 .6 0 .2-3 .6zM448.7 248.4l3.6 .8-.1 .2-3.4 .6-.1 .2zM448.7 251.8l3.7 1-2.5 1.2-.5 .8-.7 .4zM448.7 257l3.9 .8-.6 .4-3.3 .9zM448.7 261.1l2.4 1 .3 .4-1.1 .6-1.6 .4zM448.7 265.7l2.3 1 .3 .4-1.1 .6-1.5 .4zM454.2 39.8l2.3 .8 .4 .4-2.7 .8zM454.2 43.6l5.6 .6 1.8 .4-1.4 .4-6 .8zM454.2 48l.3 .4-.3 .2zM454.2 71.6l2.7 1 .7 .6-.7 .6-2.7 1zM454.2 94.5l5.7 .6 1.7 .4-2.1 .4-5.3 .4zM454.2 97.9l3.1 .8-.7 .4-2.4 .6zM454.2 101.9l2.4 .2 .2 .6-2.6 .2zM454.2 106.1l.6 .2-.6 .8zM454.2 111.3l.3 .9-.3 .2zM454.2 114.4l6.3 .6 1.4 .4-7.7 .8zM454.2 118l1.1 .6-1.1 .6zM454.2 123l.6 .2 .3 .4-.9 .2zM454.2 126.8l.9 .2 .1 .4-1 .8zM454.2 130l6.4 .8-1.5 .4-4.9 .4zM454.2 133.5l3.4 .6-.1 .2-1.4 .6-1.9 .2zM454.2 142.3l.5 .6-.5 .8zM454.2 148.7l1.4 .8-.4 .4-1 .4zM454.2 154.4l2.8 .6 .9 .4-3.7 .6zM454.2 157l6.9 .6 1.6 .4-2.4 .4-6.1 .4zM454.2 160.4l2.4 .4 .6 .2 0 .2-3 .8zM454.2 164.2l1.9 1-.8 .6-1.1 .4zM454.2 169l1.4 .2-.5 1-.9 .4zM454.2 173.2l1.6 .4 .7 .4-2.3 .9zM454.2 177.3l.5 .8-.1 .4-.4 .2zM454.2 181.7l6.2 .8-.1 .2-1.2 .2-4.9 .4zM454.2 185.3l1.6 .6-1.6 1zM454.2 190.5l3.7 .8 .7 .4-4.4 1zM454.2 194.5l1 .6 1 1.3-.5 .6-1.5 .6zM454.2 199.4l3.8 1-.6 .4-3.2 .6zM454.2 204l.5 .8 1 .6 .2 .4-.4 .4-1.3 .6zM454.2 209l2.1 1.4-.3 .4-1.8 .6zM454.2 213l6.1 .6 1.4 .4-7.5 .8zM454.2 216.4l1 .5-1 .6zM454.2 218.3l5.7 1-5.7 .8zM454.2 221.5l1.5 .4-.1 .2-1.4 .4zM454.2 223.9l1.1 .4 .5 .4-1.6 .8zM454.2 228.3l4 1-.7 .4-3.3 .6zM454.2 232.1l.9 .4 .7 1.6-.5 .6-1.1 .4zM454.2 236.5l2.6 .6 .7 .5-.6 .4-2.7 .6zM454.2 239.8l1.7 .6-.7 .6-1 .2zM454.2 242.4l1.2 .2 .5 .4-.5 .4-1.2 .2zM454.2 244.6l4.1 .6 1.1 .4-5.2 .8zM454.2 247.8l3.9 .8-1.1 .6-2.8 .8zM454.2 252.6l4.9 .8 .7 .4-5.6 1zM454.2 256.4l3 .8-.4 .4-2.6 .9zM454.2 261.1l1.4 .6 .4 .4-.3 .4-1.5 .6zM454.2 265.7l1.8 .6 .4 .4-.3 .4-1.9 .8zM459.7 40.8l2.5 .8 .5 .4-3 .8zM459.7 44.6l6 .6 1.7 .4-1.5 .4-6.2 .8zM459.7 49l.5 .3 0 .2-.5 .2zM459.7 71.8l2.5 1.2 .5 .6-.8 .6-2.2 .8zM459.7 91.1l2.7 .2 .1 .2-2.8 .2zM459.7 93.7l4 .2 4.4 .6 0 .2-1.1 .2-7.3 .6zM459.7 97.1l2.4 .4 .6 .2 0 .2-3 1zM459.7 101.1l1.6 .2 .3 .6-1.9 .2zM459.7 105.5l.3 .2-.3 .4zM459.7 110.5l.6 .8-.6 .2zM459.7 113.6l7.5 .6 1.7 .4-2.7 .4-6.5 .4zM459.7 117l2.6 .8-2.6 .8zM459.7 122.2l.9 .2 .3 .4-1.2 .2zM459.7 126l1.7 .2 .1 .4-.4 .4-1.4 .4zM459.7 129l6.6 1-6.6 .8zM459.7 132.4l3.1 .9-1.6 .8-1.5 .2zM459.7 141.1l1.1 1-.5 .8-.6 .2zM459.7 147.7l2.6 .2 1.3 .8-1.5 .6-2.4 .2zM459.7 151.3l.9 .6-.9 .8zM459.7 153.3l3.8 1.1-3.8 .8zM459.7 156l8.5 1-.1 .2-1.3 .2-7.1 .6zM459.7 159.6l1.9 .2 1.3 .4-3.2 1zM459.7 163.4l1.4 1-1.4 1zM459.7 168.2l2.1 .2 .1 .4-.4 .8-1.8 .2zM459.7 172l3.1 .8 .4 .4-3.5 1zM459.7 176.7l.9 .2 1.2 1.6-.2 .4-1.9 .2zM459.7 180.9l5.2 .4 2.3 .4-1.4 .4-6.1 .6zM459.7 184.3l1.2 .6-1.2 .8zM459.7 186.5l1.2 .6 .3 .4-.5 .6-1 .2zM459.7 190.1l3.4 .4 1.4 .4 .1 .2-4.9 1zM459.7 194.9l2.1 .6 .9 .7-.7 .4-2.3 .6zM459.7 198.8l2.7 1-.6 .4-2.1 .6 0 .2zM459.7 204.2l2.4 .8 .2 .4-2.6 1zM459.7 208.6l4 1.2-.4 .4-.8 .2-2.8 .4zM459.7 212.4l5.6 .4 2.2 .4-1.3 .4-6.5 .6zM459.7 215.8l1.4 .2-1.4 .2zM459.7 217.5l7.8 1-1.4 .4-6.4 .6zM459.7 222.7l4.1 1-.6 .4-3.5 .8zM459.7 227.3l4.9 .8 .9 .4-5.8 1zM459.7 231.3l1.5 .4 1.1 .6 .2 .4-.6 .6-2.2 .6zM459.7 235.7l4.2 1-.6 .4-3.6 .7zM459.7 240.8l2 1.2-2 .8zM459.7 244l3.9 .8-1.1 .4-2.8 .4zM459.7 247l1.9 .6-.1 .2-1.8 .6zM459.7 250l1.2 1-1.2 .8zM459.7 255.2l1.3 .6 .2 .4-1.5 .8zM459.7 259.5l1.2 1.4-1.2 1zM459.7 264.5l1 .4 .5 .6-.4 .6-1.1 .6zM465.2 41.8l2.6 .8 .4 .4-3 .8zM465.2 45.6l6.2 .6 1.6 .4-1.6 .4-6.2 .8zM465.2 50.1l.7 .2 0 .2-.7 .2zM465.2 72.2l1.4 .2 1.8 .8 .7 .6-.6 .6-3.3 1.4zM465.2 90l1.3 .2 .2 .4-1.5 .2zM465.2 92.7l5.8 .6 1.9 .4-7.7 1zM465.2 96.3l2.1 .6-2.1 .8zM465.2 100.3l1.1 .2 .5 .6-1.6 .2zM465.2 104.7l1.3 .2-.2 .4-1.1 .2zM465.2 108.9l1 1.6-1 .2zM465.2 112.8l8.3 .6 2 .4-2.5 .4-7.8 .4zM465.2 116.2l2.9 .4 1 .4-3.9 1.2zM465.2 121.4l.9 .2 .3 .4-1.2 .2zM465.2 125l1.9 .2 .3 .6-1 .6-1.2 .2zM465.2 128.2l6.4 .8 0 .2-1.1 .2-4.9 .4-.4 .2zM465.2 131.6l1.7 .4 .7 .4-2.4 1.1zM465.2 140.5l.3 .6-.3 .6zM465.2 146.9l2.3 .2 1 .4 .3 .4-1.8 .6-1.8 .2zM465.2 150.5l.6 .2 .2 .4-.8 .6zM465.2 152.5l3 .6 .7 .4-3.7 .7zM465.2 155.2l7.7 .6 1.9 .4-2.3 .4-7.3 .4zM465.2 158.6l3.2 .2 1.3 .2 .7 .4-3.1 .8-2.1 .2zM465.2 162.2l1.8 .8 .4 .4-.4 .4-1.8 .8zM465.2 167.4l2 .2 .2 .6-.5 .6-1.7 .2zM465.2 171.2l3.3 1-.6 .4-2.7 .6zM465.2 175.9l.3 .6-.3 .2zM465.2 179.9l6.3 .6 1.3 .4-7.6 .8zM465.2 183.3l.2 .2 2 .4 .2 .2-2.4 .8zM465.2 188.9l3.1 .8 .4 .4-3.5 .8zM465.2 192.5l1.1 .6-.8 1 1.1 1.2-.6 .7-.8 .2zM465.2 197.8l2.2 .4 .9 .6-1.5 .6-1.6 .2zM465.2 201l1.2 .2 .6 .4-.5 .6-1.3 .2zM465.2 203.6l1.2 .2 .9 .8-.2 .4-1.1 .8-.8 .2zM465.2 208.2l1.8 1-1.8 .8zM465.2 211.4l5 .8 .2 .2-5.2 .8zM465.2 214.8l.8 .4-.8 .4zM465.2 216.9l4.4 .8-1.1 .4-3.3 .4zM465.2 219.9l1.1 .4-1.1 .4zM465.2 222.3l2.7 .6 .4 .4-3.1 1.4zM465.2 226.7l5.9 1-.7 .4-5.2 .6zM465.2 231.1l1.3 .2 2.1 1.2-.8 .6-2.6 .4zM465.2 235.1l2.5 .4 1 .6-3.5 1zM465.2 238.2l1.1 .2 .1 .2-1.2 .4zM465.2 240.6l1.6 .4 .7 .4-.5 .4-1.8 .6zM465.2 243l3.4 .8-.9 .4-2.5 .4zM465.2 246l3.9 .8-.7 .4-3.2 .6zM465.2 250l4.4 1.8-.4 .4-.9 .2-3.1 .4zM465.2 254.6l6.8 .6 .9 .4-7.7 1.2zM465.2 259.1l2.8 .4 1.1 .4 .3 .4-1.2 .6-3 .6zM465.2 263.7l2.5 .4 1 .4 .3 .4-2 .8-1.8 .2zM465.2 268.3l2 .4-2 .2zM470.7 42.8l2.3 .8 .4 .4-2.7 .8zM470.7 46.6l5.8 .6 1.5 .4-7.3 1.2zM470.7 51.1l.3 .4-.3 .2zM470.7 72.4l2.6 1.4 .2 .4-.6 .6-2.2 1zM470.7 89.2l1.3 .2 .2 .2-1.5 .2zM470.7 91.9l7 .6 1.2 .4-8.2 .8zM470.7 95.3l2.2 .6 0 .2-2.2 .8zM470.7 99.7l.8 .2 .3 .4-1.1 .2zM470.7 103.9l1.6 .2-.2 .4-1.4 .2zM470.7 112l7.2 .6 2.2 .4-2.2 .4-7.2 .4zM470.7 115.4l3.3 .8-3.3 1zM470.7 124.2l.7 .2 .4 .6-1.1 .6zM470.7 127.4l5.6 .8-5.6 .8zM470.7 131l1.1 .4-1.1 .8zM470.7 146.1l2.2 .2 1.3 .6-.5 .4-3 .6zM470.7 149.7l.3 .4-.3 .4zM470.7 151.7l.1 .2 2.1 .6-2.2 .6zM470.7 154.2l.2 .2 7.3 .8 0 .2-1.2 .2-6.3 .6zM470.7 157.8l2.3 .2 1.4 .4-3.7 1.2zM470.7 162l.3 .6-.3 .4zM470.7 166.6l.7 .2 .4 .8-.2 .4-.9 .2zM470.7 170.4l3.2 1-.9 .4-2.2 .4-.1 .2zM470.7 175.7l.7 1.2-.7 .2zM470.7 179.1l7.5 .6 1.1 .2 .1 .2-8.7 .8zM470.7 182.7l1.5 .4 .1 .2-1.6 .8zM470.7 188.1l4.1 .8 .8 .4-4.9 1zM470.7 192.5l.4 .6 1.3 .8 .2 .4-1.9 .8zM470.7 197.2l2.9 .8-.4 .4-2.5 .6zM470.7 202.4l1.7 1-.4 .4-1.3 .6zM470.7 207l1.9 .8 .2 .4-2.1 .8zM470.7 210.6l7.2 1-7.2 1zM470.7 215.8l6.5 1.1-6.5 1zM470.7 219.3l.6 .2 .1 .2-.7 .2zM470.7 221.1l2.4 .6 .6 .4-1.2 .6-1.8 .4zM470.7 225.7l4.4 .8 .6 .4-5 .8zM470.7 229.5l1.1 .2 .6 .4-.2 1.4-1.5 .8zM470.7 233.9l3.2 1-.5 .4-2.7 .6zM470.7 237.6l.6 .2 .3 .4-.9 .8zM470.7 239.8l.7 .2 .3 .4-1 .6zM470.7 242l5.4 1-.1 .2-.9 .2-4.4 .6zM470.7 245.4l2.9 .4 .8 .4-2.3 .8-1.4 .2zM470.7 250l3.6 1 .6 .4-.6 .4-3.6 .6zM470.7 254.8l1.3 .2 2.3 1.2 0 .2-.9 .4-2.7 .6zM470.7 258.9l1.9 .4 .8 .6-1.4 1-1.3 .2zM470.7 263.3l1.9 .6 .5 .6-1.5 1-.9 .2zM470.7 267.9l2.1 .8-2.1 .2zM476.2 43.8l2.5 .8 .4 .4-2.9 .6zM476.2 47.6l6.3 .6 1.4 .4-7.7 1.3zM476.2 52.1l.7 .2 0 .2-.7 .2zM476.2 72.8l2.6 1.2 .5 .6-.8 .6-2.3 1zM476.2 88.2l.6 .6-.6 .2zM476.2 90.8l8.5 1.1-1.6 .4-6.9 .6zM476.2 94.5l2.6 .6-2.6 .8zM476.2 98.9l.3 .6-.3 .2zM476.2 103.1l1.3 .2-.3 .4-1 .2zM476.2 111.1l8.8 1.1-1.8 .4-7 .6zM476.2 114.8l2.3 .2 1.2 .4-3.5 1zM476.2 123.4l1.1 .2 .5 .6-.5 .4-1.1 .2zM476.2 126.4l4.8 .6 1.5 .4-6.3 .8zM476.2 130.2l.9 .4-.9 .4zM476.2 145.1l2 .4 1.2 .6-.7 .4-2.5 .4zM476.2 148.7l.3 .4-.3 .6zM476.2 150.9l1.7 .6 0 .2-1.7 .4zM476.2 153.3l7.1 1.1-2.2 .4-4.9 .4zM476.2 156.8l3 .4 .9 .4-3.9 1zM476.2 161.2l.5 .4-.5 .6zM476.2 165.8l.5 .2 .6 .8-.1 .4-1 .2zM476.2 169.6l3.2 .6 .6 .4-3.8 1zM476.2 175.5l.4 .6-.4 .2zM476.2 178.1l8.3 1-1.6 .4-6.7 .6zM476.2 181.5l2.7 .6 0 .2-2.7 .8zM476.2 184.9l.4 .6-.4 .6zM476.2 187.7l1.8 .2 1.6 .6-1.5 .6-1.9 .2zM476.2 192.9l1.4 .4 .8 .6-.5 .4-1.7 .4zM476.2 196.4l2 .4 .6 .6-1.2 .6-1.4 .2zM476.2 199l1.6 .2 .5 .6-.2 .2-1.9 .2zM476.2 202l3 .4 1 .4 .2 .4-2.3 1-1.9 .2zM476.2 206.6l2.6 .2 2.1 .8-1.6 .6-3.1 .4zM476.2 210l5.1 .4 2 .4-1.4 .4-5.7 .6zM476.2 213l1.9 .6-1.9 .4zM476.2 215.2l5.5 .6 1 .2 .2 .2-6.7 1.1zM476.2 220.5l3.4 .6 .5 .4-3.9 1.2zM476.2 224.9l5 .8 1 .4-6 1zM476.2 229.1l2.4 1 .7 .6-1 .6-2.1 .4zM476.2 233.3l2.9 .6 .9 .4-.6 .4-3.2 .8zM476.2 238.8l2.1 .4 .7 .4-.5 .4-2.3 .6zM476.2 241.4l3.9 .8-.9 .4-3 .4zM476.2 244.4l3.1 .4 .9 .4-4 .8zM476.2 248l1.2 .6 .5 .8 .8 .8-.9 .6-1.6 .4zM476.2 252.8l3.9 .6 .7 .4-4.6 1zM476.2 256.6l3 .6 .6 .4-.3 .4-3.3 1.3zM476.2 261.7l1.9 1 .3 .4-.7 .6-1.5 .4zM476.2 266.3l.8 .2 1.2 .8 .2 .4-1.1 .8-1.1 .2zM481.7 44.8l2.8 1-.4 .4-2.4 .4zM481.7 48.6l6.1 .7 1.3 .4-7.4 1.2zM481.7 53.1l.4 .4-.4 .2zM481.7 73.4l2.4 1.4-.5 .6-1.9 1zM481.7 87.6l.2 .4-.2 .2zM481.7 90l7.2 .6 1.8 .5-2.4 .4-6.6 .4zM481.7 93.5l2.9 .4 .6 .2 .1 .2-3.6 1zM481.7 98.3l.2 .4-.2 .2zM481.7 102.3l1.4 .2-.2 .4-1.2 .2zM481.7 110.3l8.6 1-1.6 .4-7 .7zM481.7 114l2.7 .2 1.5 .4-.8 .4-3.4 .8zM481.7 122.6l2.1 .2 .7 .6-.4 .4-2.4 .2zM481.7 125.6l3.6 .2 4.6 .6-.1 .2-1.3 .2-6.8 .6zM481.7 129l2.2 .6-2.2 1zM481.7 137.3l.7 .2 .5 .6-.2 .4-1 .6zM481.7 144.3l1.9 .2 1.3 .4 .5 .4-1.8 .6-1.9 .2zM481.7 147.9l1.2 .4-1.2 .8zM481.7 149.9l2.2 .8-2.2 .6zM481.7 152.5l7 .8 0 .2-1.1 .2-5.9 .7zM481.7 156l2.9 .2 1.7 .4-.1 .2-1.1 .4-3.4 .6zM481.7 159.8l1.2 .6 .3 .4-1.5 .8zM481.7 165l1.1 .2 .6 .6 .1 .4-1.8 .2zM481.7 168.6l3.9 .6 1.2 .4 0 .2-5.1 1zM481.7 177.3l7 .6 1.7 .4-2.5 .4-6.2 .4zM481.7 180.7l2.8 .8-2.8 1zM481.7 186.3l3.9 1.2-.9 .4-3 .4zM481.7 190.1l1.3 .2 .6 .6-.6 .8 .1 .8-.3 .4-1.1 .4zM481.7 195.1l2.9 .7 .6 .4-.6 .4-2.9 .6zM481.7 198.8l.8 .2 .2 .4-.2 .4-.8 .2zM481.7 201l1.1 .2 .7 .8-.8 .8-1 .2zM481.7 205.6l1.3 .2 1 .6 .2 .4-.6 .4-1.9 .4zM481.7 209l6.5 .6 1.5 .4-2.1 .4-5.9 .4zM481.7 212.4l2.9 .4 0 .2-.6 .2-2.3 .2zM481.7 214.2l6.5 1-1.3 .4-5.2 .6zM481.7 217.5l2 .4-.2 .2-1.8 .2zM481.7 219.7l2.4 .6 .4 .4-2.1 1.4-.7 .2zM481.7 224.3l3.6 .6 .9 .4-4.5 1zM481.7 228.9l1.6 1.4-1.6 .8zM481.7 232.5l1.7 .8-1.7 .8zM481.7 235.3l1 .8-1 .6zM481.7 238.4l.6 .6-.6 .6zM481.7 240.2l4.5 1 0 .2-.7 .2-3.8 .6zM481.7 243.6l4.7 .8-.7 .4-4 .8zM481.7 248l4.5 1.4 0 .2-1.1 .4-3.4 .6zM481.7 252.2l3.1 .6 .8 .4-.7 .6-3.2 1.2zM481.7 257l4.9 .8 .7 .4-5.6 1.3zM481.7 261.5l2.2 .6 .9 .6-.6 .4-2.5 .8zM481.7 266.1l2.3 .6 .9 .6-.6 .4-2.6 .8zM487.2 45.6l2.8 1.2-.5 .4-2.3 .4zM487.2 49.7l6.2 .6 1.2 .4-7.1 1-.3 .2zM487.2 73.8l2.3 1 .4 .6-.7 .6-2 1zM487.2 86.6l.2 .4-.2 .2zM487.2 89l8.4 1-.1 .2-1.1 .2-7.2 .7zM487.2 92.7l1.9 .2 1.2 .4-3.1 1zM487.2 101.5l1.2 .2 0 .2 0 .2-1.2 .2zM487.2 109.5l.2 .2 7.5 .8-.1 .2-1.3 .2-6.3 .6zM487.2 113.2l3.7 .6-.7 .4-3 .8zM487.2 121.8l1.1 .2 .8 .6-.1 .2-1.8 .2zM487.2 124.6l6.1 .6 2.1 .4-2.1 .4-6.1 .4zM487.2 128.2l1.9 .6-1.9 .8zM487.2 136.3l1.1 .2 .6 .8-.4 .4-1.3 .6zM487.2 143.3l3.1 1 0 .2-1.2 .4-1.9 .2zM487.2 146.9l.7 .2 .3 .4-1 .6zM487.2 149.1l1.8 .6-1.8 .6zM487.2 151.7l6.3 .8-6.3 .8zM487.2 155l3.2 .4 1.2 .4-2.6 1-1.8 .2zM487.2 158.8l.9 .2 1.2 .8-.4 .4-1.7 .8zM487.2 164l1.2 .8 .2 .6-1.4 .2zM487.2 167.8l3.3 .4 2.1 .6-.5 .4-4.9 .8zM487.2 176.5l7.5 .6 1.4 .4-2.7 .4-6.2 .4zM487.2 179.9l2.1 .2 1.2 .4-.8 .4-2.5 .6zM487.2 185.9l3.1 .6 .7 .4-1 .4-2.8 .4zM487.2 190.9l2.2 1-.2 .4-2 .6zM487.2 194.7l1.9 .4 .7 .7-2.6 1zM487.2 200.2l1.9 .2 2 .8-.9 .6-3 .6zM487.2 204.6l3.2 .6 1.2 .6-1.3 .6-3.1 .4zM487.2 208.4l5.6 .4 2.4 .4-1.3 .4-6.7 .6zM487.2 213.4l7.1 1 0 .2-1 .2-6.1 .6zM487.2 218.7l3.1 .6 .5 .4-3.6 1.2zM487.2 223.3l4.2 .6 1.3 .4-1.1 .4-4.4 .6zM487.2 227.1l1.5 .6 .6 1-.4 .6-1.7 .6zM487.2 231.5l2.6 .6 .8 .4-.8 .4-2.6 .6zM487.2 236.7l1.2 1.1-1.2 .8zM487.2 239.6l4.4 1-4.4 .8zM487.2 242.8l2.1 .4 .8 .4-2.9 1zM487.2 247.6l3 1.2-.6 .4-2.4 .6zM487.2 251.4l2.2 .4 .6 .4-.5 .4-2.3 .8zM487.2 254.6l.7 .2 .8 .8-.5 .6-1 .2zM487.2 258.2l2.9 .7 .5 .4-3.4 1zM487.2 261.5l1 .2 .5 .6-.8 .8-.7 .2zM487.2 265.5l1.2 .6 .3 .6-.2 .4-1.3 .8zM492.7 46.6l3.1 1.2-.5 .4-2.6 .4zM492.7 50.7l6.6 .6 1.2 .4-1.9 .4-5.9 .6zM492.7 55.1l.6 .2 0 .2-.6 .2zM492.7 74.4l1.9 .8 .3 .4-.4 .6-1.8 1zM492.7 88.2l6.4 .6 2.1 .4-1.9 .4-6.6 .4zM492.7 91.7l3.5 .4 .8 .4-4.3 1zM492.7 100.7l1.9 .2 .1 .4-2 .2zM492.7 108.7l.5 .2 6.5 .6 1.1 .2 0 .2-8.1 .8zM492.7 112.4l3.1 .2 1.8 .4-.1 .2-1.2 .4-3.6 .6zM492.7 121l1 .2 .6 .6-.2 .2-1.4 .2zM492.7 123.8l6.7 .6 1.4 .4-8.1 .8zM492.7 127.4l1.5 .4-1.5 .8zM492.7 135.5l1.2 .2 .6 .8-1.8 1zM492.7 142.5l2.8 1-.6 .4-2.2 .4zM492.7 146.1l1.5 .4-.3 .4-1.2 .6zM492.7 147.9l2.3 1-2.3 .6zM492.7 150.7l6.1 .8-.1 .2-1.1 .2-4.8 .4-.1 .2zM492.7 154.2l3.6 .4 .7 .4-2 .8-2.3 .2zM492.7 158l1.8 .2 1 .8-2.8 1.4zM492.7 163.2l1 .8 .3 .6-1.3 .2zM492.7 167l2.6 .2 3.2 .8-1.6 .6-4.2 .6zM492.7 175.5l8 1-1.6 .4-6.4 .6zM492.7 178.9l2.8 .4 1.1 .4-3.9 1zM492.7 185.1l1.4 .8-1.4 .6zM492.7 188.1l1.1 .4 .3 .4-1.4 .8zM492.7 190.9l.3 .6-.3 .4zM492.7 193.7l1.1 .6-1.1 .8zM492.7 196.6l.9 .8-.9 .6zM492.7 199.8l1.4 .6 .4 .4-.2 .4-1.6 1zM492.7 204.2l2.4 .8 .4 .4-2.8 .8zM492.7 207.4l6.4 1-1.6 .4-4.8 .4zM492.7 210.6l2.7 .6-2.7 .6zM492.7 212.8l4.9 .6 1.3 .4-6.2 1zM492.7 218.1l2.6 .4 1.4 .6-.3 .4-.9 .4-2.8 .6zM492.7 222.7l5.2 .6 .9 .4-6.1 1zM492.7 227.1l2.6 1 .5 .4-.6 .4-2.5 .6zM492.7 230.9l2 .8-.3 .4-1.7 .8zM492.7 233.5l.6 .6-.6 .6zM492.7 236.5l1.1 .4 .5 .4-1.6 1.1zM492.7 238.4l3.7 1.2-3.7 .8zM492.7 241.8l5.2 .8 0 .2-.6 .2-4.6 .8zM492.7 246l1.4 .2 2.9 1.2 .4 .4-2 .6-2.7 .4zM492.7 250.4l4.3 .6 .9 .4-.6 .4-1.6 .4-3 .4zM492.7 255l2.9 .4 2.1 .8-1.5 .6-3.5 .4zM492.7 259.3l4.7 .6 1.5 .4 0 .2-2.2 .6-4 .6zM492.7 264.1l1.4 .2 2 1-.3 .4-.9 .4-2.2 .4zM498.2 47.6l3.1 1.2-.5 .5-2.6 .4zM498.2 51.7l6.7 .6 .9 .2 .1 .2-7.7 1zM498.2 56.1l.4 .2-.4 .4zM498.2 74l3.7 1.4 .6 .6-.7 .6-1.6 .8-2 .2zM498.2 87.4l7.2 .6 1.4 .4-8.6 .8zM498.2 90.8l3.9 .3 1.6 .4-.6 .4-2.4 .6-2.5 .2zM498.2 99.9l1.2 .2 .1 .4-1.3 .2zM498.2 108.1l5.3 .6 1.4 .4-6.7 .8zM498.2 111.5l3.7 .5 .8 .4-2.5 .8-2 .2zM498.2 120.2l1.2 .2 .7 .6-.2 .2-1.7 .2zM498.2 123l4.5 .2 4.8 .6-.1 .2-1.3 .2-7.9 .6zM498.2 126.4l1.9 .2 1 .4-2.9 1zM498.2 134.5l1.7 .2 .8 .8-.6 .6-1.9 .6zM498.2 141.7l2.3 .6 .5 .4-.8 .4-2 .4zM498.2 145.1l1.9 .2 .6 .4-.7 .6-1.8 .2zM498.2 146.9l3.7 1-1.2 .4-2.5 .4zM498.2 149.7l6.7 1-6.7 .8zM498.2 153.1l4.2 .9-.5 .4-1.6 .6-2.1 .2zM498.2 157.2l2.3 .2 .9 .6-.6 .6-2.6 .8zM498.2 162.6l.9 1 0 .2-.9 .2zM498.2 166.2l3 .2 3.3 .8-1.8 .6-4.5 .6zM498.2 174.6l8.1 1.1-2.1 .4-6 .4zM498.2 178.3l2.7 .2 .9 .4-3.6 1.2zM498.2 184.1l.1 .2 1.9 .4 .7 .4-2.7 .8zM498.2 187.9l1.3 .4 .2 1 .3 .6-.4 .6-1.4 .6zM498.2 192.7l2.4 .6 .6 .4-3 1zM498.2 198.2l.9 .2 1.7 1-.2 .4-.7 .4-1.7 .4zM498.2 202.8l1.4 .2 1.5 .8 .3 .4-1.1 .6-2.1 .2zM498.2 206.6l6.6 .6 2 .4-1.9 .4-6.7 .6zM498.2 210.2l2 .2 .1 .2-2.1 .4zM498.2 211.8l6.9 1-1 .4-5.9 .6zM498.2 217.1l2.2 .4 .8 .6-1.7 1-1.3 .2zM498.2 221.7l3.7 .6 1 .4-.9 .4-3.8 .6zM498.2 225.3l1.2 .4-.1 .4-.4 .4 .7 1.2-.3 .4-1.1 .4zM498.2 229.7l2.9 1-2.9 .8zM498.2 232.9l1.6 .8-.3 .4-1.3 .4zM498.2 237.6l5.5 1.2-1.6 .4-3.9 .4zM498.2 241.2l3.1 .4 1 .4-4.1 1.2zM498.2 245.8l4.1 1 .5 .4-4.6 1zM498.2 249.8l2.8 .6 .6 .4-.6 .6-2.8 1zM498.2 254.6l2.3 .6 .6 .4 .1 .4-1.2 1.2-1.8 .4zM498.2 259.9l3.8 .4 2 .6-1.2 .4-4.6 .8zM498.2 263.9l2.4 .8 .3 .4-2.7 1.2zM498.2 268.5l.4 .2-.4 .2zM503.7 48.6l2.6 1.3-.6 .4-2 .4zM503.7 52.7l6.3 .6 .9 .2 .1 .2-7.3 1zM503.7 56.9l.3 .4-.3 .4zM503.7 74.6l3.1 1.2 .4 .6-2.4 1.4-1.1 .2zM503.7 86.4l.2 .2 6.6 .8-1.5 .4-5.3 .4zM503.7 89.8l3.4 .4 1.1 .4-2.3 .9-2.2 .2zM503.7 99.1l.7 .2 .2 .6-.9 .2zM503.7 107.3l6 .8 .2 .2-6.2 .8zM503.7 110.7l3.3 .4 1 .4-2.3 .9-2 .2zM503.7 119.6l.4 .4-.4 .4zM503.7 122l7.9 1-2.1 .4-5.8 .4zM503.7 125.6l1.4 .4-.1 .2-1.3 .4zM503.7 133.7l1.6 1-.3 .4-1.3 .6zM503.7 141.1l1.8 .6-.4 .4-1.4 .4zM503.7 144.3l1.7 .2 .6 .4-.6 .6-1.7 .2zM503.7 146.1l1.9 .2 2.2 .8-4.1 .8zM503.7 148.9l6.6 .8-1.4 .4-5 .4-.2 .2zM503.7 152.3l2.5 .4 .8 .4-1.7 .9-1.6 .2zM503.7 156.2l1.6 .2 1.2 .8-.3 .4-2.5 1zM503.7 165.4l4.2 .6 .9 .4-1.8 .6-3.3 .4zM503.7 173.8l5.3 .6 1.4 .5-6.7 .8zM503.7 177.3l3.7 .6-.6 .4-3.1 .6zM503.7 183.7l1.2 .6-1.2 .6zM503.7 186.7l1.2 .4-1.2 .2zM503.7 188.9l1.6 .2 1 .6-.8 .6-1.8 .4zM503.7 192.1l1.5 .6-.5 .6-1 .4zM503.7 194.5l1 .2 .6 .4-.5 .7-1.1 .2zM503.7 198l2.1 .4 1.1 .6-.8 .6-2.4 .6zM503.7 202.4l3 .8 .6 .4-.7 .4-2.9 .6zM503.7 206l6.4 .8-1.1 .4-5.3 .6zM503.7 209.2l.9 .4-.9 .4zM503.7 211.2l6.5 1-1.5 .4-5 .6zM503.7 216.2l3.2 .7 .8 .4-.8 .6-3.2 .8zM503.7 220.9l5.3 .6 1.4 .4-1.2 .4-5.5 .6zM503.7 224.9l1.4 .2 1.9 1.2 .3 .4-1.4 .6-2.2 .4zM503.7 229.1l2.8 .6 .6 .4-3.4 1zM503.7 234.5l1.3 .8-.4 .4-.9 .4zM503.7 236.9l.1 .2 3.2 .9-3.3 .8zM503.7 240.2l3.4 .8-3.2 .8-.2 .2zM503.7 244.6l2.7 1.6-2.7 .8zM503.7 248.8l2.8 .8-.4 .4-2.4 .8zM503.7 253.2l1.3 1.2-.2 .4-1.1 .6zM503.7 257.4l1.3 .6 .7 .7-2 .8zM503.7 261.1l2.8 .6 .6 .4-3.4 1.4zM503.7 267.5l1 .2 .8 .8 0 .2-1.8 .2zM509.3 49.7l2.8 1.2-.6 .4-2.2 .4zM509.3 53.7l6.6 .6 .9 .2 0 .2-7.5 1zM509.3 57.9l.6 .4 0 .2-.6 .2zM509.3 74.8l3.1 1.2 .8 .6-.4 .6-1.9 1-1.6 .2zM509.3 85.6l5.6 .6 1.5 .4-7.1 .8zM509.3 89l4 .4 .7 .4-2.5 .8-2.2 .2zM509.3 98.3l.6 .2 .4 .6-1 .2zM509.3 102.7l.6 .2-.6 1zM509.3 106.5l5 .6 1.5 .4-6.5 .8zM509.3 109.9l3 .4 1.1 .4-2.1 .8-2 .2zM509.3 121.2l6.8 .6 1.5 .4-8.3 .8zM509.3 124.6l3 .6-3 1zM509.3 132.6l2.1 .3 1.5 1-.3 .4-1.2 .6-2.1 .2zM509.3 139.9l2.4 .6 .6 .4-1.5 .6-1.5 .2zM509.3 143.5l3.1 .2 .4 .4-.3 .4-3.2 .2zM509.3 145.1l3.1 .2 2.6 .8-1.1 .4-4.6 .4zM509.3 147.9l6.2 .6 1.6 .4-7.8 .8zM509.3 151.3l3.5 .8-1.9 1-1.6 .2zM509.3 155.4l2.3 .2 1.3 .8-.4 .4-2 .8-1.2 .2zM509.3 164.4l4.6 .8 .9 .4-1.9 .6-3.6 .4zM509.3 169l.4 .2-.4 1zM509.3 173l6.5 .8-1.5 .4-4.9 .4-.1 .3zM509.3 176.5l3.4 .6-.5 .4-2.9 .8zM509.3 182.9l.4 .4-.4 .4zM509.3 185.9l1.2 .4 .3 .4-.9 .8-.6 .2zM509.3 190.9l2.5 .8-.5 .4-2 .6zM509.3 194.1l1.1 .8-.2 .4-.9 .5zM509.3 197.2l1.1 .6 .3 .6-.5 .6-.9 .4zM509.3 201.8l1.8 1-.2 .4-1.6 .4zM509.3 205l6.3 1-2 .4-4.3 .4zM509.3 208.4l1.7 .4-.1 .2-1.6 .4zM509.3 210.4l4.4 1-4.3 .8-.1 .2zM509.3 215.6l1.7 .8 .3 .5-.5 .6-1.5 .8zM509.3 220.3l4.6 .8 0 .2-.6 .2-4 .6zM509.3 225.1l2.3 .8 .3 .4-.8 .4-1.8 .4zM509.3 228.3l1.5 .8-1.5 .8zM509.3 230.9l1.4 .8-.4 .4-1 .4zM509.3 235.7l4 1.2-4 .9zM509.3 239.4l4.4 .8-.7 .4-3.7 .8zM509.3 244l4 1 .6 .4-4.6 1zM509.3 248.2l2.6 .4 .7 .2 .5 .4-1.3 .6-2.5 .6zM509.3 252.8l2.2 .6 .9 .6-.6 .4-2.5 .8zM509.3 257.4l3.1 .8 .8 .7-.8 .4-3.1 .6zM509.3 261.9l5.3 .8 .7 .2 0 .2-6 1.2zM509.3 266.5l0 .2 2 .6 .5 .4-.2 .4-2.3 .8zM514.8 50.7l2.4 1.2-.7 .4-1.7 .4zM514.8 54.7l7.2 .8 0 .2-.8 .2-6.4 .8zM514.8 58.9l.5 .4-.5 .4zM514.8 75.2l3.3 1.2 .6 .6-.7 .6-1.8 .8-1.4 .2zM514.8 84.8l5.5 .8-1.5 .4-4 .4zM514.8 88.2l2.2 .2 1.4 .4-1.9 .8-1.7 .2zM514.8 97.7l.4 .6-.4 .2zM514.8 101.9l1.1 .2-.5 1-.6 .6zM514.8 105.7l5 .6 1.6 .4-6.6 .8zM514.8 109.1l4 .8-2.5 1-1.5 .2zM514.8 114.4l.1 .2-.1 .2zM514.8 120.2l8.3 1-.1 .2-1.1 .2-7.1 .6zM514.8 123.8l3 .2 1 .4-4 1zM514.8 131.8l1.8 .2 1.5 1.1-1.1 .8-2.2 .2zM514.8 135.7l.9 .2-.9 .4zM514.8 139.1l1.9 .8-.4 .4-1.5 .4zM514.8 142.7l2.2 .2 .3 .4-.2 .4-2.3 .2zM514.8 144.3l2.9 .2 2.6 .8-1.6 .4-3.9 .4zM514.8 147.1l7.8 .8-1.5 .4-6.3 .6zM514.8 150.5l2.3 .4 .7 .4-1.6 .8-1.4 .2zM514.8 154.6l2.9 .2 1.3 .8-.4 .4-1.3 .6-2.5 .2zM514.8 160.2l.2 .8-.2 .4zM514.8 163.6l4.2 .6 1.7 .6-3.1 .8-2.8 .2zM514.8 168.2l1.4 .2-.6 1.2-.8 .6zM514.8 172l7.1 1-2.2 .4-4.9 .4zM514.8 175.5l3.3 .4 1 .4-1.8 .8-2.5 .2zM514.8 178.7l1.7 .2-.1 .2-1.6 .2zM514.8 181.7l2.5 .8-.7 .4-1.8 .4zM514.8 186.7l1.9 .2 1.1 .6 .3 .4-1 .6-2.3 .2zM514.8 190.3l1.5 .2 1.6 .6-1.1 .6-2 .4zM514.8 193.3l.9 .2-.9 .2zM514.8 196l2.6 .6 .8 .6-.9 .6-2.5 .6zM514.8 200.6l2.5 .6 1 .6-1.2 .6-2.3 .4zM514.8 204.4l7.7 .8-1.4 .4-6.3 .6zM514.8 207.8l.3 .2-.3 .4zM514.8 209.4l.1 .2 4.7 .6 1.2 .4-6 1zM514.8 214.4l2.2 1-.3 .4-1.9 .9zM514.8 219.1l4.1 .8 .6 .2 .1 .2-4.8 .8zM514.8 222.9l1.4 .4 .2 .4-.2 .4 .6 .8-.5 .6-1.5 .4zM514.8 227.3l3 .6 .6 .4-3.6 .8zM514.8 230.7l.9 .2 .2 .4-.5 .6-.6 .2zM514.8 233.3l.5 .2 0 .2-.5 .2zM514.8 235.1l5.2 1 0 .2-.8 .2-4.4 .6zM514.8 238.6l3.8 .8-.7 .4-3.1 .8zM514.8 243.4l4.7 1.2-1.6 .6-3.1 .4zM514.8 247.4l1.9 .2 1.2 .6-.3 .4-1.7 1-1.1 .2zM514.8 252.4l1.2 .2 .9 .8-1.4 1.2-.7 .2zM514.8 257l1.2 .4 .6 .6-.8 1.1-.1 1-.9 .4zM514.8 262.5l4.1 .8 .4 .4-.8 .4-3.7 .6zM514.8 266.5l1.8 .4 .8 .6-.5 .4-2.1 .8zM520.3 51.7l2.7 1.2-.7 .4-2 .4zM520.3 55.5l7.5 1-.1 .2-.8 .2-6.6 .8zM520.3 59.9l.5 .4-.5 .4zM520.3 75.4l3.5 1.2 .9 .6-.4 .6-2.4 1-1.6 .2zM520.3 81.4l.2 .2-.2 .2zM520.3 83.8l4.6 .6 1.4 .4-6 .8zM520.3 87.2l2.9 .4 .9 .4-2 .8-1.8 .2zM520.3 101.1l1.7 .2-.6 1.2-1.1 .4zM520.3 104.9l5.3 .6 1.7 .4-7 .8zM520.3 108.3l4.4 .8-2.2 1-2.2 .2zM520.3 113.6l1.9 .2-.2 .4-1.7 .2zM520.3 116.8l.6 .6-.6 .4zM520.3 119.4l6.5 .6 2.1 .4-1.9 .4-6.7 .4zM520.3 122.8l4.3 .6-.1 .2-1.4 .4-2.8 .4zM520.3 130.8l2.3 1 .3 .4-1.1 .9-1.5 .2zM520.3 134.9l.9 .2-.2 .4-.7 .2zM520.3 138.3l1.3 .8-1.3 .6zM520.3 141.7l1.1 .4 .2 .4-.1 .2-1.2 .2zM520.3 143.3l1.6 .2 3.1 .8 0 .2-.8 .2-3.9 .4zM520.3 146.1l5.6 .6 1.5 .4-7.1 .8zM520.3 149.7l1.5 .6-1.5 .8zM520.3 153.5l1.4 .2 1.6 .7 .4 .4-1.4 1-2 .2zM520.3 162.8l4.1 .8 .6 .4-1.1 .4-3.6 .6zM520.3 167.4l.7 .2-.7 1.4zM520.3 171.2l.2 .2 5 .6 .1 .2-5.3 .6zM520.3 174.6l2 .5 .9 .4-2.9 1zM520.3 181.1l.4 .4-.4 .4zM520.3 184.1l.7 .6-.7 .8zM520.3 187.1l1.3 .4-.2 .4-1.1 .2zM520.3 189.3l1 .2 .7 .6-1.7 .6zM520.3 192.1l1.5 .8-.2 .4-1.3 .6zM520.3 195.8l1.7 .4 1 .6-.6 .6-2.1 .8zM520.3 200.2l3 .8 .5 .4-.9 .4-2.6 .4zM520.3 203.6l6.2 .8-1.3 .4-4.9 .6zM520.3 206.6l2 .6-2 .6zM520.3 209l5.9 .8-.1 .2-.7 .2-5.1 .8zM520.3 214l2.1 .4 1.2 .6-.7 .6-2.6 .8zM520.3 218.5l4 .6 1.4 .4-1.2 .4-4.2 .6zM520.3 223.3l2.3 .8 .3 .4-2.6 .8zM520.3 226.9l1.4 .6-1.4 .8zM520.3 229.3l.8 .6-.8 .6zM520.3 232.5l.6 .6-.6 .8 .1 .2 3.2 1.2-3.3 .6zM520.3 237.6l3.6 .6 .8 .4-4.4 1zM520.3 242l4.2 1.6-.8 .4-3.4 .6zM520.3 246.4l2.9 .4 .8 .2 .4 .4-1.4 .6-2.7 .6zM520.3 250.8l1.2 .2 1.5 .6 .5 .6-1.6 .8-1.6 .2zM520.3 255.4l1.5 .2 1.8 1-.1 .4-1.4 .6-1.8 .2zM520.3 259.9l1.5 .2 2.4 .8 .4 .4-2.2 .6-2.1 .2zM520.3 263.9l4 .6 .7 .4-1.3 .6-3.4 1zM525.8 52.7l2.7 1.2-.8 .4-1.9 .4zM525.8 56.5l.3 .2 7 .8-1 .4-6.3 .8zM525.8 60.9l.2 .4-.2 .4zM525.8 75.6l3.9 1.2 .8 .4 .3 .4-.9 .6-2.2 .8-1.9 .2zM525.8 83l5.7 .8-1.6 .4-4.1 .4zM525.8 86.4l2.9 .6-.5 .4-2.4 .6zM525.8 100.3l1.8 .2 0 .4-.3 1-1.5 .2zM525.8 104.1l5.8 .6 1.8 .4-7.6 .8zM525.8 107.5l4.4 .8-.5 .4-1.6 .6-2.3 .2zM525.8 112.8l2.4 .2-.3 .4-2.1 .2zM525.8 116l.5 .4-.5 .6zM525.8 118.6l6.7 .6 1.5 .4-8.2 .8zM525.8 122l3.3 .2 1.4 .4-2.6 .8-2.1 .2zM525.8 130l2.2 1 .3 .4-.7 .6-1.8 .2zM525.8 133.9l1.6 .2-.3 .6-1.3 .2zM525.8 137.3l1.6 .8-1.6 .8zM525.8 140.9l.7 .2 .5 .4 0 .2-1.2 .2zM525.8 142.5l2.1 .2 3.1 .8-1.4 .4-3.8 .4zM525.8 145.3l5.5 .4 2.5 .4-1.6 .4-6.4 .6zM525.8 148.7l1.7 .6-.1 .2-1.6 .8zM525.8 152.7l2 .4 1 .4 .4 .5-1.2 1-2.2 .2zM525.8 158.4l.3 .6-.3 .6zM525.8 162l4.3 1-.5 .4-3.8 .8zM525.8 166.6l1 .2-.2 .8-.8 .8zM525.8 170.4l5.2 .8-.2 .2-5 .6zM525.8 173.8l2.1 .4 .7 .4-1.4 .9-1.4 .2zM525.8 179.7l2.6 .6 .7 .4-.7 .4-2.6 .6zM525.8 183.5l1.6 .6 .2 1.8 0 .2-1.8 .2zM525.8 188.5l2.1 .2 1.6 .6-.8 .4-2.9 .6zM525.8 194.3l1.5 1.2-.4 .7-1.1 .4zM525.8 199.2l1.6 .4 .9 .8-.5 .4-2 .4zM525.8 202.6l6.1 .6 2 .4-1.9 .4-6.2 .6zM525.8 206l2.4 .6-2.4 .6zM525.8 208l4.5 .6 1.3 .4-1.4 .4-4.4 .6zM525.8 213l1.1 .4 .7 .6-.6 1-1.2 .6zM525.8 217.7l3.1 .6 .7 .4-3.8 .8zM525.8 221.1l.5 .4-.5 .6zM525.8 222.9l1.2 .8-.2 .4-1 .6zM525.8 225.5l1.9 1-1.9 .6 0 .2zM525.8 228.5l1.8 .8-.2 .4-1.6 .8zM525.8 233.1l4.7 1 .8 .4-5.5 .8zM525.8 236.9l4.5 .9-.6 .4-3.9 1zM525.8 241.8l4.9 .8 .7 .4-5.6 1zM525.8 245.8l2.5 .4 1.1 .6-.2 .4-.8 .4-2.6 .8zM525.8 250.6l2.2 .6 .7 .6-.5 .4-2.4 .8zM525.8 255.2l2.1 .8 .3 .4-.5 .4-1.9 .6zM525.8 260.1l2 .6 .9 .6-.4 .4-2.5 .8zM525.8 264.5l.2 .2 5.3 .6 1 .4-1.6 .4-4.8 .6-.1 .2zM531.3 53.7l2.9 1.2-.8 .4-2.1 .4zM531.3 57.5l7.5 1-1 .4-6.5 .8zM531.3 61.9l.5 .4-.5 .4zM531.3 76l1.4 .2 2.4 .8 .9 .4 .3 .4-.7 .6-3 1.2-1.3 .2zM531.3 82l5.3 .8 .2 .2-5.5 .8zM531.3 85.6l2.4 .6-2.4 1zM531.3 99.5l2.1 .2 .1 .8-.2 .6-2 .2zM531.3 103.3l5.9 .6 1.8 .4-7.7 .8zM531.3 106.7l3.6 .8-.4 .4-1.7 .6-1.5 .2zM531.3 112l2 .2-.2 .4-1.8 .2zM531.3 117.8l6.8 .8-.1 .2-1.2 .2-5.5 .6zM531.3 121l2.9 .4 1.2 .4-4.1 1zM531.3 129.8l.8 .6-.8 .8zM531.3 133.1l.2 .4-.2 .4zM531.3 141.7l3.3 .8 .2 .2-3.5 .6zM531.3 144.3l5.5 .6 1.7 .4-7.2 .8zM531.3 147.9l.9 .6-.9 .6zM531.3 151.9l2.2 .8 .3 .4-.8 .9-1.7 .2zM531.3 157.6l.4 .4-.4 .8zM531.3 161.2l4.2 1-1.5 .6-2.7 .4zM531.3 165.8l1.8 .2 .1 .6-.1 .4-.5 .4-1.3 .2zM531.3 169.4l6 1-6 .8zM531.3 173l2.4 .6-1.5 .8-.9 .2zM531.3 179.1l1.9 .8-1.9 .8zM531.3 184.9l1.3 .4 .6 .6-.5 .4-1.4 .2zM531.3 187.9l1.7 .2 .6 .4-.5 .4-1.8 .4zM531.3 190.5l.9 .2 .5 .4-1.4 .8zM531.3 193.7l2.4 .8 .6 .4-.9 .6-2.1 .7zM531.3 198.4l2.8 .8 .6 .4-.8 .4-2.6 .6zM531.3 202l5.3 .6 1.1 .2 0 .2-6.4 .8zM531.3 205.4l.3 .2-.3 .4zM531.3 207.2l6.5 1-1 .4-5.5 .8zM531.3 212l2.9 .8 .3 .4-.9 .6-2.3 .8zM531.3 216.7l5.6 1-.8 .4-4.8 .6zM531.3 220.7l.8 .2 .6 .8 1.1 .6 .2 .4-1.3 .6-1.4 .2zM531.3 224.9l2.7 .6 .5 .4-3.2 .8zM531.3 227.9l1 .4-.3 .4-.7 .2zM531.3 230.5l.9 .2 .1 .6-1 .4zM531.3 232.5l3.8 .8 .8 .4-4.6 .8zM531.3 235.9l4.1 .8-.7 .4-3.4 .9zM531.3 240.8l3.9 1.2-.6 .4-3.3 .6zM531.3 244.6l2.1 .6 .6 .4-.8 .6-1.9 .8zM531.3 249.6l.8 .4 .5 .6-.3 .6-1 .6zM531.3 254.4l.7 .4 .4 .6-.1 .4-1 .8zM531.3 259.3l.7 .4 .4 .6-1.1 1zM531.3 261.9l.6 .4 .4 .6-1 .6zM531.3 265.5l3.3 .6 .9 .4-.9 .4-3.3 .6z"/>
<path class="ln" d="M404.6 17.7l0 10.7-.4 1.8 .5 .6 2.5 1 .2 .2 0 .2-1.5 .4-8 1-.7 .2 0 .2 13.9 1.4 .9 .2 .1 .2-8.8 1.2-.9 .2-.6 .4 2.8 1.2 .4 .6-.4 1.8-.2 23.9-.9 2.6 .7 .8 3.7 1.4 .6 .7-.7 .6-3.2 1.6-.3 .6-.2 1.6-1.4 2.8 .1 1.2 1.7 2.8 .4 1.4-.4 1.4-1.6 2.8-.2 1.4 .6 1.6 2 2.3 .3 1-.8 3-2.1 2.4 1.1 1.6-2.7 1.2 .8 .4 1.3 .2 8.6 1 0 .2-1.1 .2-9.5 .8-2.3 .4 1.5 .4 6.8 .8 .9 .4-3.4 1-.8 .6 .5 1.2-.4 1.4 .1 .6 2.5 2.1 .4 .6 .4 2.8-.2 .8-.7 1-.7 .6-4.5 1.4 1.2 .4 9.9 1.2-2.2 .4-11.1 .8-2 .4 10.7 1.2 1.5 .4-3.6 1.6-1.1 3-1.7 2.2 .3 .9 1.9 1.8 .3 .6-.5 .4-2.8 1 1.1 .4 10.3 1.2-1.7 .4-15 1.2 .1 .2 1.1 .2 7.2 .8 1.4 .4-3.2 1.2-.5 .6 .7 1.6 2.1 2 0 .6-.6 1.2 2.1 1.4-.4 .4-3.3 1.4-.8 1.2 .8 1.7-.4 1.2 3.2 1.2 .5 .4-3.1 1.2 .1 .4 1.9 .8 .3 .4-2 1-.3 .4 3.4 .8 .6 .2 0 .2-7.9 1.2 1.1 .4 7.5 .8 1.3 .4-12.6 1.4 1.4 .4 7.7 .8 1.7 .4-.6 .4-2.5 .8-.5 .4 .5 .6 1.8 1 .1 .4-3.2 1.2-.9 .6 .5 2.1 1.2 1.6-.1 .4-1.5 1.2 1.4 .6 5.2 1 .5 .4-5.3 1.2-1.6 .6 0 .4 .7 .8 1.2 2.4-.4 .4-2.8 .8-.5 .2 0 .2 1.8 .4 8.2 .8 1.7 .4-2.5 .4-10.4 .8-1.8 .4 8.7 1.2 1.3 .4-.4 .4-2 1-.9 1.3-1.8 1-.2 .4 5.6 1.2 .7 .4-1.3 .4-5 .8-.9 .4 .5 .4 2 .8 1.8 1.4 .4 .6-.3 .4-3.4 1.4-.4 .4 .8 .4 5.2 1.2-.6 .4-3.8 .8-.8 .4 1.5 1-.5 1.2 2.8 1.2 .4 .4-.5 .4-3 1.4-.5 .4 0 .4 .9 .7 3.4 1 .2 .4-6.8 1.6 1.2 .4 7.3 .8 1.3 .4-10.5 1.4 1.1 .4 4.2 .8-.8 .4-3.1 .6-.2 .2 .5 .2 9.6 1.2-2 .4-10 1 .1 .2 1.2 .2 6 .8 .1 .2-.7 .2-4 .6-1.2 .4 7.3 1.4-.6 .4-4.6 1.2-.8 .6 0 .6 1.1 .6 5.5 1 1.2 .4-1.1 .4-8.1 1.1-1.4 .4 .9 .4 6.7 1.2 1.3 .6-.2 .4-.7 .4-7.1 1.8 .2 .2 1.8 .4 9.4 1.2-1.1 .4-8.1 1-.9 .4 2.4 1 1.4 1 2.3 .8 .5 .4-1.6 .6-4.7 .8-.4 .2 .1 .2 6.6 1 1.3 .4-7.2 1.4 .1 .2 3.2 1-.1 .4-2 .8-.2 .4 3.2 1.3 .3 .4-2.5 1.2-.1 .2 1.2 .6 .2 .4-3.7 1.2 0 .2 .7 .2 4.2 .8 .7 .4-3.9 1-1.3 .6-.1 .2 .4 .4 4.1 1.8 0 .2-2.5 .2M410.1 17.7l0 11.7-.4 1.8 .5 .6 2.8 1.2-.7 .4-1 .2-8.6 1.2 0 .2 2.7 .4 11.3 1 .8 .2 0 .2-8.7 1.2-.9 .2-.6 .4 2.9 1.2 .4 .6-.3 1.6-.3 11.1 .2 12.4-.6 2.6 1 .8 3.3 1.3 .9 .6-.4 .6-2.9 1.2-.9 .6-.5 2-1.1 2.2 .1 1.4 1.6 2.8 .3 1.4-.5 1.4-1.8 2.8-.3 1.4 .5 1.4 2.1 2.7 0 2.8-.5 1-1.7 1.8 .8 1.2 0 .4-2.7 1.2 1.3 .4 7.6 .8 1.9 .4-2 .4-9.3 .8-1.3 .4 7.8 1 1.6 .4-.6 .4-3.1 .8-.6 .4 0 1.4-1.2 1.8 .2 .8 1.9 2.1 .2 1.6 .6 1.6-.5 1.2-.5 .6-.7 .4-4.1 1.2 1 .4 9.9 1.2-2 .4-11.1 .8-2.2 .4 2.2 .4 8.6 .8 1.7 .4-.4 .4-2.6 1-.6 3.2-1.9 2.2 .2 .8 2 2.1 0 .4-3.1 1.4 1.6 .4 8.3 .8 1.9 .4-2.4 .4-11.8 .8-2.4 .4 1.7 .4 6.9 .8 .8 .4-3.8 1.2-.6 .6-.1 1.6 1.9 2.2-.4 1.2 0 .4 2.4 1.4-.4 .4-2.9 1.4-.6 .8-.1 .6 .7 1.3-.3 1 .2 .4 3.7 1.4-.3 .4-2.3 1 .5 .4 2.5 1-.1 .4-2 1 4.1 1.2-1.5 .4-5.3 .6-1.4 .4 9.3 1.4-1.9 .4-9.7 .8-1.6 .4 9.9 1.2 1 .4-2.9 1-.5 .4 .3 .6 2.4 1.4-.4 .4-3.1 1-.9 .6 .2 1.5-.2 1.2 .1 1.2-.7 1.2 1.2 .6 4.7 1 .5 .4-5.8 1.6 .1 .4 1.5 .8 .3 .4-.2 .4-1.9 1.2 .3 1.2-1.2 1 1.2 .4 9.3 1.2-1.9 .4-10.8 .8-2.6 .4 1.7 .4 8.7 .8 2.4 .6-5.6 1.8-.3 .2-.1 .9 .2 .8 .6 .4 4.6 1 .7 .4-1.3 .4-6.1 .8-1.2 .4 .6 .4 4.5 1 1.1 .8-.1 .4-.7 .6-2.3 1-.9 .6-.2 .4 .1 .2 6 1.6-.8 .4-6 1-.8 .4 3.9 1.4-.1 .8 .5 .8 0 .4-2 1.2-.2 .6 1 1.6 1.4 1.3-.8 .6-4.5 1.2 .8 .4 1.3 .2 8.5 1 0 .2-1 .2-12.1 1.2 1.1 .4 4.5 .6 1.5 .4-2.4 .8-.2 .2 .4 .2 6.1 .8 1.3 .4-10.1 1-2.1 .4 2 .4 6.4 .6 1.3 .4-6.7 1.2 5.3 1.4-.2 .4-1.8 .8-.6 1-1.1 1 .2 .2 5.2 1.2 .6 .4-6.8 1.2-1 .5 .8 .4 3.6 1 .8 .6-.4 1-2.4 1.6-.2 .4 3.6 1.4-.5 .4-3 1 .3 .4 2.2 .8-.3 .4-1.9 .8-.2 .2 .1 .2 3.1 1.2-.5 .4-2.4 .6-.6 .4 1 .4 4.9 1-1.3 .4-6.3 1 0 .2 .7 .2 5 .8 .8 .4-.7 .4-3 .8-.6 .4 .7 .6 1.9 .9 .3 1.2 1.4 .8 0 .2-6.1 1.2-.7 .4 7.1 1.2 .7 .4-4.6 1.4-1 .6-.1 .4 .8 .6 2.6 .8 .9 .6-.4 .4-2.7 .2M415.6 17.7l0 12.7-.4 1.8 .5 .6 2.8 1.2-1.7 .6-8.7 1.2 1.2 .4 11.4 1 2.4 .4-.1 .2-.8 .2-8 1-.9 .2-.5 .4 2.8 1.2 .4 .6-.4 1.6-.2 8.1 .6 14.2-.8 3 .8 .8 3.7 1.5 .6 .6-.6 .6-3.4 1.4-.9 1-.9 3.8 2.1 3.6 .2 1.4-.5 1.2-1.9 2.8-.4 1.6 .3 1 1.7 2.5 .4 2.8-.3 .8-1.9 1.8 .4 1.4-2.9 1.2 .7 .4 8.7 1 1 .2 .1 .2-12.5 1.4 1.6 .4 7.3 .8 1.2 .4-4.3 1.4-.2 1.6-2 2 .1 .8 1.2 1.7 .2 1.8 1 1.6 0 .6-.3 1-.9 .6-4 1.2 1 .4 10 1.2-1.9 .4-11 .8-2.4 .4 2 .4 8.8 .8 1.9 .4 .1 .2-.3 .2-2.3 1 0 .4 .4 2-.1 .8-2.3 2.4 .2 1 1.4 1.9-.4 .4-2.7 1 .8 .4 1.3 .2 8.6 .8 1.4 .4-14.4 1.2-1.6 .4 7.9 1 1.6 .4-.6 .4-3 .8-1 .8-.3 1.6 1.7 2-.1 1.6 2.3 1.2 .4 .4-.4 .4-2.3 1-1.1 1-.4 .8 .1 1.2-.6 1.1 .6 .6 2.4 .8 .5 .4-2.6 1.2 .2 .4 3.3 1.2-.3 .4-1.5 .8 0 .2 3.4 .8 .6 .2 0 .2-8 1.2 .1 .2 .9 .2 7.9 1-.1 .2-1 .2-12.4 1.2 1.5 .4 7.8 .8 1.6 .4-.4 .4-2.7 1 .3 .6 3.2 1.6-.4 .4-3.6 1.4-.2 .4 .3 3.3-1.6 1.6 1.6 .6 5.9 1 .9 .4-1 .4-5.9 1.2-.3 .4 1.6 1 .5 .6-.2 .8-1.5 1.2-3.6 1-.6 .4 1.7 .4 11.2 1.2-2.1 .4-11.5 .8-2.7 .4 1.3 .4 7.4 .8 1.9 .4 .3 .2-.2 .4-6 3.3 1.3 .6 7.1 1.2-.8 .4-6.2 .8-2.1 .6 .5 .4 5.3 1.8 .7 .4 .3 .4-1 .6-4.3 1.2-.5 .4 .2 .2 6.6 1.2 1.2 .4-1 .4-5.8 1.2 2.2 2.2 2.6 .8 .7 .6-.6 .4-3.7 1.2-.5 .4 .1 .4 1.7 .8 3.6 1 .3 .4-1 .5-6.2 1-1 .4 1.7 .4 8.7 .8 1.7 .4-1.8 .4-8.7 .8-1.2 .4 4.4 1 .1 .2-2.6 .8 0 .2 10.4 1.4-13.5 1.4 0 .2 1 .2 5.2 .6 1.2 .4-3.7 .8-.8 .4 4.8 1 .5 .4-4.9 1.2-.6 .4-.1 .4 .9 1.2 5.2 1.4-.1 .2-.5 .2-7.5 1-1.5 .4 .6 .4 5.7 1.1 1.6 .6-.5 .6-3.5 1.2-1.3 .6-.3 .4 1.6 .6 6.9 1.2-.9 .4-8.1 1-1.4 .4 1 .4 5.2 1 1.3 .6 .2 .8-.3 .4-1.6 .6-3.6 .8-.3 .2 .2 .2 8.7 1.4-1.3 .4-6.5 .8-1.1 .4 4.2 1 .7 .4 0 .2-1.6 1 .2 .4 1.4 1.2-1.6 1.3 .5 .4 2.3 .8-.6 .4-3.9 .8-.7 .4 4.3 1 .7 .4-.6 .4-2 .6-.6 .6 1 1.6 1 1-.3 .6-1.3 .8 0 .2 .4 .2M421.1 17.7l.1 13.7-.5 1.8 .5 .6 2.8 1.2-1.8 .6-8.6 1.2 1.2 .4 11.5 1 2.3 .4-.9 .4-6.7 .8-2.6 .6 .2 .4 2.5 1 .4 .6-.4 1.6-.2 7.3 1 11.8-.2 2.6-1 3 .9 .8 3.2 1.3 .8 .6-.5 .6-4 1.6-.7 .8-.6 2.6 .1 1 1.9 3.2 .4 1.4-.5 1.4-2.2 3-.3 1.4 .3 1 1.3 2.3 .8 2.8-.3 .6-1.3 1.4-.1 .4 .3 .8-.2 .4-2.9 1.2 1.2 .4 9.3 1.2-1.8 .4-9.2 .8-1.1 .2-.1 .2 10.6 1.4 .1 .2-.3 .2-3.3 1-.2 .4 .3 .8-.1 .6-1.8 1.6-.3 .6 .1 .6 1 1.6 .4 1.9 1.4 1.8-.2 1.4-.8 .6-4.2 1.2 .7 .4 9.6 1.2-1.8 .4-11.4 .8-2.7 .4 1.7 .4 8.6 .8 1.3 .2 .7 .4-2.4 1-.3 .4 .7 2.2 0 .8-.3 .6-1.7 1.4-.5 .8 .2 .8 1 1.2 0 .5-3.2 1.4 1.2 .4 11.3 1.2-.2 .2-1.3 .2-11 .8-2.9 .4 1.3 .4 7.3 .8 1.2 .4-4 1.4-1.2 1.8 .2 .8 1.5 1.8 .1 1.4 2.6 1.2 .3 .4-2.5 1.4-1.6 1.6-.3 1.2-1 1-.1 .4 2.8 1.5-.4 .4-2.5 1 .5 .4 3.2 1 0 .4-1.4 .8-.1 .2 .2 .2 4.1 1-1.4 .4-5.1 .6-1.5 .4 8.8 1.4-2.2 .4-10.2 .8-1.6 .4 9.8 1.2 1.1 .4-2.7 1-.3 .2-.1 .4 4.1 2-.5 .4-2.4 .8-1 .6-.2 1.6-.7 2.1-1.6 1.6 .7 .4 5.8 1.2 .7 .4-4.8 1.6 1.2 1.4-1 1.4 .6 1.2-.6 .4-2.8 1 1.2 .4 7.4 .8 1.5 .4-12.9 1.4 0 .2 1 .2 8.8 1 .8 .4-3.3 1.4-.4 .6 0 .8-1.4 1.2 .3 .4 3.8 .9 .8 .4-1 .4-5.1 .8-.9 .4 3.2 1.4 0 .6 .3 1.2-.3 .6-2.4 1.4-.1 .4 4.5 1.4-.5 .4-3.6 .8-.8 .4 .1 .2 2.4 1-.1 .4-.8 .6-.2 .4 1.9 1 .3 .4-.2 .4-2.1 1.8-.1 .8 2.9 1.2 .4 .4-.7 .4-3.7 .9-.9 .4 1.2 .4 6.9 .8 1 .2 0 .2-10.8 1.4 1.3 .4 5.1 .8 .2 .2-.6 .2-3.1 .6-.4 .2 .3 .2 8.3 1.2-1.9 .4-6.5 .6-2 .4 7.2 1.2-1.1 .4-4.3 .6-1.2 .4 7.2 1.4 .1 .2-.3 .2-2.2 .6-2.2 1-1.2 .8 .1 .4 8 1.6-1 .4-7.8 1-1.2 .4 .8 .4 5.2 1.3 1.3 .8-.1 .4-.6 .4-4.3 1.2-.8 .4 .2 .2 6.2 1.2 1 .4-5.3 1.4-.2 .2 .6 .8-1.7 .8-.3 .4 1 .4 5 .8 1 .4-1.1 .4-6 1 .1 .2 .6 .2 5 1-1.2 .4-3.9 .6-1.1 .4 4.4 1 .6 .4-4.2 1.2-.5 .4 3.9 1.6-.9 1.2 .5 .9-.2 .2-4.5 1-.7 .4 1.3 .4 5.5 .8 .8 .4-.9 .4-4 .8-1.4 .6 0 .4 .7 .4 4.5 1.6 .1 .2-.5 .4-2.8 .8-1.4 .8 0 .2 2.5 .2M426.6 17.7l.1 14.7-.5 1.8 .6 .6 2.7 1.2-1.9 .6-8.5 1.2 1.3 .4 11.5 1 2.3 .4-1 .4-6.7 .8-2.6 .6 .3 .4 2.5 1 .4 .6-.4 1.8-.1 20.3-.6 3.4 .9 .8 3.7 1.5 .6 .6-.7 .6-3.8 1.4-1 1-.2 3 2 3.2 .4 1.4-.4 1.4-1.8 2.8-.2 1.4 .4 1 2.3 3.7 .3 1-.4 .8-1.3 1.4-.3 1.2-3 1-.6 .4 1.4 .4 7 .8 1 .2 0 .2-12.7 1.4 1.6 .4 7.8 .8 1.5 .4-3.7 1.4 0 .4 .4 .8 0 .6-1.9 1.6-.4 .8 .9 2 .4 1.7 1.9 2 .3 1.4-.7 .6-3.7 1-.4 .2 0 .2 10.1 1.4-1.7 .4-11.5 .8-3.1 .4 1.5 .4 8.4 .8 1.3 .2 .8 .4-2.4 1-.3 .4 1.2 2.2 .2 .8-.3 .6-1.7 1.4-.5 .8 0 .8 .7 1.4-.4 .4-2.5 .9-.6 .4 1.7 .4 8.8 .8 2.2 .4-2.1 .4-10.9 .8-2 .4 9.3 1.2 .9 .4-4 1.4-1.4 2 .1 .8 1.1 1.4 .1 1.4 .5 .4 2.6 1 .3 .4-2.1 1.6-1 1.4-.3 1.2-1.1 1.2 .4 .4 2 .9 .3 .4-2.6 1-.3 .4 4.3 1.4 0 .4-1 .6 0 .4 4.3 1 .2 .2-7.5 1.2 .1 .2 .9 .2 7.5 1-1.4 .4-13.1 1.2 1.3 .4 7.6 .8 1.6 .4-.5 .4-2.5 .8-.3 .4 .7 .6 3.4 1.2 .4 .4-.5 .4-2.9 1.2-.3 .4-.1 1.6-.6 1-.6 .9-2 1.4 1.1 .6 6.3 1.2 .3 .2-.1 .2-5.7 1.4 0 .4 2.9 1.2 .1 .6-2.8 1.8-3.5 1.4 1.1 .4 10 1.2-1.7 .4-11.6 .8-3 .4 1.3 .4 9.8 1 1.3 .4-.4 .4-4.4 1.8-1.2 .8-.5 .6 1.1 .6 5.8 1 .7 .5-1.5 .4-6.7 .8-1.3 .4 .6 .4 4.4 1 2.1 1.2 0 .4-.6 .4-4.3 1.4-.3 .4 .3 .2 7.2 1.6-.8 .4-5.9 1-.9 .4 2.7 1.2 1.1 1.2 1.3 .8-.6 .6-2.7 1-.3 .6 .5 .6 3.2 1.6 .2 .4-1.1 .6-5.5 1.2 0 .2 .7 .3 10 1 1.3 .4-2.3 .4-9.7 .8-1.2 .4 6.2 1.2-1.9 .8 0 .2 .6 .2 6.5 .8 1.4 .4-12.7 1.4 1.6 .4 5.7 .6 1.2 .4-5.1 1.2 3.8 1 .5 .4-3.2 1.2-.1 1.2-.5 .8 .8 .4 3.4 .8 .6 .4-1.3 .4-5.4 .8-1.1 .4 .8 .4 3.5 .8 1.1 .6 0 .4-.4 .7-2.5 1.8 0 .4 5.5 1.6-1 .4-4.3 .8-.7 .4 3.4 1 .9 .6-1.1 1-.2 .8-1.4 1-.2 .4 6.7 1.2 .9 .4-1.9 .4-7.6 .8-1.1 .4 7.5 1.4-.2 .4-2.5 .8-.8 .6 .2 .6 .8 .6 .2 1 2.4 1 .3 .2-.1 .2-7.1 1.5-.1 .2 .7 .2 4.9 .8 1.2 .4-.2 .4-3.2 1.2-1 1 .1 .6 2.2 1 .6 .6-3.2 2.2-.1 .4 1.5 .2M432.2 17.7l0 15.7-.4 1.8 .5 .6 2.7 1.2-1.9 .6-6.7 .8-1.8 .4 1.4 .4 11.5 1 2.2 .4-1.1 .4-6.7 .8-2.5 .6 .3 .4 2.5 1 .4 .6-.4 2 1 16.3-.3 2.8-1 3.8 .9 .9 3 1.2 .8 .6-.6 .6-4.3 1.6-.8 .8 .4 2.8 2 2.8 .5 1.2-.2 1.4-2 3-.4 1.4 .3 1.2 2.1 3.5 .2 1-.9 1.6-.3 1.2-3.7 1.4 .8 .4 8.6 1.2-1.9 .4-9.5 .8-1.4 .4 10.2 1.2 1.1 .4-3.1 1.2-.1 .4 .8 1 0 .6-2.1 1.8-.5 .8 .3 1.6 0 1.8 2.1 2.3 .3 .8 0 .6-1 .6-3 .8-.5 .4 1.8 .4 8.3 1-1.6 .4-14.9 1.2 .1 .2 1.1 .2 9.6 1 .9 .4-2.4 1-.3 .4 1.7 2.4 .2 .8-.3 .6-2.2 2-.2 .6 .2 1.2-.1 .4-.7 .4-2.9 .8-.5 .2 .1 .3 1.9 .4 8.7 .8 1.6 .4-13.5 1.2-1.1 .2-.1 .2 8.5 1 1.7 .4-.4 .4-3.2 1-1.9 2.4 .1 .6 .8 1.4 .2 1.4 3.3 1.4 .3 .4-1.4 1.2-1.7 3-1.2 1 0 .4 2 1.2-3.6 1.5 .5 .4 3.8 1.2-.1 .4-.9 .6 .2 .4 4.5 1-1 .4-4.8 .6-1.3 .4 1.8 .4 5.5 .6 1.5 .4-2.5 .4-10.5 .8-1.8 .4 10.4 1.4 .2 .2-.3 .2-2.9 1-.1 .4 1 .6 3.8 1.2 .4 .4-2.6 1.4-.4 .6 .1 1.4-.5 1-1 1-2.4 1.3-.2 .4 1.8 .6 5.3 1 .4 .2 0 .2-4.6 1.2-.7 .4 2.2 1.6 .2 1.8-.3 .4-5 1.2-.6 .2 0 .2 10.8 1.4-1.5 .4-10 .8-2.2 .4 1.6 .4 7.5 1 .3 .4-1.1 .8 .2 1-.4 .6-3 1.2-.5 .4 .8 .4 6 1.2-.7 .4-5.2 .9-.8 .2-.4 .4 1.9 1 .7 .8 2.1 1 .4 .4-1 .6-3.9 1.2-.2 .2 .1 .2 5.2 1.2 .7 .4-3.9 1.2-.5 .4 .8 .8-.8 1 .1 .4 3.1 1 .8 .6-.5 .4-3.3 1.2-.6 .4-.2 .4 1.3 .8 3.8 1 .3 .4-1.1 .4-6.5 1.2 1.1 .4 7.7 .9 1.8 .4-1.6 .4-8 .8-.9 .2 0 .2 4.5 1 0 .2-.6 .2-2.9 .6-.3 .2 .5 .2 9.7 1.2-1.8 .4-9.5 1-.1 .2 .8 .2 4.7 .8-.9 .4-3.1 .6-.5 .2 .2 .2 6 1 .8 .4-5.3 1.4-.9 .6-.2 .4 .2 .4 1.4 .6 6.4 1.2 0 .2-.7 .2-8.5 1-1.6 .4 .7 .4 5.5 1 2.1 .8 0 .4-.6 .4-5 1.5-.7 .4 .2 .2 8.2 1.6-.9 .4-5.9 1-.7 .4 2 1 .6 .8 .6 .4 2.8 .8 .5 .4-1.1 .4-5.6 .8-1 .4 9.2 1.4 0 .2-.8 .2-5.4 1 0 .2 .4 .2 2.4 .8-2.1 1.4 .3 .4 2.7 1.2 .1 .4-1.3 1 .3 .4 1.1 .6-.4 .4-3.4 .9-.6 .4 5.7 1.4-.5 .4-3.5 .8-.9 .6 .4 .6 2.6 1.6 .1 .4-.8 .6-2.1 .8-.4 .4 .2 .8 1.9 1.4-1.3 .2M437.7 17.7l0 16.7-.4 1.8 .5 .6 2.7 1.2-2 .6-6.8 .8-1.6 .4 1.4 .4 11.5 1 2.1 .4-1.2 .4-6.7 .8-2.5 .6 .4 .4 2.5 1 .4 .6-.4 1.6 .6 15.9-.1 2.6-.7 4 .7 .9 3.4 1.4 .5 .6-.8 .6-4 1.4-.9 .8-.1 .8 .6 1.6 1.9 2.8 .5 1.4-.4 1.4-2 3.2-.2 1.4 .8 1.8 1.6 2.3 .2 .8-.9 2.6-3.9 1.4 1.2 .4 6.7 .8 .9 .2-.1 .2-13.2 1.4 1.4 .4 8 .8 1.8 .4-.4 .4-2.6 1 0 .4 1 1 .1 .6-2.2 2-.5 .8-.5 3.4 1.9 2.1 .6 1.4-.8 .6-2.9 .8-.5 .4 1.7 .4 8.4 1-.1 .2-1.3 .2-14 1-1.2 .2-.1 .2 9.1 1 1.4 .2 .9 .4-2.5 1-.4 .4 2.7 3.2-.3 .8-1.5 1.8-.2 .6 .3 1.4-1 .6-3.1 .8-.3 .2 .2 .2 12.1 1.5-.1 .2-1.2 .2-10.4 .8-2.5 .4 1.8 .4 7.7 .8 1.4 .4-3.4 1.4-2.1 2.6 .3 1.8-.3 1 .1 .4 2.8 1.2 .5 .6-1 1-1.3 3-1.3 1.2 .1 .4 1.5 .8 .1 .4-3.4 1-.5 .5 4.2 1.4 .1 .4-.8 .6 0 .4 4.9 1.2-6 1-.7 .2 .2 .2 8.7 1.2-1.6 .4-13.6 1.2 .1 .2 1 .2 7.4 .8 1.4 .4-.7 .4-2.8 .8-.3 .2-.1 .4 1 .6 3.7 1.2 .3 .4-2.4 1.4-.2 .4 .2 1.8-.8 1.2-3.4 2 1.1 .7 5.1 1 .7 .4-.9 .4-3.4 .8-.6 .4 .5 .4 2.4 .8 .7 .6-1.1 1.2-.1 .8-.3 .4-3 1.2 1.2 .4 7.6 1 0 .2-1 .2-13.2 1.2 .1 .2 1.2 .2 10 1 1 .4-3.1 1.4-.6 1 0 .6-.5 1 1 .6 3.3 .8 .3 .2-.1 .2-7.4 1.5 .5 .4 3.1 .8 1 .6-.2 1.6-2.5 1.4-.4 .6 .6 .4 3.7 1 .6 .4-5.7 1.4 .1 .4 2.5 .8 .4 .4-.8 1.2 1 .8 .2 .4-1.3 1.2-.1 1.8 .1 .4 1.9 1.2-.7 .6-3.4 .8-.6 .4 1.6 .4 7.2 .8 1 .2 0 .2-12.1 1.5 1.2 .4 6.2 1-2.8 .8-.4 .2 .2 .2 7.2 1.2-10 1.4 7.2 1.2-1 .4-3.9 .6-1 .4 5.8 1.4-.2 .4-1.6 .6-2.9 1.8-.2 .4 1.2 .4 4.9 .8 1.1 .4-1.3 .4-5.8 .8-1.3 .4 .3 .4 3.2 1 1.9 1.4-.2 .6-3.3 1.3-.5 .4 .6 .4 4.7 1.2-.5 .4-3.2 .8-.5 .4 1.7 1-.2 .4-1.1 .6-.2 .4 2.8 1 .4 .4-2.8 1.2 4.2 1.2-1.4 .4-7.3 .8-.8 .2 .1 .2 8.8 1 1.9 .4-1.3 .4-7.2 1.2-.3 .2 .4 .4 3.1 1.2 1.4 1.8-.7 .4-6.1 1-.7 .4 1.5 .5 6 .8 1.2 .4-.6 .4-4.1 1-1.2 .8 .2 .4 .7 .4 3.5 1 1.1 .6-.4 .4-3 1-1.2 .8 .1 .4 .7 .4 4.2 1.4-3.1 .2M443.2 17.7l0 17.7-.4 1.8 .6 .6 2.6 1.2-2 .6-6.7 .8-1.6 .4 1.6 .4 11.6 1 1.9 .4-1.2 .4-7.9 1-1.2 .4 .5 .4 2.5 1 .3 .6-.3 1.6 .4 14.9-.7 7 .8 .9 2.9 1.2 .7 .6-.6 .6-4 1.4-1 .8 0 .6 .5 1 2.7 3.6 .3 1.4-.5 1.4-2 2.6-.4 1.2 .4 1.8 1.5 2.7-.2 2.4-.9 .6-3.3 1 0 .2 .6 .2 8 1.2-2.1 .4-10.1 .8-1.8 .4 10 1.2 1.3 .4-2.6 1-.5 .4 1.6 1.4 .3 .6-.3 .6-1.8 1.8-.2 1.8-.6 1.6 .3 .8 2.5 2.3 .5 1-.5 .4-2.6 .8-.5 .4 1.6 .4 8.5 1 0 .2-1.2 .2-14.2 1-1.6 .4 8.6 1 1.3 .2 .9 .4-2.9 1-.5 .4 .2 .6 2.1 2.2 .2 .6-.1 .6-1.3 1.8 .1 2-.7 .4-3.9 1.2 1.5 .4 10.8 1.2-2 .5-10.2 .8-1.6 .4 10.2 1.2 1.2 .4-2.8 1.2-.5 1.2-1.6 1.8 0 1.4-.5 1.2 0 .4 2.7 1.2 .4 .4-.9 1.2-.5 2.8-1.3 1.4 .3 .4 1.1 .6 .3 .4-4.1 1.2-.3 .4 4.1 1.5 0 .4-.7 .6 .3 .4 4.8 1 0 .2-.7 .2-4.3 .6-1.1 .4 7.7 1 1.5 .4-2.6 .4-11 .8-1.9 .4 8.8 1.2 .7 .4-4.4 1.4-.1 .4 .4 .4 3.5 1.2 .6 .6-2.3 1.4 .3 2-.7 1.2-1.1 .8-3.2 1.4 1.2 .6 5.6 1.3 .1 .2-.4 .2-4.6 1-.8 .4 .3 .4 3.8 1.4 .3 .6-.2 .8-.9 .8-4 1-.5 .2 0 .2 1.8 .4 8.7 1-.1 .2-1.1 .2-14.1 1.2 0 .2 1 .2 9.4 1.2 .3 .4-.4 .6-.1 1.2-3.4 1.6-.2 .4 1.7 .6 4.9 .8 .8 .4-1.5 .4-6.1 .8-1.1 .4 .4 .4 3 1.1 3.2 1.6-.1 .4-.4 .2-4.7 1.2-.7 .4 .1 .2 7.3 1.6-.7 .4-4 .8-1.5 .6 .8 .8 .5 1.2 3.2 1.4-.9 .6-3.4 1-.6 .4-.1 .4 1.3 .8 3.4 1.2 .2 .4-1.9 .6-5.1 .8-1 .4 1.7 .4 8.7 .8 1.9 .4-1.8 .4-9.1 .9-1.5 .4 5 1.2-2.1 .8 0 .2 .7 .2 8.9 1.2-12 1.4 0 .2 .8 .2 5.3 .8 .1 .2-.5 .2-2.6 .8 .8 .4 3.2 .6 .9 .4-.6 .4-3.6 1-.3 .4 .2 1.2 .9 .6 4 .8 1 .4-1.1 .4-7.5 1-.6 .4 5.6 1.2 1.1 .6 0 .4-.7 .6-3 1.2-.6 .4-.1 .5 6.5 1.6 0 .2-.6 .2-6 1.2 .1 .4 3.2 1 .2 .4 0 1 1.1 .8-.5 .4-3 .8-.5 .2 0 .2 6.5 1 1.4 .4-1.5 .4-7 .8-1.2 .4 4.1 1.2 .9 .8 .4 .6 0 .4-1.8 1-.9 1 .3 .4 3.1 1.2-.8 .4-4.6 .8-1 .4 .9 .4 4.2 .9 .7 .4-.5 .4-1.7 .6-.6 .6 .2 1.6 1.5 1 .3 .6-1 1-.6 1.4 0 .6 1.5 1 .4 .6-.2 .4-1.6 .2M448.7 17.7l0 18.7-.4 1.8 .6 .6 2.1 .8 .5 .4-1 .4-7.9 1-1.6 .4 1.7 .4 11.5 1 1.8 .4-1.3 .4-8 1-1.1 .4 .4 .4 2.1 .8 .7 .6-.5 1.8 0 3.5 .9 15.8-.2 1.9 .7 .8 3.1 1.4 .5 .6-.9 .6-4.1 1.4-.9 .8 .3 1 2.2 3.2 .3 1.4-.4 1.4-1.9 3-.3 1.4 .6 1.4 1.9 2.5 .5 2-.4 .6-3.5 1.2 1.2 .4 7.4 1 0 .2-1.1 .2-13.2 1.2 .1 .2 1.1 .2 7.9 .8 1.9 .4 0 .2-.3 .2-2.6 1 .2 .4 1.8 1.2 .4 .8-.3 .6-1.4 1.6-.6 1.8-1.3 2 .4 .8 1.9 2.1 .3 .8-.4 .4-2.5 .8-.5 .4 1.6 .4 7.6 .8 1.1 .2 .1 .2-15.3 1.2-1.8 .4 9.7 1.2 .8 .4-2.9 1-.6 .6 .5 .8 2.4 2.4 0 .6-1.1 2 .1 1.6-1.1 .6-3.5 .8-.7 .4 1.7 .4 8.2 .8 1.4 .4-14.1 1.5 .1 .2 1.1 .2 9.2 1 .8 .4-2.7 1.2-.3 1.2-1.6 1.6-.4 1.6-.8 1.2 .3 .6 2.4 1.2-.1 .4-.6 .8 .1 2.8-1.1 1.4 .2 .4 1.5 1-.6 .4-3.5 .8-.8 .4 .5 .4 3.4 1 .2 .5-.7 .6 0 .4 5.2 1.2-1.3 .4-4 .6-.4 .2 .3 .2 9.5 1.2-1.5 .4-13.8 1.2 .1 .2 1 .2 7.1 .8 1.2 .4-4.2 1.2-.7 .4-.1 .4 .4 .4 3.3 1.2 .6 .4-2.2 1.6 .8 2-.4 1.2-1.1 .8-2.6 1-.5 .4 .5 .4 6 1.5-.5 .4-4.5 1.2 .1 .4 3.5 1.4 .5 1.2 .6 .8-.1 .4-.4 .2-2.9 .8-.6 .4 8.1 1.4-2.1 .4-9.8 .8-1.6 .4 9.1 1.2 .8 .4-2.8 1.2 .3 .4 1.1 .8 .2 .6-2.1 1.4 .5 .4 3.4 .8 .5 .4-5.7 1.4 .4 .4 2 .8 .2 .5-.3 .6 2.1 1.4-.2 .4-2.8 1.2-.3 .4 4.2 1.6-3.3 1.4 1.5 1.2-1.8 1.2 0 .4 2.6 1 .5 .6-3.3 1.8-.4 .4-.1 .4 .4 .4 3.2 1 .6 .4-.7 .4-5.7 1.2 .9 .4 6.8 .8 1.5 .4-1.7 .4-8.6 1 .1 .2 4.7 .9 .9 .4-3.8 .8-.5 .2 .2 .2 8.6 1.2-1.3 .4-7.9 1 .9 .4 2.5 .4 1.1 .4-5 1.2 1 .4 5.3 .8 1 .4-.5 .4-4.6 1.4-1.3 .8 0 .4 1.2 .4 7.6 1.2 0 .2-.7 .2-8.2 1-1.4 .4 .6 .4 5.5 1.4 1.3 .6 .3 .4-.9 .6-4.9 1.2-.3 .4 7 1.7-.8 .4-3.7 .8-.8 .4 0 .4 .6 .6-.6 .8 .2 .4 3.1 1 .6 .4-.9 .4-4 1 4.5 1 .7 .4-6.6 1.2 .9 .4 5.7 .8 .6 .2-.1 .2-7.4 1.2-.8 .4 1.3 .4 6.1 1 1 .4-2.5 1.2-.5 .8-.3 .2-3.4 .8-.8 .4 1.1 .4 5.4 .8 1.2 .4-.6 .4-4.5 1.1-.9 .6 .2 .4 .7 .4 3.8 1.6 .1 .2-.6 .4-3.2 1-.6 .6 .1 .4 .6 .4 3.5 1.6-.5 .6-3.3 1.2 1.3 .2M454.2 17.7l0 19.7-.4 1.8 .6 .6 2.1 .8 .4 .4-1 .4-7.9 1-1.4 .4 1.7 .4 11.5 1 1.8 .4-1.4 .4-7.9 1-1.1 .4 .5 .4 2.1 .8 .7 .6-.5 1.7-1.2 11.8 .4 4.6 .5 2.6-.2 1.7 .8 .8 2.6 1.2 .7 .6-.7 .6-4 1.4-.9 .8 .2 .8 2.1 2.8 .4 1.4-.2 1.4-1.8 3-.1 1.6 .6 1.2 1.8 2 1.3 2.1-.5 .6-2.9 1 .6 .4 8.1 1.2-2.1 .4-10.7 .8-2.2 .4 1.8 .4 7.7 .8 1.2 .4-2.7 1-.5 .4 .2 .4 1.9 1.2 .5 .8-.1 .6-1.2 1.6-.6 1.6-1.9 1.8-.3 .6 .2 .6 1.4 2 .3 .9-.3 .4-2.4 .8-.5 .4 1.5 .4 7.7 .8 1.4 .4-3 .4-12 .8-2 .4 9.5 1.2 .9 .4-3 1-.7 .6 .7 1 2.8 2.4 .1 .6-.4 1.6 .4 1.8-1.3 .6-3.6 .8-.5 .2 0 .2 10.8 1.4-1.5 .4-10.5 .8-2.3 .4 1.9 .5 7.9 .8 1.5 .4-.1 .2-2.2 1 .1 1.4-1.5 1.6-.5 1.6-1.1 1.4 .3 .4 2.1 1.2-.8 1.2 .5 1.2 .2 1.6-.7 1.4 1.5 1 .1 .4-4.7 1.2-.7 .4 3.6 1.4 0 .4-.9 .6 .2 .5 4.8 1 .1 .2-.7 .2-3.9 .6-.8 .2 0 .2 8.6 1 1.6 .4-2.4 .4-10.8 .8-1.9 .4 9.6 1.4 0 .2-.4 .2-3.5 .8-1.2 .6-.1 .4 .4 .4 3.2 1.2 .5 .4-1.8 1.2-.1 .4 1.2 1.8 .2 .8-.3 .6-.8 .6-3.3 1.2-.5 .4 .5 .4 4.6 1 .7 .4-.9 .4-5 1.1-.5 .4 3.9 1.4 .7 .6-.3 1.4-.3 .4-2.7 1-.4 .4 1.6 .4 6.9 .8 .9 .2-.1 .2-14.7 1.2-1.5 .4 10.4 1.2 1.3 .4-1.9 1.2-1.2 2.4 .1 .4 1.3 .6 3.8 .8 .7 .4-1.2 .4-7.2 1.2 .5 .4 4.2 1.2 1.3 1.5-.2 .4-.7 .4-3.2 1-.4 .4 .1 .2 6.2 1.6-.6 .4-4.9 1-.6 .4 2.3 1.2 .5 1.4 1.2 .8-.4 .6-2.1 1-.1 .4 .4 .8 1.1 1 1.3 .8 .1 .4-1.2 .6-3.9 .8-.5 .4 1.8 .4 7.9 .8 1.4 .4-2.4 .4-9.6 .8-1.2 .4 6.7 1.3-.1 .2-2.1 .6-.2 .2 .3 .2 6.8 1.2-10.5 1.4 1.3 .4 5 .8-.7 .4-3.4 .8-.1 .2 .4 .2 3.4 .8 .5 .4-2.1 1-.5 1-1.1 1 .4 .4 5.7 1.2-.7 .4-5.3 .8-1.3 .4 .5 .4 3.5 1 .8 1.4 .1 .4-.2 .4-2 1-.4 .4 .1 .2 3.5 1 .7 .5-.6 .4-3.8 1 .3 .4 2.5 1-1.9 1.4 1.7 1 .1 .4-2 1 .1 .2 4.4 .8 1.1 .4-1.7 .4-8.1 1 .1 .2 .8 .2 6.2 .8 1.4 .4 0 .2-4 1.4-2.6 1.4 .9 .6 6.7 1.2 .7 .4-1.5 .4-9.1 1-.9 .4 7.7 1.2 1.2 .4-.4 .4-3.7 1.3-1.2 1 .1 .4 .5 .4 2.6 .8 .9 .6-.3 .4-3.2 1.4-.6 .6 .2 .4 .6 .4 2.8 .8 .9 .6-.3 .4-3.7 1.6 1.8 .2M459.7 17.7l0 20.7-.3 1.8 .7 .6 2.1 .8 .5 .4-1.1 .4-7.9 1-1.3 .4 1.8 .4 11.5 1 1.7 .4-1.5 .4-7.9 1-1 .4 .5 .4 2.1 .8 .6 .7-.5 1.8-.6 10-.1 5.4 .3 2.6-.4 1.9 .4 .6 2.9 1.4 .5 .6-.8 .6-3.8 1.4-.5 .6 .2 .6 2.3 2.4 .7 1.6-.1 1.4-1.8 3.2 0 1.4 .8 1.4 2.8 3.3-.6 .6-2.6 1 1.2 .4 6.6 .8 1 .2 0 .2-13.9 1.2-1.5 .4 10 1.4 0 .2-.4 .2-2.8 .8-.5 .4 .3 .4 1.9 1.4 .3 1-1 1.8-.5 1.8-1.7 1.6-.3 .6 .2 .8 1.9 2.2 .1 .6-2.6 1.3 0 .2 1.6 .4 8 .8 1.7 .4-2.7 .4-11.9 .8-2.2 .4 9.3 1.2 .9 .4-3.7 1.2-.6 .6 .7 1.2 2.2 2 0 2.2 .6 1.4-.1 .4-1.4 .6-3.8 .8-.4 .2 .2 .2 8.5 1 1.8 .4-2.4 .4-10.6 .8-1.6 .4 10 1.3 1.1 .4-2.1 1.2 .5 1.4-1 1.4-.5 1.8-1 1.4 2.1 1.4-.6 1.2 1.6 2.8-.2 1.4 2 1.4-.7 .4-4.7 1-.5 .4 2.5 1 .4 .4-1.5 1.2 4.4 1.3-5.7 1.2 1.7 .4 8.7 1-.1 .2-1.3 .2-13.6 1.2 .2 .2 1 .2 7.2 .8 1.3 .4-4.4 1.2-.9 .4-.3 .4 .2 .4 .6 .4 3 1.2-.1 .4-1.5 1 0 .4 2 2 .4 .8-.2 .6-.5 .4-3.2 1.2-.5 .4 .7 .4 4.6 1 .4 .4-5.4 1.2-1.3 .7 3.8 1.6 1.5 1.8-.6 .6-2.9 .8-.6 .4 1.7 .4 7.8 1-1.4 .4-13.3 1.2 .1 .2 .9 .2 7.1 1 .3 .2-.2 .2-1.3 .6-.3 .4 1.8 1 .2 .6-2.8 1.6 1.4 .6 4.8 1 .1 .2-.5 .2-6.2 1.2 0 .4 1.2 .8 .4 1 2.8 1.1 .4 .4-.7 .4-4.8 1.2-.3 .4 5.5 1.6-3.5 1.4-.2 .4 .2 .6-1.2 1.2 .9 .6 3.5 1 .2 .4-3.7 1.4-.8 .4-.1 .4 1.3 .8 4.4 1.2 .3 .4-1.2 .4-6.5 1.2 1.1 .4 10.4 1.2-1.3 .4-8.2 .8-1.4 .4 3.6 .8 .9 .4-3 .9-.3 .2 .5 .2 9.2 1.2-1.4 .4-8.1 .8-1.2 .4 3.6 1-2.3 .8-.4 .2 0 .2 5 1 1.1 .4-.6 .4-4.7 1.2-.9 .8 .1 .6 1.7 .6 5.2 .8 .9 .4-1.6 .4-7.3 .8-1.6 .4 0 .2 .5 .2 5.1 1 1.9 1-.1 .4-.5 .4-4.4 1.2-.7 .4 .1 .2 5.9 1.2 1.1 .4-.6 .4-5.7 1.3 0 .4 1.6 .8 .4 1.2 2.1 1.2-.8 .4-3.9 1 .1 .2 .8 .2 5.7 1-1.1 .4-7 1 .8 .4 5.3 1-.5 .4-2.8 .8-.4 .4 2.4 1.2 .6 .6-2.6 1.4 .3 .4 1.2 .8-1 .8-.1 .4 2.5 1.2-.2 .4-2.7 1.2 .4 .9 1.2 1.4 .9 .6 .1 .4-.5 .6-1.3 .8 .1 .8 .8 1.4 1.2 1-.4 .6-1.2 .8 .2 1.8-.1 .2M465.2 17.7l.1 21.7-.4 1.8 .7 .6 2.2 .8 .4 .4-1.1 .4-7.9 1-1.3 .4 1.9 .4 11.6 1 1.6 .4-1.6 .4-6.7 .8-2.1 .6 2.7 1.3 .6 .6-.4 1.8-.2 9 .2 5.4 .5 2.8-.5 2.1 .5 .6 2.4 1.2 .7 .6-.6 .6-3.2 1.2-1 .8 .1 .6 2.1 2.2 .5 1.2-.2 1.4-2.2 3.2-.4 1.4 .5 1.6 2 2.6-.3 .5-2.7 1 .7 .4 8.5 1.2-1.9 .4-11 .8-2.6 .4 1.4 .4 7.3 .8 1.2 .4-3.4 1.2-.3 .4 2.7 2 .6 1-.3 1.4-.1 2-1.8 1.8-.3 .6 .1 .6 1.7 2.4 0 .4-2.5 1.3 0 .2 1.6 .4 8.2 .8 2 .4-2.5 .4-11.7 .8-2.4 .4 10 1.4 .2 .2-.4 .2-3.7 1-.8 .6 .3 1.2 1.9 2 .1 2 .9 1.6-.1 .4-.9 .4-3.7 .8-1 .4 1.4 .4 7.5 .8 1 .2 0 .2-14.8 1.4 .1 .2 1.1 .2 7.7 .8 1.2 .2 .7 .4-2 1.1 0 .4 .8 .8 .1 .4-.9 1.6-.3 1.4-1.3 1.6 1.5 1.2 0 .4-.9 1 1.6 2.8 0 1.2 .4 .4 1.9 .8 .3 .4-5.8 1.6 .5 .4 2.5 1-.1 .4-1.2 .6-.2 .2 .2 .2 3.5 .8 .7 .4-4.5 .9-.7 .2 0 .2 9.2 1 1.9 .4-2.3 .4-10.4 .8-1.7 .4 10 1.4 0 .2-.4 .2-4.2 1-1.2 .8 .2 .6 2.2 1 .4 .4-2.2 1.6 .2 .6 1.7 1.8 .3 .8-.8 .8-3.2 1.2-.4 .4 .8 .4 4.4 1 .3 .2-.1 .2-6 1.2-.7 .2-.4 .4 3.2 1.3 .9 .6 .7 1.8-.3 .4-1.9 .8-.1 .2 .3 .2 7.4 1 1.3 .4-2.7 .4-11 .8-1.9 .4 10.2 1.4 .2 .2-.4 .2-3 .8-.8 .6 1.7 1.6-.2 1 .3 .4 3.5 1.2-.4 .4-5.5 1.2-.1 .2 .4 .2 2.7 .8 .5 .4-.8 1 1 1 0 .4-1.7 1.1-.4 .6 3.5 1.2 .4 .4-3.8 1.4 .4 .4 2.1 1-.2 .4-1.3 .8-.1 .4 1.6 1 .3 .6-1.1 .8-1.4 1.4-.3 .6 .3 .4 1.8 .8 .4 .4-.6 .4-4.8 1.2 1 .4 6.6 .8 1.2 .4-11.4 1.4 .1 .2 .9 .2 6 1-3.2 .8-.6 .2 0 .2 7.4 1.3-1.1 .4-5 .6-1.7 .4 4.5 1.2-4.4 1.2 .8 .4 4.6 .8 .9 .4-.2 .4-4.9 2.2-.2 .4 .3 .2 7.9 1.4-.7 .4-6.2 .8-1.7 .6 3.1 1.2 3 1.8-.3 .4-4.4 1.4 .4 .4 4.3 1.2 .1 .2-.4 .2-2.7 1 .8 1.3-1.9 1-.3 .4 .5 .4 2.8 1-.5 .4-1.9 .6-.3 .4 3.8 1-.9 .4-6.5 .8-1 .2 0 .2 8.9 1.4-.7 .4-4.9 1-.5 .2-.3 .4 1.8 1 4.8 1.8 .3 .2 0 .2-2.7 .6-7.4 .8-.9 .2-.1 .2 2.4 .4 9.5 .8 2.4 .4 .1 .2-7.6 1.2-1.9 .6 .1 .4 .7 .4 4.4 1.5 .8 .6-.6 .4-3.5 1-1 .6-.1 .4 .5 .4 4.3 1.6 0 .2-.6 .4-3 .8-1.5 .8 0 .4 .5 .4 2.8 1-2 .2M470.7 17.7l0 20.1-.1 2.8-.4 1.6 .7 .6 2.1 .8 .4 .4-1.2 .4-8 1-1.2 .4 2 .4 11.5 1 1.5 .4-1.6 .4-6.7 .8-2 .7 2.7 1.2 .6 .6-.3 1.8 .7 6.8 .1 3-.5 3.8 0 2.8-1 2.3 .5 .6 2.4 1.2 .6 .6-.6 .6-2.8 1.2-.6 .6 .2 .6 2.3 2 .7 1.6-.3 1.2-1.8 2.8-.4 1.2 .4 1.8 1.6 2-2.8 1.5 1.3 .4 7 .8 1.2 .4-2.8 .4-11 .8-1.7 .4 9.5 1.4 0 .2-.4 .2-3 .8-.6 .4 .2 .6 2.7 2.2 .6 3.4-.3 .8-1.8 1.4-.5 .8 1 3.2-2.6 1.4 1.5 .4 10.4 1.3-2.2 .4-11.6 .8-2.5 .4 1.7 .4 7.4 .8 1.1 .4-4.3 1.2-1 .8 .1 1.2 1.4 1.8 .3 2 1.2 1.6 0 .4-.9 .4-3.7 .8-.6 .4 9.8 1.4-1.9 .4-11 .8-2.3 .4 1.8 .4 7.6 .8 1.3 .4-1.9 1.2 1.2 1.3 .3 .6-.4 1.2 0 1.6-1.3 1.6 1.1 1.2-1.2 1.2-.1 .4 1.4 2.6 .3 1.2 3 1.4-.5 .4-4.7 1-.7 .4 2.3 1 .4 .4-1.8 1-.1 .2 .2 .2 3.6 1-5.8 1.2 1.8 .5 9.3 1 0 .2-1.2 .2-10.3 .8-2.7 .4 1.4 .4 7.6 .8 1.4 .4-.8 .4-4 1-1.1 .8 .2 .6 2.3 1.2-.2 .4-1.5 .8-.5 .6 .5 .8 2.1 1.8 .4 .8-.5 .6-2.8 1.2-.2 .4 4.8 1.2 .8 .4-.9 .4-5.6 1-1.1 .4 .3 .4 3.5 1.5 1.2 1.6-.3 .6-2.2 .8-.3 .2 .1 .2 1.9 .4 7.7 .8 1.1 .2 .1 .2-14.2 1.2-1.8 .4 8.8 1.4 .1 .2-.3 .2-1.8 .8-.1 .4 .4 1-1.8 1.4 0 .4 1.7 .6 4.4 .8 .8 .4-8 1.6 .3 .4 2.5 1 .7 .8 1.5 1-.6 .6-3.3 .8-1.4 .7 .4 .4 5 1 .9 .4-.4 .4-4 1-.5 .4 0 .4 .6 .6 .1 1 3 1.6-.8 .6-2.6 .8-.6 .4-.1 .4 1 .8 3.3 1.4 .2 .4-.8 .4-5.4 1-.9 .4 1.6 .4 8.6 .8 2 .4-1.8 .4-9.4 .8-1.7 .4 5.8 1.2-.1 .2-1.7 .6-.2 .2 .5 .2 7.9 1.3-1.7 .4-7.8 .8-.8 .2-.1 .2 4.5 1 .1 .2-1.5 .6-.4 .4 3.6 1 .6 .4-3.4 1.4-.4 1.4 .2 .4 .8 .4 4.2 .8 .6 .4-7.7 1.2-.8 .4 5.1 1.4 .1 1-.4 .8-2.4 1-.7 .6 .7 .4 3.5 .8 .8 .4-.5 .4-3.9 .8-1 .4 .5 .4 2.3 .9 .3 .4-.8 1.2 .9 1-2.2 1.2 .7 .4 5.9 1-.1 .2-.9 .2-7.5 .8-1.6 .4 7.6 1.2 .8 .4-3.2 1.2-.4 .4-.1 1.2 .7 1 2.9 1 .6 .4-.1 .2-5.7 1.2-.6 .4 .4 .4 1.8 .6 3.6 2-.3 .4-3.5 1-.7 .4 0 .2 .4 .3 2.8 1 .4 .4-3.2 2.4 .1 .6 2.3 1 .5 .6-3.4 2.4 .2 .6 2.9 1.2-2.1 .2M476.2 17.7l0 23.5-.4 1.8 .4 .6 2.5 1 .4 .4-2.5 .6-6.6 .8-1.2 .4 2.1 .4 11.6 1 1.4 .4-1.7 .4-6.7 .9-1.9 .6 2.7 1.2 .6 .6-.4 1.8-.1 7.4 0 5 .5 3.2-1 2.5 .5 .6 2.4 1.2 .5 .6-.8 .6-2.8 1.2-.5 .6 .3 .6 1.6 1.6 .3 1.2-.3 1.2-1.8 2.6-.5 1.4 .4 1.6 1.5 1.4 .1 .4-2.4 1.2 .9 .4 9.4 1.3-1.6 .4-13.7 1.2 1.2 .4 7 .8 1.2 .4-3.9 1.2-.7 .4 .2 .6 2.1 2.2 .3 1.8 .7 1.8-.4 .8-1.8 1.4-.4 .6 .4 3.2-2.6 1.4 1.5 .4 10.8 1.3-1.8 .4-11.4 .8-2.6 .4 1.7 .4 7.6 .8 1.2 .4-4.2 1.2-1 .6-.2 .6 0 .8 1.2 1.8 .4 1.8 1.9 2-1 .6-3.9 1 .9 .4 7.2 .8 1.5 .4-2.8 .4-11 .8-1.8 .4 9.3 1.2 .9 .4-1.9 .8-.4 .4 1.6 1.7-.2 1.4 .2 1.4-1.2 1.6 .8 1.4-1.5 1-.2 .6 1.4 3.6 3.7 1.6-.7 .4-4.8 1.2 .3 .4 2.3 1-.2 .4-1.4 .6-.4 .4 2.9 .8 .5 .2 0 .2-5 .8-.8 .2 0 .2 9.2 1.1 2 .4-2.2 .4-10.3 .8-1.5 .4 9.9 1.2 .9 .4-4.1 1.2-1.2 .6-.3 .4 0 .4 2.2 1.4-.4 .4-1.7 .8-.5 .6 .4 .8 2.2 1.8 .6 .8-.3 .6-2.7 1.2 .1 .4 5 1.2 .6 .4-1.1 .4-5.8 1-.7 .2-.3 .4 3.1 1.4 1.3 1.9-.1 .6-1.9 .8-.2 .2 .2 .2 10 1.4-1.6 .4-10.3 .8-2.5 .4 1.5 .4 6.6 .8 .7 .4-4 1-.7 .4 .2 .4 1.6 .8 .6 .6-.2 .4-1.3 .8 0 .4 4.5 1.4-.7 .4-3.6 1-.1 .2 1.7 1-.2 .4-1 .8 .1 .2 2.3 1 .3 .4-3.4 1.6 .5 .5 2.7 .8 .6 .4-.3 .4-1.4 .8 1.2 1.4-2 1-.3 .4 .1 .2 3.7 1.2 .6 .4-.6 .6-3.4 1.4-.5 .6 .7 .6 3.6 1 .7 .4-.7 .4-5.9 1-.7 .4 9.7 1.4-1.4 .4-7.7 .8-1 .2-.1 .2 4.1 .8 .9 .4-3.7 .8-.5 .2 .1 .2 7.7 1 1 .2 .2 .2-7.4 1.1-1.1 .4 1.9 .8 0 .2-2.6 .8-.3 .2 .1 .2 6.1 1.2 .5 .4-4.6 1.4-1.9 .8-.5 .4 1.1 .6 7 1 1 .4-1.7 .4-7.2 .8-1.5 .4 .4 .4 4.6 1.2 2.2 1 .3 .4-1 .6-4.4 1-.4 .4 1.1 .4 4.5 .8 .9 .4-.6 .4-3 .8-.6 .4 .5 1-.7 .9 .1 .4 3.3 1.4-.5 .4-3.1 1 1 .4 3.2 .6 .5 .2-.2 .2-7.5 1.2 1.1 .4 5.8 .8 .9 .4-4.5 1-1.2 .6 2.9 1.8 .5 .8 .8 .8-.1 .2-.8 .4-5.5 1.2 .9 .4 6.9 1 .7 .4-1.3 .4-7.2 1-.7 .4 1 .4 5.8 1 1.4 .6-.3 .4-5 1.9 .7 1 2.9 1.8 .3 .4-.7 .6-2.1 .8-.2 .4 .5 .8 2.5 1.8-.3 .6-1.9 .8M481.7 17.7l.1 24.5-.4 1.8 .3 .6 2.5 1 .3 .4-2.6 .6-6.7 .8-1 .4 2.1 .4 11.5 1.1 1.3 .4-8.5 1.2-1.8 .6 2.7 1.2 .6 .6-.3 1.6 .6 7.2-.4 4.4 .1 3-.3 1.1-1.1 1.4-.1 .6 .6 .6 2.1 1 .8 .6-.5 .6-2.5 1.2-.6 .6 .2 .6 1.5 1.6 .2 1-.4 1.2-1.7 2.6-.2 1 .2 1.2 1.6 1.6-.3 .4-1.5 .6-.3 .4 1.5 .4 7.6 .8 1.8 .5-2.4 .4-10.6 .8-1.9 .4 8.8 1.2 .6 .2 .1 .2-3.7 1-1.2 .6 .1 .8 1.4 2 .3 1.8 .9 2-.3 .6-2.2 2-.2 3.2-2.7 1.4 1.4 .4 11.2 1.2-1.6 .4-11.1 .9-2.7 .4 1.7 .4 7.8 .8 1.5 .4-.8 .4-3.2 .8-1.2 .8-.2 1.4 1 1.6 .5 1.8 2.5 2-.4 .4-3.1 .8-.8 .4 1.5 .4 8.2 1-.1 .2-1.3 .2-14.2 1.2 .1 .2 1 .2 7.1 .8 1.4 .4-2.3 1-.4 .4 1.6 1.4 .1 1.7 .4 1.6-1 1.4 .6 1.2-2 1.2-.4 .6 .7 3.4 1.1 .6 2.6 .8 .5 .4-.9 .4-3.7 .8-.7 .4 2.8 1.4-1.9 1-.2 .2 .1 .2 3 1-6.3 1.2 1.6 .4 9.5 1 0 .2-1.1 .2-10.1 .9-2.5 .4 1.5 .4 8.1 .8 1.7 .4-.5 .4-3.4 1-.9 .6-.3 .4 .1 .4 1.6 1 .3 .4-2.4 1.2-.5 .4-.1 .4 .7 1 2.1 1.6 .5 .6-.3 .6-2.1 1-.2 .4 .8 .4 4.7 1 .4 .4-1.2 .4-6 1-1 .4 .2 .4 2.3 1.2 .6 1.7-.3 .6-1.9 .8-.2 .4 1.6 .4 7.8 .8 1.7 .4-2.5 .4-11.2 .8-2.1 .4 9.7 1.4 .2 .2-.3 .2-3 .8-1.3 .6-.3 .4 .2 1.8 .2 .4 .7 .4 4.1 1 .8 .4-.9 .4-4.5 .8-1 .4 .7 .4 3.1 .8 .6 .4-.6 1 .1 .8-.3 .4-2.2 1-.4 .4 0 .2 .9 .4 3.5 .9 .6 .4-.6 .4-3.3 .8-.8 .4 2.2 1.4-.5 1 0 .6 1.1 .8 .2 .4-.5 .6-1 .6-.1 .8 .6 1.6 1.5 .8 .2 .4-.6 .4-3.5 .8-.6 .4 1.3 .4 7.4 .8 1.5 .4-2.1 .4-9.1 .8-1.1 .2-.1 .2 7.3 1.2 0 .2-2.9 .8 0 .2 6.5 1.2-1.3 .4-6.9 1.1 .7 .4 3 .8-3.2 1.2 .6 .4 3 .8 .4 .4-4.7 3 .8 .4 4.7 .8 .9 .4-1.2 .4-5.5 .8-.7 .4 2.8 1.2 0 .8 1.4 1 .3 .4-3.2 1.4 .2 .4 2.5 .8 .6 .4-3.2 1.4 2.5 1.4-2.4 1.2-.1 .5 2.1 1.2-.7 .8 .2 .4 3.8 .8 .6 .2 0 .2-10.4 1.4 1.6 .4 7.4 .8 1.6 .4-.7 .4-4.4 1-.8 .4-.1 .4 .4 .8 .4 .2 4.7 1.6 .3 .4-2.3 .6-6 .8-.9 .4 1.3 .4 5.5 .8 1.8 .6-.7 .6-2.2 .8-5.1 1.4-.3 .2 .1 .2 9.2 1.4 .7 .4-7.4 1.5-1.3 .6 .9 .6 4.4 1.2 .8 .4 .1 .2-.6 .4-3.1 1-1.3 .8 .1 .4 .7 .4 4.2 1.4 .1 .2-.6 .4-3.3 1 .7 .2M487.2 17.7l0 25.5-.4 1.8 .3 .6 2.6 1 .2 .4-2.6 .6-6.7 .8-.9 .4 2.2 .5 11.5 1 1.2 .4-8.6 1.2-1.9 .6 2.7 1.2 .4 .6-.7 1.8-.8 6.6 .3 3.4 .8 4.1-1.1 2.6 .9 .8 2.9 1.2 .4 .6-2.2 1.4-.6 .6 .2 .6 1.5 1.6 .3 .8-.4 1.2-2 3.4-.1 .8 .8 1 0 .4-2.5 1.2 .8 .4 1.3 .2 8.6 1-.1 .2-1.1 .2-13.3 1.3 0 .2 1 .2 7 .8 1.2 .4-4.1 1.2-1 .6 0 1 1.1 1.8 .4 1.6 1.5 1.8 .2 .8-1.9 2.2-.8 3.2-3.1 1.4 1.2 .4 11.1 1.2-.1 .2-1.3 .2-10.9 .8-2.8 .5 1.5 .4 8 .8 1.6 .4-.7 .4-3.7 1-.9 .8-.3 1.2 .6 1.6 .2 1.6 .8 .8 2.2 1.4-.5 .4-3.3 1 .8 .4 9.3 1.2-2.1 .4-11.2 .8-2.4 .4 1.6 .4 6.9 .8 .9 .4-3 1.2 .1 .4 1.1 .8 .5 .6 .2 1.5 .8 1.4 0 .4-.5 1.2 .6 1-.4 .4-2.3 1.2-.4 3.4 .4 .6 3.8 1.2 .3 .4-5 1.4 .3 .4 2.6 1-.2 .4-1.8 1 2.8 1-1 .4-4.5 .6-.9 .2-.1 .2 11 1.4-2.1 .4-10.1 .8-1.4 .5 10.5 1.2 1.2 .4-3.1 1.2-.8 .6-.3 .6 .1 .4 1.6 1 .1 .4-2.7 1.2-.5 .4-.2 .6 .6 1 2.2 2-.2 .6-2 1-.1 .4 1 .4 4.9 1 .4 .2 0 .2-7.4 1.4-.9 .4 .3 .4 2.1 1.2 .4 1.6-.3 .6-2.4 1.1 .9 .4 1.3 .2 8.1 .8 1.4 .4-12.9 1.2-1.2 .2-.1 .2 7.4 1 1.2 .4-3.9 1.4 0 .4 .5 .8-.1 .4-2.4 1.6 .7 .4 5 1 .7 .4-5.2 1.4-.2 .2 .3 .2 1.3 .8 .1 1.2 1.9 1 .2 .4-.7 .4-3.9 1-.3 .4 4.6 1.2 .7 .4-.3 .5-1.7 .8-.3 1.4-1.2 1 .8 .6 3.4 1 .6 .4-.1 .2-3.6 1.2-1.1 .8 .2 .4 .7 .4 3.8 1.2 .6 .4-1.3 .6-6.8 1.2 1 .4 10.7 1.2-1.3 .4-8.7 .8-1.8 .4 4.6 1.2-2.5 .8-.2 .2 .3 .2 8.7 1.2 0 .2-1 .2-7.3 .8-1.5 .4 0 .2 2.1 .9-.9 .8 .3 .4 4.3 1 .5 .4-.8 .4-3.6 1-1 .8-.1 .6 1.3 .6 6.1 1.2-1.1 .4-8.1 1-.6 .2-.1 .2 5.1 1.2 .8 .4 .5 .8 .1 .4-.4 .4-3.5 1-.8 .4 0 .2 1 .4 4.2 .8 .8 .4-.8 .4-3.8 .8-.7 .4 1.8 1.2-.1 1.2 1.4 1.3-.5 .4-1.8 .6-.6 .4 1 .4 4 .6 1.1 .4-9.3 1.4 1.2 .4 5.8 .8 .8 .4-2.7 .8-1.1 .6 .9 1.2 0 1.2 2.8 1.2 .2 .2-.2 .2-5.9 1.4 .5 .4 4.8 1 .6 .4-.5 .4-2.5 1 .2 .6 1.5 1.4-.5 .6-2.4 1.2 1.1 .6 3.2 .9 .5 .4-3.9 1.4 1.8 1.2 .2 .4-.8 .8-1 1.6 .1 .6 1.4 .8 .3 .6-1.9 2 .4 .2M492.7 17.7l0 20.1 .2 6.4-.3 1.8 .4 .6 2.5 1 .3 .4-1.4 .4-8 1.1-.8 .2-.1 .2 2.4 .4 11.4 1 1.2 .4-8.6 1.2-1.8 .6 2.8 1.2 .4 .6-.4 1.6-.7 9.2-.1 3.8-.3 1.1-1.4 2 .8 .8 3 1.2 .7 .6-.1 .4-2.1 1.2-.4 .6 .2 .6 1 1.2 .2 .8-.3 1-1.7 3 0 .6 .7 1.2-2.5 1.4 1.4 .4 9.9 1.2-1.9 .4-10.2 .8-1.9 .4 9 1.3 .8 .4-4.2 1.2-.8 .6-.2 1.2 .6 1.8 .2 1.4 1.9 2 .1 .8-1.5 2-1.2 3.2-3.3 1.4 1 .4 10.1 1 1.1 .2 0 .2-14.7 1.4 1.5 .4 8.2 .9 1.8 .4-.5 .4-3.6 1-1 .8-.5 1.2 .1 1.6-.4 1.6 .6 .8 1.7 1 .3 .4-.5 .4-3 1 1.2 .4 7.4 .8 1.4 .4-2.8 .4-11.1 .8-1.8 .4 7.5 1 1.6 .4-.1 .2-3.4 1.2 .2 .4 1.3 1.2 .5 1.6 1.2 1.7-.2 1.2 .8 1.2-2.8 1.6-1 3.4 .5 .6 3.6 1 .7 .4-.6 .4-3.4 .8-.6 .4 3.3 1.4-.3 .4-1.3 .6-.1 .4 2.5 1-6.9 1.2 1.5 .4 9.2 1-.1 .2-1.1 .2-10.1 .8-2.5 .4 1.7 .4 8.3 .9 1.3 .2 .7 .4-2.4 1-.9 .8 0 .8 1.8 1.4-.5 .4-2.4 1-.7 .6-.2 .6 .1 .6 1.9 1.8 .3 .6-2.3 1.6 .7 .4 5.1 1 1 .4-.7 .4-7.3 1.4-.2 .4 1.9 1.4-.1 1.6-.3 .4-2.6 1.3 1.3 .4 10.2 1.2-1.6 .4-10.3 .8-2.4 .4 1.7 .4 7.4 .8 1.1 .4-4.6 1.2-.9 .4-.3 .4 .5 1.4-.6 1 .1 .4 2.8 1 .5 .4-3.8 1.4 .6 .4 2.9 .8 .3 .4-2.1 1.2 1 1.4-2 1.4 .4 .4 2.4 1-2.7 1.5 2.5 1.6-2.2 1.2-.3 .4 .3 .4 2.7 1 .4 .6-2.7 1.8-.4 .6 .5 .6 3.2 1 .4 .4-.9 .4-4 .8-.5 .2 0 .2 9 1.4-1.6 .4-8.6 1 0 .2 .8 .2 4.3 .6 1.4 .4-4.2 1-.2 .2 6.6 1 1.3 .4-5.8 1-1 .4 1.5 .8-.1 .2-2.4 .9-.3 .2 .1 .2 5.1 1.2 .5 .2 .2 .4-6 2.2-.5 .4 .8 .4 6.9 1 .9 .4-1.6 .4-6.3 .8-1.1 .4 6 3.2-.6 .4-4.2 1-.6 .4 4.3 1.4-.3 .4-2 1 .8 .8-.2 .6-1.9 .8-.3 .4 .6 .4 2.8 1-.1 .5-1.1 .6 .1 .4 3.3 1-1.2 .4-6.6 .8-1 .4 10.3 1.4 0 .2-.6 .2-4.6 .8-1.5 .6 .1 .4 1.8 1 3.9 1.6 .4 .4-2 .6-5.4 .8-1 .4 1.2 .4 6.8 1 .9 .4-.6 .4-4.3 1-1.3 .8 .1 .4 .6 .4 4.6 1.4 .7 .4-.2 .2-1.3 .4-6.3 1-1.2 .4 .7 .5 6.9 1 2.6 .6 0 .2-.4 .2-7.1 1.6 0 .4 .4 .4 4.3 2.2-.7 .6-2.6 .8-1 .6 .1 .6 1.3 .8-.5 .2M498.2 17.7l.2 27.7-.3 1.6 .4 .6 2.8 1.2-.5 .5-.9 .2-8 1-.8 .2 0 .2 2.4 .4 11.4 1 .9 .2 .1 .2-8.7 1.2-1.7 .6 2.7 1.2 .4 .6-.6 1.8-.1 4.2 .5 3.4 .9 3.2 .1 1.3-.2 1-1.1 1.6-.2 .6 1 .8 3 1.2 .6 .6-.7 .6-1.9 1-.6 .6 .5 2.2-2.1 3.2-.1 .6 .3 1.2-2.6 1.2 .8 .4 9.3 1 1.4 .4-13.3 1.4 .1 .2 1.1 .2 7.4 .9 1.6 .4-.6 .4-3 .8-1.1 .6-.6 1.6-.5 3 .2 .6 1.3 1.6-.1 .8-1.3 1.6-.7 1.6-1.2 1.8-3.6 1.4 .9 .4 10.1 1 1.4 .4-14.4 1.4 1.4 .4 8.6 .8 2.1 .5 .1 .2-.4 .2-3.2 1-.6 .6-.5 1.2 0 1.6-.5 2 .5 .6 1.8 1 .3 .4-.6 .4-2 .6-.4 .2 0 .2 1.8 .4 8.6 1-.1 .2-1.3 .2-13.9 1.2 .1 .2 1 .2 6.8 .8 1 .4-3.3 1-.7 .4 .1 .4 .9 1 .3 1.8 1.3 1.7 .1 1.2 .9 1-.3 .4-2.7 1.4-.4 1.2-1.2 2.2 .7 .6 4.1 1.2 .1 .2-.2 .2-3.9 1.2 .4 .4 3.2 1 .1 .4-1.4 1 2.7 1-1.2 .4-4.8 .6-1.3 .4 8.5 1 1.8 .4-2.4 .4-10.4 .8-1.5 .4 10.4 1.2 1.4 .5-2.4 1.2-.6 1 .1 .6 1.7 1 .2 .4-3.1 1.4-1 1 0 1 1.6 1.6 .2 .6-1.8 1.2-.2 .4 .9 .4 5.4 1 1.1 .4-.8 .4-7 1.4-.1 .4 1.7 1.2-.3 1.6-.7 .6-2.4 .8-.5 .4 1.6 .4 8.3 .9 2 .4-2.1 .4-10.4 .8-1.8 .4 8.9 1.2 .9 .4-3.2 1.2-1.5 1.6-2 1.4 .1 .4 .5 .2 4.5 1 .7 .4-1 .4-4.2 .8-.6 .4 3.8 1.2 .7 .6 .1 .8 .3 .6-.1 .4-4.1 1.6 0 .2 1 .4 4.3 1 .1 .2-.3 .2-3.2 1-.3 .4 1 1.3-.3 .8 .2 .4 2.5 1.6-.5 .6-2.3 1-.1 .6 .6 .6 2.6 1.6 .3 .4-1.1 .6-4.2 .8-.8 .4 1.4 .4 8.1 .8 2 .4-1.9 .4-9.4 .8-1.8 .4 6.5 1.2 .1 .2-2.2 .8 .1 .2 6.9 1.2-1 .4-6.6 .8-1.2 .4 2.7 1 0 .2-.7 .6 0 .5 2.6 1 .3 .4-2.5 1.4-1.4 1.6 1.3 .6 4.3 1-.9 .4-5.5 .8-1.2 .4 4.1 1.4-.1 .4-.4 .4 .7 1-.1 .4-2.2 1-.1 .4 3.9 1.4-4.5 1.4 .3 .4 1.9 .6 1 .6-1.9 1.4 .1 .6 .5 .6-.8 .8 .1 .2 5.9 1.5-1.6 .4-8.1 .8-1.7 .4 9 1.2 1 .4-4.1 1.4-1.1 1.6 .3 .4 .8 .4 4.1 1 .5 .4-1.2 .4-7.2 1.2 0 .2 .4 .2 5.5 1 1.3 .6-.3 .4-2.1 1-1.7 1.4 .1 .4 .6 .4 2.6 1 .4 .4-.1 .4-1.4 1.2-4.3 1.3-.5 .4 8.2 1.4 .9 .4-1.2 .4-5.8 1-1.6 .6 .9 .6 3.2 .8 1.3 .6 .1 .2-.6 .4-2.8 1-1.4 .8 .1 .4 .5 .4 1.9 .6-.4 .2M503.7 17.7l0 20.1-.2 8.6-.4 1.6 .4 .6 2.8 1.3-.6 .4-.9 .2-8 1-.8 .2 .1 .2 13.9 1.4 .9 .2 .1 .2-8.7 1.2-1 .2-.6 .4 2.8 1.2 .5 .6-.3 1.8 .3 6.6 .4 4-.4 1.5-1.5 2 0 .6 .7 .6 3.6 1.4 .4 .6-3.2 2-.2 .6 .1 1.6-1.6 2.4-.1 1.4-3 1.4 1.2 .4 10.1 1.2-1.5 .4-9.7 .8-1.8 .4 9.6 1.2 1.1 .4-3.9 1.5-.9 1.8-.8 3.4 .4 .6 1.4 1.4 .2 .6-1.6 3.8-.8 1.2-.6 .4-3.7 1.2 .8 .4 1.3 .2 8.4 .8 1.5 .4-14.4 1.4 .1 .2 1.2 .2 8.7 .8 2.3 .4 .2 .2-.3 .2-2.6 .9-.9 .6-.8 3-1.2 2 .3 .6 1.4 1 .1 .4-3 1.2 1 .4 9.6 1.2-2.1 .4-11 .8-2.2 .4 8.8 1.4-.6 .4-3.2 .8-.7 .4 .9 1.4 .2 1.8 1.6 1.6 .7 1.3 1.3 1-.3 .4-2.3 1.2-.5 1.4-1.7 2.2 .9 .6 4.1 1.2-.4 .4-3 .8-.4 .4 4.1 1.4 .1 .4-.8 .6 0 .4 2.7 1-7.4 1.2 1.3 .4 8.6 1-1.4 .4-10.6 .8-2.7 .4 1.5 .4 7.9 .8 1.2 .2 .8 .4-2.1 1.1-.4 .4 0 1.2 1.9 1.2 0 .4-3.1 1.4-1.2 1-.3 .6 0 .6 1.3 1.8-.4 .6-1.7 1 1.2 .6 5.7 1 .9 .4-.8 .4-5.5 1-1.1 .4 0 .4 1.6 1.2-.3 1.4-.6 .6-3.1 1-.3 .2 .1 .2 2 .4 8.2 .8 1.4 .5-13.3 1.4 1.2 .4 7.5 .8 1.6 .4-.6 .4-3.4 1-.3 .4 .4 1-.2 .6-2.4 1.4 .4 .4 3.6 1.2-.6 .4-1.8 .6-.5 .4 2.7 1.2 .1 .4-1 1 2.5 1.4-.3 .4-3.3 1.2 .2 .4 2.3 1-1.5 1.4 1.6 1-.5 .7-2.5 1-.1 .4 1.1 .6 3.1 .8 .5 .4-.8 .6-3.6 1.2-.7 .6 .3 .4 .8 .4 3.8 1 .6 .4-.7 .4-6.2 1-.8 .4 10.5 1.4-1.1 .4-7.7 .8-1.4 .4 3.7 .8 1 .4-3.2 .8-.6 .2 .1 .2 7.7 1 1.6 .4-7.6 1.2-1 .4 .6 .8-.7 .6 .1 .4 5.3 1.3 .8 .4-.8 .6-4.6 1.4-.7 .4-.2 .4 1.9 .6 5.7 .8 1.4 .4-1.2 .4-8.7 1.2 0 .2 .4 .2 4.2 1.2 2.1 1.4-.1 .4-.5 .2-4.5 1-.6 .4 1 .4 4.5 1 .1 .2-.4 .2-3.5 1.2 .5 1-1.1 1.4 2.4 1.4-.4 .4-1.6 .6-.3 .4 4.3 1.3-1.3 .4-7.2 1 .1 .2 .9 .2 6.5 .8 1.1 .4-1 .4-3.3 .6-1.2 .6 1.7 1.2 .8 1.2 2.3 1.2-1.7 .6-4.4 .8-.6 .4 5.7 1.2 1.1 .4-.4 .4-3.7 1.2-.2 .4 .3 .6 2.5 2.2-.5 .6-2 1 0 .6 2.5 1.4 .7 .7-.8 .4-4.5 1.2 .6 .4 4.6 .8 1.5 .6-2 .8-.9 .6 .3 1-.4 .8 .2 1.6 .1 .6 .9 .6 .2 .6-1.8 .2M509.3 17.7l-.1 29.5-.4 1.8 .5 .7 2.8 1.2-.6 .4-1 .2-8.7 1.2 .1 .2 .9 .2 14 1.4 0 .2-.8 .2-7.9 1-1.4 .4 .2 .4 2.6 1 .4 .6-.3 1.6-.1 9.6-.5 1.9-1.4 2 0 .6 .8 .6 4 1.4 .8 .6-.4 .6-2.6 1.6-.1 2-.7 1.4-.2 1.2-1.1 .6-2.1 .6-.5 .4 1.7 .4 7.7 .8 1.5 .4-13.1 1.4 .1 .2 1 .2 8.9 1 .7 .4-3.8 1.5-2 4.6 0 1 2.1 2.2-.2 1.8 .1 1.4-.3 .6-.8 1.2-.6 .4-3.5 1-.6 .4 1.7 .4 8.2 .8 1.5 .4-2.8 .4-10.8 .8-1.1 .2 0 .2 12.1 1.4 .2 .2-.2 .2-2.5 .8-.9 .7-.8 3-1.5 2 .2 .6 1.6 1.2-.4 .4-1.8 .6-.5 .4 1.5 .4 8 .8 1.5 .4-2.6 .4-10.5 .8-1.2 .2-.2 .2 7.9 1 1.3 .4-4 1.2-.6 .4 .7 1.2-.1 1.6 .3 .6 2.5 2.4 1.8 1.3-.3 .4-1.9 1-.7 1.8-2.1 2 .4 .4 3.4 1 .6 .4-.7 .4-3 .8-.3 .2 .1 .2 4 1.2 .4 .4-.7 1 2.9 1-1.1 .4-4.9 .6-1.6 .4 2 .4 6.1 .6 1.6 .4-2.6 .4-10.8 .8-1.8 .4 9.6 1.2 1.3 .4-2.2 1.2-.2 .7 .3 1 2.1 1.2 0 .4-3.1 1.4-1.4 1.2-.4 1 .9 1.8-2.2 1.6 1.4 .6 5.9 1 .9 .4-1 .4-5.7 1.2-.2 .4 1.7 1.4-.5 1.4-.9 .6-3.8 1.2 1 .4 10.4 1.2-1.5 .4-10.2 .9-2.3 .4 1.7 .4 7.7 .8 1.5 .4-.5 .4-3.2 1.2-2.6 2.8 .5 .6 2.3 .8 .5 .4-5.1 1.4 .5 .4 4.8 1 .9 .4-.1 .4-1 .8-.1 1.4-1.2 .8-.2 .4 3.6 1.4-.5 .4-3.3 .8-.8 .4 3.2 1.6-1.4 1.3-.1 .4 .1 .4 1.4 .8 .3 .6-1.1 1-.8 1.8 .1 .4 2 1 .2 .4-4.7 1.4 .8 .4 6.7 .8 1.7 .4-2 .4-8.6 .8-1.1 .2-.1 .2 7.2 1.2-.1 .2-3.8 1 6.6 1.4-5.4 1-1.1 .4 1.3 1-1.3 .8-.1 .4 3.5 1.2 .7 .7-.9 .8-3.8 1.8 1.7 .6 5.6 1 0 .2-.6 .2-6.2 1.2 2.2 1.2-.2 1 2.5 1 .3 .4-3.7 1.4 .4 .4 1.7 .6 .5 .4-2.4 1-.2 .4 2 .8 .5 .4-.4 .4-2.9 1-.3 .4 2 1.2 .2 1 4 1.2-1.3 .4-7.9 .9-2 .4 1.5 .4 8.2 .8 1.9 .4-.7 .4-4.9 1-.9 .4-.3 .4 .4 .8 .5 .4 5.5 1.4 .6 .4-2.7 .6-6.2 .8-1 .4 1.3 .4 6.6 1 .7 .2 .5 .4-.7 .4-3.6 1-1.5 .8 0 .4 .4 .4 3.8 1.2 .9 .6-.6 .4-3.8 1.2-.7 .6 .1 .4 .7 .4 4.3 1.2 .8 .7-1.7 .6-7.2 1.2-.6 .4 1.4 .4 10.2 1.4 0 .2-.5 .2-7.7 1.2-1 .4-.1 .4 .7 .4 4.6 1.6 .5 .4-.2 .4-2.3 .8M514.8 17.7l0 20.1-.4 10.4-.4 1.9 .4 .6 2.8 1.2-.7 .4-1 .2-8.5 1.2 1 .4 11.5 1 2.5 .4 0 .2-.8 .2-7.9 1-1.4 .4 .3 .4 2.6 1 .5 .6-.3 1.6 .1 8.4-.5 1.9-1.4 2.4-.1 .6 1 .8 4 1.4 .6 .6-.3 .4-3.5 1.8-1.1 3.4-4 1.4 .9 .4 9.6 1.2-1.5 .4-9.7 .8-1.9 .4 2 .4 7.8 .8 1.4 .4-3.2 1.4-.3 1.5-1.9 3.8 .2 .8 2.1 2.2 .2 1.6 .5 1.4-.2 1-.6 .8-.6 .4-3.6 1-.7 .4 1.6 .4 7.9 .8 1.6 .4-2.7 .4-11 .8-1.3 .2-.1 .2 11.2 1.2 1.3 .4-3.2 1.4-.6 3.1-1.6 1.8-.3 .6 1.4 1.6-2.7 1.2 .8 .4 1.4 .2 9.1 1-.1 .2-1.1 .2-10.2 .8-2.6 .4 1.5 .4 7.2 .8 1 .4-3.8 1-1 .6 .4 1.2-.6 1.6 .1 .6 2.1 2.2 2.1 1.5-2.1 1.4-.4 1.6-2.9 2.2 1 .6 2.7 .8 .3 .4-3.5 1-.6 .4 4.4 1.4 .3 .4-.4 .6 .3 .4 3.1 1-7.3 1.2 .1 .2 1 .2 8.5 1-1.5 .4-13.8 1.2 1.2 .4 7.5 .8 1.7 .4 .1 .2-.3 .2-1.6 .8-.1 .6 .6 1.3 2.2 1 .4 .4-.4 .4-2 1-1.6 1.4-.5 1 .5 1.4 0 .4-2.5 1.6 .7 .4 6.7 1.2 .8 .4-6.4 1.6 0 .4 1.6 1 .3 .4-.4 1.2-1.3 .8-3.1 .8-.8 .4 1.4 .4 7.9 .8 2 .4-2.2 .4-10 .8-1.4 .4 9.8 1.3 1 .4-2.5 1.2-.2 .4 .2 .8-.4 .6-3.1 1.6 .4 .4 3.5 1 .3 .2-.2 .2-4.2 1-.6 .4 3.4 1.4 .7 1.2 1.6 1 0 .4-.4 .2-3.3 1-.4 .4 4 1.4-3 1.4 .8 1-1.5 1.6 .8 .7 2.8 1 .4 .4-.9 .6-2.8 .8-.6 .4-.2 .4 1 .8 3.1 1.2 .5 .4-1.2 .6-5.1 .8-1.3 .4 1 .4 10.8 1.2-1.4 .4-9 .8-2.1 .4 5.1 1.2 0 .2-2.4 .8 .1 .2 6.8 1 1.2 .4-8.5 1.2-1.1 .4 0 .2 1.2 .6 1 1 3.6 1.4-.7 .6-2.9 1.3-.7 .8 .1 .4 1.7 .6 4.4 .8 .6 .2 .1 .2-7.5 1.2-1 .4 5.1 1.4 .2 .4-.2 .4 .6 .8-.2 .4-2.8 1-.5 .4 .8 .4 3.7 .8 .6 .4-4.9 1.4 .3 .4 1.6 .6 .5 .6-.8 1 .2 1.4-1.3 1 .8 .4 5.2 1 0 .2-.8 .2-9.5 1.3 1.1 .4 6.5 .8 1.3 .4-.7 .4-2.7 .8-.3 .4 .2 1-.7 .8 .9 .6 4.2 1.2-.7 .4-5.7 1-.9 .4 .9 .4 4.3 1 .5 .4-.3 .4-1.9 1.2-.9 1.8 .1 .4 1.5 .8 .5 .6-2.2 2-.5 .8 .1 .4 2.2 1.2 0 .4-.7 .9 .1 .8-.8 .6-2.8 .8-.5 .4 1.5 .6 6 1.2-.2 .4-.6 .2-4.3 .8-1.7 .6 .3 .4 3.8 1 .7 .4 .1 .2-.5 .4-2.1 1M520.3 17.7l-.1 31.3-.4 2.1 .5 .6 2.7 1.2-1.7 .6-8.5 1.2 1.1 .4 11.5 1 2.4 .4-.1 .2-.8 .2-8 1-1.3 .4 .3 .4 2.5 1 .4 .6-.4 1.6-.1 7.4-.6 2.1-1.1 2.4 0 .6 1 .8 4.2 1.4 .9 .6-.4 .6-2.8 1.2-.8 .6-.3 .6 .2 1.2-.3 .4-4 1.4 1.3 .4 7.3 .8 1.4 .4-2.5 .4-9.8 .8-1 .2 0 .2 8.9 1 1.3 .2 .9 .4-2.8 1.2-.1 1.6-2.4 4.1 .1 .8 1.6 1.8 .5 1.8 .9 1.4 .1 .6-.3 .8-.8 .8-4.4 1.4 1.3 .4 7.8 .8 1.7 .4-2.6 .4-11 .8-1.6 .4 11.2 1.2 1.4 .4-2.7 1.4 .3 3.1-2.2 2.4 .1 .4 .7 .8-.1 .4-2.9 1.2 1.1 .4 9.9 1.2-1.9 .4-10.3 .8-1.9 .4 9.8 1.4-.6 .4-3.5 .8-1 .6 .1 1.2-1.1 1.6 .1 .8 1.7 1.8 2.3 1.2 .3 .4-1.8 1.5 .2 1.2-.3 .6-2.6 1.6-.4 .4 .5 .4 2.6 .8 .5 .4-.8 .4-3.3 .8-.3 .4 4.2 1.4 .2 .4-.2 .6 .5 .4 3.1 .8 0 .2-.8 .2-4.8 .6-1.6 .4 2 .4 6.1 .6 1.5 .4-2.6 .4-11.1 .8-1.9 .4 9.8 1.4 .2 .2-.1 .2-1.7 .8-.2 .6 .7 1.2 2.8 1.3 .4 .4-1.9 1.4-1.7 1.8-.2 .6 .2 1.2-.2 .6-2.5 1.2-.4 .4 1.7 .6 5.7 1 .6 .4-6.1 1.6 .1 .4 1.9 1.2 .1 .6-.4 .8-1 .6-4 1-.6 .4 1.6 .4 7.8 .8 1.1 .2 .1 .2-13.7 1.4 1.2 .4 9.2 1.1 .9 .4-2.7 1.2-.2 .4 .1 1.6-1.8 1.4 .2 .4 1.7 .8 .1 .4-3.8 1-.7 .4 .8 .4 3.5 .8 .6 .4-1.5 1.4 2.1 1.4-.2 .4-.9 .6-.1 .4 1.6 1.2-3.7 1.4 .6 .4 2.7 .8 .2 .4-2.7 1.2-.4 .4 .5 .6 3.3 1.1 .5 .6-3.4 1.6-.6 .4-.1 .4 .7 .6 3.7 1 .5 .4-.9 .4-4.7 .8-.9 .4 1.5 .4 7.7 1-1.3 .4-7.4 .8-1.2 .4 4.5 .8 1.2 .4-4.4 1-.3 .2 .4 .2 8.2 1.2-.1 .2-.7 .2-5.2 .8-1.6 .6-.1 .6-.6 .6 .1 .4 5 1.4 .4 .2 .1 .4-1.2 .6-4.8 1.5-.6 .4 1.7 .6 5.7 .8 1.4 .4-1.2 .4-7.6 1.2 .4 .4 1.8 .8 1.1 1 2.7 1-.2 .4-.6 .2-3.8 .8-.6 .4 4 1.4-2.1 1.2 .3 .4 1.1 .6-.1 .4-2.4 1-.5 .4 .5 .4 2.2 1 .2 .2-.6 .8 .1 .2 3.2 1.2-1.6 .4-7 .8-.9 .2 0 .2 9.8 1.3 .8 .4-5.9 1.2-.8 .6 2.1 1.6 4.2 1.4 .2 .2-.2 .2-7.2 1.2-1.2 .4 1 .4 6.3 1 1.2 .4 0 .2-.7 .4-4.1 1.2-.3 .6 .5 .6 3.7 1.8-.5 .6-2.8 1-.4 .4 .1 .4 .4 .4 3.3 1.8-.5 .6-2.8 1-.3 .5-.1 .4 .9 .6 3.4 1.2 .4 .4-1.1 .4-7 1.2 0 .2 .5 .2 7.9 1.4 .1 .2-.3 .2-3.4 1.2-1.5 1-.2 .2 .7 1.4M525.8 17.7l-.2 32.6-.4 1.8 .5 .6 2.8 1.2-1.9 .6-8.5 1.2 1.2 .4 11.5 1 2.3 .4-1 .4-8 1-.9 .2-.4 .4 2.8 1.2 .4 .6-.4 1.8 .5 6.2-1.4 5.3 .8 .8 4.7 1.6 .6 .6-.9 .6-3.4 1.4-.8 1.4-3.3 1-.4 .2 0 .2 9.5 1.4-1.6 .4-10.1 .8-2.2 .4 1.7 .4 7.8 .8 1.6 .4-.1 .2-2.6 1.2 .3 1.2-.1 .6-1.1 1.9-1.4 1.8-.2 .6 .2 .8 1.3 1.6 .7 1.4 1.7 1.8 .2 1.4-1 .8-3.9 1.2 1.3 .4 7.6 .8 1.8 .4-2.5 .4-11.3 .8-1.9 .4 10.9 1.2 1.6 .4-2.7 1.4 .7 3.1-.5 .8-1.8 1.6 .4 1.4-3.2 1.4 1.5 .4 7.9 .8 1.5 .4-13.7 1.4 .1 .2 1.1 .2 7.6 .8 1.4 .4-4.6 1.4-.3 .4 .1 1.2-1.6 1.8 0 .8 1.2 1.4 2.7 1.4 .3 .4-1.5 1.2 .6 1.5-.3 .6-2.7 1.6-.2 .4 .6 .4 2.4 .8 .2 .2-.1 .2-4.6 1.4 .5 .4 3.3 1 .5 .4-.2 .6 .5 .4 3.7 1-1.4 .4-4.7 .6-.8 .2 .1 .2 9.6 1.2-1.6 .4-14 1.2 0 .2 1 .2 6.9 .8 1.4 .4-.4 .4-1.8 .8-.1 .6 .8 1.2 2.8 1.2 .4 .5-1.4 1.2-1.6 2-.2 .6-.1 1.6-.9 .6-2.2 .8-.4 .4 1.7 .6 5.6 1 .4 .2 0 .2-5.6 1.4-.2 .2 .2 .4 2.1 1.2 .1 .6-.3 .8-1 .6-4.2 1-.5 .2 .1 .2 10.2 1.4-1.6 .4-10.1 .8-2.2 .4 1.9 .4 7.8 .8 1.7 .4-.2 .5-1.3 .8 .4 1.2-.1 .6-1.8 1.6 .3 .4 3.3 1.2-.7 .4-5.6 1-.5 .4 4.4 1.2 .7 .4 .2 1.8-.2 .4-2.2 1.4 .5 .4 3.8 1.2-.8 .4-4 .8-1 .4 .4 .4 1.5 .8 .2 .4-.4 1.2 .6 .8 1.3 1-.4 .7-1.4 .8 .1 .8 1 1.4 1.5 .8 .2 .4-.5 .4-3.6 .8-.9 .4 1.1 .4 9.5 1.2-1.9 .4-9.2 .8-1.8 .4 7 1.2 .2 .2-.4 .2-2.6 .8 6.4 1.4-6.9 1.2-1 .4 .1 .2 1.2 .6 .7 1.2 1.9 1.4-.6 1-2.7 1.7-.2 .4 .9 .4 3.9 .8 .7 .4-5.8 1.2-.5 .4 2.4 .8 .6 .4-1 1 1.5 1 .2 .4-2.2 1.2 2.9 1.4-3.5 1-.6 .4 4 1.4-.2 .4-2.7 1.2-.1 .8 .5 1 1.2 .6 4.2 .8 .8 .4-2.2 .4-8.6 .8-1.4 .4 2 .4 7.8 .8 1.4 .5-.6 .4-3.7 1-.9 .6-1 1.2 1.3 .6 5.3 1 .7 .4-1.4 .4-7.4 1-.8 .4 6.5 1.4 1.1 .6-.5 .6-3.4 1.4-1.1 .8 .2 .4 .7 .4 2.7 .8 .7 .6-.5 .4-3.9 1.4-.6 .6 1 .8 2.8 .8 .7 .6-.5 .4-3.6 1.2-.7 .5-.2 .4 1.1 .8 4 1.2 .4 .4 0 .2-2.5 .8-5.5 1-1 .4 2.3 .6 10.1 1.2 .2 .2-.5 .2-7.2 1-2.3 .6-.1 .2 .5 .4 3.1 .8M531.3 17.7l.2 33.4-.5 2 .6 .6 2.6 1.2-1.8 .6-8.5 1.2 1.3 .4 11.5 1 2.1 .4-1 .4-6.7 .8-2.6 .6 .4 .4 2.5 1 .4 .6-.4 1.6 .5 5.2-1.4 5.1 .1 .8 1 .8 4.1 1.4 .6 .6-.7 .6-3.9 1.6-4.4 1.4 1.1 .4 7.1 .8 1.3 .4-2.5 .4-10.3 .8-1.2 .2-.1 .2 10 1.2 1 .4-2.3 1.2 0 .4 .8 1 .1 .8-.6 1.7-1.6 2-.2 .8 1.4 3.4 2.1 2.2 0 1.2-.7 .6-4 1.2 1.1 .4 7.4 .8 1.8 .4-2.4 .4-11.6 .8-2.2 .4 2.2 .4 8.3 .8 1.6 .4 0 .2-2.7 1.2 1.1 3.1-.4 .8-1.9 1.6 0 1.4-3 1-.5 .2 .1 .2 10.5 1.4-.1 .2-1.2 .2-10 .8-2.3 .4 1.9 .4 7.8 .8 1.2 .4-4.5 1.4-.2 .4 .2 .8-.1 .4-1.9 1.6-.4 .6 .2 .8 .6 1 2.8 1.6-1.5 1.4 .8 1.3-.1 .8-3 1.8 .3 .4 2.2 .8 .4 .4-.9 .4-3.6 .8-.6 .4 3.8 1.4 .6 1.2 3.4 .8 .9 .4-6.4 1.2 8.4 1 1.7 .4-2.5 .4-10.9 .8-2 .4 9 1.4 .1 .2-.3 .2-2 .8-.3 .6 .9 1.4 3 1.2 .3 .4-.9 1.1-1.2 2.4 0 1.6-.2 .4-3.3 1.4-.3 .4 .9 .4 5.6 1 1.1 .4-.7 .4-4.3 1-.5 .4 2.9 1.6 .3 .8-.3 .8-5.4 1.6 1 .4 7.2 .8 1.6 .4-2.4 .4-10.4 .8-1.6 .4 9.6 1.2 1.2 .4-2 1.3 .1 .4 .8 1 0 .6-2.1 1.6 .3 .4 2.2 .8 .2 .2-.1 .2-5.3 1.4 .4 .4 2.3 .8 .3 .4-.5 .8 .2 .4 2.7 1.4-.2 .4-1.7 .8-.2 .4 2.5 1.2-.5 .4-2.3 .8 0 .4 1.9 1-.9 .6-2.1 .8-.2 .4 1 .6 3.2 1 .6 .4-.9 .6-3.3 1.1-.7 .4-.1 .4 .8 .6 4 1.2 .6 .4-.8 .4-6.4 1-.9 .4 1.9 .4 8.1 .8 1.1 .2 0 .2-8.9 1-1.9 .4 4.7 1.2-.2 .2-3.1 .8 0 .2 9.5 1.4-1 .4-7.6 1-1.4 .6 1.3 1 4.5 1.4 .9 .6-.9 .6-4.2 1.4-.6 .4 .1 .4 8 1.7-.8 .4-7.3 1-1 .4 3.9 1.2 .6 .4 .4 .6 1.3 .8-.2 .4-.5 .2-3.2 .8-.7 .4 .8 .4 4.3 1 0 .2-.4 .2-3.3 1 .1 .4 1.4 .8-1.3 1.4 1.2 1 .1 .4-.2 .4-.8 .6 0 .2 4.5 1.2 .1 .2-9.4 1.4 .9 .4 6.6 .8 1.4 .4-.7 .4-3.6 .9-.6 .4 .9 1.2-.4 .8 .2 .2 3.6 1.2 .4 .2-.1 .2-6.2 1.2-.9 .4 .9 .4 4.5 1 .6 .4-.4 .4-2.7 1.4 .7 2.2 1 1-.3 .6-1.2 1 0 2 1.3 1.2-.3 .6-.9 .6-.4 1.6 .1 .7 1.5 1.2-.3 .6-.8 .6 1 1.6-.4 .4-2.8 1-.4 .4 .9 .4 5 1 .9 .4-.9 .4-5.1 1.2-.1 .2 .4 .2 1.5 .4"/></g>
<rect x="393.6" y="17.7" width="148.7" height="251.2" class="bx"/>
<path class="tk" d="M393.6 17.7h2.4M542.3 17.7h-2.4M393.6 67.9h2.4M542.3 67.9h-2.4M393.6 118.2h2.4M542.3 118.2h-2.4M393.6 168.4h2.4M542.3 168.4h-2.4M393.6 218.7h2.4M542.3 218.7h-2.4M393.6 268.9h2.4M542.3 268.9h-2.4M399.1 268.9v-2.4M399.1 17.7v2.4M421.1 268.9v-2.4M421.1 17.7v2.4M443.2 268.9v-2.4M443.2 17.7v2.4M465.2 268.9v-2.4M465.2 17.7v2.4M487.2 268.9v-2.4M487.2 17.7v2.4M509.3 268.9v-2.4M509.3 17.7v2.4M531.3 268.9v-2.4M531.3 17.7v2.4"/>
<text class="tl" x="392.5" y="20.9" text-anchor="end">0</text>
<text class="tl" x="392.5" y="71.1" text-anchor="end">20</text>
<text class="tl" x="392.5" y="121.4" text-anchor="end">40</text>
<text class="tl" x="392.5" y="171.6" text-anchor="end">60</text>
<text class="tl" x="392.5" y="221.9" text-anchor="end">80</text>
<text class="tl" x="392.5" y="272.1" text-anchor="end">100</text>
<text class="tl" x="399.1" y="279.8" text-anchor="middle">0</text>
<text class="tl" x="421.1" y="279.8" text-anchor="middle">6.4</text>
<text class="tl" x="443.2" y="279.8" text-anchor="middle">12.8</text>
<text class="tl" x="465.2" y="279.8" text-anchor="middle">19.2</text>
<text class="tl" x="487.2" y="279.8" text-anchor="middle">25.6</text>
<text class="tl" x="509.3" y="279.8" text-anchor="middle">32</text>
<text class="tl" x="531.3" y="279.8" text-anchor="middle">38.4</text>
<text class="al" x="468.0" y="286.6" text-anchor="middle">Distance(m)</text>
<text class="al" transform="translate(372.3 143.4) rotate(-90)" text-anchor="middle">Time (ms)</text>
<text class="ti" x="465.0" y="12.7" text-anchor="middle">Z-component</text>
<text class="pl" x="464.2" y="299.9" text-anchor="middle">(c)</text>
<text class="an" x="461.3" y="60.0">A</text>
<text class="an" x="446.5" y="88.6">A<tspan dx="-1.3">1</tspan></text>
<text class="an" x="445.4" y="109.2">B</text>
<text class="an" x="454.8" y="130.9">C</text>
<text class="an" x="457.4" y="143.8">D</text>
<text class="an" x="469.0" y="170.1">E</text>
<text class="an" x="472.7" y="192.6">F</text>
<text class="an" x="474.2" y="226.6">G</text>
<path class="ar" d="M460.8 53.5L457.4 45.1M459.6 46.9L457.4 45.1L457.1 47.9M443.8 85.2L441.4 75.3M443.3 77.4L441.4 75.3L440.7 78.0M444.1 105.0L441.5 96.8M443.5 98.7L441.5 96.8L441.0 99.5M454.6 129.2L450.5 119.0M452.7 120.8L450.5 119.0L450.2 121.8M455.6 141.7L453.0 132.6M455.0 134.6L453.0 132.6L452.4 135.3M463.8 170.1L461.9 160.3M463.7 162.5L461.9 160.3L461.0 163.0M468.3 192.6L466.3 183.3M468.1 185.4L466.3 183.3L465.5 186.0M471.3 225.2L468.3 217.3M470.4 219.1L468.3 217.3L467.9 220.1"/>
</svg></body></html>
